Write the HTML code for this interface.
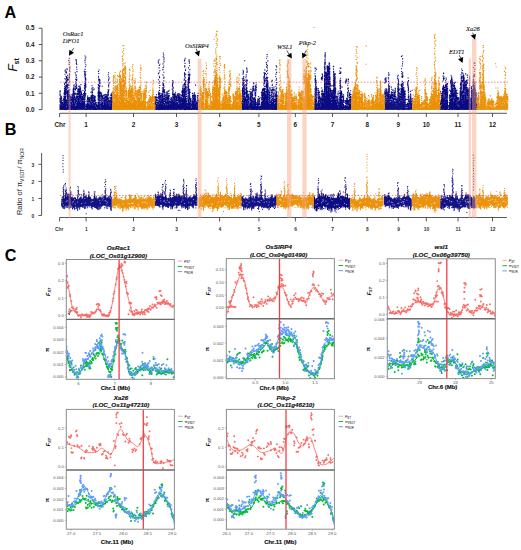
<!DOCTYPE html><html><head><meta charset="utf-8"><style>html,body{margin:0;padding:0;background:#fff;overflow:hidden}svg{display:block}text{font-family:"Liberation Sans",sans-serif}.sf text{font-family:"Liberation Serif",serif;font-style:italic}</style></head><body>
<svg width="521" height="550" viewBox="0 0 521 550">
<rect width="521" height="550" fill="#fff"/>
<text x="4.6" y="17.6" font-size="16.2" font-weight="bold">A</text>
<path stroke="#444" stroke-width="0.9" fill="none" d="M42 28.2V109.6M38.7 28.2H42M38.7 44.5H42M38.7 60.8H42M38.7 77.1H42M38.7 93.3H42M38.7 109.6H42"/>
<text x="34.6" y="30.4" font-size="6.3" font-weight="bold" text-anchor="end" fill="#222">0.5</text>
<text x="34.6" y="46.7" font-size="6.3" font-weight="bold" text-anchor="end" fill="#222">0.4</text>
<text x="34.6" y="63" font-size="6.3" font-weight="bold" text-anchor="end" fill="#222">0.3</text>
<text x="34.6" y="79.3" font-size="6.3" font-weight="bold" text-anchor="end" fill="#222">0.2</text>
<text x="34.6" y="95.5" font-size="6.3" font-weight="bold" text-anchor="end" fill="#222">0.1</text>
<text x="34.6" y="111.8" font-size="6.3" font-weight="bold" text-anchor="end" fill="#222">0.0</text>
<text transform="translate(16.8 71.6) rotate(-90)" font-size="12" font-style="italic" fill="#111">F</text>
<text transform="translate(18.9 64.4) rotate(-90)" font-size="7" font-weight="bold" fill="#111">st</text>
<path stroke="#0a0a82" stroke-width="1.0" d="M60 103.8V110M60.5 104.5V109.8M61 105.1V109.5M61.5 104.2V109.9M62 106.2V109.7M62.5 105.4V109.8M63 107.5V109.6M63.5 103.6V109.8M64 101.2V109.6M64.5 95.9V110M65 102V109.7M65.5 95.9V110.1M66 106.8V109.8M66.5 107.3V110.1M67 98.8V109.8M67.5 103.7V109.6M68 97.7V110M68.5 104.6V109.6M69 103.1V109.7M69.5 103.5V109.7M70 103.2V109.5M70.5 104.9V109.8M71 102.3V109.7M71.5 101.7V110M72 103.5V109.5M72.5 105.3V109.7M73 99V109.9M73.5 97.3V110M74 101.8V109.9M74.5 103.4V109.9M75 104.6V109.5M75.5 106.2V110M76 105.6V110M76.5 104.9V109.9M77 102V109.7M77.5 101.3V109.7M78 101V109.8M78.5 98.2V109.8M79 99.5V109.5M79.5 101.1V109.5M80 101.9V110.1M80.5 102.9V109.5M81 102.2V109.7M81.5 102V109.7M82 103.8V109.9M82.5 101.3V109.9M83 104.6V109.6M83.5 101.4V109.5M84 101V109.5M84.5 101.2V109.8M85 103.9V109.8M85.5 108.2V110M86 108.5V110.1M86.5 108.4V109.9M87 106.3V109.9M87.5 103V109.8M88 105.9V109.9M88.5 103.4V109.7M89 104.1V109.7M89.5 104.3V109.7M90 104.7V109.7M90.5 104.4V109.9M91 101.3V109.8M91.5 102V109.5M92 103.4V109.9M92.5 104.5V109.6M93 103.4V109.9M93.5 105.5V110M94 103.1V109.8M94.5 103V109.9M95 105.8V109.6M95.5 107V110M96 107.3V109.7M96.5 107.8V110M97 108.3V109.6M97.5 108V109.7M98 101.6V109.6M98.5 102V109.6M99 100.3V109.6M99.5 104.3V109.8M100 102.1V109.9M100.5 107.9V109.7M101 101.8V109.9M101.5 102.8V109.5M102 104.9V110M102.5 102V109.8M103 107.4V109.6M103.5 104.9V109.6M104 104.3V109.8M104.5 102.7V109.8M105 104V109.6M105.5 102.7V110M106 101.3V109.9M106.5 104.9V109.7M107 103.9V110M107.5 101.2V109.6M108 105.8V109.8M108.5 104.3V109.8M109 105.8V110M109.5 106V109.9M110 103.2V110M110.5 105.4V110M111 105.2V109.8M111.5 103.7V109.8M112 103.1V109.7M155 105.9V109.9M155.5 105.9V109.7M156 102V109.8M156.5 104V110M157 104.3V109.6M157.5 107.2V109.7M158 106.4V110.1M158.5 105.1V109.9M159 99.7V109.9M159.5 103.9V110.1M160 104.7V110.1M160.5 101.8V109.8M161 103.8V109.6M161.5 103.5V110M162 103.2V109.6M162.5 98.6V109.9M163 102.9V109.8M163.5 105.2V109.8M164 103V109.8M164.5 103V110.1M165 104.7V109.6M165.5 105.9V109.9M166 105.1V109.8M166.5 104.1V109.6M167 101.7V109.8M167.5 105.2V110M168 99.8V110.1M168.5 101.1V109.8M169 101V109.9M169.5 104.5V109.7M170 105.4V109.8M170.5 104.9V109.8M171 105.8V110M171.5 104.7V109.7M172 106.2V109.8M172.5 105.1V109.7M173 101.8V109.5M173.5 101.4V110M174 100.7V109.7M174.5 100.3V109.8M175 105V109.6M175.5 102.6V109.8M176 103.3V109.7M176.5 102.2V110.1M177 103.3V109.7M177.5 102.1V109.7M178 102.6V109.5M178.5 104.3V109.6M179 103.4V109.6M179.5 103.3V109.9M180 104.6V109.8M180.5 103.7V109.9M181 106.1V109.7M181.5 103V109.6M182 97.5V110.1M182.5 98.3V109.5M183 98.9V109.6M183.5 96.6V109.6M184 102.9V109.6M184.5 98.3V110.1M185 97.3V109.9M185.5 96.2V110.1M186 101.2V109.5M186.5 102.5V109.9M187 107.4V109.6M187.5 106.1V109.9M188 95.1V109.8M188.5 98.5V109.9M189 101.1V109.9M189.5 102V110M190 102.5V110M190.5 105.5V109.5M191 106.8V109.9M191.5 107.8V109.9M192 108.1V109.7M192.5 100.2V109.7M193 105.4V109.7M193.5 101.3V109.9M194 102.2V109.8M194.5 104V109.7M195 105.8V110M195.5 102.5V109.7M196 104.8V109.9M196.5 106.6V110M197 106.9V109.6M197.5 101.6V110.1M198 105.6V109.5M242 104.8V109.6M242.5 103.3V109.7M243 98V109.9M243.5 103.3V110M244 102.2V109.8M244.5 98.2V109.7M245 103.8V109.8M245.5 105.5V109.5M246 102.6V109.8M246.5 98.9V109.6M247 100V109.9M247.5 103.5V110M248 102.6V110.1M248.5 105.7V109.6M249 102.8V109.9M249.5 108.5V109.5M250 101.8V109.5M250.5 102.3V109.7M251 103.3V109.6M251.5 100.1V109.9M252 100.5V109.6M252.5 103.4V110M253 105.7V110M253.5 105.5V109.8M254 103.8V110M254.5 102.5V109.8M255 97.4V109.9M255.5 98.8V109.8M256 105.7V110.1M256.5 106V109.9M257 107.9V109.8M257.5 104.2V110M258 106.7V109.8M258.5 106.7V109.5M259 105.6V110.1M259.5 105.9V110M260 108.2V109.7M260.5 108.4V109.9M261 108.2V109.9M261.5 101.7V109.9M262 101.4V109.8M262.5 100.8V109.6M263 96V109.6M263.5 97V109.7M264 101.6V109.6M264.5 97V109.7M265 100.1V110M265.5 101.4V109.7M266 100V109.8M266.5 97.7V109.6M267 99.3V109.8M267.5 96.8V109.7M268 99V109.9M268.5 102.5V109.6M269 102V109.9M269.5 104V109.6M270 97.3V109.8M270.5 107.2V109.6M271 104.8V109.6M271.5 102.2V109.7M272 103.3V109.9M272.5 101.7V110M273 102.2V109.9M273.5 99.3V109.7M274 97.6V109.7M274.5 104.1V109.8M275 103.6V109.9M275.5 102.8V110M276 103.2V110M276.5 99.8V109.9M277 102.8V109.7M314.5 104.3V110M315 102.8V109.6M315.5 97.8V110.1M316 91V109.8M316.5 103.5V109.7M317 107.6V109.7M317.5 107.3V109.9M318 101.3V110M318.5 100.1V109.6M319 105.2V110M319.5 102.9V109.6M320 104.6V109.8M320.5 106.2V109.8M321 103.7V110M321.5 102.1V110M322 102.4V110M322.5 98.9V109.6M323 102V109.9M323.5 103.4V109.8M324 100.9V109.6M324.5 77.9V109.7M325 80.6V109.7M325.5 95.7V109.9M326 92.6V109.8M326.5 85.9V109.9M327 93.5V109.8M327.5 94V109.7M328 92V110.1M328.5 87.3V110M329 87V109.8M329.5 93.1V109.8M330 97.2V109.7M330.5 98.1V109.7M331 103.6V109.7M331.5 102.7V109.9M332 102.8V109.5M332.5 100V110M333 103.5V109.9M333.5 95.7V110M334 99.9V110M334.5 87.4V110.1M335 87.7V109.8M335.5 99.6V109.6M336 102.5V109.8M336.5 101.4V109.9M337 104.4V109.6M337.5 105.2V109.9M338 97.9V109.8M338.5 107.6V109.9M339 106.9V109.6M339.5 104.7V109.9M340 94.8V110.1M340.5 91.6V109.7M341 101.1V109.6M341.5 98.8V109.8M342 99.6V110.1M342.5 106V109.9M343 103.6V110M343.5 104V109.5M344 108.7V109.7M344.5 108.8V109.9M345 107.9V110M345.5 105.1V109.9M346 105.4V109.8M346.5 106.4V109.6M347 105.8V109.6M347.5 105.5V109.6M348 105V109.8M348.5 106.6V110.1M349 105.9V110.1M349.5 103.4V109.6M350 102.9V109.6M350.5 104V109.5M351 102.2V109.7M384.7 100.8V109.5M385.2 102.5V109.7M385.7 103.4V109.9M386.2 100.2V109.6M386.7 101.4V109.7M387.2 103.4V109.9M387.7 100.4V109.9M388.2 99.5V109.7M388.7 94.8V109.8M389.2 102.9V109.6M389.7 100.4V110M390.2 101.9V109.6M390.7 102.2V109.7M391.2 100V109.8M391.7 99.6V109.7M392.2 100.4V109.8M392.7 103.6V109.8M393.2 101.1V109.7M393.7 102.8V110M394.2 101.1V109.6M394.7 101.8V109.6M395.2 101.6V109.7M395.7 103.7V109.8M396.2 103.4V109.8M396.7 106V109.6M397.2 105.9V110M397.7 99.2V109.7M398.2 100.9V110.1M398.7 99.1V109.9M399.2 102.8V109.5M399.7 102.5V110.1M400.2 100.6V109.5M400.7 100.7V109.8M401.2 99.1V109.7M401.7 101.5V109.6M402.2 95.9V109.6M402.7 101.5V110.1M403.2 99.7V110M403.7 95.2V110M404.2 103.9V110M404.7 98.9V109.8M405.2 102.2V109.8M405.7 108V109.5M406.2 107.5V109.8M406.7 108.1V109.7M407.2 107.5V109.7M407.7 107.9V109.7M408.2 102.8V110.1M408.7 103.1V109.9M409.2 104.9V109.6M409.7 106.4V109.7M410.2 99.6V109.8M410.7 102.7V109.5M411.2 106.9V109.6M411.7 104.5V109.6M412.2 105.7V109.8M440.5 106.4V109.8M441 104.4V110M441.5 105.4V109.7M442 105.1V109.7M442.5 96.5V109.8M443 95.3V109.5M443.5 98.2V109.6M444 99.3V109.6M444.5 102.7V109.9M445 99.7V110M445.5 99.7V110M446 98.6V109.6M446.5 98.9V109.9M447 95.8V109.6M447.5 99.7V109.7M448 108.7V109.6M448.5 108.7V109.9M449 108.6V109.8M449.5 102.4V109.9M450 103.6V109.7M450.5 98.9V109.6M451 100.8V110.1M451.5 98.5V109.7M452 101.5V109.9M452.5 97.7V109.9M453 98.8V109.6M453.5 101.8V109.7M454 100.8V109.7M454.5 99V109.7M455 98V110.1M455.5 97.1V109.7M456 103.5V109.8M456.5 102.7V109.9M457 102.9V110M457.5 105.8V109.9M458 104.1V109.7M458.5 106.2V110M459 107.6V110M459.5 106.3V109.7M460 103V110.1M460.5 93.9V109.6M461 99.2V110M461.5 98.6V109.7M462 102V110M462.5 103.8V109.7M463 94.3V110M463.5 94.7V109.5M464 93.5V110.1M464.5 100.4V109.7M465 94V110M465.5 92.1V109.8M466 93.2V109.7M466.5 99.2V109.8M467 98.2V110M467.5 98.9V109.9M468 103.8V109.9M468.5 99.2V109.7M469 96.5V110M469.5 94V109.8M470 104.2V110M470.5 103.2V109.5M471 106.3V109.7M471.5 100.9V109.6M472 99.6V110M472.5 100.8V109.9M473 92.3V110M473.5 90.8V109.5M474 99V110M474.5 96.8V109.7M475 94V109.6M475.5 97.6V110M476 100.1V109.7M476.5 108.4V110"/>
<path stroke="#ea8f06" stroke-width="1.0" d="M112.5 103.2V109.7M113 100.5V110M113.5 101.4V109.7M114 100.5V110.1M114.5 102.5V109.5M115 102.2V109.8M115.5 104.2V109.8M116 104.1V109.9M116.5 102V110.1M117 103V109.9M117.5 98.9V109.8M118 100.1V109.8M118.5 105.2V109.9M119 104.1V109.8M119.5 99.8V109.9M120 92.9V109.8M120.5 101.5V109.9M121 101.2V109.8M121.5 92.4V109.9M122 97.4V109.8M122.5 97.7V110.1M123 95.7V109.6M123.5 98.1V109.7M124 96.8V109.5M124.5 102V109.9M125 107.5V109.5M125.5 102.2V109.7M126 98V109.9M126.5 101.3V109.6M127 106.6V109.5M127.5 104.6V110.1M128 102.6V109.7M128.5 101V109.6M129 100.9V109.8M129.5 98.8V110M130 99.7V110M130.5 101.3V109.8M131 98.5V109.6M131.5 102.8V109.8M132 102.8V109.7M132.5 103V109.7M133 105.4V109.5M133.5 101.7V109.5M134 99.4V109.6M134.5 99.4V110M135 107.1V109.7M135.5 104.1V110.1M136 102.3V109.6M136.5 105.4V109.9M137 100.1V109.5M137.5 103.5V109.8M138 100.1V109.8M138.5 96.8V109.5M139 97.6V110.1M139.5 97.8V110M140 97.3V109.6M140.5 100.8V110M141 101.4V109.7M141.5 101.9V109.7M142 105V110M142.5 105.5V109.8M143 99.5V109.8M143.5 100V110M144 103.3V110.1M144.5 103.6V109.9M145 100.8V110.1M145.5 100.7V109.5M146 108.4V110.1M146.5 108.7V110M147 105.7V109.9M147.5 106.9V109.8M148 105.6V109.8M148.5 104.6V109.9M149 104.3V109.5M149.5 103.7V109.6M150 104.7V109.7M150.5 105.9V110.1M151 103.6V109.6M151.5 105.7V109.5M152 105.7V109.6M152.5 105.4V109.6M153 103.1V109.6M153.5 107.7V109.6M154 103.3V109.6M154.5 105.4V110.1M155 102.6V109.7M198.5 106.5V109.9M199 105.2V109.7M199.5 103.9V109.6M200 97.1V110M200.5 96.7V109.8M201 103.2V109.6M201.5 97.7V109.6M202 101.6V109.6M202.5 101.2V109.9M203 100.9V109.7M203.5 101V109.8M204 102.9V109.7M204.5 108.1V109.6M205 108.5V109.9M205.5 98.6V110.1M206 96.8V109.8M206.5 99.5V109.7M207 98.8V109.5M207.5 104.6V109.6M208 102.3V109.6M208.5 107.9V109.7M209 108.1V109.5M209.5 108V109.9M210 103.2V109.6M210.5 104.8V109.6M211 105.4V110M211.5 106.2V109.6M212 106V109.6M212.5 102V109.8M213 100.5V110.1M213.5 101.5V109.7M214 100.7V110M214.5 98.9V109.6M215 90.2V109.7M215.5 93.2V110M216 92.1V110M216.5 87.8V110M217 99.9V110.1M217.5 98.2V109.6M218 98.5V109.7M218.5 102.4V110.1M219 101.4V109.9M219.5 91.3V109.6M220 100.1V109.9M220.5 107.8V109.7M221 107V109.6M221.5 107.6V109.6M222 105.8V109.8M222.5 102.5V109.6M223 102.9V109.9M223.5 102.7V109.8M224 104V110M224.5 101.9V109.6M225 99V109.7M225.5 101V109.6M226 102.7V109.5M226.5 103.8V110M227 99.4V110M227.5 104V109.5M228 105.7V109.7M228.5 103V109.6M229 98.9V110M229.5 103.6V109.8M230 104.8V109.7M230.5 103.9V109.6M231 107.9V109.8M231.5 106.9V109.8M232 107V109.8M232.5 107.4V110M233 101.7V109.8M233.5 100.5V109.6M234 104.8V109.6M234.5 106V109.6M235 105.7V109.6M235.5 104.1V109.5M236 104.2V109.5M236.5 101.7V110M237 104.7V109.9M237.5 102.2V109.7M238 107.3V109.9M238.5 104.8V109.7M239 101.3V110M239.5 103.6V109.8M240 100.4V109.8M240.5 102.7V109.9M241 103V109.7M241.5 101.6V110.1M277.5 105.4V110M278 104V109.6M278.5 103.3V109.7M279 106.7V109.7M279.5 107.1V109.8M280 105.5V109.9M280.5 103.5V109.8M281 103.3V109.8M281.5 104.5V109.6M282 103.7V110M282.5 99.9V109.8M283 105.4V110.1M283.5 104.8V109.8M284 104.7V109.9M284.5 107.2V109.7M285 108.4V109.7M285.5 100.4V110M286 103.7V110M286.5 100.3V109.9M287 99.6V109.6M287.5 101.5V109.7M288 104.2V109.5M288.5 93V110M289 100.1V109.9M289.5 99.8V110.1M290 99.4V109.6M290.5 104.9V109.7M291 101.5V109.6M291.5 99.8V109.8M292 102.4V109.8M292.5 102.6V109.9M293 105.3V109.8M293.5 102.6V110M294 101V109.9M294.5 102.2V109.7M295 108.8V109.9M295.5 102.2V109.7M296 102.2V109.9M296.5 104.3V109.6M297 109V109.7M297.5 108.7V109.8M298 105.2V109.6M298.5 104.2V109.6M299 105.1V109.8M299.5 104.6V109.5M300 101.4V109.8M300.5 101.3V110.1M301 102.4V109.7M301.5 101.3V110M302 102.5V110M302.5 104.3V110M303 103.1V109.6M303.5 106.8V110M304 104.2V110M304.5 102.3V109.8M305 95.8V110.1M305.5 98.9V109.8M306 90.6V110M306.5 86.7V109.9M307 99.5V109.8M307.5 96.3V110M308 94.7V109.8M308.5 84.8V109.6M309 86.4V109.7M309.5 96.3V109.8M310 94.6V110M310.5 96.7V109.9M311 99.2V110.1M311.5 102.9V109.8M312 105.8V109.6M312.5 105.6V109.7M313 106.1V110M313.5 107.1V109.8M314 104.6V110M351.5 104V109.8M352 101.9V109.8M352.5 104.7V109.9M353 103.6V109.9M353.5 103.2V109.8M354 103.7V109.8M354.5 100.3V109.9M355 93.1V109.6M355.5 92.3V110.1M356 102V109.7M356.5 96.2V109.9M357 101.9V109.8M357.5 102.3V110.1M358 100.2V109.9M358.5 103.8V109.6M359 102.5V109.6M359.5 98V109.9M360 102.5V109.6M360.5 106.1V109.6M361 103.9V109.7M361.5 100.1V109.8M362 102.1V109.6M362.5 100.3V109.7M363 107.2V109.5M363.5 106.7V109.6M364 106.8V109.9M364.5 102.7V109.8M365 102.9V109.9M365.5 106.4V109.5M366 106.1V109.7M366.5 107V109.7M367 107V109.7M367.5 108.3V110.1M368 106.9V110.1M368.5 106.2V109.6M369 106.3V109.6M369.5 107.3V109.5M370 108.5V109.8M370.5 107.8V109.7M371 105.2V110M371.5 105.6V109.8M372 105.6V109.8M372.5 103.8V109.5M373 100.5V109.9M373.5 104.2V109.7M374 106.3V109.7M374.5 107.2V109.6M375 107.6V109.9M375.5 103.8V109.6M376 105.2V109.5M376.5 102.8V109.8M377 101.7V110.1M377.5 101.7V110M378 96.3V109.5M378.5 103.2V109.6M379 104.3V110M379.5 100.8V109.8M380 101V110M380.5 93.3V110M381 99.5V109.8M381.5 102.4V109.9M382 102.8V109.6M382.5 103.6V110M383 103.3V109.9M383.5 104.6V109.9M384 101.3V109.9M384.5 103.7V109.5M412.5 105.3V109.8M413 105V109.8M413.5 106.8V109.9M414 108.2V109.7M414.5 103.6V110M415 105.3V110.1M415.5 101V109.6M416 99.8V109.8M416.5 104.1V109.5M417 103.5V110M417.5 100.7V109.9M418 105.1V109.8M418.5 102V109.8M419 103.1V109.5M419.5 101.3V110M420 107.4V109.7M420.5 108.1V109.8M421 108.3V109.8M421.5 102.3V109.7M422 107.5V110.1M422.5 106.8V109.7M423 107.2V109.6M423.5 106.3V109.7M424 106.1V110.1M424.5 106.3V109.8M425 100.9V110.1M425.5 99.4V110M426 101.7V110M426.5 101.5V109.8M427 102.2V109.8M427.5 102.9V109.7M428 107.2V109.9M428.5 107.1V109.8M429 108.1V109.8M429.5 104.4V109.7M430 105.4V109.9M430.5 105.1V109.9M431 103.9V109.5M431.5 98.6V109.8M432 104.2V110M432.5 100.8V109.8M433 99.9V109.9M433.5 97.5V109.9M434 98.9V109.9M434.5 91.4V109.9M435 93.1V109.8M435.5 100.9V109.8M436 94.7V109.9M436.5 101.8V109.5M437 106.3V109.5M437.5 105.3V109.6M438 101V109.5M438.5 95.9V109.6M439 98.8V109.6M439.5 104.2V109.9M440 103.9V109.6M476.7 104.4V109.7M477.2 104.6V110M477.7 106.7V109.8M478.2 102.5V109.9M478.7 101.7V109.7M479.2 108.9V109.8M479.7 108.2V109.7M480.2 95.2V109.6M480.7 100.5V110.1M481.2 103.6V109.8M481.7 94.9V109.8M482.2 102V109.7M482.7 103.3V110M483.2 95.7V109.7M483.7 95.3V109.9M484.2 99.7V109.9M484.7 99.3V109.8M485.2 103.9V109.6M485.7 105.8V109.6M486.2 108.3V110.1M486.7 108.7V110M487.2 105.7V110M487.7 107.6V109.8M488.2 107.4V109.6M488.7 104.1V109.9M489.2 106.7V110M489.7 105.6V109.5M490.2 105.7V110.1M490.7 106.9V109.9M491.2 106.4V109.7M491.7 107.3V109.8M492.2 106.9V109.8M492.7 107.3V109.8M493.2 106.2V109.8M493.7 107.7V109.7M494.2 109V109.9M494.7 109.2V109.6M495.2 108.9V110M495.7 107V110M496.2 105.8V109.9M496.7 104.9V109.7M497.2 105.5V109.8M497.7 105.7V110M498.2 104.5V109.5M498.7 101.3V109.6M499.2 102.2V109.9M499.7 103.6V109.6M500.2 102.7V110M500.7 104.9V109.5M501.2 105.9V110M501.7 105.9V109.8M502.2 104.1V109.7M502.7 104.5V109.6M503.2 105.6V109.8M503.7 102.4V109.7M504.2 103.5V109.5M504.7 104.4V110M505.2 99.4V110.1M505.7 103V109.9M506.2 101V109.9M506.7 101.6V109.5M507.2 102.9V109.7M507.7 103.2V109.9"/>
<path stroke="#0a0a82" stroke-width="1.1" d="M59.7 102.3h1.1M59.4 101.2h1.1M59.5 99.9h1.1M59.4 98.5h1.1M59.7 97h1.1M59.6 95.4h1.1M59.6 94.6h1.1M59.5 93.7h1.1M59.4 92.2h1.1M59.6 90.9h1.1M59.7 91h1.1M59.6 91.4h1.1M60.1 103.1h1.1M60 101.4h1.1M60 99.5h1.1M60.5 103.7h1.1M60.6 102.4h1.1M60.6 101.5h1.1M60.5 100.5h1.1M60.5 98.6h1.1M60.4 96.6h1.1M60.7 96.4h1.1M60.6 97.6h1.1M61.2 102.8h1.1M61 100.9h1.1M60.9 99.3h1.1M61.1 97.7h1.1M61 98.2h1.1M61.5 104.8h1.1M61.6 103.7h1.1M61.7 102.4h1.1M61.5 102.8h1.1M62.2 103.6h1.1M62 102.5h1.1M62 100.2h1.1M62.6 106.5h1.1M62.6 105.7h1.1M62.5 104.7h1.1M62.6 103.7h1.1M62.5 102.2h1.1M63.1 101.7h1.1M63 100.2h1.1M63 98.9h1.1M62.9 99.8h1.1M63.6 100.2h1.1M63.7 98.8h1.1M63.4 97.2h1.1M63.5 96.2h1.1M63.7 94.6h1.1M63.5 93.1h1.1M64 94.5h1.1M63.9 93.6h1.1M64 92.4h1.1M63.9 90.6h1.1M64.2 89.8h1.1M63.9 88.4h1.1M64.2 83.4h1.1M64.1 88.4h1.1M64.6 100.5h1.1M64.6 99h1.1M64.6 97.2h1.1M64.5 96.2h1.1M64.6 94.9h1.1M64.5 93.9h1.1M64.7 92.2h1.1M64.5 90.5h1.1M64.6 89.4h1.1M64.7 88.1h1.1M65 94.7h1.1M65 93.6h1.1M65.1 92.6h1.1M65.2 90.7h1.1M65.1 89.3h1.1M64.9 87.5h1.1M65.5 105h1.1M65.7 103.3h1.1M65.5 102h1.1M65.6 100h1.1M66 105.8h1.1M66.1 104.2h1.1M66 102.7h1.1M65.9 100.8h1.1M65.9 101.4h1.1M66.1 93.3h1.1M66.5 97h1.1M66.5 95.9h1.1M66.6 94.8h1.1M66.5 93.7h1.1M66.7 92.7h1.1M66.5 91.5h1.1M66.6 88.3h1.1M66.7 88.1h1.1M67.2 102.3h1.1M67.1 100.6h1.1M66.9 98.8h1.1M67.1 97.9h1.1M66.9 96.9h1.1M67.1 95.3h1.1M67.1 93.9h1.1M66.9 92.1h1.1M67.6 96.4h1.1M67.6 95h1.1M67.5 93.3h1.1M67.5 91.9h1.1M67.6 90h1.1M67.7 84.9h1.1M67.9 103.2h1.1M67.9 102.2h1.1M68.1 100.6h1.1M67.9 98.7h1.1M68.1 97h1.1M68.2 96h1.1M68 94.1h1.1M68.6 101.1h1.1M68.5 100.1h1.1M68.5 98.7h1.1M68.5 97.6h1.1M68.4 96h1.1M68.5 94.5h1.1M69.2 102.4h1.1M69.2 101.4h1.1M69.2 100.4h1.1M69 99.5h1.1M69 97.6h1.1M69.1 95.9h1.1M69.1 95.9h1.1M69.4 101.9h1.1M69.6 100h1.1M69.4 98.2h1.1M69.4 96.4h1.1M70.2 103.4h1.1M69.9 102.3h1.1M70 100.8h1.1M69.9 99.9h1.1M70 99.1h1.1M70 97.9h1.1M70.4 100.3h1.1M70.6 99.5h1.1M70.6 97.5h1.1M70.5 96.4h1.1M70.6 94.8h1.1M71 100.5h1.1M71 99.4h1.1M71.1 97.6h1.1M71.5 101.7h1.1M71.6 100.8h1.1M71.6 99.5h1.1M71.6 97.6h1.1M71.4 98h1.1M72 104.1h1.1M72 102.1h1.1M72.2 101.3h1.1M72 100.2h1.1M71.9 99h1.1M72.1 97.9h1.1M72.1 96.8h1.1M72.1 95.9h1.1M72.1 94.9h1.1M72 94.9h1.1M72.5 97.1h1.1M72.7 95.9h1.1M72.6 95h1.1M72.4 93.4h1.1M72.7 91.6h1.1M72.6 90h1.1M72.6 90.5h1.1M72.7 89.2h1.1M73.2 95.8h1.1M73.1 94.2h1.1M72.9 93.1h1.1M73 92.2h1.1M73.2 91.2h1.1M73.1 89.8h1.1M73.1 88.2h1.1M73 88.7h1.1M73.5 100.1h1.1M73.5 99.2h1.1M73.5 97.5h1.1M73.7 95.9h1.1M73.5 94.5h1.1M73.6 93.1h1.1M73.6 91.4h1.1M73.4 89.8h1.1M73.5 88.8h1.1M73.5 87.1h1.1M73.4 85.6h1.1M73.5 84.8h1.1M74.1 102h1.1M74.1 100.1h1.1M73.9 98.9h1.1M74 97.5h1.1M74.1 96.6h1.1M74.2 94.6h1.1M74.2 93.4h1.1M74.5 102.9h1.1M74.6 101.6h1.1M74.5 100.1h1.1M74.5 99.1h1.1M74.7 97.7h1.1M74.4 96.5h1.1M74.6 94.5h1.1M74.6 93.2h1.1M74.5 93.1h1.1M75.1 104.3h1.1M75 102.5h1.1M75 101.2h1.1M75.1 99.2h1.1M75.2 93.3h1.1M75.6 104.8h1.1M75.4 103.2h1.1M75.5 101.2h1.1M75.6 100.1h1.1M75.5 98.3h1.1M76 103.2h1.1M76.1 101.5h1.1M75.9 100.4h1.1M75.9 98.5h1.1M76 97.1h1.1M76.1 96h1.1M76 94h1.1M76.5 100.7h1.1M76.5 99.7h1.1M76.5 97.8h1.1M76.7 96.8h1.1M76.5 94.8h1.1M76.5 93.8h1.1M77 99.6h1.1M77.2 98.7h1.1M77.1 97.5h1.1M77 96.4h1.1M77 94.7h1.1M77 93.2h1.1M77.1 91.6h1.1M77.2 89.9h1.1M77.7 99.3h1.1M77.5 98.3h1.1M77.6 96.6h1.1M77.5 94.6h1.1M77.7 93.8h1.1M77.6 91.8h1.1M77.5 90.5h1.1M77.5 88.7h1.1M78.1 96.3h1.1M78.1 94.7h1.1M78.1 93.3h1.1M78.1 92.5h1.1M78.2 91.4h1.1M78 89.8h1.1M78 88.9h1.1M77.9 86.2h1.1M78.5 98h1.1M78.6 96.9h1.1M78.5 96.1h1.1M78.7 94.8h1.1M78.7 93.2h1.1M78.5 91.8h1.1M78.7 90.7h1.1M78.5 89.1h1.1M79 99.8h1.1M79.1 98.4h1.1M79 96.8h1.1M78.9 95.5h1.1M79.2 94.3h1.1M79 93.5h1.1M79.1 92.4h1.1M79 91.4h1.1M79.2 90.3h1.1M79.1 89.3h1.1M79.2 87.8h1.1M79.2 86.4h1.1M79.5 100.6h1.1M79.4 98.6h1.1M79.4 97.8h1.1M79.7 96.5h1.1M79.6 94.6h1.1M79.7 92.7h1.1M79.5 91.5h1.1M79.6 89.5h1.1M79.6 88.7h1.1M79.5 87.4h1.1M79.4 86.1h1.1M80.2 101.6h1.1M80.1 100.1h1.1M80.1 98.8h1.1M80.1 97.7h1.1M80.1 96.8h1.1M80.1 95.7h1.1M80 94.4h1.1M80 92.7h1.1M80 91.1h1.1M80 89.6h1.1M80 88.3h1.1M80.4 100.2h1.1M80.6 98.5h1.1M80.5 96.6h1.1M80.6 94.9h1.1M80.7 93.2h1.1M80.6 92.3h1.1M80.6 91.4h1.1M80.5 84.5h1.1M81.2 100.7h1.1M81.1 99.6h1.1M81.1 98h1.1M81.1 96.2h1.1M81 95h1.1M81.1 93.8h1.1M81 92.9h1.1M81.4 102.4h1.1M81.4 101h1.1M81.6 100.2h1.1M81.5 99.1h1.1M81.7 97.1h1.1M81.9 99.7h1.1M82 97.9h1.1M82 96.5h1.1M82 94.8h1.1M82.7 103.4h1.1M82.4 102.4h1.1M82.5 101.3h1.1M82.6 99.9h1.1M82.5 99h1.1M82.4 98.1h1.1M82.5 96.3h1.1M82.4 90.5h1.1M83 99.6h1.1M83.1 98.7h1.1M83.1 97.7h1.1M83.1 96h1.1M83.1 95.2h1.1M83 93.5h1.1M83.6 99.1h1.1M83.5 97.3h1.1M83.6 96h1.1M83.4 95.1h1.1M83.5 93.7h1.1M83.5 94.2h1.1M83.9 100.3h1.1M84 98.7h1.1M84 97.5h1.1M84 95.6h1.1M84 94.1h1.1M84.2 92.8h1.1M84 91.5h1.1M84.4 103h1.1M84.5 101.5h1.1M84.4 99.7h1.1M84.4 98.9h1.1M84.5 97.1h1.1M84.7 95.6h1.1M84.5 93.9h1.1M84.4 92.7h1.1M85 106.4h1.1M85.7 107.6h1.1M85.7 106.3h1.1M85.7 104.2h1.1M85.7 104.6h1.1M86 107.4h1.1M85.9 105.9h1.1M86 106.8h1.1M86.2 106.8h1.1M86.5 105.1h1.1M86.6 103.3h1.1M86.5 101.7h1.1M86.5 100.6h1.1M86.5 100.2h1.1M87.2 101.3h1.1M87 99.5h1.1M87 98.6h1.1M87.1 97.4h1.1M87.1 96h1.1M87.6 104.2h1.1M87.4 102.8h1.1M87.5 101.4h1.1M87.4 99.5h1.1M87.7 97.6h1.1M88.1 101.6h1.1M88 100h1.1M88.1 98.2h1.1M88.2 98.8h1.1M88.6 103.2h1.1M88.5 101.3h1.1M88.6 100.1h1.1M88.4 99.4h1.1M89 103.2h1.1M89.1 101.9h1.1M89.1 100.8h1.1M89.2 99.9h1.1M89 98h1.1M89.2 97.6h1.1M89.2 99.4h1.1M89.5 103.2h1.1M89.5 101.5h1.1M90.1 103.3h1.1M90.2 102.1h1.1M90.2 100.2h1.1M90.1 98.5h1.1M90.5 100.3h1.1M90.4 98.7h1.1M90.5 97.9h1.1M90.5 97h1.1M90.6 95.9h1.1M90.5 96.2h1.1M90.4 92.3h1.1M91 100.4h1.1M90.9 99.5h1.1M91 97.9h1.1M91.2 96.1h1.1M91.6 102.2h1.1M91.7 100.9h1.1M91.5 99.2h1.1M91.4 97.3h1.1M91.4 97.3h1.1M91.7 97h1.1M92.1 103h1.1M92.1 101.4h1.1M92 100.4h1.1M91.9 99.3h1.1M92.1 97.4h1.1M91.9 95.7h1.1M92 92.5h1.1M92.4 102.4h1.1M92.4 101.3h1.1M92.6 100.1h1.1M92.7 98.5h1.1M92.5 96.8h1.1M92.5 95.3h1.1M92.5 87.8h1.1M92.7 90h1.1M93.2 104.5h1.1M93 103.5h1.1M93 102h1.1M93.2 100.1h1.1M93.2 98.2h1.1M93.2 96.9h1.1M93.2 95.5h1.1M93.5 101.6h1.1M93.6 100.6h1.1M93.7 99.7h1.1M93.4 98.7h1.1M93.7 97.8h1.1M93.6 89.1h1.1M94.1 101.4h1.1M94.1 100.5h1.1M94.1 99.3h1.1M94.2 97.5h1.1M94.2 96.6h1.1M93.9 97h1.1M94.6 104h1.1M94.6 102.4h1.1M94.5 100.9h1.1M94.4 99.9h1.1M94.5 98.2h1.1M94.5 97h1.1M94.5 96.2h1.1M94.7 96.9h1.1M95 106.2h1.1M95.1 104.8h1.1M95.1 103.6h1.1M95.1 102.6h1.1M95.1 100.4h1.1M95.5 105.9h1.1M95.4 104.2h1.1M95.5 102.9h1.1M96 106.4h1.1M96 104.6h1.1M96 102.7h1.1M96.6 107.4h1.1M96.6 105.7h1.1M96.5 105.9h1.1M97.2 107.1h1.1M97 106.2h1.1M97.1 105.6h1.1M97.6 100h1.1M97.6 99.1h1.1M97.7 97.7h1.1M97.6 96.3h1.1M97.5 95.2h1.1M97.5 93.5h1.1M98 100.1h1.1M98 99.1h1.1M98.2 97.5h1.1M97.9 96.5h1.1M98 95.4h1.1M97.9 93.9h1.1M98 92.8h1.1M98.4 99.3h1.1M98.5 98.3h1.1M98.5 97.2h1.1M98.7 96.2h1.1M98.7 95.1h1.1M98.4 93.7h1.1M98.5 91.9h1.1M99 102.7h1.1M99.2 101.1h1.1M99.1 99.7h1.1M99 98h1.1M99.1 97h1.1M99.1 95.1h1.1M99.2 93.5h1.1M99.6 100.9h1.1M99.5 100h1.1M99.6 98.3h1.1M99.5 96.7h1.1M99.5 95.4h1.1M99.5 93.9h1.1M99.7 92.2h1.1M99.9 106h1.1M99.9 104.5h1.1M100.6 100.2h1.1M100.5 98.8h1.1M100.5 96.9h1.1M100.5 95.2h1.1M100.4 93.5h1.1M100.4 92.6h1.1M100.5 92.8h1.1M101.1 101.5h1.1M101 100.3h1.1M101.1 99.2h1.1M101.1 97.3h1.1M101.1 96.3h1.1M101 95h1.1M101.1 94h1.1M101.6 103.3h1.1M101.5 101.5h1.1M101.6 99.5h1.1M101.6 98h1.1M101.6 96.6h1.1M101.6 95.5h1.1M101.6 86.2h1.1M102 100.3h1.1M102 98.7h1.1M102.1 97.3h1.1M102.2 96.4h1.1M102.7 106.2h1.1M102.5 104.7h1.1M102.4 105h1.1M102.6 97.8h1.1M103 103.1h1.1M103.1 101.8h1.1M103.1 100.3h1.1M102.9 98.3h1.1M103.2 95.6h1.1M103.1 98.8h1.1M103.7 102.9h1.1M103.5 101.5h1.1M103.4 100.4h1.1M103.4 99h1.1M103.6 94.6h1.1M104.2 101.9h1.1M104.1 100.5h1.1M104.2 98.9h1.1M104 97.7h1.1M104.4 102.4h1.1M104.6 101.6h1.1M104.6 99.6h1.1M104.5 98.7h1.1M104.4 97h1.1M104.5 95.9h1.1M105 100.8h1.1M105 99.6h1.1M105 98.8h1.1M105 97.5h1.1M105.2 96.3h1.1M105 94.5h1.1M105.5 100.1h1.1M105.6 99h1.1M105.6 97.4h1.1M105.6 96.6h1.1M105.6 94.7h1.1M106.1 104.1h1.1M106.1 102.7h1.1M106.1 101.8h1.1M106 100.4h1.1M106.1 99.4h1.1M106.2 97.8h1.1M105.9 96.9h1.1M106.1 95.3h1.1M106.7 103h1.1M106.7 102.2h1.1M106.5 101.2h1.1M106.7 99.6h1.1M106.4 98.5h1.1M106.6 97.7h1.1M106.7 96.2h1.1M106.4 95h1.1M107.2 99.7h1.1M106.9 98.4h1.1M107.1 97.1h1.1M107.2 95.2h1.1M107.1 92.2h1.1M107.7 104.2h1.1M107.5 102.4h1.1M107.5 101.4h1.1M107.6 100.3h1.1M107.6 98.9h1.1M107.5 97h1.1M107.6 95.3h1.1M108.2 103.2h1.1M107.9 101.5h1.1M108.1 100.7h1.1M108 101.2h1.1M107.9 98.2h1.1M108.5 104.9h1.1M108.5 103.4h1.1M108.4 101.8h1.1M108.5 100h1.1M109.1 104.8h1.1M109.1 102.9h1.1M109 101.4h1.1M109.4 102.4h1.1M109.6 100.6h1.1M109.5 98.7h1.1M109.5 97.4h1.1M110 104.6h1.1M110.1 103.3h1.1M110.2 101.5h1.1M110.1 100.6h1.1M110.2 98.9h1.1M110.2 98.5h1.1M110.1 95.1h1.1M110.6 103.9h1.1M110.7 102.2h1.1M110.4 101.1h1.1M110.6 99.8h1.1M110.4 98.1h1.1M111 102.8h1.1M111 101.4h1.1M111 99.6h1.1M111 98.2h1.1M110.9 97.1h1.1M111 95.4h1.1M111 93.8h1.1M110.9 94h1.1M111.5 102.2h1.1M111.5 101.4h1.1M111.4 99.9h1.1M111.7 98.8h1.1M111.6 97.3h1.1M111.7 96.3h1.1M111.4 95.1h1.1M111.7 92.3h1.1M65.4 92.1h1.1M64.1 91.8h1.1M64.2 91.3h1.1M64.8 91.7h1.1M65.4 90.4h1.1M64.9 89.8h1.1M64.2 90.2h1.1M64.8 89h1.1M65 87.7h1.1M64.7 87.4h1.1M65.4 86.4h1.1M64.1 86.2h1.1M65.3 85.6h1.1M64.1 84.5h1.1M65 82.1h1.1M65.4 79.9h1.1M64.3 78.8h1.1M65.4 76.5h1.1M64.5 74.2h1.1M65.1 72.2h1.1M64.5 71h1.1M64.8 70h1.1M65.9 92h1.1M66 91.7h1.1M66.9 91.3h1.1M66.9 91h1.1M67.3 90.7h1.1M67.3 91h1.1M65.9 89.5h1.1M65.8 89.9h1.1M66.8 88.3h1.1M66.3 88.6h1.1M66.8 87.3h1.1M66 86.9h1.1M66.6 86.2h1.1M67.2 86h1.1M65.9 85.3h1.1M67.2 85.2h1.1M66.5 84.6h1.1M67.3 84.2h1.1M65.8 83.3h1.1M66 82.3h1.1M66.2 82h1.1M66.3 81.5h1.1M67.3 80.2h1.1M66.2 80.6h1.1M67 79.6h1.1M67.4 79.1h1.1M66.3 78.4h1.1M65.7 78.8h1.1M66 77.5h1.1M67.3 77.2h1.1M65.9 76.6h1.1M67 75.3h1.1M66 73h1.1M65.8 71.9h1.1M66.5 69.8h1.1M66.5 68.8h1.1M68.4 96.6h1.1M69 95.6h1.1M68.8 94.4h1.1M68.2 93.7h1.1M68.6 92.5h1.1M68.2 91.4h1.1M68.6 90.3h1.1M69.2 89.7h1.1M68.2 87.8h1.1M68.7 85.2h1.1M68.5 82.6h1.1M69.1 81.3h1.1M68.3 79.6h1.1M68.9 77.9h1.1M68.8 76.9h1.1M68.8 75.1h1.1M69 73.9h1.1M69.2 71.4h1.1M69 69.9h1.1M69.1 68.2h1.1M69.2 67.1h1.1M68.7 64.4h1.1M68.8 62.4h1.1M68.2 60.5h1.1M68.8 58.3h1.1M75.1 90h1.1M74.8 89.8h1.1M74.7 88.8h1.1M75.9 88.5h1.1M75.7 88.2h1.1M75.6 88.4h1.1M76.2 87.5h1.1M74.9 86.9h1.1M75.6 86.7h1.1M75.4 86.2h1.1M75.7 86.6h1.1M75.7 85.5h1.1M76.1 84.8h1.1M75.4 83.9h1.1M75.4 83h1.1M75.3 81.8h1.1M75.3 81.8h1.1M76.1 80.5h1.1M76.2 79.4h1.1M75.6 79.8h1.1M75.1 79.3h1.1M75.8 77.5h1.1M75.6 75.9h1.1M75.4 74.8h1.1M74.7 72.9h1.1M76.4 71.6h1.1M76.3 69.2h1.1M76.1 67.1h1.1M76.2 64.5h1.1M75.8 63.4h1.1M75.9 61.9h1.1M75.6 60.4h1.1M75.5 59.6h1.1M84.7 96h1.1M84.6 95.9h1.1M84.2 94.7h1.1M84.8 94.4h1.1M85.3 93.7h1.1M84.2 93.7h1.1M84 92.7h1.1M84 92.5h1.1M84.2 91.9h1.1M83.9 91.9h1.1M84.7 90.7h1.1M84.8 90.4h1.1M84.5 89.6h1.1M84.7 89.5h1.1M84.1 88.8h1.1M84.6 88.6h1.1M83.8 87.7h1.1M85.1 87.5h1.1M84.5 86.8h1.1M85.3 86.6h1.1M84 85.6h1.1M85.1 85.6h1.1M84.4 85h1.1M84.9 84.6h1.1M85.3 84.2h1.1M84.3 83.5h1.1M84.8 83.6h1.1M85.1 82.3h1.1M84.9 82.6h1.1M84.5 81.2h1.1M85.2 80.1h1.1M85.1 79.6h1.1M84.7 78.9h1.1M85.3 79h1.1M85 78.1h1.1M84.4 77h1.1M84.5 77.3h1.1M84.4 76.2h1.1M84.4 76h1.1M85.1 75.1h1.1M84.5 74.8h1.1M84 74.3h1.1M84.7 73.9h1.1M84.3 73h1.1M85.3 71.8h1.1M84.4 72.2h1.1M83.8 71.4h1.1M84.5 69.4h1.1M85 66.7h1.1M85.3 64.8h1.1M84.6 62.8h1.1M84.4 60.6h1.1M84.7 58.9h1.1M85.3 57.3h1.1M84.5 56h1.1M91.6 99h1.1M91.4 98.3h1.1M91.6 97.5h1.1M91.9 96.4h1.1M91.5 95.2h1.1M91.7 94.3h1.1M91.4 93h1.1M91.9 92h1.1M91.4 91.3h1.1M91.9 90h1.1M91.2 89h1.1M91.7 88h1.1M91.5 85.8h1.1M99.4 96.5h1.1M97.9 95.6h1.1M98.6 95.6h1.1M98 94.9h1.1M98.3 93.9h1.1M97.7 92.8h1.1M99.1 92.6h1.1M97.7 91.7h1.1M99.2 91.8h1.1M98 90.7h1.1M98.6 90.4h1.1M98.6 89.6h1.1M98.4 88.6h1.1M97.9 88.9h1.1M97.8 87.9h1.1M98.6 88.2h1.1M99.1 86.9h1.1M97.7 87.2h1.1M98.9 86.1h1.1M98 85.8h1.1M99.3 85.4h1.1M98.3 85.4h1.1M97.7 84.5h1.1M99.4 83.5h1.1M98.8 83.3h1.1M99.3 82.9h1.1M99.3 82.1h1.1M98.7 81.3h1.1M99.4 80.3h1.1M98.4 80.5h1.1M98.2 79.6h1.1M99.1 79.3h1.1M98 77.9h1.1M98 76.2h1.1M98.2 73.5h1.1M97.9 71.5h1.1M98.5 70h1.1M107.9 95.2h1.1M107.4 94.9h1.1M107.8 94.1h1.1M107.6 93.9h1.1M107.4 93.3h1.1M107.6 92.5h1.1M107.7 91.8h1.1M108 91.1h1.1M107.6 89.9h1.1M108.4 89.8h1.1M107.6 89.7h1.1M108.1 87h1.1M108 85.6h1.1M108.3 84.3h1.1M108.6 82.9h1.1M107.9 80.8h1.1M108.2 79.4h1.1M108.6 78h1.1M108.1 76.8h1.1M107.7 74.8h1.1M108 72.7h1.1M154.6 104.5h1.1M154.4 103.4h1.1M154.7 101.4h1.1M154.5 100.5h1.1M154.5 98.9h1.1M154.6 98h1.1M154.4 96.9h1.1M154.9 103.9h1.1M155.1 102.8h1.1M154.9 101.8h1.1M154.9 100.9h1.1M155.1 99.5h1.1M155 98.5h1.1M155 96.8h1.1M155.2 97h1.1M155.5 100.5h1.1M155.6 99.1h1.1M155.4 97.5h1.1M156.1 102.2h1.1M155.9 100.4h1.1M156.1 99h1.1M156.2 97.4h1.1M155.9 97h1.1M156 94.7h1.1M156.7 102.5h1.1M156.4 101h1.1M156.6 99.3h1.1M156.7 97.4h1.1M156.5 97.2h1.1M156.9 106h1.1M157.2 104.9h1.1M157.1 103.6h1.1M156.9 100.5h1.1M157.2 97.8h1.1M157.6 104.6h1.1M157.6 103.5h1.1M157.5 102.4h1.1M158 103.3h1.1M158.1 102.1h1.1M158.2 100.3h1.1M158.1 98.4h1.1M158.1 96.5h1.1M158.2 94.7h1.1M158 93.8h1.1M158.5 98h1.1M158.4 97.2h1.1M158.7 95.3h1.1M158.5 94.5h1.1M158.5 92.9h1.1M159.2 102.3h1.1M159.2 101h1.1M159 99.3h1.1M159.1 97.4h1.1M159.1 96.5h1.1M159.1 94.7h1.1M158.9 94.2h1.1M159.6 103.6h1.1M159.6 101.7h1.1M159.6 99.9h1.1M159.5 98.4h1.1M159.4 96.9h1.1M159.7 95.9h1.1M160 100h1.1M160.1 99h1.1M160 97.2h1.1M160.2 95.4h1.1M160.1 96.3h1.1M160.6 102.6h1.1M160.6 101.5h1.1M160.6 100.1h1.1M160.7 99.2h1.1M160.6 97.2h1.1M160.5 95.4h1.1M160.6 93.5h1.1M161 101.6h1.1M161.1 100.8h1.1M161.2 98.9h1.1M161.1 97h1.1M161.1 95.1h1.1M161.4 102.4h1.1M161.6 100.8h1.1M161.5 99.7h1.1M161.4 98.1h1.1M161.6 96.4h1.1M161.4 94.5h1.1M162.1 97.6h1.1M162.1 95.9h1.1M162.1 94.3h1.1M162.2 93.1h1.1M161.9 91.2h1.1M162.6 102h1.1M162.4 100.4h1.1M162.6 99.1h1.1M162.5 97.1h1.1M162.5 95.4h1.1M162.4 94.3h1.1M162.6 93h1.1M162.4 91.9h1.1M162.4 90.8h1.1M162.5 89.8h1.1M162.5 88.4h1.1M162.7 84.7h1.1M162.9 103.7h1.1M162.9 102.7h1.1M163.2 101.1h1.1M163 99.8h1.1M163 98.5h1.1M163 96.8h1.1M163.4 101.6h1.1M163.5 99.8h1.1M163.6 98.4h1.1M163.6 91.6h1.1M164.2 101.8h1.1M164.1 100h1.1M164 98.4h1.1M164.1 96.5h1.1M164 95.2h1.1M164.2 94.3h1.1M163.9 92.5h1.1M164 91.3h1.1M164 89.9h1.1M164.6 103.2h1.1M164.4 101.4h1.1M164.4 99.6h1.1M164.6 97.8h1.1M164.7 97h1.1M164.4 92.9h1.1M164.9 104.9h1.1M164.9 103.1h1.1M164.9 102h1.1M165.1 100.9h1.1M165.2 99.2h1.1M165.1 97.3h1.1M164.9 95.4h1.1M165.7 103.4h1.1M165.4 102.1h1.1M165.6 100.3h1.1M165.7 98.8h1.1M165.4 97.9h1.1M165.4 97h1.1M166.2 102.8h1.1M165.9 101.8h1.1M166 100h1.1M166 98.7h1.1M165.9 97.3h1.1M166.2 95.7h1.1M166.2 94.7h1.1M166.1 93h1.1M166.6 99.8h1.1M166.7 98.3h1.1M166.5 97.5h1.1M166.6 96.7h1.1M166.6 95.1h1.1M166.4 94.1h1.1M166.5 92.9h1.1M166.4 91.9h1.1M167 103.5h1.1M167.1 102.3h1.1M167 101.1h1.1M167.2 99.6h1.1M167.2 98.6h1.1M167.6 98.6h1.1M167.6 97.5h1.1M167.7 96.5h1.1M167.5 95.1h1.1M167.4 93.2h1.1M167.6 91.3h1.1M168 99.6h1.1M167.9 97.7h1.1M167.9 96h1.1M168.1 91.3h1.1M168.5 100.1h1.1M168.5 98.4h1.1M168.5 96.8h1.1M168.7 95.6h1.1M168.7 93.7h1.1M168.6 90.2h1.1M168.9 103.2h1.1M168.9 101.5h1.1M169.2 101.7h1.1M169.6 104.5h1.1M169.5 103.2h1.1M169.4 101.4h1.1M169.4 102.2h1.1M170.1 103.2h1.1M170.2 102h1.1M169.9 101h1.1M169.9 99.2h1.1M170.7 104.8h1.1M170.7 103.7h1.1M170.5 102.6h1.1M170.4 101.8h1.1M170.5 99.8h1.1M170.4 97.8h1.1M170.7 97.9h1.1M170.9 103.5h1.1M171.1 102.2h1.1M171.1 100.9h1.1M171 99.8h1.1M170.9 98.4h1.1M170.9 97.9h1.1M171.7 104.8h1.1M171.5 103.6h1.1M171.5 102.7h1.1M171.7 101.8h1.1M171.5 100.4h1.1M171.6 99.2h1.1M171.9 104.1h1.1M172.1 102.9h1.1M172.2 101.4h1.1M172 99.8h1.1M172.1 97.9h1.1M172.2 96.4h1.1M172 94.8h1.1M172 93.3h1.1M172.6 100.8h1.1M172.7 99.9h1.1M172.6 98.3h1.1M172.7 96.3h1.1M172.6 94.7h1.1M172.4 93.9h1.1M172.5 94h1.1M173 100h1.1M173.1 98.3h1.1M173.1 97.3h1.1M173.2 95.3h1.1M173 94.2h1.1M173.5 99.3h1.1M173.5 97.4h1.1M173.4 95.7h1.1M173.7 93.9h1.1M173.9 99.5h1.1M174 98.6h1.1M174 97.1h1.1M174 95.9h1.1M174.2 94.9h1.1M174.1 93.7h1.1M174.6 103.5h1.1M174.6 102.5h1.1M174.6 101h1.1M174.6 99.7h1.1M174.4 98.9h1.1M174.5 97.6h1.1M174.5 95.8h1.1M174.4 95.6h1.1M175.2 101.7h1.1M174.9 99.7h1.1M175 97.8h1.1M175.2 96.9h1.1M175 95.9h1.1M175.1 94.1h1.1M175 92.3h1.1M175.5 101.4h1.1M175.5 100.4h1.1M175.7 99.2h1.1M175.5 97.6h1.1M175.4 96.6h1.1M176.1 100.5h1.1M176 98.8h1.1M175.9 97.9h1.1M176.1 96.5h1.1M176.5 102.2h1.1M176.6 100.6h1.1M176.5 99.7h1.1M176.5 98.2h1.1M176.5 97h1.1M176.5 95.4h1.1M176.9 100.8h1.1M177.1 99.9h1.1M177.2 97.9h1.1M177.1 97h1.1M177 95.6h1.1M177 94.1h1.1M177.4 100.7h1.1M177.5 99.8h1.1M177.4 98.3h1.1M177.7 97.2h1.1M177.6 95.6h1.1M178 102.3h1.1M178.1 101.3h1.1M178.1 100h1.1M178 99h1.1M177.9 98h1.1M178 96.6h1.1M178.2 95.5h1.1M178 93.9h1.1M178.4 101.8h1.1M178.5 100.9h1.1M178.7 99.1h1.1M178.7 97.9h1.1M178.7 96.1h1.1M178.7 94.6h1.1M178.5 93.5h1.1M178.6 94.8h1.1M178.9 102.3h1.1M179.1 101h1.1M179 100.1h1.1M179.1 99.2h1.1M179 97.9h1.1M179.2 97.3h1.1M179.5 103.4h1.1M179.6 101.8h1.1M179.6 100.4h1.1M179.5 99.3h1.1M179.5 98.1h1.1M179.6 96.9h1.1M180.1 102.1h1.1M179.9 101h1.1M179.9 99.8h1.1M180.1 97.8h1.1M179.9 94.9h1.1M180.6 104.3h1.1M180.5 102.9h1.1M180.5 101.8h1.1M180.7 100.1h1.1M180.7 98.3h1.1M180.4 98h1.1M181 101.3h1.1M181.1 100.4h1.1M180.9 99.4h1.1M180.9 98.3h1.1M180.9 97h1.1M180.9 95.5h1.1M181.5 95.5h1.1M181.6 94.5h1.1M181.4 92.8h1.1M181.4 91.6h1.1M181.6 90.8h1.1M182 96.7h1.1M182.2 95.7h1.1M182 93.8h1.1M182.1 92.3h1.1M181.9 91.1h1.1M182.1 89.9h1.1M182.1 88.4h1.1M182.7 96.9h1.1M182.5 96.1h1.1M182.5 94.9h1.1M182.5 93.3h1.1M182.5 92.1h1.1M182.6 90.6h1.1M182.5 89.1h1.1M182.6 87.7h1.1M182.4 86.4h1.1M182.6 85h1.1M183.1 94.6h1.1M183.2 92.9h1.1M183 91h1.1M183.1 89.2h1.1M183.5 101.7h1.1M183.5 100.3h1.1M183.6 98.6h1.1M183.5 96.6h1.1M183.5 95.2h1.1M183.7 94h1.1M183.7 92.9h1.1M183.5 91.7h1.1M183.6 90.2h1.1M183.4 89h1.1M183.5 84.8h1.1M184.1 97.3h1.1M183.9 96.3h1.1M184.2 95.5h1.1M183.9 94.5h1.1M184 92.5h1.1M184 91h1.1M184 89.9h1.1M183.9 88.3h1.1M183.9 84.5h1.1M184.5 95.9h1.1M184.5 94.9h1.1M184.6 93.3h1.1M184.6 92.2h1.1M184.6 91.2h1.1M184.6 90.2h1.1M184.6 89h1.1M184.5 88.1h1.1M184.4 86.5h1.1M184.4 86.5h1.1M185.2 94.3h1.1M185.1 92.7h1.1M184.9 91.5h1.1M185 89.7h1.1M184.9 88.2h1.1M185.2 87.3h1.1M185.1 86.4h1.1M185.2 80.6h1.1M185 84h1.1M185.6 99.9h1.1M185.6 98.3h1.1M185.5 96.4h1.1M185.5 94.5h1.1M186 101.5h1.1M186.2 100.4h1.1M186.2 98.5h1.1M186 96.5h1.1M186 94.8h1.1M186.1 92.9h1.1M186 91.2h1.1M186.2 90.3h1.1M186.1 88.8h1.1M185.9 87h1.1M186.2 87.3h1.1M185.9 87.3h1.1M186.4 106.6h1.1M186.6 105.2h1.1M186.5 103.9h1.1M186.7 104h1.1M187 104.9h1.1M187.1 103.7h1.1M187.2 103.6h1.1M187.5 93.4h1.1M187.5 91.7h1.1M187.4 89.9h1.1M187.6 88.8h1.1M187.5 87.4h1.1M187.5 85.9h1.1M187.4 84.6h1.1M187.5 82.9h1.1M187.6 81.1h1.1M187.6 79.5h1.1M187.9 96.9h1.1M188 95h1.1M188.2 93.6h1.1M188 92h1.1M187.9 90.1h1.1M188.2 89.1h1.1M188.1 88h1.1M188 86.6h1.1M188.1 85.7h1.1M187.9 83.9h1.1M188 82.4h1.1M188 80.8h1.1M188.2 79.9h1.1M188 78.1h1.1M188 78.7h1.1M188.2 74.4h1.1M188.4 99.8h1.1M188.6 98.2h1.1M188.6 97.2h1.1M188.4 95.5h1.1M188.7 93.7h1.1M188.5 92.9h1.1M188.5 92h1.1M188.5 91.1h1.1M188.5 90h1.1M188.4 89.6h1.1M189.2 100.3h1.1M189.1 99.4h1.1M189 98.1h1.1M189 97.2h1.1M189 96h1.1M189.1 94.7h1.1M189 93.3h1.1M189.1 92h1.1M189.1 89.5h1.1M189.1 90.7h1.1M189.4 101.5h1.1M189.7 100.4h1.1M189.7 98.5h1.1M189.4 97.1h1.1M189.5 92.4h1.1M189.9 104.1h1.1M190.1 103.1h1.1M190 101.2h1.1M190.2 99.7h1.1M190 98.7h1.1M190.5 105.5h1.1M190.5 104h1.1M190.6 103h1.1M190.6 101.9h1.1M190.6 100.7h1.1M190.4 98.9h1.1M191.1 106.2h1.1M190.9 104.4h1.1M191.2 105.2h1.1M191.7 107.1h1.1M191.6 105.9h1.1M191.7 105h1.1M192 99.2h1.1M192 97.7h1.1M192 96.1h1.1M192 95.2h1.1M191.9 93.4h1.1M192.7 104.1h1.1M192.6 102.9h1.1M192.4 101.3h1.1M192.4 99.3h1.1M192.6 98.2h1.1M192.5 97.4h1.1M192.5 96.4h1.1M192.4 95.6h1.1M193.1 99.8h1.1M193 98.9h1.1M193 97h1.1M193 95.5h1.1M193.4 101.1h1.1M193.5 100.1h1.1M193.5 98.6h1.1M193.7 96.8h1.1M193.5 95.2h1.1M193.5 94.6h1.1M193.5 93.9h1.1M194.1 102.9h1.1M194 101.7h1.1M194.2 100.6h1.1M194.1 99.2h1.1M194 97.7h1.1M194 96.3h1.1M193.9 92.8h1.1M193.9 94.8h1.1M194.6 104.7h1.1M194.6 103.5h1.1M194.5 101.6h1.1M194.6 100.6h1.1M194.6 99.4h1.1M194.6 98.4h1.1M194.5 96.9h1.1M194.7 95.1h1.1M194.5 95.6h1.1M195.1 100.8h1.1M195.1 99.5h1.1M195 98.1h1.1M195.2 96.2h1.1M195 85.1h1.1M195.7 103h1.1M195.6 101.9h1.1M195.6 101.3h1.1M195.9 105.6h1.1M196 104.1h1.1M195.9 102.9h1.1M196.6 104.9h1.1M196.5 102.9h1.1M197 100.5h1.1M197.1 99.2h1.1M196.9 97.5h1.1M197 95.5h1.1M197.6 104h1.1M197.5 102.5h1.1M197.7 101.4h1.1M197.7 100.2h1.1M197.4 98.3h1.1M197.4 96.5h1.1M197.6 93.4h1.1M197.7 95.5h1.1M158 95h1.1M158.2 94.9h1.1M158.9 94.3h1.1M159 94.4h1.1M159.2 93.2h1.1M158.3 92.2h1.1M157.9 92h1.1M158.9 90.4h1.1M158.8 87.7h1.1M159.2 85.5h1.1M158.5 83.1h1.1M159 81.3h1.1M157.9 79.7h1.1M159 77.6h1.1M158.8 76.2h1.1M158 73.6h1.1M158.5 72.3h1.1M159.3 70.7h1.1M158.5 67.9h1.1M158.8 65.5h1.1M159.3 64.2h1.1M157.9 62.9h1.1M157.8 61.1h1.1M158.6 59.7h1.1M162.6 91.8h1.1M163.3 90.9h1.1M162.3 89.9h1.1M162.7 89.8h1.1M162.8 88.8h1.1M162.9 89.3h1.1M162.5 88.1h1.1M162.1 87.7h1.1M163.3 87.2h1.1M163.3 85.9h1.1M162.9 85.4h1.1M162.4 85.1h1.1M162.8 84.4h1.1M162.7 84.3h1.1M163.1 83.7h1.1M162.1 83h1.1M163.3 80.9h1.1M163.2 78.1h1.1M163.4 77.1h1.1M162.4 74.9h1.1M163.3 72.2h1.1M162.3 69.6h1.1M162.6 67.6h1.1M163.2 66h1.1M162.5 63.9h1.1M163.4 61.9h1.1M163.4 59.9h1.1M163.5 57.9h1.1M162.7 56.8h1.1M163.1 54.9h1.1M162.8 53h1.1M172.4 92.3h1.1M172.4 91.4h1.1M172.5 90.4h1.1M171.7 89.1h1.1M172.7 88.3h1.1M172.6 87.7h1.1M172.4 87h1.1M171.9 85.9h1.1M171.9 85h1.1M172.3 83.9h1.1M172 82.9h1.1M172.8 82h1.1M172.2 80.6h1.1M185.4 87h1.1M184.6 86.9h1.1M185.1 86.2h1.1M184.7 86.4h1.1M183.7 84.9h1.1M184.5 85.3h1.1M185.2 84.2h1.1M184.6 84.6h1.1M184.2 83.5h1.1M183.9 83.3h1.1M184.7 82.5h1.1M185.1 82.5h1.1M185.1 81.8h1.1M185.3 81h1.1M183.7 80.2h1.1M183.8 79.1h1.1M184.8 77.9h1.1M184.2 76.6h1.1M184.2 75.4h1.1M185.2 74.3h1.1M184.1 74.1h1.1M183.9 73.3h1.1M184.1 72.8h1.1M184.9 70.5h1.1M185.1 69.3h1.1M184.2 66.9h1.1M184.2 65.8h1.1M184.5 63.4h1.1M183.9 60.9h1.1M184.3 59.7h1.1M184.6 58.3h1.1M187.9 83h1.1M189 82.6h1.1M187.8 81.9h1.1M188.8 82.3h1.1M188.5 81h1.1M188.3 80.8h1.1M188.9 79.9h1.1M188.9 78.9h1.1M188.3 78.7h1.1M189 78.1h1.1M188.2 77.9h1.1M188.8 76.9h1.1M188.3 77.3h1.1M188.5 75.7h1.1M189.2 75.4h1.1M187.8 74.9h1.1M189 74.5h1.1M189.4 74h1.1M188.3 72.1h1.1M189.3 69.6h1.1M187.9 67.9h1.1M189 65.8h1.1M188.8 63.1h1.1M188.6 61.6h1.1M188.5 60.1h1.1M188.6 59.7h1.1M241.6 103.1h1.1M241.4 101.3h1.1M241.6 101.3h1.1M241.7 101.4h1.1M242.1 101.5h1.1M242 100.2h1.1M242.1 98.3h1.1M241.9 96.9h1.1M242.1 95.8h1.1M242.2 95h1.1M242 93.5h1.1M242 92.4h1.1M242 90.6h1.1M242.6 96.5h1.1M242.6 94.7h1.1M242.4 92.8h1.1M242.7 91.2h1.1M242.6 89.3h1.1M242.7 86.8h1.1M242.5 88.2h1.1M243.2 102.5h1.1M243.2 101.4h1.1M242.9 99.7h1.1M243.1 98.8h1.1M243.1 97.8h1.1M243 96.2h1.1M243 94.8h1.1M243.1 93h1.1M243.1 91.3h1.1M243.2 90.5h1.1M243.1 88.7h1.1M243.1 88h1.1M243 88.3h1.1M243.6 100.7h1.1M243.6 99.7h1.1M243.6 98h1.1M243.7 97.2h1.1M243.5 95.2h1.1M243.4 94.4h1.1M243.5 93.5h1.1M243.5 91.9h1.1M243.5 91.9h1.1M244 96.5h1.1M244.2 94.9h1.1M244.1 93.9h1.1M244 92h1.1M244.5 102.4h1.1M244.5 100.7h1.1M244.6 99.5h1.1M244.7 98.2h1.1M245 104.2h1.1M244.9 102.9h1.1M245 101.3h1.1M245.1 100.2h1.1M244.9 99h1.1M245.1 97.2h1.1M244.9 92.7h1.1M245.5 101.5h1.1M245.4 99.5h1.1M245.4 98h1.1M245.6 96h1.1M245.6 94.3h1.1M245.5 93.2h1.1M245.6 92.4h1.1M245.5 91.5h1.1M245.7 90.5h1.1M245.5 88.7h1.1M245.4 86.8h1.1M246.1 97.5h1.1M245.9 96.3h1.1M246.1 95.3h1.1M246.1 93.9h1.1M246 92.9h1.1M246.2 91.8h1.1M245.9 90.2h1.1M246.6 99.1h1.1M246.4 97.1h1.1M246.5 96h1.1M246.5 94.8h1.1M246.6 93.8h1.1M246.7 92.3h1.1M247.1 102.6h1.1M247 101.3h1.1M247 100.1h1.1M247.1 98.9h1.1M247 97h1.1M246.9 95.2h1.1M246.9 96.2h1.1M247 91.3h1.1M247.4 101.2h1.1M247.4 99.4h1.1M247.7 98.4h1.1M247.4 97.2h1.1M247.6 95.7h1.1M247.7 96.8h1.1M247.6 95h1.1M248.1 104h1.1M248 102.4h1.1M248.1 101h1.1M248.2 99.5h1.1M248.1 98.5h1.1M248.1 97.7h1.1M247.9 96.3h1.1M247.9 94.3h1.1M248.6 101.3h1.1M248.5 99.6h1.1M248.4 97.7h1.1M248.6 91.2h1.1M249.2 107.6h1.1M249.2 106.6h1.1M249 105.1h1.1M249.6 100.2h1.1M249.6 98.4h1.1M249.6 97.5h1.1M249.4 96.1h1.1M249.5 94.8h1.1M249.7 93.4h1.1M249.6 91.6h1.1M250 100.9h1.1M249.9 99.4h1.1M250.2 98.1h1.1M250.1 96.8h1.1M250.1 95.1h1.1M250 93.4h1.1M250.7 101.8h1.1M250.7 100.6h1.1M250.7 99.7h1.1M250.4 97.7h1.1M250.7 96.5h1.1M250.4 94.5h1.1M250.7 93h1.1M250.5 92.2h1.1M250.4 89.4h1.1M251.1 99.1h1.1M251 97.1h1.1M251.2 95.3h1.1M251 93.7h1.1M251 92.4h1.1M251.7 98.7h1.1M251.6 97.3h1.1M251.6 96h1.1M251.7 94.2h1.1M251.5 92.3h1.1M251.7 91.5h1.1M252 101.9h1.1M252.1 100.6h1.1M252.2 98.6h1.1M252.2 97.4h1.1M252.1 95.4h1.1M252 93.9h1.1M252 92.2h1.1M252.2 90.5h1.1M252.1 88.9h1.1M252.1 89.1h1.1M251.9 87h1.1M252.5 103.9h1.1M252.5 102.4h1.1M252.6 101.2h1.1M252.6 99.8h1.1M253 104.7h1.1M253 103.3h1.1M253 101.3h1.1M253.1 99.5h1.1M253 98.9h1.1M253.6 102.9h1.1M253.6 101.4h1.1M253.4 99.9h1.1M253.5 98.3h1.1M253.7 98.7h1.1M253.4 99h1.1M254 101.6h1.1M254 99.8h1.1M253.9 97.9h1.1M254.6 95.4h1.1M254.5 94.5h1.1M254.4 93.5h1.1M254.6 92.4h1.1M254.4 90.9h1.1M254.4 89.8h1.1M254.4 90.2h1.1M255 96.8h1.1M255.2 95.4h1.1M255 93.6h1.1M255.2 92.8h1.1M254.9 90.8h1.1M254.9 89h1.1M255 87h1.1M255.1 85.9h1.1M255.4 104.5h1.1M255.4 102.6h1.1M256.1 104.5h1.1M256 103h1.1M256.4 106.5h1.1M256.5 105.6h1.1M256.5 104.4h1.1M256.5 103.8h1.1M256.5 103.8h1.1M257 103.2h1.1M256.9 102h1.1M256.9 100.7h1.1M257.1 99h1.1M257.6 104.7h1.1M257.4 103.1h1.1M257.4 101.7h1.1M257.6 100h1.1M258.1 105.9h1.1M258 104.5h1.1M257.9 103h1.1M258.2 102.2h1.1M257.9 100.3h1.1M258.1 99.3h1.1M258.1 96.6h1.1M258.4 103.7h1.1M258.5 101.9h1.1M258.7 98.5h1.1M259.1 104.5h1.1M259.1 103.6h1.1M259.1 102.2h1.1M259.1 100.9h1.1M259.1 100h1.1M259.5 106.5h1.1M259.4 104.5h1.1M259.6 97.9h1.1M260 107.6h1.1M259.9 106.1h1.1M260.5 107.4h1.1M260.6 106.2h1.1M261.1 100h1.1M261.1 99.1h1.1M261.1 97.7h1.1M261 95.8h1.1M261 94h1.1M260.9 92.4h1.1M261.5 100h1.1M261.6 98.9h1.1M261.4 97.3h1.1M261.7 96.2h1.1M261.5 95.1h1.1M261.5 93.6h1.1M261.7 91.6h1.1M262.1 99.6h1.1M261.9 97.8h1.1M261.9 96.9h1.1M261.9 95.8h1.1M262 94.5h1.1M262.2 92.8h1.1M262 90.8h1.1M261.9 89.2h1.1M261.9 90.2h1.1M262.2 89.8h1.1M262.7 95.2h1.1M262.5 93.5h1.1M262.5 92.5h1.1M262.5 90.6h1.1M262.4 89.4h1.1M262.6 88.7h1.1M262.7 88.9h1.1M263.1 95.9h1.1M263 94.4h1.1M262.9 92.6h1.1M263 90.8h1.1M263 89.9h1.1M263.2 88.3h1.1M263.1 85h1.1M263.6 100.4h1.1M263.4 99.4h1.1M263.5 98.1h1.1M263.6 96.4h1.1M263.6 95.6h1.1M263.6 94.4h1.1M263.6 93.4h1.1M263.6 91.8h1.1M263.5 90.8h1.1M263.6 89.6h1.1M263.7 89.7h1.1M264.2 95.8h1.1M264.1 93.8h1.1M264 92.6h1.1M264.1 91.3h1.1M264.1 90.4h1.1M263.9 88.5h1.1M264.1 86.6h1.1M264.1 83.7h1.1M264.7 99.2h1.1M264.6 97.3h1.1M264.5 96.3h1.1M264.5 94.8h1.1M264.5 93.4h1.1M264.6 91.5h1.1M264.7 89.5h1.1M264.6 88.5h1.1M264.7 86.4h1.1M265.1 100h1.1M265 98.1h1.1M265.2 97.2h1.1M265.1 95.8h1.1M265.2 94h1.1M265 94.2h1.1M265.6 99h1.1M265.7 97.8h1.1M265.5 96.8h1.1M265.5 95.2h1.1M265.6 94.3h1.1M265.5 92.5h1.1M265.7 91.5h1.1M266.1 96.3h1.1M266.2 94.7h1.1M266.1 93h1.1M265.9 91.9h1.1M266.1 91h1.1M266.2 89.5h1.1M266 87.6h1.1M266 86h1.1M265.9 84.5h1.1M266.2 84.4h1.1M266 83h1.1M266.5 97.8h1.1M266.5 96.7h1.1M266.6 95.7h1.1M266.7 94.7h1.1M266.7 92.9h1.1M266.5 91.6h1.1M266.4 90.5h1.1M266.5 88.8h1.1M266.7 87.6h1.1M266.5 86h1.1M266.9 95.9h1.1M267.1 94.4h1.1M266.9 93.4h1.1M266.9 91.8h1.1M267.1 89.9h1.1M267 88.9h1.1M266.9 88h1.1M267.2 86.8h1.1M267.1 84.9h1.1M267.1 84.3h1.1M267.7 97.7h1.1M267.5 96.5h1.1M267.7 94.9h1.1M267.5 93.7h1.1M267.5 92.4h1.1M267.6 91.2h1.1M267.5 90.2h1.1M267.6 89h1.1M267.4 87.3h1.1M267.4 85.2h1.1M268.2 101.3h1.1M268.1 99.5h1.1M268 98.2h1.1M268 97.2h1.1M267.9 95.2h1.1M268 93.9h1.1M268 92.1h1.1M267.9 90.2h1.1M268.5 100h1.1M268.5 98.1h1.1M268.6 97h1.1M268.7 95h1.1M268.7 93.9h1.1M268.7 92h1.1M269 102.4h1.1M269 100.6h1.1M269.2 98.6h1.1M269.1 97.5h1.1M269 96h1.1M269.1 94.2h1.1M269 92.4h1.1M269.1 92.5h1.1M268.9 88h1.1M269.6 95.6h1.1M269.4 93.7h1.1M269.4 92.5h1.1M269.5 90.9h1.1M269.4 90.1h1.1M269.6 89.1h1.1M269.5 87.7h1.1M270 106.2h1.1M270 105.2h1.1M270.1 104.2h1.1M270 102.3h1.1M270.2 101.4h1.1M270.7 103.2h1.1M270.6 101.2h1.1M270.7 96h1.1M270.5 97.2h1.1M271 101.4h1.1M271.2 100.4h1.1M271 99.3h1.1M271.1 97.3h1.1M270.9 96h1.1M271 94.7h1.1M271 92.8h1.1M271 90.8h1.1M271.2 90h1.1M271.5 102.4h1.1M271.4 100.7h1.1M271.5 99.5h1.1M271.7 98.6h1.1M271.4 97.1h1.1M271.7 95.8h1.1M271.5 94h1.1M271.6 92.9h1.1M271.5 91.7h1.1M271.5 89.9h1.1M271.7 89.9h1.1M272 100.2h1.1M271.9 98.7h1.1M272 96.7h1.1M272.6 100.5h1.1M272.4 98.7h1.1M272.6 96.8h1.1M272.9 98h1.1M273.2 96.2h1.1M273.2 94.9h1.1M273 93.7h1.1M273.2 92.3h1.1M272.9 90.3h1.1M272.9 89h1.1M272.9 89.5h1.1M273.6 96.7h1.1M273.6 95.7h1.1M273.7 93.8h1.1M273.6 92.3h1.1M273.6 90.6h1.1M273.6 89.4h1.1M273.4 87.1h1.1M274.1 102.1h1.1M274 101.2h1.1M274 99.6h1.1M274.6 102.2h1.1M274.4 101h1.1M274.6 99.6h1.1M275.1 101.5h1.1M275 100h1.1M275.1 98.2h1.1M275 96.4h1.1M275.1 94.6h1.1M275 94h1.1M274.9 95.7h1.1M275.5 102h1.1M275.4 101.1h1.1M275.6 99.4h1.1M275.5 98.3h1.1M275.5 97.4h1.1M275.6 96h1.1M275.7 94.6h1.1M275.6 92h1.1M275.5 92.9h1.1M276 98.7h1.1M276 97.3h1.1M275.9 96.5h1.1M276 95.2h1.1M275.9 94h1.1M276.1 92.1h1.1M276 92.4h1.1M276.7 101.8h1.1M276.7 99.9h1.1M276.5 98.5h1.1M276.5 97.1h1.1M276.6 95.2h1.1M276.6 96h1.1M276.6 96.3h1.1M242 94h1.1M243 92.9h1.1M241.9 91.7h1.1M242.8 90.6h1.1M242.3 90.4h1.1M242 89.4h1.1M242.4 89.8h1.1M242 88.1h1.1M243 88.4h1.1M242.8 87.2h1.1M243.1 86.1h1.1M243.3 86.4h1.1M242.3 85.1h1.1M242 84.9h1.1M243.2 84.2h1.1M242.7 83.9h1.1M242.5 83.3h1.1M243 83.8h1.1M242.2 82.3h1.1M242.7 81.9h1.1M242.8 81.7h1.1M242.5 80.5h1.1M243.1 80.5h1.1M242.3 79.2h1.1M242 78.7h1.1M243.1 78.5h1.1M242.1 79h1.1M242.7 78h1.1M243.2 76.6h1.1M242.5 74.2h1.1M242.7 72.9h1.1M242.8 71.6h1.1M242.6 70.3h1.1M244.1 60.7h1.1M244 92.8h1.1M243.7 91.7h1.1M243.6 90.6h1.1M244.2 89.9h1.1M244.1 89.3h1.1M243.5 88.3h1.1M244 88h1.1M243.7 86.7h1.1M244.1 85.3h1.1M243.6 82.6h1.1M243.6 80.1h1.1M243.9 80h1.1M246.5 93.3h1.1M245.4 93.8h1.1M245.8 92.3h1.1M246.2 92.5h1.1M245.7 91.5h1.1M246.3 91.7h1.1M246.1 90.4h1.1M246.6 90.7h1.1M245.4 89.5h1.1M245.9 89.5h1.1M246 88.6h1.1M246.3 88.5h1.1M246.3 87.9h1.1M246 88.3h1.1M245.3 86.7h1.1M245.7 87.2h1.1M246.1 85.4h1.1M245.7 85.5h1.1M245.3 84.5h1.1M245.4 84.9h1.1M246.4 83.6h1.1M246 82.7h1.1M245.3 81.5h1.1M246.8 81h1.1M246.4 80.9h1.1M245.4 80.1h1.1M246.6 80.1h1.1M245.9 80h1.1M245.4 77.7h1.1M245.6 76.2h1.1M245.7 74.8h1.1M246.4 72.4h1.1M246.6 71.3h1.1M246.4 70h1.1M246.3 68.7h1.1M246.1 68h1.1M252.6 91h1.1M253.2 90.2h1.1M252.9 89.3h1.1M253.2 88.5h1.1M253 87.3h1.1M253.1 86.6h1.1M253.3 86h1.1M253.2 83.8h1.1M253.1 82.7h1.1M255.5 91h1.1M255.8 89.7h1.1M255.2 88.7h1.1M255.3 87.9h1.1M255.9 87.2h1.1M255.3 86.5h1.1M255.2 86h1.1M255.7 84.8h1.1M255.6 82.7h1.1M263.2 83h1.1M263.6 83.2h1.1M264.1 82.1h1.1M264.5 81.5h1.1M263.7 81h1.1M264.4 80.6h1.1M263.7 80.4h1.1M263.8 79.8h1.1M263.4 78.9h1.1M264.9 78.9h1.1M263.7 77.9h1.1M263.2 77h1.1M264 77h1.1M263.7 76h1.1M264 74.9h1.1M264.4 73.9h1.1M264.1 74.2h1.1M263.6 73.1h1.1M264.9 73.4h1.1M263.6 72.5h1.1M264.4 70h1.1M264.1 70h1.1M267.4 86.3h1.1M266 86.6h1.1M265.7 85.3h1.1M267.3 85.3h1.1M265.8 84.6h1.1M266.2 84.9h1.1M267.3 83.6h1.1M266.5 83.1h1.1M266.4 82.8h1.1M267.2 82.8h1.1M266.4 81.7h1.1M267.2 81.4h1.1M265.7 80.5h1.1M266.8 80.5h1.1M266.2 79.8h1.1M266.6 78.6h1.1M265.8 78.4h1.1M267.1 77.5h1.1M265.8 77.8h1.1M266.3 77h1.1M266 74.7h1.1M267.1 73.2h1.1M266 71.4h1.1M266.9 70.2h1.1M267 68h1.1M266 66.9h1.1M266.8 65.6h1.1M266.1 64.4h1.1M265.8 62.6h1.1M267.3 60.9h1.1M266.1 58.3h1.1M266.5 56.2h1.1M266.6 54.5h1.1M271.8 92h1.1M271.2 90.9h1.1M272 90.1h1.1M271.8 89.4h1.1M271.8 89h1.1M271.6 87.5h1.1M271.7 85.5h1.1M271.8 84.2h1.1M271.3 81.5h1.1M271.6 80.4h1.1M276 92h1.1M275.5 91.3h1.1M275.3 90.2h1.1M275.6 89h1.1M276.1 88.1h1.1M275.8 88h1.1M275.3 86.3h1.1M275.8 84.5h1.1M276.1 82.6h1.1M275.6 80.1h1.1M276 78.7h1.1M275.2 76.7h1.1M275.4 74.1h1.1M276.1 72.4h1.1M275.5 69.6h1.1M276.1 66.9h1.1M275.6 65.8h1.1M314.1 102.7h1.1M314.1 101.2h1.1M314.1 99.7h1.1M314.1 98.7h1.1M314 97h1.1M314.7 101.5h1.1M314.5 100.4h1.1M314.7 98.5h1.1M314.5 96.8h1.1M314.4 95h1.1M314.4 94.2h1.1M314.5 93h1.1M314.5 91.1h1.1M314.5 89.3h1.1M314.5 88.9h1.1M315 95.8h1.1M315.2 94h1.1M315 92.6h1.1M315.2 91.1h1.1M315.2 90h1.1M315 88.9h1.1M314.9 87.1h1.1M315.1 85.7h1.1M315 84.2h1.1M315.1 82.6h1.1M315 81.3h1.1M315 80.1h1.1M315 78.6h1.1M315 76.7h1.1M315.6 89.2h1.1M315.6 87.7h1.1M315.7 86.5h1.1M315.4 84.8h1.1M315.4 83.2h1.1M315.6 82h1.1M315.4 80.5h1.1M316.1 101.9h1.1M316 100.9h1.1M316.1 99.9h1.1M316 98h1.1M316.2 97h1.1M316.2 95h1.1M316.1 94h1.1M316.1 92.1h1.1M316.1 90.3h1.1M316.1 89.4h1.1M316 88.5h1.1M316.1 87.8h1.1M316.4 106.4h1.1M316.6 105.3h1.1M316.6 103.6h1.1M316.6 104.8h1.1M317.1 105.5h1.1M317 104.2h1.1M317 104.1h1.1M317.7 99.8h1.1M317.6 98.4h1.1M317.6 96.9h1.1M317.5 95.1h1.1M317.6 94.1h1.1M317.4 92.5h1.1M317.4 90.8h1.1M317.4 88.9h1.1M317.9 98.5h1.1M318.1 97.1h1.1M318.1 95.2h1.1M318.1 93.4h1.1M318.1 92.4h1.1M318 90.6h1.1M317.9 88.7h1.1M318.4 103.6h1.1M318.5 102.1h1.1M318.7 100.6h1.1M318.6 98.7h1.1M318.5 97.6h1.1M318.7 96.6h1.1M318.5 95h1.1M318.6 92.6h1.1M318.6 91.9h1.1M319.2 102h1.1M319.1 100.8h1.1M319 99.1h1.1M319.1 97.8h1.1M319.2 96.4h1.1M319 94.7h1.1M318.9 92.5h1.1M319.7 103.5h1.1M319.5 101.8h1.1M319.4 100.6h1.1M319.5 98.8h1.1M320.1 104.3h1.1M320 102.7h1.1M320 101.7h1.1M320 100.9h1.1M320 99.5h1.1M319.9 97.8h1.1M320.5 101.9h1.1M320.5 100.7h1.1M320.5 98.7h1.1M320.5 98.1h1.1M321 100.9h1.1M321.1 99.9h1.1M321.1 98h1.1M321.2 96.8h1.1M321 94.8h1.1M321 93.2h1.1M321.1 91.2h1.1M321.1 88h1.1M321.4 100.5h1.1M321.5 98.6h1.1M321.4 96.7h1.1M321.5 95.3h1.1M321.6 94.2h1.1M321.4 93.2h1.1M321.6 91.6h1.1M321.4 90.7h1.1M322 97.8h1.1M322.2 96.4h1.1M322.1 94.4h1.1M322 93.4h1.1M322.2 91.5h1.1M322.1 90h1.1M322.5 100.9h1.1M322.5 99.3h1.1M322.5 97.9h1.1M322.5 96.3h1.1M322.6 95.5h1.1M322.7 93.7h1.1M322.5 91.7h1.1M322.6 93.9h1.1M323.1 102.4h1.1M323.1 100.8h1.1M323 99.8h1.1M322.9 98.2h1.1M323.2 96.4h1.1M323 94.8h1.1M323.1 93.3h1.1M322.9 93.2h1.1M323.6 99.4h1.1M323.5 97.4h1.1M323.7 95.8h1.1M323.7 94.2h1.1M323.7 94h1.1M323.9 76.4h1.1M323.9 75.2h1.1M324.1 73.8h1.1M324.1 72.6h1.1M324.1 71.3h1.1M324 69.7h1.1M323.9 67.9h1.1M323.9 66.8h1.1M324.1 64.9h1.1M324.2 63.1h1.1M324.2 62.2h1.1M324.7 79.2h1.1M324.5 77.5h1.1M324.5 75.8h1.1M324.5 74.3h1.1M324.5 72.3h1.1M324.4 71h1.1M324.5 69.2h1.1M324.6 68.4h1.1M324.4 67h1.1M324.4 66.2h1.1M324.7 64.2h1.1M324.7 63.1h1.1M324.7 61.9h1.1M324.4 60.3h1.1M324.5 59.5h1.1M324.7 58h1.1M324.5 56.6h1.1M324.4 55.8h1.1M324.6 54.1h1.1M324.7 55.1h1.1M324.7 52.7h1.1M325.1 93.9h1.1M325.1 92.2h1.1M325 90.6h1.1M325.1 89.1h1.1M325.2 88.3h1.1M324.9 87.4h1.1M324.9 86h1.1M325.1 84.3h1.1M325.1 82.9h1.1M325.2 81h1.1M324.9 79.6h1.1M325.2 77.9h1.1M325.1 76.6h1.1M325.1 75.6h1.1M325 73.8h1.1M325.1 72.3h1.1M325.5 91.8h1.1M325.4 90.4h1.1M325.4 89.1h1.1M325.7 88h1.1M325.4 86.1h1.1M325.5 84.6h1.1M325.5 83.7h1.1M325.5 82.3h1.1M325.4 80.8h1.1M325.6 79.2h1.1M325.6 78.2h1.1M325.7 76.3h1.1M325.6 74.7h1.1M325.5 73h1.1M325.7 72.8h1.1M326.2 83.9h1.1M325.9 83h1.1M326.2 81.5h1.1M326.2 80.3h1.1M326.2 79.3h1.1M326 78.3h1.1M326.1 77.1h1.1M326.1 75.7h1.1M326.1 74.1h1.1M326 73.1h1.1M326.5 92.7h1.1M326.6 91.6h1.1M326.6 89.7h1.1M326.5 88.4h1.1M326.7 87.3h1.1M326.4 85.9h1.1M326.7 84.5h1.1M326.6 83.3h1.1M326.5 82h1.1M326.5 80.2h1.1M326.4 78.8h1.1M326.5 77.7h1.1M326.5 76h1.1M326.6 74.9h1.1M326.6 73.6h1.1M326.6 71.9h1.1M326.5 70h1.1M326.4 68.1h1.1M326.7 65.8h1.1M326.5 66.7h1.1M327 93.1h1.1M327.1 91.9h1.1M327.1 91.1h1.1M326.9 89.7h1.1M327 88h1.1M327 86.3h1.1M327 84.5h1.1M326.9 83.6h1.1M326.9 82.5h1.1M327.2 81.3h1.1M327 80.1h1.1M326.9 78.4h1.1M327.2 77.5h1.1M327 76.3h1.1M327.1 75.3h1.1M327 73.3h1.1M327 71.6h1.1M327 70.6h1.1M327 69.4h1.1M326.9 67.6h1.1M326.9 68.4h1.1M327.4 91h1.1M327.4 89.6h1.1M327.4 87.7h1.1M327.5 86.1h1.1M327.6 84.4h1.1M327.5 82.8h1.1M327.7 81.1h1.1M327.5 79.6h1.1M327.4 77.7h1.1M327.5 76.1h1.1M327.4 74.2h1.1M327.7 73h1.1M327.6 71.8h1.1M327.6 69.9h1.1M327.7 69h1.1M327.5 67.1h1.1M327.5 66.3h1.1M328.1 86.4h1.1M328 84.6h1.1M328 83.2h1.1M328.1 82.3h1.1M328.2 81h1.1M328.1 79.5h1.1M328 78h1.1M328.1 76.8h1.1M327.9 74.9h1.1M328.2 74h1.1M328.1 72h1.1M328.1 70.9h1.1M328.1 69.3h1.1M327.9 68.5h1.1M328.1 67.4h1.1M328 66.4h1.1M328.5 86.2h1.1M328.7 84.7h1.1M328.6 83.8h1.1M328.7 82.9h1.1M328.6 81.9h1.1M328.5 80.3h1.1M328.5 79h1.1M328.5 78h1.1M328.6 77.1h1.1M328.6 75.1h1.1M328.6 73.8h1.1M328.6 72.9h1.1M328.4 71.2h1.1M328.4 70h1.1M328.4 68.3h1.1M328.4 66.5h1.1M328.5 64.7h1.1M328.6 63.3h1.1M328.6 62.9h1.1M329.2 91.7h1.1M329.1 90.9h1.1M329.2 89.4h1.1M329 88.1h1.1M328.9 86.2h1.1M329 84.6h1.1M329 83.7h1.1M328.9 81.9h1.1M328.9 80h1.1M328.9 78.1h1.1M329.1 76.5h1.1M329.2 75h1.1M329.2 73.9h1.1M329.1 72.4h1.1M329.2 71.3h1.1M329 69.7h1.1M329.2 68.6h1.1M329.2 67.1h1.1M329.1 65.3h1.1M329 63.6h1.1M329.5 95.5h1.1M329.5 94.3h1.1M329.5 92.4h1.1M329.6 91.4h1.1M329.4 89.8h1.1M329.6 88.4h1.1M329.5 86.7h1.1M329.6 85.5h1.1M329.7 84.4h1.1M329.7 83.3h1.1M329.6 81.4h1.1M329.5 79.6h1.1M329.4 78.7h1.1M329.5 77.4h1.1M329.9 96.6h1.1M330.2 95.2h1.1M330.2 93.6h1.1M330.2 92.1h1.1M330 91.2h1.1M330.1 90.2h1.1M330.1 89h1.1M330.1 89.3h1.1M330.6 102h1.1M330.6 100.9h1.1M330.4 100h1.1M330.7 98.2h1.1M330.7 96.2h1.1M330.6 94.5h1.1M330.6 93.1h1.1M330.5 85.9h1.1M331.2 101.8h1.1M331 100.8h1.1M331 98.8h1.1M331 97.1h1.1M331 96.1h1.1M331.1 94.6h1.1M331 93.5h1.1M330.9 92.1h1.1M331.1 90.6h1.1M331.4 101.7h1.1M331.5 100.2h1.1M331.4 98.2h1.1M331.7 96.6h1.1M331.5 95.3h1.1M331.5 93.9h1.1M331.6 92h1.1M331.7 90.7h1.1M331.7 85.8h1.1M332 98.9h1.1M332 97.1h1.1M332.1 95.7h1.1M331.9 94.9h1.1M332.1 93.9h1.1M331.9 92.1h1.1M332.2 91.1h1.1M332.6 101.8h1.1M332.7 100.9h1.1M332.5 99.8h1.1M332.6 98.4h1.1M332.4 96.9h1.1M332.6 95h1.1M332.6 94.1h1.1M332.5 93.1h1.1M332.6 91.4h1.1M332.5 90.4h1.1M332.9 93.9h1.1M333.1 92.5h1.1M333.1 90.5h1.1M333.1 89.6h1.1M333.1 88h1.1M333.1 86.5h1.1M333 85.7h1.1M333.1 84.8h1.1M333.2 83.9h1.1M333.1 82.9h1.1M333 82.1h1.1M332.9 80.4h1.1M333.1 78.7h1.1M333.2 77.3h1.1M332.9 76.3h1.1M333.1 74.6h1.1M333.1 72.8h1.1M333 71.9h1.1M333.6 98.4h1.1M333.6 96.5h1.1M333.5 95.4h1.1M333.5 93.9h1.1M333.7 93h1.1M333.4 91.7h1.1M333.4 90.7h1.1M333.4 88.8h1.1M333.7 87.3h1.1M333.6 85.6h1.1M333.6 84.5h1.1M333.5 82.7h1.1M333.5 81.6h1.1M333.7 80.1h1.1M333.5 78.6h1.1M333.9 85.6h1.1M334.2 83.9h1.1M334.1 82.4h1.1M334.1 81.2h1.1M334.2 80.1h1.1M334 79.1h1.1M334 77.5h1.1M334 75.6h1.1M333.9 74.8h1.1M334.2 74.6h1.1M334.6 86.1h1.1M334.7 84.8h1.1M334.4 83.5h1.1M334.6 82.4h1.1M334.5 81.6h1.1M334.6 80h1.1M334.6 78.6h1.1M334.6 77.3h1.1M334.5 76.5h1.1M334.6 74.5h1.1M334.7 73.7h1.1M335 97.9h1.1M335.1 96.9h1.1M335.1 95.9h1.1M335.2 94h1.1M335 92.6h1.1M335.1 91.4h1.1M335 90.4h1.1M335.2 89.1h1.1M335 87.7h1.1M334.9 88h1.1M335.6 100.7h1.1M335.6 99.7h1.1M335.5 97.9h1.1M335.6 96.6h1.1M336 100h1.1M336 98.2h1.1M336 96.6h1.1M336.1 96.4h1.1M336.6 102.8h1.1M336.7 100.8h1.1M336.6 99.8h1.1M336.6 98.3h1.1M336.5 96.8h1.1M337 103.3h1.1M337.1 101.8h1.1M336.9 100.2h1.1M337.2 99.8h1.1M336.9 97.8h1.1M337.5 96.2h1.1M337.5 94.7h1.1M337.5 93.8h1.1M337.5 93h1.1M337.7 91.2h1.1M337.9 106.3h1.1M337.9 105.5h1.1M338.2 104.4h1.1M338 103h1.1M338.7 106.1h1.1M338.7 104.9h1.1M338.7 103.1h1.1M338.5 102.1h1.1M339 103.5h1.1M339 101.8h1.1M339.2 100.2h1.1M339.1 99.3h1.1M339.2 97.6h1.1M339 93.4h1.1M339.6 92.8h1.1M339.6 92h1.1M339.6 90.3h1.1M339.5 88.7h1.1M339.7 87.4h1.1M339.4 85.6h1.1M339.4 83.7h1.1M339.5 82.8h1.1M339.5 81.4h1.1M339.6 80.1h1.1M340 90.2h1.1M340 88.4h1.1M340.1 86.5h1.1M339.9 85.5h1.1M340 84.2h1.1M340 82.2h1.1M340.2 80.7h1.1M340 78.3h1.1M340.4 99.7h1.1M340.5 98.7h1.1M340.6 97.8h1.1M340.5 96.5h1.1M340.6 94.8h1.1M340.6 93.9h1.1M340.7 93.6h1.1M340.7 91.4h1.1M340.9 97h1.1M341.1 95.3h1.1M340.9 94.2h1.1M340.9 92.4h1.1M341 91.3h1.1M341.7 97.8h1.1M341.4 96.4h1.1M341.4 95.3h1.1M341.4 94.4h1.1M341.4 93.2h1.1M341.5 87.1h1.1M342 104.7h1.1M341.9 103.7h1.1M342.1 102.7h1.1M341.9 100.6h1.1M342.4 101.9h1.1M342.5 100.8h1.1M342.6 99.2h1.1M342.6 97.4h1.1M342.4 96.5h1.1M343 102.8h1.1M342.9 101.4h1.1M342.9 99.8h1.1M343.1 98.7h1.1M343 97.8h1.1M343.1 96.1h1.1M343 94.8h1.1M343.4 107.6h1.1M343.6 106.7h1.1M343.6 100.5h1.1M344 107.6h1.1M344.1 105.9h1.1M344.2 102.1h1.1M344.6 106.3h1.1M345.1 103.5h1.1M345.1 102.1h1.1M345.1 100.5h1.1M344.9 101.4h1.1M345.5 104h1.1M345.4 102.3h1.1M345.7 100.5h1.1M345.7 100.9h1.1M346.1 104.9h1.1M346 103.4h1.1M345.9 102.2h1.1M346 100.4h1.1M346.1 98.9h1.1M346.5 104.3h1.1M346.7 103.4h1.1M346.5 102.5h1.1M346.4 101.4h1.1M346.5 100.2h1.1M346.5 98.6h1.1M346.4 98h1.1M347.2 104.2h1.1M347 102.7h1.1M347.1 101.3h1.1M346.9 99.7h1.1M347.1 98.2h1.1M347 92.3h1.1M347 95.6h1.1M347.6 103.2h1.1M347.6 101.8h1.1M347.6 100.5h1.1M347.4 96.7h1.1M348.1 105h1.1M348.1 104.1h1.1M348 102.7h1.1M348.1 101.4h1.1M348.2 100.3h1.1M348.6 104.4h1.1M348.6 102.6h1.1M348.5 100.8h1.1M348.7 95.2h1.1M348.6 97.3h1.1M348.9 101.8h1.1M348.9 100.2h1.1M349 99.2h1.1M349.1 97.7h1.1M349 95.8h1.1M349.2 94.9h1.1M349.2 93.4h1.1M349 94.2h1.1M349.7 101.8h1.1M349.5 99.9h1.1M349.7 97.9h1.1M349.7 96.7h1.1M349.6 94.7h1.1M349.4 92.8h1.1M349.9 102.2h1.1M349.9 100.8h1.1M350.1 99.3h1.1M350 97.7h1.1M350.2 96.6h1.1M350.2 94.8h1.1M350 94.5h1.1M350.1 90.7h1.1M350.5 100.3h1.1M350.5 99.4h1.1M350.4 97.9h1.1M350.4 94.5h1.1M350.4 97.2h1.1M315.4 83h1.1M315.5 83.2h1.1M315.1 81.9h1.1M314.4 82h1.1M315.1 81.2h1.1M315 80.5h1.1M314.6 80.3h1.1M314.6 79.5h1.1M314.7 80h1.1M314.5 79h1.1M314.9 77h1.1M314.7 75.9h1.1M314.4 73.7h1.1M314.7 71h1.1M315.7 69.4h1.1M314.5 68.1h1.1M315.1 68h1.1M321.3 79.5h1.1M321.7 80h1.1M320.8 78.6h1.1M322.1 78.5h1.1M321.1 78h1.1M321.3 77.8h1.1M321.9 76.9h1.1M321 77.2h1.1M322 76h1.1M321.9 74.7h1.1M321.6 74h1.1M333.2 80h1.1M333.4 78.6h1.1M333 76.1h1.1M333.5 73.8h1.1M333.2 71.2h1.1M332.9 69.1h1.1M332.7 66.8h1.1M333.1 66.2h1.1M338.9 73.5h1.1M339.8 73.4h1.1M340.3 72.8h1.1M339.6 72.7h1.1M340.3 72h1.1M339.2 71h1.1M340.2 68.4h1.1M339.6 68h1.1M345 83h1.1M344.9 82.6h1.1M344.8 81.9h1.1M345.3 82.1h1.1M345.9 81.3h1.1M345.4 80.5h1.1M346.1 80h1.1M345.6 79h1.1M347.3 95h1.1M347.2 94.1h1.1M347.4 93.1h1.1M347.8 91.8h1.1M347.9 90.5h1.1M347.4 89.3h1.1M347.2 88.3h1.1M348 88h1.1M347.2 85.2h1.1M347.5 83.3h1.1M347.6 81.2h1.1M347.9 79.8h1.1M347.6 79h1.1M384.2 99.5h1.1M384.2 97.7h1.1M384.3 96.3h1.1M384.3 94.4h1.1M384.1 93h1.1M384.2 91.7h1.1M384.3 90h1.1M384.7 101h1.1M384.9 99h1.1M384.9 97.2h1.1M384.9 96.2h1.1M384.7 95h1.1M384.7 93.5h1.1M384.9 92.4h1.1M385.4 102.4h1.1M385.2 100.5h1.1M385.2 98.5h1.1M385.1 96.6h1.1M385.1 95h1.1M385.1 93.8h1.1M385.4 92h1.1M385.2 90.7h1.1M385.3 88.9h1.1M385.9 99.2h1.1M385.9 97.2h1.1M385.8 95.5h1.1M385.6 94.7h1.1M385.7 92.8h1.1M385.9 90.9h1.1M385.9 90.8h1.1M385.6 88.7h1.1M386.4 100.3h1.1M386.3 98.7h1.1M386.3 96.9h1.1M386.4 95.2h1.1M386.3 93.5h1.1M386.3 92.3h1.1M386.3 90.5h1.1M386.3 89.4h1.1M386.8 101.9h1.1M386.8 100.5h1.1M386.7 98.6h1.1M386.9 97h1.1M386.9 95.9h1.1M386.7 94.8h1.1M386.7 93.6h1.1M386.8 92h1.1M386.9 92.1h1.1M387.2 99.1h1.1M387.4 97.7h1.1M387.3 96.7h1.1M387.4 95.3h1.1M387.4 93.7h1.1M387.3 92.4h1.1M387.8 98.1h1.1M387.9 97h1.1M387.7 96.1h1.1M387.9 94.4h1.1M387.8 92.8h1.1M387.7 92.7h1.1M387.8 92.8h1.1M388.4 94h1.1M388.3 92.2h1.1M388.4 90.8h1.1M388.2 88.9h1.1M388.1 87.7h1.1M388.2 86.2h1.1M388.3 86.2h1.1M388.3 85.5h1.1M388.6 101.3h1.1M388.7 99.9h1.1M388.7 98.2h1.1M388.6 97.3h1.1M388.8 96.1h1.1M388.8 94.5h1.1M388.8 92.5h1.1M388.8 91.7h1.1M388.8 90.5h1.1M388.7 89.4h1.1M388.8 88.4h1.1M388.7 86.4h1.1M388.8 86.6h1.1M388.7 86.6h1.1M389.2 98.9h1.1M389.3 97.2h1.1M389.4 96h1.1M389.4 94.4h1.1M389.6 100.3h1.1M389.9 98.6h1.1M389.7 96.8h1.1M389.7 95h1.1M389.7 96.3h1.1M390.3 100.4h1.1M390.2 99h1.1M390.1 97.5h1.1M390.4 95.8h1.1M390.3 95.7h1.1M390.7 98.3h1.1M390.8 97.3h1.1M390.8 96.4h1.1M390.9 95.5h1.1M390.8 93.8h1.1M390.8 91.9h1.1M390.7 87.1h1.1M391.3 98.3h1.1M391.2 96.4h1.1M391.3 95.2h1.1M391.2 94.3h1.1M391.2 92.8h1.1M391.1 89.2h1.1M391.8 98.8h1.1M391.9 97.9h1.1M391.8 97h1.1M391.8 95.5h1.1M391.8 94.4h1.1M391.7 92.7h1.1M391.9 92.5h1.1M392.3 102.4h1.1M392.2 100.7h1.1M392.2 99h1.1M392.4 97h1.1M392.4 95.1h1.1M392.2 90.1h1.1M392.4 94.3h1.1M392.8 100.2h1.1M392.7 99.3h1.1M392.9 98.4h1.1M392.8 96.5h1.1M392.6 95.1h1.1M392.6 90.1h1.1M392.6 92h1.1M393.3 101.4h1.1M393.2 99.4h1.1M393.3 98.2h1.1M393.1 96.3h1.1M393.4 93.8h1.1M393.6 99.7h1.1M393.7 98.5h1.1M393.7 96.7h1.1M393.8 95.1h1.1M393.6 93.8h1.1M393.6 92.4h1.1M394.1 99.8h1.1M394.2 98.4h1.1M394.2 96.5h1.1M394.2 95.4h1.1M394.3 93.7h1.1M394.3 92.7h1.1M394.3 90.8h1.1M394.7 99.7h1.1M394.8 98.8h1.1M394.7 97.3h1.1M394.7 96.1h1.1M394.7 94.2h1.1M394.8 92.3h1.1M394.8 91.3h1.1M394.7 88.4h1.1M394.8 89.7h1.1M395.3 102.8h1.1M395.3 101.9h1.1M395.2 100.1h1.1M395.3 98.8h1.1M395.4 97.3h1.1M395.1 97h1.1M395.7 102.2h1.1M395.8 101.2h1.1M395.9 100h1.1M395.7 99h1.1M395.6 97.1h1.1M396.3 104.8h1.1M396.4 103.9h1.1M396.4 102.7h1.1M396.3 101.8h1.1M396.2 100h1.1M396.2 99.4h1.1M396.8 104.9h1.1M396.7 103.3h1.1M396.6 101.9h1.1M396.9 100.2h1.1M396.6 99.4h1.1M397.2 98.2h1.1M397.4 97.1h1.1M397.3 95.7h1.1M397.4 94.6h1.1M397.2 93h1.1M397.1 91.4h1.1M397.3 89.4h1.1M397.2 88.4h1.1M397.3 86.5h1.1M397.3 84.7h1.1M397.6 98.9h1.1M397.6 97.2h1.1M397.9 95.8h1.1M397.8 94.1h1.1M397.7 93.1h1.1M397.8 91.6h1.1M397.6 90.5h1.1M397.9 89.3h1.1M397.7 87.9h1.1M397.7 87h1.1M397.7 85.1h1.1M397.7 83.7h1.1M397.8 83.7h1.1M398.1 97.7h1.1M398.2 96.2h1.1M398.3 94.2h1.1M398.1 93.4h1.1M398.1 92.1h1.1M398.4 90.4h1.1M398.2 88.8h1.1M398.1 87.1h1.1M398.3 84.9h1.1M398.6 101.5h1.1M398.8 100.6h1.1M398.8 99.7h1.1M398.8 98.6h1.1M398.7 97.3h1.1M398.7 96h1.1M398.7 94h1.1M398.8 93.1h1.1M399.3 100.8h1.1M399.3 99h1.1M399.3 97.1h1.1M399.2 95.9h1.1M399.4 94.1h1.1M399.1 89.3h1.1M399.7 99.6h1.1M399.7 97.7h1.1M399.7 96.6h1.1M399.7 94.9h1.1M399.8 94h1.1M400.1 99.4h1.1M400.4 97.6h1.1M400.3 96.8h1.1M400.4 95h1.1M400.4 93.1h1.1M400.1 91.2h1.1M400.4 88.7h1.1M400.7 98.1h1.1M400.8 96.2h1.1M400.7 94.8h1.1M400.7 93.7h1.1M400.7 92.6h1.1M400.7 91.1h1.1M400.7 89.6h1.1M400.7 88.2h1.1M400.9 86.4h1.1M400.6 85.4h1.1M400.6 84.2h1.1M401.3 99.8h1.1M401.4 98.8h1.1M401.4 97.1h1.1M401.3 95.2h1.1M401.4 93.2h1.1M401.2 92.2h1.1M401.3 90.8h1.1M401.2 89.8h1.1M401.4 88.1h1.1M401.4 86.7h1.1M401.4 84.9h1.1M401.7 94.2h1.1M401.8 92.5h1.1M401.7 91.4h1.1M401.9 90.3h1.1M401.6 89h1.1M401.9 88.1h1.1M401.9 86.2h1.1M401.6 84.3h1.1M401.8 83.4h1.1M401.7 81.4h1.1M402.3 99.7h1.1M402.4 98.8h1.1M402.2 97.1h1.1M402.3 95.6h1.1M402.3 94.4h1.1M402.1 92.7h1.1M402.3 91.3h1.1M402.3 90h1.1M402.4 88.6h1.1M402.3 87.5h1.1M402.3 85.7h1.1M402.7 98h1.1M402.9 96.1h1.1M402.8 95.1h1.1M402.7 93.5h1.1M402.9 92.1h1.1M402.8 90.7h1.1M402.6 89.3h1.1M402.6 87.6h1.1M402.6 85.8h1.1M402.7 84.3h1.1M402.8 82.7h1.1M403.2 94.3h1.1M403.4 92.9h1.1M403.2 91.6h1.1M403.2 90.2h1.1M403.3 89.3h1.1M403.4 87.9h1.1M403.7 102.5h1.1M403.6 101.2h1.1M403.8 100.3h1.1M403.9 98.3h1.1M403.7 97.2h1.1M403.8 96.3h1.1M403.8 94.9h1.1M403.8 94h1.1M403.7 93h1.1M403.7 92.6h1.1M403.9 92.7h1.1M404.1 97.8h1.1M404.3 96.1h1.1M404.2 94.3h1.1M404.1 92.5h1.1M404.3 91h1.1M404.2 91.5h1.1M404.9 100.7h1.1M404.8 99.5h1.1M404.7 98.2h1.1M404.6 96.6h1.1M404.6 94.7h1.1M404.8 93.7h1.1M404.8 91.3h1.1M405.3 106.3h1.1M405.4 104.5h1.1M405.1 102.3h1.1M405.7 106.7h1.1M405.6 105.3h1.1M405.7 104.5h1.1M405.8 99.3h1.1M406.4 106.4h1.1M406.3 104.5h1.1M406.7 106h1.1M406.7 104.3h1.1M406.9 103.3h1.1M406.7 99.5h1.1M407.4 106.8h1.1M407.3 105.1h1.1M407.2 104.1h1.1M407.8 101.7h1.1M407.6 99.8h1.1M407.8 97.9h1.1M407.8 97h1.1M407.8 95.9h1.1M407.9 94.3h1.1M407.9 92.4h1.1M407.8 90.8h1.1M407.9 89h1.1M407.7 90h1.1M408.2 101.8h1.1M408.2 100.7h1.1M408.3 99.2h1.1M408.1 97.6h1.1M408.2 96.5h1.1M408.3 96.5h1.1M408.6 103.4h1.1M408.8 102h1.1M408.7 101.1h1.1M408.6 99.6h1.1M409.2 104.6h1.1M409.4 103.1h1.1M409.3 101.5h1.1M409.3 101.9h1.1M409.7 98.7h1.1M409.7 97.7h1.1M409.7 95.7h1.1M409.9 94.4h1.1M409.8 91.4h1.1M410.3 101.6h1.1M410.3 100h1.1M410.2 99.2h1.1M410.2 98h1.1M410.2 96.9h1.1M410.2 95.8h1.1M410.2 94h1.1M410.7 105.7h1.1M410.8 104.6h1.1M410.6 103.6h1.1M411.3 103.2h1.1M411.3 101.7h1.1M411.4 100.7h1.1M411.1 99h1.1M411.7 103.9h1.1M411.6 102.9h1.1M411.7 101h1.1M411.8 99.9h1.1M411.9 98.7h1.1M411.6 90.3h1.1M384.3 83h1.1M385.5 81.9h1.1M384.6 82.3h1.1M384.7 80.8h1.1M385.7 80.7h1.1M385.3 79.5h1.1M384.3 79h1.1M384.7 79.3h1.1M385.5 78.1h1.1M385.1 78h1.1M387.8 91.7h1.1M388.2 90.7h1.1M388.1 89.7h1.1M388.4 88.5h1.1M388.4 88h1.1M388.3 86.4h1.1M388 84.9h1.1M388.4 83.2h1.1M388.1 81.4h1.1M388.1 79h1.1M387.8 77.6h1.1M388.3 75.4h1.1M388.4 74.2h1.1M388.1 72.7h1.1M398.2 84h1.1M397.9 82.7h1.1M397.7 83.1h1.1M398 81.4h1.1M397.7 80.3h1.1M397.7 79.3h1.1M396.9 78.3h1.1M397.2 78h1.1M397.1 76.2h1.1M397.6 75.3h1.1M402.1 77h1.1M401.7 77.4h1.1M402.2 76.4h1.1M401.3 76.4h1.1M402.3 75.3h1.1M401.7 74.3h1.1M401.3 73.6h1.1M401.9 72.8h1.1M402.2 72.7h1.1M401.1 71.5h1.1M401.1 68.8h1.1M401.7 66h1.1M402 63.9h1.1M402.2 61.7h1.1M402.1 58.9h1.1M400.9 56.5h1.1M401.6 55.7h1.1M407.9 88h1.1M407.6 87.4h1.1M407.6 86.2h1.1M407.2 85.1h1.1M407.5 85h1.1M407.2 83.9h1.1M407.2 82.6h1.1M407.5 81.5h1.1M408 80.5h1.1M407.6 78h1.1M440 104.5h1.1M440 103.6h1.1M440 102.3h1.1M440 100.9h1.1M440.2 93.7h1.1M440 91.9h1.1M440.5 103.3h1.1M440.6 101.4h1.1M440.6 100.2h1.1M441.1 103.9h1.1M440.9 102.3h1.1M440.9 101.5h1.1M440.9 100h1.1M441 99h1.1M441.1 97.7h1.1M441.1 96.8h1.1M441 95.4h1.1M441.2 93.6h1.1M441.7 103.5h1.1M441.5 102.2h1.1M441.6 100.5h1.1M441.6 99h1.1M441.6 97.5h1.1M441.6 96.1h1.1M441.5 95.3h1.1M441.5 93.4h1.1M442 95.6h1.1M442.2 94.6h1.1M442 92.6h1.1M442 91.5h1.1M442.1 89.9h1.1M442.1 88.8h1.1M442 88.2h1.1M442.5 94.1h1.1M442.5 92.2h1.1M442.7 91.2h1.1M442.6 90h1.1M442.4 88.8h1.1M442.6 87.7h1.1M442.5 86.7h1.1M442.6 86.9h1.1M443 96.7h1.1M443.1 95.3h1.1M443.1 93.7h1.1M443.2 92.2h1.1M443.1 91.2h1.1M443.1 89.6h1.1M443 88.8h1.1M443.1 87.9h1.1M443 87h1.1M443.1 85.4h1.1M443.1 86.3h1.1M443.6 98.1h1.1M443.6 97.2h1.1M443.6 95.3h1.1M443.5 93.4h1.1M443.4 91.5h1.1M443.5 90.4h1.1M443.6 89.5h1.1M443.4 88.1h1.1M443.5 87h1.1M443.5 87.2h1.1M444.1 100.9h1.1M444 99.7h1.1M444 98.7h1.1M444.2 96.8h1.1M444.2 94.9h1.1M443.9 93.2h1.1M444 91.4h1.1M443.9 90.2h1.1M444 89.2h1.1M444 87.5h1.1M444.6 98.2h1.1M444.6 96.2h1.1M444.7 94.4h1.1M444.5 92.6h1.1M444.7 91.6h1.1M444.5 90.6h1.1M445.2 98.5h1.1M445.1 97.4h1.1M445 95.5h1.1M445 93.8h1.1M444.9 91.8h1.1M445.1 90.8h1.1M445 89.6h1.1M444.9 87.7h1.1M445.1 86.7h1.1M445 85.6h1.1M445.7 97h1.1M445.6 95.8h1.1M445.7 94.4h1.1M445.7 93.2h1.1M445.5 92.1h1.1M445.4 90.8h1.1M445.6 89.7h1.1M445.5 88.5h1.1M445.6 87.5h1.1M445.5 86.2h1.1M445.4 84.6h1.1M446 97.5h1.1M446.2 96.2h1.1M446.1 94.3h1.1M446 92.6h1.1M446.2 91.1h1.1M446.2 90.2h1.1M445.9 89.2h1.1M446 88.3h1.1M446 86.7h1.1M446.1 84.7h1.1M446.6 95h1.1M446.6 93.7h1.1M446.5 92.9h1.1M446.4 91.6h1.1M446.7 90.3h1.1M446.7 89.4h1.1M446.6 88.2h1.1M446.6 86.5h1.1M446.7 84.9h1.1M446.6 84.3h1.1M447.1 98.3h1.1M447.2 97h1.1M447.1 95.7h1.1M447 94.6h1.1M447 93.1h1.1M447.2 91.9h1.1M447.1 90.3h1.1M447.1 88.4h1.1M446.9 88h1.1M447 83.5h1.1M447.6 107.2h1.1M447.7 105.6h1.1M447.4 105.9h1.1M447.4 105.7h1.1M448 107.3h1.1M448 105.5h1.1M447.9 105.7h1.1M448.5 107h1.1M448.6 105.7h1.1M448.6 102.4h1.1M449 100.5h1.1M449.1 99.1h1.1M449.1 97.9h1.1M449.2 96.4h1.1M449 95.1h1.1M449.1 90.1h1.1M449.1 95.6h1.1M449.7 102.8h1.1M449.7 100.8h1.1M449.5 99.2h1.1M449.6 97.3h1.1M449.7 96h1.1M450.1 97.3h1.1M450.1 96.3h1.1M450.1 95.4h1.1M450.1 93.5h1.1M449.9 91.8h1.1M449.9 91.3h1.1M450.6 98.9h1.1M450.4 97.6h1.1M450.6 96h1.1M450.6 94.9h1.1M450.7 94h1.1M450.6 92.2h1.1M450.5 90.2h1.1M450.7 88.8h1.1M450.6 87h1.1M450.5 86h1.1M450.6 84.6h1.1M450.5 83.4h1.1M450.5 82.2h1.1M450.5 80.3h1.1M451.2 96.7h1.1M451 95.3h1.1M451 94.3h1.1M451 93h1.1M451 91.3h1.1M451.2 89.9h1.1M450.9 89h1.1M450.9 87.4h1.1M450.9 85.6h1.1M451 84.2h1.1M451 82.8h1.1M451.2 81.7h1.1M451.2 80.1h1.1M451.2 78.4h1.1M451.5 99.6h1.1M451.7 98h1.1M451.5 96.2h1.1M451.6 95.1h1.1M451.4 93.7h1.1M451.7 92.2h1.1M451.6 91.1h1.1M451.5 89.7h1.1M451.4 87.9h1.1M451.4 86.1h1.1M451.5 84.3h1.1M451.6 82.6h1.1M451.5 79.5h1.1M451.6 81.6h1.1M452.1 96.5h1.1M452.1 95.6h1.1M452.1 94.3h1.1M451.9 93.1h1.1M452 91.5h1.1M451.9 90.6h1.1M452.1 88.7h1.1M451.9 87.7h1.1M452 86.2h1.1M452.1 85.4h1.1M452.1 84h1.1M451.9 83h1.1M452.2 81h1.1M452.2 83h1.1M452.6 97.8h1.1M452.5 96.5h1.1M452.6 95.3h1.1M452.5 94.1h1.1M452.7 92.8h1.1M452.6 90.9h1.1M452.6 89.9h1.1M453.1 100h1.1M453.1 98.5h1.1M453.1 97.3h1.1M453.1 95.7h1.1M453.1 94.6h1.1M453 93.2h1.1M453.2 91.3h1.1M453.1 88.5h1.1M453.5 99.9h1.1M453.6 98.9h1.1M453.5 98h1.1M453.5 96.7h1.1M453.7 95.7h1.1M453.5 94h1.1M453.7 92.6h1.1M453.5 90.7h1.1M453.6 88.7h1.1M453.5 86.9h1.1M453.7 85.3h1.1M453.4 84.9h1.1M454.2 98h1.1M454.1 96.3h1.1M454.1 94.6h1.1M454.1 93.6h1.1M454 91.7h1.1M454.2 89.8h1.1M454.1 88.9h1.1M454.1 87.5h1.1M454.1 85.7h1.1M454.6 96.4h1.1M454.6 95.5h1.1M454.5 94.4h1.1M454.5 93.5h1.1M454.6 92.1h1.1M454.7 90.1h1.1M454.6 88.5h1.1M454.4 87.3h1.1M455.2 95.5h1.1M455.1 94.5h1.1M455 92.9h1.1M455.1 91.4h1.1M455.1 90.4h1.1M455 88.6h1.1M455 82.2h1.1M455.6 102.5h1.1M455.6 100.8h1.1M455.5 99.4h1.1M455.7 97.6h1.1M455.5 96.7h1.1M455.6 95h1.1M455.4 93.3h1.1M455.5 92h1.1M455.6 91.2h1.1M455.5 90.2h1.1M456.1 101.8h1.1M456.2 100.5h1.1M456.1 99.1h1.1M455.9 97.9h1.1M456 96.6h1.1M456 95.2h1.1M456.2 93.6h1.1M455.9 92.9h1.1M456.4 101h1.1M456.7 99.4h1.1M456.5 98.3h1.1M456.4 97.1h1.1M456.5 95.2h1.1M456.4 93.4h1.1M456.4 90.3h1.1M457.2 103.9h1.1M457 102.9h1.1M456.9 101h1.1M457.1 99.3h1.1M457.1 98.4h1.1M457.2 93.3h1.1M457.1 97.6h1.1M457.6 102.7h1.1M457.5 101.8h1.1M457.6 100.7h1.1M457.5 99.5h1.1M457.6 98.1h1.1M457.5 99.1h1.1M458.1 104.9h1.1M457.9 104h1.1M458.1 102.9h1.1M458.2 101h1.1M458.2 99.1h1.1M458.2 97.8h1.1M457.9 97.7h1.1M458.6 105.6h1.1M458.7 104.4h1.1M458.7 103.6h1.1M458.5 102h1.1M458.5 101.3h1.1M458.9 104.5h1.1M459.1 103.4h1.1M459.1 102.4h1.1M459.2 101.2h1.1M459.6 101.7h1.1M459.4 100.1h1.1M459.7 98.6h1.1M459.5 97.2h1.1M459.7 96h1.1M459.4 94.7h1.1M459.6 93.6h1.1M459.5 92.6h1.1M459.6 91.2h1.1M459.5 88.7h1.1M460.1 92.6h1.1M460.1 91.5h1.1M459.9 90.2h1.1M460.1 88.3h1.1M460.1 87.3h1.1M460.1 85.4h1.1M460.1 83.8h1.1M459.9 84.1h1.1M460.5 97.6h1.1M460.4 95.6h1.1M460.4 94.2h1.1M460.6 93.3h1.1M460.4 91.5h1.1M460.4 89.5h1.1M460.5 88.4h1.1M460.6 87.3h1.1M460.6 86.5h1.1M460.7 84.7h1.1M460.4 83.1h1.1M460.4 82h1.1M460.6 80.1h1.1M460.6 78.4h1.1M460.7 76.7h1.1M460.9 97h1.1M460.9 95.2h1.1M461.2 93.9h1.1M461.1 92.9h1.1M460.9 91.8h1.1M461.2 90.3h1.1M461.2 89h1.1M461.1 87.8h1.1M461 86h1.1M461 84.3h1.1M460.9 83h1.1M461.1 77.6h1.1M461.5 100.2h1.1M461.4 98.2h1.1M461.6 96.4h1.1M461.4 94.5h1.1M461.6 93.6h1.1M461.5 92.3h1.1M461.5 92.2h1.1M461.5 93.1h1.1M462.2 102.7h1.1M462.2 101.4h1.1M462 99.6h1.1M462 98.4h1.1M461.9 97.4h1.1M462 96.2h1.1M462.1 95.2h1.1M462.2 93.2h1.1M462 91.2h1.1M462.4 92.4h1.1M462.7 90.6h1.1M462.6 88.8h1.1M462.5 86.9h1.1M462.7 86h1.1M462.5 85.1h1.1M462.5 84h1.1M462.6 82.1h1.1M462.5 80.9h1.1M462.6 80h1.1M462.4 78.8h1.1M462.7 77.6h1.1M462.7 76.3h1.1M462.7 74.7h1.1M462.5 73.2h1.1M463.1 92.9h1.1M463 91.2h1.1M463.1 90.2h1.1M463 89.3h1.1M463 88.1h1.1M463 87.2h1.1M463.1 85.7h1.1M463.1 84h1.1M463 82h1.1M463 80.8h1.1M463 79.9h1.1M463 78.5h1.1M463.1 77.3h1.1M463.2 75.6h1.1M463.2 76.1h1.1M463.2 76.2h1.1M463.4 91.9h1.1M463.6 90h1.1M463.4 88h1.1M463.6 86.5h1.1M463.4 84.7h1.1M463.6 83h1.1M463.5 82.1h1.1M463.6 80.4h1.1M463.5 79.1h1.1M463.7 77.9h1.1M463.4 77.8h1.1M464.1 99.3h1.1M464.2 97.6h1.1M464 96h1.1M463.9 95.2h1.1M464.2 93.2h1.1M464 91.8h1.1M463.9 90h1.1M464 89h1.1M464 88.2h1.1M463.9 87.2h1.1M464 85.6h1.1M464.2 83.8h1.1M464.4 92.1h1.1M464.6 90.4h1.1M464.4 89h1.1M464.7 87.6h1.1M464.7 85.9h1.1M464.4 84.2h1.1M464.7 82.9h1.1M464.5 81.2h1.1M464.5 81.7h1.1M465.1 90.8h1.1M464.9 88.9h1.1M465.1 87.3h1.1M465 85.8h1.1M465 84.7h1.1M465 82.9h1.1M465.1 73.9h1.1M465.6 92h1.1M465.4 90.8h1.1M465.7 89.1h1.1M465.7 87.4h1.1M465.4 86.1h1.1M465.6 84.5h1.1M465.5 81.5h1.1M466 97.8h1.1M466.1 96h1.1M466 94.3h1.1M466.1 92.8h1.1M466 91.7h1.1M465.9 90.8h1.1M466.1 89.7h1.1M466.1 88.2h1.1M466 87.2h1.1M465.9 85.3h1.1M466.1 84.3h1.1M466.2 83h1.1M466.1 81.1h1.1M466.2 81.6h1.1M466.6 97.3h1.1M466.6 95.4h1.1M466.7 94.4h1.1M466.4 93.4h1.1M466.6 91.8h1.1M466.6 90h1.1M466.4 89.1h1.1M466.6 87.6h1.1M466.4 88.9h1.1M467.1 97h1.1M467.1 95.3h1.1M467.2 94.4h1.1M467.2 92.6h1.1M467 90.9h1.1M467.1 89.3h1.1M467.7 101.9h1.1M467.6 100.3h1.1M467.6 98.8h1.1M467.4 98h1.1M467.6 97.2h1.1M467.6 96.2h1.1M467.5 94.2h1.1M467.5 93.4h1.1M467.4 91.5h1.1M467.4 89.8h1.1M468 97.3h1.1M468.2 95.5h1.1M468.1 93.6h1.1M467.9 91.8h1.1M468.2 90.1h1.1M468 90.6h1.1M468.7 95h1.1M468.6 93.4h1.1M468.5 91.9h1.1M468.6 90h1.1M468.5 88.4h1.1M468.4 89.7h1.1M469 92.3h1.1M469 91h1.1M469 89.1h1.1M469.2 87.2h1.1M469 85.4h1.1M468.9 83.7h1.1M469.1 82h1.1M469.1 80h1.1M468.9 78.2h1.1M469.1 76.7h1.1M469.4 102.2h1.1M469.6 100.7h1.1M469.6 99.8h1.1M469.6 98h1.1M469.6 99.6h1.1M469.9 101.5h1.1M470 100.7h1.1M470.2 99h1.1M470.5 105.5h1.1M470.4 104.1h1.1M470.7 103.1h1.1M470.5 101.4h1.1M470.7 100.4h1.1M470.6 98.6h1.1M470.9 99.3h1.1M471.1 97.7h1.1M471.1 96.3h1.1M471.1 95.4h1.1M471.1 93.7h1.1M471.2 92.7h1.1M471.1 91.7h1.1M471 90.1h1.1M470.9 88.4h1.1M471 86.9h1.1M471.5 98.3h1.1M471.6 96.9h1.1M471.6 95.1h1.1M471.5 94.3h1.1M471.5 92.9h1.1M471.5 90.9h1.1M471.6 90.9h1.1M472.2 98.9h1.1M472 98h1.1M472.1 96.2h1.1M472.2 95.1h1.1M472.1 93.8h1.1M472 92.8h1.1M472 92h1.1M472 90h1.1M472.1 91.1h1.1M472.6 91.1h1.1M472.4 89.6h1.1M472.6 88.7h1.1M472.4 86.7h1.1M472.5 85.6h1.1M472.6 84.3h1.1M472.4 82.8h1.1M472.7 81.8h1.1M472.7 80h1.1M473 89.5h1.1M473.2 87.9h1.1M473.1 86.2h1.1M473.1 85.3h1.1M472.9 84.5h1.1M472.9 82.7h1.1M473.2 81.1h1.1M473 79.2h1.1M473.6 97.4h1.1M473.6 95.8h1.1M473.6 93.9h1.1M473.5 92.5h1.1M473.6 91.3h1.1M473.5 89.9h1.1M473.5 88.7h1.1M473.5 86.9h1.1M474.2 95.6h1.1M474.2 94.7h1.1M473.9 93.8h1.1M474 92.2h1.1M474.2 90.4h1.1M474.1 89.2h1.1M474.1 88.2h1.1M474 86.7h1.1M474.2 85.3h1.1M474.2 83.6h1.1M474.5 92.6h1.1M474.5 90.8h1.1M474.6 90h1.1M474.7 89h1.1M474.5 87.2h1.1M474.6 85.3h1.1M474.4 82.4h1.1M474.4 85.3h1.1M475 96.5h1.1M475.2 94.6h1.1M475.1 93.4h1.1M475 92.2h1.1M475 90.9h1.1M475.4 98.1h1.1M475.5 97h1.1M475.6 95.8h1.1M475.5 94.6h1.1M475.6 93.3h1.1M475.4 92.6h1.1M475.4 92.8h1.1M476.1 107.2h1.1M476.1 105.5h1.1M476.2 103.9h1.1M476.2 104.9h1.1M476.2 99.4h1.1M442.4 81h1.1M443 79.8h1.1M443.7 78.8h1.1M443.1 78h1.1M442.8 78.5h1.1M443.4 76.9h1.1M442.5 76h1.1M443 73.8h1.1M443.1 73h1.1M451.1 83h1.1M450.2 83.1h1.1M450 81.9h1.1M450.1 81.1h1.1M450.6 81.2h1.1M450.7 80h1.1M451 78.9h1.1M451.2 77.1h1.1M450.6 75.8h1.1M453.9 89h1.1M453.9 88.1h1.1M453.1 86.9h1.1M454 86h1.1M453.1 86h1.1M453.1 84.8h1.1M453.9 83.5h1.1M453.6 82.5h1.1M460.7 82h1.1M461.5 81.9h1.1M461.6 80.9h1.1M461.7 80.6h1.1M460.6 80h1.1M461 78.8h1.1M461 78.5h1.1M461 78h1.1M461.5 77h1.1M460.9 77.2h1.1M461.5 76h1.1M460.5 74.7h1.1M461.3 73.3h1.1M461.3 72.3h1.1M461.8 70.5h1.1M461.1 69h1.1M466.8 83h1.1M466.8 83.2h1.1M466.3 82.3h1.1M466.7 82.2h1.1M466 81.6h1.1M465.9 80.4h1.1M466.1 80.4h1.1M467.2 80h1.1M466.9 77.3h1.1M467.1 75.3h1.1M466.6 75h1.1M472.9 77h1.1M472.8 77h1.1M474.1 76.1h1.1M473.3 75.7h1.1M473.6 75h1.1M473.6 74h1.1M473.9 71.3h1.1M474.3 69.2h1.1M472.9 67.7h1.1M474.3 65.5h1.1M474.3 63.1h1.1M473.6 63h1.1M445.2 87h1.1M445.5 86.3h1.1M445.6 85.1h1.1M445.3 84.5h1.1M445.6 84h1.1M445.5 82.2h1.1M445.1 80.7h1.1M445.7 79.3h1.1M445.6 78h1.1"/>
<path stroke="#ea8f06" stroke-width="1.1" d="M112 102.3h1.1M112 100.5h1.1M111.9 98.9h1.1M112 97.4h1.1M112 96h1.1M112 95.2h1.1M111.9 94.1h1.1M112 94.3h1.1M112.7 98.7h1.1M112.5 97.7h1.1M112.6 96.9h1.1M112.5 95.3h1.1M112.6 94h1.1M112.7 93.5h1.1M113.1 100.3h1.1M113.1 99h1.1M113.1 97.7h1.1M113.1 96.7h1.1M113.1 95.3h1.1M113.1 93.3h1.1M113.7 99h1.1M113.6 98.1h1.1M113.7 96.5h1.1M113.6 94.7h1.1M113.7 93h1.1M114 100.8h1.1M114 98.9h1.1M114.2 97.2h1.1M114 95.6h1.1M114 94.2h1.1M114 92.3h1.1M114.1 89.6h1.1M114.6 101.2h1.1M114.6 99.4h1.1M114.5 98h1.1M114.6 96h1.1M114.6 95.5h1.1M114.6 87.8h1.1M115 103.4h1.1M115 102.1h1.1M114.9 100.9h1.1M115.1 99.2h1.1M115 98.2h1.1M115 96.7h1.1M115 94.8h1.1M115.1 95.4h1.1M115.4 102.5h1.1M115.7 101.2h1.1M115.4 99.6h1.1M115.7 97.6h1.1M115.5 96.3h1.1M115.4 94.7h1.1M115.4 94.6h1.1M116.1 100.7h1.1M116.1 99.5h1.1M116 98.7h1.1M116 96.7h1.1M116 95h1.1M116 93.3h1.1M116.2 91.7h1.1M116.1 90.3h1.1M116 89.2h1.1M116 88.2h1.1M116.1 86.7h1.1M115.9 85.7h1.1M116.4 101.7h1.1M116.7 100.5h1.1M116.7 99.1h1.1M116.4 97.4h1.1M116.5 95.8h1.1M116.5 94.2h1.1M116.5 92.7h1.1M116.4 91.6h1.1M116.7 89.7h1.1M116.4 88.6h1.1M116.6 87.7h1.1M116.7 82.2h1.1M117 97.9h1.1M116.9 96.4h1.1M116.9 94.8h1.1M117.2 93.5h1.1M116.9 92.6h1.1M117 91.2h1.1M116.9 89.6h1.1M117.2 87.7h1.1M117 86h1.1M116.9 87.4h1.1M117.7 98.3h1.1M117.5 97.3h1.1M117.6 95.9h1.1M117.5 94.7h1.1M117.5 93.8h1.1M117.7 92.5h1.1M117.7 90.6h1.1M117.6 84.3h1.1M118.2 103.8h1.1M118.1 102.4h1.1M118 101.2h1.1M117.9 99.4h1.1M118.1 98.3h1.1M117.9 95.9h1.1M118.5 102.1h1.1M118.5 101.1h1.1M118.5 99.9h1.1M118.5 98h1.1M119.1 98.2h1.1M119 97.1h1.1M119.1 95.7h1.1M119.2 94h1.1M119.2 92.5h1.1M119.1 90.9h1.1M119.1 90h1.1M119.2 88.5h1.1M119.1 86.6h1.1M119.1 84.7h1.1M119.1 83.3h1.1M119.2 81.9h1.1M119.6 91.9h1.1M119.5 91h1.1M119.4 89.8h1.1M119.5 88.3h1.1M119.6 87.1h1.1M119.7 85.8h1.1M119.7 84.3h1.1M119.7 82.8h1.1M119.5 80.9h1.1M119.6 77.4h1.1M119.9 100h1.1M120.1 98.5h1.1M120.2 97.6h1.1M120 96h1.1M120 94.9h1.1M120.1 93.1h1.1M119.9 92.2h1.1M120.1 91.3h1.1M120.1 90.2h1.1M120.1 89.1h1.1M119.9 87.8h1.1M120.1 86h1.1M120.1 84.3h1.1M119.9 82.4h1.1M120 71.1h1.1M120.4 99.4h1.1M120.6 97.8h1.1M120.7 96.3h1.1M120.6 94.3h1.1M120.5 93h1.1M120.6 91.1h1.1M120.6 89.8h1.1M120.4 88.6h1.1M120.5 87.1h1.1M120.6 85.3h1.1M120.5 84.1h1.1M120.5 82.2h1.1M120.5 81h1.1M121 91.4h1.1M121.2 90.6h1.1M121.1 89.3h1.1M120.9 87.8h1.1M121.2 86.2h1.1M120.9 84.3h1.1M121 83.3h1.1M120.9 81.8h1.1M121.1 80h1.1M121.1 78.9h1.1M121.6 96.2h1.1M121.4 94.9h1.1M121.5 93.7h1.1M121.5 91.7h1.1M121.5 90.5h1.1M121.5 89.4h1.1M121.4 88.5h1.1M121.5 86.6h1.1M121.7 85.8h1.1M122.1 96.7h1.1M122.1 95.6h1.1M122.2 94h1.1M122 93.1h1.1M122.1 91.2h1.1M122 90h1.1M122.2 88.7h1.1M122.1 87.1h1.1M122.2 85.1h1.1M122 81.1h1.1M122.6 94.6h1.1M122.6 92.8h1.1M122.6 91.8h1.1M122.6 89.8h1.1M122.6 88.9h1.1M122.5 87.1h1.1M122.5 86.1h1.1M122.7 84.6h1.1M122.7 83.1h1.1M122.5 82h1.1M122.6 80.3h1.1M122.6 79h1.1M122.4 77.8h1.1M122.4 74.7h1.1M123.2 97.3h1.1M123.2 95.8h1.1M123.1 95h1.1M123 93.3h1.1M122.9 92.4h1.1M123.1 91.4h1.1M123.1 90.5h1.1M123.1 89.2h1.1M123.1 87.7h1.1M123.1 86.1h1.1M123.1 84.9h1.1M123 81.2h1.1M123.6 95.3h1.1M123.6 93.6h1.1M123.6 92.4h1.1M123.5 91.2h1.1M123.4 89.8h1.1M123.7 88h1.1M123.6 87h1.1M123.7 85.7h1.1M124 100.5h1.1M124 98.8h1.1M124.1 97.3h1.1M124.2 95.4h1.1M124.1 93.6h1.1M124 92.1h1.1M124 90.5h1.1M124 88.6h1.1M124.2 86.8h1.1M124 85.8h1.1M124.7 106.2h1.1M124.6 105.4h1.1M124.5 99.9h1.1M125 100.9h1.1M125.1 99.8h1.1M125 98.3h1.1M125 96.3h1.1M124.9 94.8h1.1M125.2 93h1.1M125.1 91.8h1.1M125 90h1.1M125.2 90.8h1.1M125.6 96.7h1.1M125.5 94.8h1.1M125.5 93h1.1M125.7 91.2h1.1M125.7 90.2h1.1M125.5 88.2h1.1M125.4 87.4h1.1M126 99.9h1.1M126 98.2h1.1M126 96.9h1.1M126.1 95.4h1.1M126 94.1h1.1M126.1 92.2h1.1M126.1 91.2h1.1M125.9 90.4h1.1M126.1 88.8h1.1M126.7 104.7h1.1M126.4 103.3h1.1M126.6 102.2h1.1M126.6 100.6h1.1M126.6 98.6h1.1M126.4 93h1.1M127 102.6h1.1M127.1 101.8h1.1M127 100.9h1.1M127.5 101.7h1.1M127.5 100.6h1.1M127.7 99.3h1.1M127.5 97.6h1.1M127.6 96.3h1.1M127.4 95h1.1M127.7 93.3h1.1M127.7 91.6h1.1M128.1 99h1.1M128.2 97.4h1.1M128.1 95.6h1.1M128.1 94.7h1.1M128.1 93.8h1.1M128.1 92.6h1.1M128 90.9h1.1M128.1 90.5h1.1M128.5 98.9h1.1M128.6 97.4h1.1M128.6 96.1h1.1M128.6 94.8h1.1M128.6 93.3h1.1M128.6 92.1h1.1M128.7 90.3h1.1M128.5 89.4h1.1M129.1 97.5h1.1M129.2 96.1h1.1M129.1 95.2h1.1M129 93.9h1.1M129 92.9h1.1M128.9 91.3h1.1M129.2 91.7h1.1M129.5 97.8h1.1M129.7 96.6h1.1M129.5 95.3h1.1M129.5 93.7h1.1M129.6 92.4h1.1M129.5 91h1.1M130.1 99.5h1.1M130.1 98.5h1.1M130.1 97.3h1.1M130 96.2h1.1M130 95h1.1M130 94.2h1.1M129.9 92.7h1.1M130.1 91.7h1.1M130 86.1h1.1M130.5 96.7h1.1M130.6 95.4h1.1M130.5 93.9h1.1M130.5 93h1.1M130.6 91.8h1.1M130.5 90.6h1.1M130.6 89h1.1M130.5 87.8h1.1M130.6 88.7h1.1M130.7 79.9h1.1M131.2 101.8h1.1M131 100.9h1.1M131 99.6h1.1M131.1 97.7h1.1M130.9 95.9h1.1M131.2 94.4h1.1M131 92.8h1.1M131 90.8h1.1M131 89.9h1.1M131.1 89h1.1M131 88.2h1.1M131.6 101.1h1.1M131.6 99.4h1.1M131.5 98.5h1.1M131.6 97.6h1.1M131.4 96.7h1.1M131.6 95h1.1M131.6 94.1h1.1M131.5 92.4h1.1M131.6 91.6h1.1M131.6 90.3h1.1M131.6 88.3h1.1M131.4 86.4h1.1M131.7 87h1.1M132.1 101.2h1.1M132 99.8h1.1M132 98.9h1.1M132.1 97.1h1.1M132 95.2h1.1M131.9 94.2h1.1M132 92.7h1.1M132 91.4h1.1M132.2 92.3h1.1M132 91.7h1.1M132.6 103.5h1.1M132.5 102.6h1.1M132.5 101.3h1.1M132.7 100.2h1.1M132.5 98.7h1.1M132.5 97h1.1M132.5 96h1.1M133.1 100.9h1.1M133.2 99.8h1.1M133.1 98.4h1.1M133.1 97h1.1M133 95.4h1.1M133.4 98.3h1.1M133.6 97.4h1.1M133.5 95.5h1.1M133.5 93.9h1.1M133.6 92h1.1M133.9 98.5h1.1M134.1 97.1h1.1M134.1 95.3h1.1M134.1 93.6h1.1M134 88h1.1M134.6 105.8h1.1M134.6 104.7h1.1M134.5 103.8h1.1M134.5 102.1h1.1M134.4 100.5h1.1M134.7 100.7h1.1M135 102.6h1.1M135.1 101.4h1.1M135.2 100h1.1M135.6 100.6h1.1M135.6 98.7h1.1M135.6 97.5h1.1M135.4 96.6h1.1M135.4 95.6h1.1M135.5 94.4h1.1M135.5 93.2h1.1M135.4 90.9h1.1M135.9 103.7h1.1M136 102.7h1.1M135.9 101.8h1.1M136 100.3h1.1M136.5 98.4h1.1M136.4 96.8h1.1M136.6 96h1.1M136.5 94.2h1.1M136.4 93.1h1.1M136.4 92h1.1M136.4 91.1h1.1M137.1 102.1h1.1M137 100.8h1.1M137 99.5h1.1M137 98.6h1.1M137.1 96.7h1.1M136.9 94.9h1.1M137 92.9h1.1M137.1 91.2h1.1M137.6 99.2h1.1M137.6 98.2h1.1M137.5 97.2h1.1M137.6 95.5h1.1M137.6 93.7h1.1M137.5 92.8h1.1M137.5 91.9h1.1M137.5 90.1h1.1M137.7 90.8h1.1M138 95.5h1.1M138 94.6h1.1M138.1 92.9h1.1M138 91.9h1.1M138 91h1.1M138 89.9h1.1M138.5 96.2h1.1M138.7 94.5h1.1M138.6 92.8h1.1M138.6 91.7h1.1M138.6 89.9h1.1M138.6 89h1.1M138.7 87.4h1.1M139.1 96h1.1M139.1 94.2h1.1M139 92.6h1.1M139.1 90.9h1.1M139.2 90.7h1.1M139.2 89.7h1.1M139.5 95.6h1.1M139.5 93.8h1.1M139.5 92.7h1.1M139.5 91.6h1.1M139.6 89.7h1.1M140.1 98.8h1.1M139.9 97.6h1.1M140.2 96h1.1M140.1 94.8h1.1M140.1 93h1.1M140.7 99.4h1.1M140.5 98.1h1.1M140.4 96.9h1.1M140.4 95.4h1.1M140.5 94.2h1.1M140.5 93.3h1.1M140.7 93.4h1.1M141 100.8h1.1M141 99.2h1.1M141 97.3h1.1M140.9 96.1h1.1M141 95.1h1.1M141.2 93.4h1.1M141 93.2h1.1M141.4 103.7h1.1M141.4 101.9h1.1M142 104.4h1.1M142.1 103.5h1.1M142.1 101.6h1.1M142.2 102.4h1.1M142.6 98.3h1.1M142.5 96.8h1.1M142.6 95.3h1.1M142.5 93.4h1.1M142.4 91.5h1.1M143 99.1h1.1M143.1 97.9h1.1M143.1 96.9h1.1M143.2 95.6h1.1M142.9 94.2h1.1M143.1 94.1h1.1M143.7 101.8h1.1M143.5 100.2h1.1M143.4 98.5h1.1M143.5 97h1.1M143.7 96.1h1.1M143.5 94.6h1.1M143.5 92.6h1.1M143.5 90.7h1.1M143.4 90.3h1.1M143.7 90.1h1.1M143.9 102.5h1.1M144 101.3h1.1M144.2 99.3h1.1M144 98.3h1.1M144 96.4h1.1M144 95.2h1.1M144 94.3h1.1M144 93h1.1M144 91h1.1M144.5 99.4h1.1M144.7 98.4h1.1M144.5 97.6h1.1M144.6 96.1h1.1M144.5 94.3h1.1M144.5 93.4h1.1M144.5 91.7h1.1M144.4 88.5h1.1M145 99.2h1.1M145 97.2h1.1M144.9 96.2h1.1M145.1 94.7h1.1M145.1 90.6h1.1M145.6 106.7h1.1M145.7 102.7h1.1M146 107.3h1.1M146.5 104.7h1.1M146.5 103.8h1.1M146.7 102.4h1.1M147 105.4h1.1M147.1 103.6h1.1M146.9 101.8h1.1M147.6 103.7h1.1M147.6 101.9h1.1M147.6 102.9h1.1M148.1 103h1.1M148.2 101.5h1.1M148 100.3h1.1M148.2 92.1h1.1M148.1 99.9h1.1M148.4 103.1h1.1M148.4 101.5h1.1M148.4 100.4h1.1M148.6 98.7h1.1M149 102.5h1.1M149 101h1.1M149 99.2h1.1M149.1 97.4h1.1M148.9 95.5h1.1M149.2 98h1.1M149.5 102.8h1.1M149.4 101.9h1.1M149.7 100.6h1.1M149.6 99.3h1.1M149.4 97.5h1.1M149.5 90.5h1.1M149.9 104.5h1.1M150.1 103.2h1.1M150 101.5h1.1M150 100.3h1.1M150 99h1.1M150.1 98h1.1M150 96.6h1.1M150.5 101.8h1.1M150.4 100.1h1.1M150.6 98.4h1.1M151.2 104.9h1.1M151.1 103.2h1.1M151 102.1h1.1M151.1 101.1h1.1M151 99.1h1.1M151 98.3h1.1M150.9 97.6h1.1M151.5 104h1.1M151.7 102h1.1M151.5 100.2h1.1M151.4 98.5h1.1M151.6 97.5h1.1M151.5 97.2h1.1M151.7 95.9h1.1M152.1 103.6h1.1M152.1 101.9h1.1M152.2 100.9h1.1M151.9 99.6h1.1M152.1 98.6h1.1M151.9 97.8h1.1M152.2 94.7h1.1M152.7 101.2h1.1M152.6 100h1.1M152.6 98.6h1.1M152.4 96.7h1.1M153 105.8h1.1M153.1 104.3h1.1M153 103.5h1.1M153.7 101.5h1.1M153.5 99.8h1.1M153.6 98h1.1M153.5 97h1.1M153.4 97.8h1.1M154.1 104.1h1.1M154.1 102.3h1.1M153.9 100.6h1.1M154.2 99.7h1.1M153.9 98h1.1M154.6 100.7h1.1M154.6 99.8h1.1M154.5 98.3h1.1M112.7 95h1.1M113.3 94.4h1.1M113.5 93.7h1.1M112.7 92.6h1.1M112.7 91.5h1.1M112.7 90.5h1.1M113.4 89.3h1.1M112.6 88.1h1.1M113.1 88h1.1M113.1 85.5h1.1M113.1 83.4h1.1M112.6 81h1.1M113.1 79.9h1.1M112.9 78.3h1.1M113.3 77.3h1.1M113.4 76.3h1.1M113 75.6h1.1M114.5 92.5h1.1M114.7 91.8h1.1M114.5 91.1h1.1M115 90.4h1.1M114.4 89.4h1.1M114.8 88.7h1.1M114.9 87.5h1.1M114.4 86.9h1.1M114.8 86.1h1.1M114.7 86h1.1M114.8 83.2h1.1M114.1 82.2h1.1M114.7 81h1.1M114.6 78.9h1.1M114.5 77.1h1.1M114.7 75h1.1M114.5 72.5h1.1M117.4 90h1.1M117.6 88.8h1.1M117.3 88.1h1.1M117.6 87.2h1.1M117.7 87.2h1.1M116.7 86.1h1.1M116.8 86h1.1M117 85.5h1.1M117.7 84.4h1.1M117.8 84h1.1M116.7 81.6h1.1M116.9 80.2h1.1M116.6 79.2h1.1M117.7 76.6h1.1M117 75.6h1.1M120 86h1.1M120 84.8h1.1M118.9 85.1h1.1M119.8 84h1.1M119.6 84.4h1.1M119.6 83.2h1.1M120.3 82.3h1.1M120.2 82.5h1.1M118.9 81h1.1M119.2 81.4h1.1M119.2 80.4h1.1M119 79.1h1.1M119.8 79.3h1.1M120 78h1.1M119.2 77.5h1.1M119.1 76.9h1.1M120.3 77h1.1M119.8 75.9h1.1M119.9 75.7h1.1M118.9 75.6h1.1M119.3 74.6h1.1M118.9 73.3h1.1M119.5 72h1.1M123.4 81h1.1M123 80.2h1.1M121.8 80h1.1M122.9 79.3h1.1M123 78.9h1.1M122.3 78.1h1.1M123.1 77.4h1.1M123.2 77.8h1.1M122.1 76.4h1.1M122 76.8h1.1M122.8 75.7h1.1M122.8 75.3h1.1M121.8 75h1.1M122.8 74.1h1.1M122.1 73.7h1.1M123.2 73.5h1.1M123.4 73.4h1.1M121.9 72.4h1.1M122.3 71.6h1.1M121.9 71.4h1.1M122.2 70.4h1.1M123 70.2h1.1M122 69.7h1.1M122.3 69.9h1.1M123.2 69.3h1.1M122.8 68.2h1.1M122.1 65.7h1.1M122.4 64.7h1.1M122.5 63.4h1.1M121.8 61.2h1.1M122.5 59.9h1.1M122.1 58.6h1.1M121.9 56.8h1.1M122.3 55.7h1.1M123.3 53.9h1.1M121.8 51.9h1.1M123 50.5h1.1M123.2 48.5h1.1M123.2 45.7h1.1M122.5 45.6h1.1M125.2 86h1.1M124.2 85.7h1.1M124.1 84.8h1.1M124.2 85.2h1.1M124.9 83.9h1.1M124.5 83.7h1.1M124.8 83.1h1.1M124 83.6h1.1M124.1 82.2h1.1M124.8 82.2h1.1M124.5 81.6h1.1M124.2 80.6h1.1M124.7 80.7h1.1M125 79.9h1.1M125.1 78.8h1.1M125.1 78.5h1.1M124.7 78h1.1M124.2 77.4h1.1M124.5 77h1.1M124.9 76.6h1.1M125.2 76.5h1.1M123.9 75.6h1.1M124.5 74.8h1.1M125.2 74.8h1.1M124.7 73.5h1.1M125 73.2h1.1M124.5 72.2h1.1M125.2 72h1.1M124.3 71.3h1.1M124.4 70.7h1.1M125 70.2h1.1M124.2 69.7h1.1M124.6 69.9h1.1M124.2 69h1.1M125.2 68.6h1.1M124.6 68.3h1.1M125.1 67.8h1.1M124.1 67.5h1.1M124.5 67.4h1.1M124.8 66.3h1.1M124.2 66h1.1M124.4 63.3h1.1M124.5 63h1.1M129.5 94.8h1.1M128.6 94.1h1.1M128.8 93.3h1.1M129.4 92h1.1M129.1 91.1h1.1M129.4 89.9h1.1M129.1 88.9h1.1M128.8 88.2h1.1M129.1 87.1h1.1M129.4 85.9h1.1M128.7 85h1.1M129.4 83.9h1.1M128.7 81.8h1.1M128.8 79.6h1.1M128.9 78.2h1.1M129.2 76.2h1.1M129.3 75.1h1.1M129 73h1.1M129.3 70.8h1.1M129 69.7h1.1M129.1 69.3h1.1M132.6 92.6h1.1M132 91.5h1.1M132.6 90.3h1.1M132.3 89.5h1.1M132.1 88.2h1.1M132.8 88h1.1M132.1 85.4h1.1M132.2 83.1h1.1M132.6 80.9h1.1M132.1 79.6h1.1M132.1 78.2h1.1M132 77.2h1.1M132.3 75.5h1.1M132.4 74.3h1.1M132.4 71.6h1.1M132.6 70h1.1M132 68.2h1.1M131.9 66.3h1.1M132.4 64.6h1.1M134.2 95.3h1.1M135 94.5h1.1M134.9 93.3h1.1M134.7 92.3h1.1M135 91.2h1.1M134.8 90.5h1.1M134.3 89.6h1.1M134.7 88.5h1.1M134.9 87.3h1.1M134.2 86.3h1.1M134.6 86h1.1M134.3 83.7h1.1M134.1 82.6h1.1M134.7 81.3h1.1M134.3 80.2h1.1M134.6 78.8h1.1M140.3 93.2h1.1M139.5 92h1.1M140.6 91.3h1.1M139.6 90h1.1M140.1 89.2h1.1M140 88.3h1.1M139.8 87.4h1.1M139.6 86.8h1.1M139.6 86.1h1.1M140.3 85h1.1M140.4 85h1.1M139.9 82.7h1.1M139.7 80.8h1.1M140.1 78.1h1.1M139.6 77h1.1M139.9 74.8h1.1M139.7 72.5h1.1M140.4 70.1h1.1M140.2 68.9h1.1M140.3 67.6h1.1M140.1 65.3h1.1M145.8 97.5h1.1M145.1 96.7h1.1M145.6 95.7h1.1M145.2 95h1.1M145.2 94h1.1M145.3 92.9h1.1M145.5 92.1h1.1M145.8 91.2h1.1M145.8 90.5h1.1M145.3 89.8h1.1M145.7 88.7h1.1M146 87.7h1.1M145.4 87h1.1M145.3 85.9h1.1M145.3 85.2h1.1M145.9 85h1.1M146 82.7h1.1M145.6 82h1.1M152.4 98.5h1.1M152.8 97.7h1.1M152.7 97h1.1M152.1 96.4h1.1M152.2 95.4h1.1M152.9 94.2h1.1M152.2 93.2h1.1M152.6 92.6h1.1M152.4 91.6h1.1M152.6 90.5h1.1M152.2 90h1.1M152.4 88.9h1.1M152.3 87h1.1M152.3 84.8h1.1M152.5 83.2h1.1M152.8 80.9h1.1M152.6 80.4h1.1M198 105.5h1.1M197.9 104.1h1.1M198.1 102.4h1.1M198.2 99.1h1.1M198.6 104.2h1.1M198.5 102.8h1.1M198.6 101.8h1.1M199 102.9h1.1M199.1 101.6h1.1M199.2 99.7h1.1M198.9 100h1.1M199.6 95.5h1.1M199.5 94h1.1M199.6 92.4h1.1M199.5 90.4h1.1M199.5 89.6h1.1M200 95.2h1.1M199.9 94.3h1.1M200.1 93.1h1.1M200 91.3h1.1M200 89.5h1.1M199.9 89h1.1M199.9 87.1h1.1M200.6 102.2h1.1M200.5 100.5h1.1M200.5 99.5h1.1M200.4 98.2h1.1M200.5 97.3h1.1M200.5 95.5h1.1M200.5 93.8h1.1M200.5 91.8h1.1M200.4 90.5h1.1M200.7 88.8h1.1M200.4 86.7h1.1M201.1 96.1h1.1M200.9 94.6h1.1M201 93.3h1.1M200.9 91.5h1.1M201 89h1.1M201.6 100.5h1.1M201.6 99.3h1.1M201.6 97.8h1.1M201.5 95.8h1.1M201.4 93.8h1.1M202.1 99.7h1.1M202 98.3h1.1M202.1 96.7h1.1M202.2 95.6h1.1M202.2 94.3h1.1M201.9 93h1.1M202.6 99.2h1.1M202.6 97.8h1.1M202.5 96.2h1.1M202.6 94.8h1.1M202.5 93.1h1.1M202.4 92.5h1.1M202.9 99.3h1.1M202.9 97.6h1.1M203 96.7h1.1M203 95.3h1.1M203.2 93.4h1.1M203.1 92.3h1.1M203.1 90.6h1.1M203.2 89.5h1.1M202.9 87.6h1.1M203 86.4h1.1M203 85.4h1.1M203.2 85.7h1.1M203.5 101h1.1M203.4 99.9h1.1M203.4 98.7h1.1M203.5 97.7h1.1M203.5 96.2h1.1M203.6 95h1.1M203.6 93.3h1.1M203.7 92.1h1.1M203.6 90.3h1.1M203.5 89h1.1M203.7 88h1.1M203.4 86.5h1.1M204.2 106.7h1.1M203.9 104.1h1.1M204.5 106.5h1.1M204.5 106.8h1.1M204.9 97.2h1.1M205 95.9h1.1M205 94.5h1.1M205 93.6h1.1M205 91.8h1.1M204.9 90.1h1.1M205 88.7h1.1M205.7 95.9h1.1M205.6 94.2h1.1M205.4 92.6h1.1M205.4 90.7h1.1M205.6 89h1.1M205.4 89h1.1M206 97.7h1.1M206 96.6h1.1M206.1 94.8h1.1M206 93.8h1.1M206 92.8h1.1M206 91.3h1.1M205.9 89.6h1.1M206.6 97.5h1.1M206.5 95.7h1.1M206.7 94.9h1.1M206.4 93.8h1.1M206.7 92.8h1.1M207.1 103.1h1.1M207 101.9h1.1M207.2 100.7h1.1M207.1 99.4h1.1M207.2 98h1.1M207.1 96.6h1.1M207.2 94.8h1.1M206.9 93.5h1.1M207 91.7h1.1M207.2 91.9h1.1M207.2 91.5h1.1M207.6 100.7h1.1M207.6 98.8h1.1M207.7 97.4h1.1M207.4 96.4h1.1M207.5 95.2h1.1M207.5 94.2h1.1M207.7 93.4h1.1M207.6 89.1h1.1M208.1 106.9h1.1M208.1 105.3h1.1M208.5 107.1h1.1M208.6 105.2h1.1M208.6 106.3h1.1M209.1 106.3h1.1M209.1 106.2h1.1M209 106.5h1.1M209.5 101.9h1.1M209.5 100.5h1.1M209.5 99.2h1.1M209.7 97.9h1.1M209.4 97h1.1M209.5 95.4h1.1M209.4 95.1h1.1M210.2 103.2h1.1M210.2 101.6h1.1M210 99.7h1.1M210 98.1h1.1M210.2 96.3h1.1M210 94.4h1.1M210 93.5h1.1M210.1 94h1.1M210.5 104.1h1.1M210.5 102.5h1.1M210.7 101.7h1.1M210.6 96.8h1.1M211 104.9h1.1M211.1 103h1.1M211 102.1h1.1M211.2 102.4h1.1M211.6 104.2h1.1M211.7 102.8h1.1M211.4 101.1h1.1M211.5 102.7h1.1M211.4 96.1h1.1M212.1 100.8h1.1M212.1 98.9h1.1M212.1 97.8h1.1M212.1 96.7h1.1M212 95.7h1.1M212.2 94.4h1.1M212 93.4h1.1M212 92.4h1.1M212 91.2h1.1M212 89.5h1.1M212 88.1h1.1M212 82.7h1.1M212.6 98.6h1.1M212.5 97h1.1M212.4 95.8h1.1M212.5 94h1.1M212.5 92.3h1.1M212.5 90.9h1.1M212.5 89.9h1.1M212.6 88.3h1.1M212.6 87.5h1.1M212.4 86.1h1.1M212.4 86.1h1.1M213 100.4h1.1M213.1 99.1h1.1M213.1 97.4h1.1M213.1 95.5h1.1M212.9 94.6h1.1M213 93.6h1.1M213.1 92.2h1.1M213 90.7h1.1M213.2 89.6h1.1M213 87.9h1.1M213.6 98.7h1.1M213.6 97.4h1.1M213.6 95.7h1.1M213.6 94h1.1M213.7 92.1h1.1M213.6 90.6h1.1M213.5 89.4h1.1M213.5 87.9h1.1M214.1 97.4h1.1M214 96.2h1.1M214.2 94.7h1.1M214.1 92.7h1.1M214.1 91.6h1.1M214.1 89.7h1.1M214 88.9h1.1M213.9 87.4h1.1M214 85.5h1.1M213.9 84h1.1M213.9 81.1h1.1M214.7 88.4h1.1M214.4 87h1.1M214.6 85.1h1.1M214.5 83.7h1.1M214.5 82.7h1.1M214.5 81.3h1.1M214.4 80.2h1.1M214.5 79h1.1M214.6 77.7h1.1M214.7 76.8h1.1M214.7 73h1.1M215.1 91.4h1.1M215 90.5h1.1M215.2 89.6h1.1M215 88.4h1.1M214.9 86.9h1.1M215.1 85.3h1.1M215.2 83.5h1.1M214.9 82.4h1.1M215.1 80.7h1.1M215 79.4h1.1M215.1 78.4h1.1M215.1 77.1h1.1M215 75.9h1.1M215 76.5h1.1M215.1 76.7h1.1M215.5 90.8h1.1M215.6 89h1.1M215.4 87.8h1.1M215.7 86.8h1.1M215.6 85.9h1.1M215.6 84.5h1.1M215.5 83.1h1.1M215.4 81.6h1.1M215.4 79.7h1.1M215.6 78.7h1.1M215.6 77.2h1.1M215.7 75.5h1.1M215.4 74.7h1.1M216.2 86.6h1.1M216.2 85.6h1.1M216.1 83.8h1.1M216.2 82.3h1.1M215.9 80.5h1.1M216 78.7h1.1M216.1 77.5h1.1M216.2 75.8h1.1M216.6 98h1.1M216.7 96.6h1.1M216.5 95.6h1.1M216.6 94h1.1M216.7 92.7h1.1M216.4 91.2h1.1M216.4 90.2h1.1M216.5 88.7h1.1M216.5 87.6h1.1M216.7 86.7h1.1M216.6 84.9h1.1M216.5 83.6h1.1M216.5 82.1h1.1M216.7 80.1h1.1M216.6 78.4h1.1M216.4 77.5h1.1M216.4 76.3h1.1M216.6 71h1.1M217 97.1h1.1M217 95.8h1.1M217 95h1.1M217.1 93.1h1.1M217.1 91.8h1.1M217.1 90.1h1.1M217 88.6h1.1M217.2 87.2h1.1M216.9 85.9h1.1M217 84h1.1M217.1 82.4h1.1M217.1 81.6h1.1M217.2 79.7h1.1M217.5 96.6h1.1M217.7 94.9h1.1M217.5 93.1h1.1M217.6 91.4h1.1M217.6 90.4h1.1M217.7 89.6h1.1M217.5 87.8h1.1M217.7 78.3h1.1M218.2 101.5h1.1M218.1 100.4h1.1M218.1 99.2h1.1M218.2 97.3h1.1M218 95.4h1.1M217.9 93.6h1.1M218.2 92.3h1.1M218 91.2h1.1M218 89.7h1.1M217.9 88.5h1.1M217.9 85h1.1M218.4 100.4h1.1M218.6 98.4h1.1M218.6 97.1h1.1M218.7 95.1h1.1M218.5 93.7h1.1M218.7 92.2h1.1M218.6 90.6h1.1M218.5 88.8h1.1M218.7 88.3h1.1M218.7 90.1h1.1M219 90h1.1M219.1 88.7h1.1M218.9 87.4h1.1M219.1 86.5h1.1M219 85.5h1.1M219.2 83.8h1.1M219 81.9h1.1M219.1 81.1h1.1M219 76.9h1.1M219 81.2h1.1M219.4 99h1.1M219.4 97.5h1.1M219.7 96.2h1.1M219.6 94.3h1.1M219.4 92.9h1.1M219.5 91.7h1.1M219.6 90.2h1.1M219.6 89.3h1.1M219.4 87.9h1.1M219.6 86.8h1.1M219.4 85h1.1M219.5 83.4h1.1M219.4 83.7h1.1M220.2 106.2h1.1M220 105.3h1.1M220.1 103.7h1.1M220.5 105h1.1M220.5 103h1.1M220.9 105.6h1.1M221 104.5h1.1M221.2 102.4h1.1M221.7 104.8h1.1M221.4 102.9h1.1M221.5 101.1h1.1M221.5 94.1h1.1M222.2 100.5h1.1M222.2 98.9h1.1M222.1 98h1.1M222.6 102h1.1M222.6 100.7h1.1M222.5 99.4h1.1M222.7 97.4h1.1M222.4 95.5h1.1M222.7 98.3h1.1M223 100.9h1.1M223.2 99.8h1.1M223.1 98.9h1.1M223 98.1h1.1M223.1 96.3h1.1M223.4 102.2h1.1M223.5 100.4h1.1M223.7 99.1h1.1M223.6 97.7h1.1M224.2 101.1h1.1M224.1 99.8h1.1M224.1 98h1.1M224.1 96.1h1.1M224.2 94.2h1.1M224.1 93.3h1.1M224 92.2h1.1M224.2 91h1.1M224.6 97.6h1.1M224.5 96.5h1.1M224.5 95.7h1.1M224.5 93.7h1.1M224.7 92.4h1.1M224.4 91.3h1.1M224.5 90.1h1.1M225.2 99.7h1.1M225.1 98.8h1.1M224.9 97.9h1.1M225.2 97h1.1M225.1 95.5h1.1M225 94.2h1.1M225.1 93h1.1M225 91.8h1.1M225.5 101.2h1.1M225.6 99.3h1.1M225.6 97.8h1.1M225.5 96h1.1M225.7 95.2h1.1M225.4 93.5h1.1M225.5 92.5h1.1M226.1 102.8h1.1M226.1 101.5h1.1M226.1 100.1h1.1M226.2 98.5h1.1M226 97.6h1.1M225.9 96.4h1.1M226 95h1.1M226.1 93.4h1.1M225.9 91.9h1.1M225.9 91.6h1.1M226.6 98.4h1.1M226.4 97h1.1M226.6 95.8h1.1M226.6 94.2h1.1M226.5 92.6h1.1M227 103h1.1M227.2 102h1.1M227.1 100.2h1.1M227.2 98.9h1.1M226.9 98.8h1.1M227.5 104.4h1.1M227.4 103h1.1M227.4 101.2h1.1M227.4 99.6h1.1M227.6 97.8h1.1M228.2 101.8h1.1M227.9 100.2h1.1M228.1 99.2h1.1M227.9 97.7h1.1M228.1 96.8h1.1M227.9 95.3h1.1M228 93.6h1.1M228.1 92.1h1.1M228.2 90.8h1.1M228 89.6h1.1M228.2 88.1h1.1M228.6 97.3h1.1M228.7 95.3h1.1M228.5 93.6h1.1M228.5 92.1h1.1M228.6 91h1.1M228.6 90h1.1M228.5 88.6h1.1M228.6 86.9h1.1M228.5 84.4h1.1M229 102.8h1.1M229 101.3h1.1M229 100.4h1.1M229 99.5h1.1M229 98.2h1.1M229.1 96.8h1.1M228.9 95.5h1.1M229.6 103.7h1.1M229.6 102.3h1.1M229.4 101.5h1.1M229.5 100.4h1.1M229.5 99.1h1.1M229.5 97.2h1.1M229.4 96.6h1.1M229.7 96.2h1.1M229.9 102.3h1.1M230.1 100.3h1.1M230 98.4h1.1M230 96.9h1.1M230.5 106.6h1.1M230.6 104.9h1.1M231.1 104.9h1.1M230.9 101.4h1.1M231.5 105.6h1.1M231.5 104.7h1.1M232 106.4h1.1M232 104.9h1.1M231.9 104.1h1.1M232.7 99.8h1.1M232.4 98.3h1.1M232.4 96.5h1.1M232.4 95.4h1.1M232.6 94h1.1M232.4 94.1h1.1M233 99.3h1.1M232.9 97.4h1.1M233 96.2h1.1M233 95.1h1.1M233.1 94.2h1.1M233.5 103.6h1.1M233.4 102.6h1.1M233.5 100.7h1.1M233.5 98.9h1.1M233.4 98.1h1.1M233.4 96.1h1.1M233.9 105.1h1.1M234.2 103.8h1.1M234.1 102.6h1.1M234.1 101.7h1.1M233.9 100.3h1.1M234 98.8h1.1M234.1 97.6h1.1M234.5 104.8h1.1M234.7 103.2h1.1M234.7 101.3h1.1M234.6 100.3h1.1M234.5 98.6h1.1M234.6 96.6h1.1M235.1 102.4h1.1M234.9 100.4h1.1M235.1 99.4h1.1M235.2 98.4h1.1M235 97.5h1.1M235.2 96.4h1.1M235 94.6h1.1M235 93.5h1.1M234.9 91.8h1.1M235.1 93h1.1M235.6 103.1h1.1M235.5 101.7h1.1M235.6 99.7h1.1M235.6 98.6h1.1M235.5 96.8h1.1M235.6 95.5h1.1M235.6 93.5h1.1M235.6 92.5h1.1M235.4 91.3h1.1M236 100.2h1.1M236.1 99.1h1.1M236 97.6h1.1M236 95.9h1.1M236 94.7h1.1M236.2 92.9h1.1M235.9 92.2h1.1M236.6 102.9h1.1M236.5 101.7h1.1M236.4 100.1h1.1M236.6 98.8h1.1M236.6 97.2h1.1M236.5 96.3h1.1M236.4 95.2h1.1M236.6 93.6h1.1M236.6 91.7h1.1M236.6 91.9h1.1M237 100.3h1.1M237 99.5h1.1M237.1 98.4h1.1M237 97h1.1M237.1 95.1h1.1M236.9 94.2h1.1M237.1 92.6h1.1M236.9 92.2h1.1M237.2 92.4h1.1M237.5 105.6h1.1M237.7 103.8h1.1M237.7 101.9h1.1M238.1 103h1.1M237.9 102.2h1.1M238.2 100.7h1.1M238.2 99.1h1.1M238.1 98.2h1.1M238 97.2h1.1M238 96.2h1.1M238.1 95.4h1.1M238.7 100.4h1.1M238.7 99h1.1M238.4 97.6h1.1M238.5 95.9h1.1M238.6 94h1.1M239.1 102h1.1M239 100.7h1.1M239.1 99.4h1.1M238.9 98.3h1.1M239.1 96.9h1.1M239 96h1.1M239 94.1h1.1M238.9 95h1.1M239.5 99h1.1M239.4 97.4h1.1M239.7 96.2h1.1M239.6 94.7h1.1M239.5 93.1h1.1M239.6 91.8h1.1M240.1 101.6h1.1M240 100.7h1.1M240 99.3h1.1M239.9 98h1.1M240.2 97h1.1M240 95.4h1.1M240.2 93.6h1.1M240.4 101.8h1.1M240.6 99.9h1.1M240.6 98.5h1.1M240.4 96.7h1.1M240.6 95.4h1.1M240.5 94h1.1M240.7 90.5h1.1M241 99.6h1.1M240.9 98.2h1.1M240.9 96.9h1.1M241 96.7h1.1M241.2 96.3h1.1M203.6 86.5h1.1M203.2 85.4h1.1M203.3 85.6h1.1M203.8 84.6h1.1M202.8 84.9h1.1M203.1 83.8h1.1M203.5 83.8h1.1M203.2 82.7h1.1M202.6 82.9h1.1M203.8 81.7h1.1M203.2 81.4h1.1M203.1 80.9h1.1M202.5 81.3h1.1M203.7 80h1.1M202.8 79.7h1.1M203.6 79.1h1.1M203.1 78h1.1M203 77.3h1.1M203 77.2h1.1M202.3 75.2h1.1M203.4 73.4h1.1M202.5 71.4h1.1M203.1 70.9h1.1M205.4 93h1.1M205.2 92.4h1.1M205.6 91.1h1.1M205.6 90h1.1M205.8 88.9h1.1M205.2 88h1.1M205.1 86h1.1M205 84.3h1.1M206 82.6h1.1M205.8 80h1.1M205.6 77.3h1.1M205.6 74.7h1.1M205.5 73.5h1.1M205.3 71.3h1.1M206 68.8h1.1M205.6 67.7h1.1M205.9 65.4h1.1M205.6 63h1.1M208.2 95.7h1.1M208.4 94.8h1.1M208.2 93.6h1.1M209 92.4h1.1M208.6 91.6h1.1M208.9 91h1.1M208.7 90h1.1M208.3 89.2h1.1M208.4 88.2h1.1M209 88h1.1M208.3 86.2h1.1M208.4 84.4h1.1M208.9 82.3h1.1M208.6 82h1.1M213.6 39.2h1.1M213.5 85.8h1.1M214 84.6h1.1M213.7 83.4h1.1M214 82.3h1.1M213.3 81.2h1.1M213.7 80.6h1.1M214 80h1.1M214 78h1.1M213.7 75.5h1.1M213.4 72.8h1.1M213.6 71.7h1.1M214.2 70.6h1.1M214.2 69h1.1M213.3 66.2h1.1M213.3 63.7h1.1M213.5 61.1h1.1M213.8 60h1.1M217 80h1.1M215.4 79.9h1.1M215.4 78.8h1.1M215.6 78.6h1.1M215.3 78h1.1M216.4 78h1.1M215.6 77.2h1.1M216.2 77.5h1.1M216.4 76.1h1.1M215.2 76.4h1.1M216.6 75.4h1.1M215.4 75.8h1.1M216.4 74.2h1.1M216.1 73.9h1.1M215.5 73.6h1.1M216.1 74.1h1.1M215.8 72.6h1.1M215.7 73.1h1.1M215.1 71.5h1.1M215.8 70.5h1.1M215.1 69.3h1.1M216.4 68.2h1.1M215.2 66.9h1.1M215.3 65.9h1.1M216.1 64.7h1.1M216.7 64.4h1.1M215.3 63.4h1.1M215.9 63.1h1.1M216.6 62.5h1.1M215.5 61.2h1.1M215.3 60.5h1.1M216 59.5h1.1M216 59.4h1.1M215.2 58.6h1.1M216.2 58.6h1.1M215.8 58h1.1M216.2 56.1h1.1M215.5 54.1h1.1M215.2 52.2h1.1M215.3 51h1.1M215.1 49h1.1M216.3 47.2h1.1M216.9 45.1h1.1M215.9 43.6h1.1M216.3 41.1h1.1M217 39.7h1.1M216.3 38.3h1.1M215.3 36.3h1.1M216.2 35.2h1.1M215.8 34.1h1.1M216.9 31.7h1.1M216.1 31.3h1.1M218.8 88h1.1M219.9 87.6h1.1M219 87.1h1.1M219.9 87.4h1.1M219.8 86.2h1.1M219.5 86.1h1.1M219.6 85.2h1.1M219.7 84.1h1.1M219.5 83.8h1.1M219.5 83.4h1.1M219.7 83.9h1.1M219.4 82.6h1.1M218.8 81.7h1.1M220.2 81.6h1.1M220.1 80.7h1.1M219.1 79.6h1.1M220 79.4h1.1M220.2 78.9h1.1M219.3 79.3h1.1M219 78.2h1.1M219.3 77.2h1.1M219.1 75h1.1M219.6 72.2h1.1M218.9 69.7h1.1M218.8 67.5h1.1M220 65.4h1.1M219.6 63.6h1.1M219 61h1.1M219.6 58.6h1.1M218.9 56.9h1.1M219.6 56.6h1.1M223.6 94h1.1M223.5 93h1.1M224.4 91.7h1.1M224.5 90.8h1.1M224.1 90.2h1.1M224.4 89.5h1.1M223.5 88.7h1.1M223.6 87.6h1.1M224.4 86.7h1.1M224.3 86.7h1.1M224.2 84.4h1.1M224.1 81.8h1.1M223.6 79.3h1.1M224.3 78.2h1.1M223.7 77.1h1.1M224.3 75.6h1.1M223.8 74.2h1.1M223.6 72.3h1.1M223.6 70.5h1.1M224.1 68.1h1.1M224 67h1.1M223.7 65.9h1.1M224.1 64.6h1.1M229 89h1.1M228.9 89.2h1.1M228.8 88.2h1.1M229.3 88.6h1.1M229.3 87.3h1.1M229.3 87.8h1.1M230.3 86.1h1.1M230.3 85.8h1.1M230.1 85.3h1.1M230.1 84.6h1.1M228.9 84.1h1.1M229.6 83.6h1.1M229 82.3h1.1M229.5 81.3h1.1M229.5 81.4h1.1M228.8 80.1h1.1M230 79.3h1.1M230.1 78.2h1.1M229.5 77h1.1M229.6 76h1.1M229 76h1.1M229.2 75.6h1.1M229.4 74.4h1.1M230 73.4h1.1M228.8 71.9h1.1M229.6 70.9h1.1M236.2 96h1.1M237 95.1h1.1M237 93.9h1.1M236.2 93.1h1.1M237 92.1h1.1M236.6 91.1h1.1M237 90.1h1.1M236.2 89.1h1.1M236.3 88.3h1.1M236.7 88h1.1M236.6 86.7h1.1M236.3 84h1.1M236.4 82.2h1.1M236.3 81.1h1.1M236.2 79.3h1.1M236.6 77.8h1.1M236.6 77.2h1.1M238 96.5h1.1M238.5 96.5h1.1M239.2 95.4h1.1M237.9 95h1.1M238.4 94.3h1.1M239 94.4h1.1M239 93.3h1.1M239 92.2h1.1M237.9 91.1h1.1M238.2 91.4h1.1M239.1 90.3h1.1M238.1 89.4h1.1M239.1 89h1.1M238 88.4h1.1M238.9 88.3h1.1M238.9 86.7h1.1M238.9 84.1h1.1M237.9 82.1h1.1M238.6 80.1h1.1M238.3 78.1h1.1M238.8 75.3h1.1M238.6 74h1.1M277.2 103.4h1.1M277.1 102.5h1.1M277.1 101.6h1.1M277 100.7h1.1M277.1 99.5h1.1M277.1 98.2h1.1M277.2 96.7h1.1M277.4 102.8h1.1M277.6 101h1.1M277.6 99.7h1.1M277.4 98.8h1.1M277.4 97.1h1.1M277.6 95.3h1.1M277.5 91.8h1.1M278 101.6h1.1M278.2 99.9h1.1M278.1 98.2h1.1M278 96.5h1.1M278 95h1.1M278.1 93.2h1.1M278.1 92.7h1.1M278.6 105.5h1.1M278.4 103.8h1.1M279.1 106h1.1M279 104.3h1.1M279 103.4h1.1M279 101.8h1.1M279 99.9h1.1M279.4 103.9h1.1M279.6 102h1.1M279.6 100.1h1.1M279.6 99h1.1M279.5 97.5h1.1M279.4 96.1h1.1M279.7 90.8h1.1M280 101.5h1.1M280 100.5h1.1M279.9 99.1h1.1M280.5 101.3h1.1M280.5 100h1.1M280.4 99h1.1M280.6 97.9h1.1M280.5 95.9h1.1M280.5 94.6h1.1M280.6 93.7h1.1M280.5 92.1h1.1M280.4 86.8h1.1M281 103h1.1M281.1 102.2h1.1M281.1 101.2h1.1M281.1 100.2h1.1M280.9 98.3h1.1M281 96.7h1.1M280.9 95.4h1.1M281.2 94.5h1.1M280.9 93.3h1.1M281.1 92h1.1M281.4 102.6h1.1M281.6 101.1h1.1M281.7 100.3h1.1M281.6 98.6h1.1M281.5 97.3h1.1M281.5 96.4h1.1M281.5 94.6h1.1M281.7 92.7h1.1M281.4 90.8h1.1M281.7 92.2h1.1M282 98.9h1.1M282 97.2h1.1M282 96.3h1.1M282.1 95.1h1.1M282.1 93.7h1.1M281.9 92.1h1.1M282 91.4h1.1M282 90.1h1.1M282.4 103.8h1.1M282.7 102.1h1.1M282.7 100.9h1.1M282.5 99.2h1.1M282.5 97.3h1.1M282.6 96.1h1.1M282.4 94.8h1.1M282.6 89.5h1.1M282.6 91.7h1.1M283.1 103.4h1.1M283.2 101.6h1.1M283.2 100.2h1.1M282.9 99h1.1M283.1 97.7h1.1M283 95.9h1.1M283.1 95.1h1.1M283.5 103.5h1.1M283.7 102h1.1M283.5 100.2h1.1M283.5 98.9h1.1M283.5 97.1h1.1M283.6 96.1h1.1M283.5 94.5h1.1M283.6 93.4h1.1M284 106.1h1.1M284.1 105h1.1M284.5 106.9h1.1M284.6 105.4h1.1M285 99.5h1.1M285.1 98.2h1.1M285.2 97.1h1.1M285.2 96.1h1.1M285.1 95.3h1.1M285.1 93.3h1.1M285.2 93.9h1.1M285.7 102h1.1M285.5 100.9h1.1M285.6 99.2h1.1M285.5 97.3h1.1M285.5 96h1.1M285.7 94.8h1.1M285.7 93.7h1.1M285.9 99.1h1.1M286.2 97.6h1.1M286.1 96.2h1.1M286.1 95h1.1M286.1 93.9h1.1M285.9 92.7h1.1M286.2 91h1.1M286.2 89.8h1.1M286.2 87.9h1.1M285.9 89.6h1.1M285.9 87.6h1.1M286.5 98.8h1.1M286.5 97.4h1.1M286.4 96.4h1.1M286.5 94.4h1.1M286.5 93.5h1.1M286.4 91.8h1.1M286.5 90.2h1.1M286.5 88.3h1.1M286.5 86.4h1.1M286.6 84.4h1.1M287.2 99.6h1.1M287 98.1h1.1M287.1 96.5h1.1M287.1 94.9h1.1M287.1 93.6h1.1M287.1 93.1h1.1M287.5 103h1.1M287.6 102.1h1.1M287.5 100.4h1.1M287.6 98.4h1.1M287.5 97.6h1.1M287.6 96h1.1M287.4 94.5h1.1M287.4 92.9h1.1M287.4 92h1.1M287.6 90.8h1.1M287.7 91.8h1.1M288 92h1.1M288 90.1h1.1M288 88.5h1.1M288.1 86.8h1.1M288.2 85.6h1.1M288 84.4h1.1M288 82.8h1.1M288.1 81.4h1.1M288.5 99.1h1.1M288.6 97.8h1.1M288.6 96.5h1.1M288.6 95.6h1.1M288.6 93.8h1.1M288.6 92h1.1M288.5 90.5h1.1M288.6 89.6h1.1M288.6 88.4h1.1M288.5 87.1h1.1M288.5 86.1h1.1M288.6 84.6h1.1M288.5 83.7h1.1M288.7 82.5h1.1M288.6 80.6h1.1M289.2 98.4h1.1M289.1 96.6h1.1M289 95.5h1.1M289 94.2h1.1M289 92.9h1.1M289.1 91.5h1.1M289.1 90.6h1.1M289 88.9h1.1M288.9 87.8h1.1M289.1 86.4h1.1M289.1 85.2h1.1M288.9 78.9h1.1M289.1 81.9h1.1M289.5 97.6h1.1M289.5 96.7h1.1M289.6 95.1h1.1M289.7 93.8h1.1M289.4 92.5h1.1M289.7 91.5h1.1M289.4 89.8h1.1M289.7 86.6h1.1M290 103.9h1.1M290 102.9h1.1M290.2 101.3h1.1M290.1 99.6h1.1M290.1 98.2h1.1M290 97.1h1.1M290.1 95.5h1.1M289.9 94.3h1.1M290.1 93.1h1.1M290.2 92.8h1.1M290.7 99.7h1.1M290.6 98.5h1.1M290.5 97.3h1.1M290.7 95.4h1.1M290.5 91.2h1.1M290.7 94.3h1.1M291 97.8h1.1M290.9 96.1h1.1M291 94.5h1.1M291.1 90.4h1.1M291.1 91.2h1.1M291.5 101.5h1.1M291.5 100.3h1.1M291.5 98.7h1.1M291.7 97.6h1.1M291.7 95.9h1.1M291.5 94.1h1.1M291.4 90.3h1.1M292 101.1h1.1M292.1 99.6h1.1M292 98.5h1.1M291.9 97.9h1.1M292.4 103.9h1.1M292.5 102.5h1.1M292.7 101.4h1.1M292.6 100.4h1.1M292.6 98.5h1.1M293 100.9h1.1M293 99.8h1.1M293.1 98.1h1.1M293.1 97.8h1.1M293.5 99.4h1.1M293.6 97.9h1.1M293.5 96.7h1.1M293.7 92.7h1.1M293.6 94h1.1M294.2 100.6h1.1M294 98.9h1.1M293.9 97.8h1.1M294 96.1h1.1M294.1 96h1.1M294.6 107.2h1.1M295 100.7h1.1M294.9 99.1h1.1M295.2 98.1h1.1M295.1 96.7h1.1M295.5 100.5h1.1M295.6 98.6h1.1M295.5 97.1h1.1M295.5 94.9h1.1M296.2 103h1.1M296 101.7h1.1M296.1 99.7h1.1M296 98.4h1.1M295.9 97.3h1.1M296.1 96.9h1.1M296.5 107.5h1.1M296.5 105.9h1.1M296.6 106.4h1.1M296.5 105.2h1.1M297.1 107.1h1.1M297 99.8h1.1M297.5 104.1h1.1M297.6 102.6h1.1M297.5 101.2h1.1M297.5 99.6h1.1M298.1 102.3h1.1M298 101h1.1M297.9 99.9h1.1M298 95.3h1.1M298.6 104.1h1.1M298.7 102.7h1.1M298.7 100.8h1.1M298.4 99.7h1.1M299.1 102.8h1.1M299.2 101.5h1.1M299 99.7h1.1M299 98.1h1.1M299 96.7h1.1M299 95.6h1.1M299 94.5h1.1M299 92.7h1.1M299.2 94.2h1.1M299.2 92h1.1M299.6 100h1.1M299.6 99.1h1.1M299.6 98.3h1.1M299.6 97.3h1.1M299.4 95.5h1.1M299.5 94.6h1.1M299.6 93.4h1.1M300 99.3h1.1M299.9 98h1.1M300.2 96.5h1.1M300.1 95.2h1.1M300.2 94.1h1.1M300.6 100.6h1.1M300.6 99.3h1.1M300.4 98.5h1.1M300.6 97.2h1.1M300.4 96.3h1.1M300.5 94.4h1.1M300.4 93.6h1.1M301 100.1h1.1M301 98.4h1.1M301 97.3h1.1M301.2 95.4h1.1M301.2 93.7h1.1M301 92.4h1.1M301 91.9h1.1M301.2 90.8h1.1M301.7 101.1h1.1M301.7 99.8h1.1M301.5 98.4h1.1M301.5 97.4h1.1M301.4 95.8h1.1M301.5 93.8h1.1M302.2 103.2h1.1M301.9 101.3h1.1M302.1 99.8h1.1M302.1 98.6h1.1M302 97.1h1.1M302.2 96.1h1.1M302 94.1h1.1M302.1 92.4h1.1M302.4 101.4h1.1M302.7 100.5h1.1M302.5 99.5h1.1M302.4 97.9h1.1M302.6 96.1h1.1M302.5 94.4h1.1M302.7 93h1.1M302.5 92.1h1.1M302.7 91.4h1.1M302.5 91.9h1.1M303 105.2h1.1M303 104.1h1.1M302.9 102.9h1.1M303 101.9h1.1M303 101h1.1M303 99.4h1.1M303.6 103.2h1.1M303.4 101.9h1.1M303.6 100h1.1M303.5 98.9h1.1M303.5 98h1.1M304 101.4h1.1M304.2 100h1.1M303.9 98h1.1M304.6 93.9h1.1M304.7 93h1.1M304.7 91.9h1.1M304.7 90.9h1.1M304.6 89.5h1.1M304.5 88.5h1.1M304.6 86.8h1.1M304.6 84.8h1.1M304.4 82.9h1.1M304.6 81.2h1.1M304.5 79.4h1.1M304.6 78h1.1M304.5 76.9h1.1M305 97.2h1.1M305 96.1h1.1M305.2 95.1h1.1M305.2 93.4h1.1M304.9 91.8h1.1M305.2 90.5h1.1M305 89.7h1.1M305 88.7h1.1M305.1 87.5h1.1M305.2 86.7h1.1M305 85.3h1.1M305.1 84.4h1.1M305.1 83.2h1.1M305 82.3h1.1M304.9 80.9h1.1M305.2 79.5h1.1M304.9 78h1.1M304.9 76.4h1.1M304.9 75.4h1.1M305 74h1.1M305.2 71.7h1.1M305.5 89.1h1.1M305.6 87.3h1.1M305.6 86.4h1.1M305.5 85.4h1.1M305.5 84.4h1.1M305.6 82.8h1.1M305.4 81.6h1.1M305.7 80.3h1.1M305.6 78.8h1.1M305.6 77.1h1.1M305.7 75.2h1.1M305.6 73.5h1.1M305.5 72.5h1.1M305.6 70.9h1.1M305.6 69h1.1M305.5 67.8h1.1M305.5 68.7h1.1M305.5 68.2h1.1M305.9 85.1h1.1M306.1 83.2h1.1M306.1 81.4h1.1M306.2 79.8h1.1M306.1 78.1h1.1M305.9 77.2h1.1M306.2 75.6h1.1M306 74.3h1.1M306.2 73h1.1M305.9 71.3h1.1M306 70.2h1.1M306 68.5h1.1M306 66.7h1.1M306.7 98.2h1.1M306.6 96.7h1.1M306.4 95.5h1.1M306.5 93.8h1.1M306.4 92.4h1.1M306.7 90.7h1.1M306.7 89.8h1.1M306.6 88.3h1.1M306.7 87.3h1.1M306.6 86.2h1.1M306.6 84.9h1.1M306.7 83.7h1.1M306.5 82.7h1.1M306.4 81.2h1.1M306.6 80.2h1.1M306.4 79h1.1M307 95.1h1.1M306.9 93.9h1.1M307.2 92.3h1.1M307 90.9h1.1M307.1 89.2h1.1M307.1 88h1.1M307 86.2h1.1M307 84.9h1.1M307.2 83h1.1M307.1 81.1h1.1M307 79.3h1.1M307 77.8h1.1M307.4 93.1h1.1M307.4 91.2h1.1M307.7 90.2h1.1M307.7 88.9h1.1M307.7 87.7h1.1M307.6 86.8h1.1M307.5 85.8h1.1M307.6 84.5h1.1M307.5 83.5h1.1M307.7 82.3h1.1M307.6 80.9h1.1M307.5 79.3h1.1M307.6 78.3h1.1M307.6 77.4h1.1M307.6 67.3h1.1M307.5 74.6h1.1M307.9 83.2h1.1M308.1 81.2h1.1M308.2 80.2h1.1M308.1 78.7h1.1M308 77.8h1.1M307.9 76.1h1.1M307.9 75.1h1.1M307.9 73.6h1.1M308 71.8h1.1M307.9 63.4h1.1M308.2 70.9h1.1M308.6 85.2h1.1M308.6 84.1h1.1M308.5 82.9h1.1M308.6 81.3h1.1M308.5 80.3h1.1M308.6 79.2h1.1M308.6 77.6h1.1M308.5 75.9h1.1M308.4 74.5h1.1M308.6 73.3h1.1M308.5 71.4h1.1M309.1 95.4h1.1M309.1 94h1.1M308.9 92.2h1.1M308.9 91.3h1.1M308.9 89.6h1.1M309 87.6h1.1M309.2 86.1h1.1M309 84.1h1.1M309.1 82.6h1.1M309.1 81.1h1.1M309 79.2h1.1M309.1 78h1.1M309 76.4h1.1M309 77.1h1.1M309.2 76.4h1.1M309.4 93.7h1.1M309.5 91.9h1.1M309.6 90.7h1.1M309.5 89.2h1.1M309.4 88.3h1.1M309.7 86.6h1.1M309.5 85.8h1.1M309.5 84.3h1.1M309.5 84.7h1.1M310.2 95.7h1.1M310.1 94.3h1.1M310.1 92.4h1.1M310 91.5h1.1M310 90.1h1.1M310.1 88.2h1.1M310 86.8h1.1M310.2 85.3h1.1M310.5 97.5h1.1M310.5 96.4h1.1M310.5 94.4h1.1M310.4 92.8h1.1M310.4 91.4h1.1M310.6 89.4h1.1M311 101.1h1.1M311 100h1.1M311 98.9h1.1M311 97.1h1.1M311 95.6h1.1M311.1 94.7h1.1M311.7 104.6h1.1M311.7 102.9h1.1M311.4 101.6h1.1M311.5 99.7h1.1M311.7 98.8h1.1M311.5 97.1h1.1M311.4 96h1.1M311.4 96h1.1M312.1 103.7h1.1M311.9 102.3h1.1M312 100.4h1.1M312 98.7h1.1M311.9 97.5h1.1M312 96.1h1.1M312.2 96.8h1.1M311.9 96h1.1M312.4 104.1h1.1M312.6 102.3h1.1M312.4 100.7h1.1M312.6 96.6h1.1M313.2 105.8h1.1M313.1 104.5h1.1M313.1 103.6h1.1M313 102.5h1.1M313.2 102.9h1.1M313.5 102.8h1.1M313.5 101h1.1M313.7 99.9h1.1M313.6 98.4h1.1M313.6 96.9h1.1M313.6 95h1.1M279.3 91h1.1M280.1 91.3h1.1M279.5 89.8h1.1M280.2 89.5h1.1M279.1 89.1h1.1M279.4 88.9h1.1M278.9 88.1h1.1M279.6 87.7h1.1M280.1 87.2h1.1M280.1 87h1.1M278.9 85.1h1.1M279.7 84h1.1M279.3 81.5h1.1M279.9 80.3h1.1M279.5 78.3h1.1M279.6 77h1.1M279.8 75h1.1M279 72.4h1.1M279.3 69.9h1.1M279.3 68.1h1.1M279.5 65.7h1.1M279.5 64.6h1.1M278.9 63.3h1.1M279.4 62.2h1.1M278.9 60.4h1.1M279.6 60h1.1M288.4 79h1.1M288.5 79h1.1M287.9 77.7h1.1M286.7 77.4h1.1M287.9 76.6h1.1M286.9 76.7h1.1M287 75.3h1.1M287 74.4h1.1M288 74.8h1.1M287 73.6h1.1M287 73.3h1.1M287 72.7h1.1M287.1 72h1.1M286.9 71.5h1.1M286.6 71.3h1.1M287.5 70.7h1.1M287.2 70h1.1M287.4 68.3h1.1M286.7 66.7h1.1M286.8 65.4h1.1M287.2 64h1.1M287.8 62.9h1.1M287.6 61.5h1.1M287.6 60h1.1M298.5 96h1.1M298.8 94.9h1.1M298.3 94h1.1M298.7 93.3h1.1M298.3 93h1.1M298.2 91.8h1.1M298.5 89.2h1.1M298.6 87h1.1M304.1 83h1.1M303.1 83.4h1.1M303.7 82.2h1.1M303.4 81.3h1.1M304.2 80.1h1.1M302.8 79.3h1.1M304.2 79.4h1.1M304.3 78.1h1.1M304.3 77.9h1.1M303.2 77.4h1.1M303.3 76.1h1.1M304.1 76.4h1.1M303.3 75h1.1M303.6 73.6h1.1M303.7 70.9h1.1M303.6 70h1.1M306.4 66.5h1.1M307.9 66.6h1.1M307.7 65.3h1.1M307.4 65.5h1.1M307.1 64.4h1.1M308 63.2h1.1M307.4 63.3h1.1M306.5 62h1.1M306.6 62.3h1.1M306.1 62h1.1M306.3 60.8h1.1M307.6 58.7h1.1M306.2 57.1h1.1M307.3 55.1h1.1M306.6 53.3h1.1M306.5 51.7h1.1M306.8 49.2h1.1M307.1 46.9h1.1M307.1 46.8h1.1M309.7 79.5h1.1M310.7 78.3h1.1M309.7 77.9h1.1M309.9 77.6h1.1M310.2 76.3h1.1M309.9 76h1.1M310.2 75.5h1.1M309.5 75.3h1.1M310.3 75h1.1M309.8 72.9h1.1M310.5 71.4h1.1M310.3 70.4h1.1M310.3 67.6h1.1M309.3 66.5h1.1M309.5 64.1h1.1M310.1 63h1.1M313.4 27.5h1.1M351 102.3h1.1M351.1 101.4h1.1M351.1 99.8h1.1M351 98h1.1M351.2 96.2h1.1M351.4 101.1h1.1M351.6 99.6h1.1M351.4 98.3h1.1M351.4 96.5h1.1M351.6 96.7h1.1M352 103.5h1.1M352 102h1.1M352 100.6h1.1M352.1 99.6h1.1M352.2 98.5h1.1M352 97.2h1.1M352.2 95.6h1.1M352 94.7h1.1M352.7 102.5h1.1M352.7 101.6h1.1M352.6 100.8h1.1M352.5 99.2h1.1M352.6 97.7h1.1M352.5 96.2h1.1M352.5 94.9h1.1M352.6 93.6h1.1M352.5 92.5h1.1M352.5 91.5h1.1M352.5 89.8h1.1M353 101.7h1.1M353.2 100.7h1.1M353 98.8h1.1M353.1 97h1.1M352.9 95.8h1.1M353 94.3h1.1M353.1 92.6h1.1M353.1 91.6h1.1M353 89.6h1.1M353.5 102.3h1.1M353.6 100.4h1.1M353.4 98.4h1.1M353.4 97.2h1.1M353.6 96.3h1.1M353.5 95.5h1.1M353.7 94.2h1.1M353.4 93.1h1.1M353.6 91.4h1.1M353.7 90.5h1.1M353.7 88.6h1.1M353.6 87.9h1.1M354.1 98.9h1.1M354.1 97.9h1.1M353.9 96.9h1.1M353.9 95.8h1.1M354 94.7h1.1M354.2 93.3h1.1M354.2 91.4h1.1M354.2 89.8h1.1M354.2 88.7h1.1M354.1 87.9h1.1M354.1 86.9h1.1M354.4 92.1h1.1M354.7 91h1.1M354.5 89.2h1.1M354.5 87.6h1.1M354.7 86.1h1.1M354.5 84.2h1.1M354.5 82.5h1.1M355.1 90.8h1.1M355.1 89.2h1.1M355.2 88.2h1.1M355.1 87.3h1.1M354.9 86.2h1.1M355.2 84.9h1.1M355 83.1h1.1M355 83h1.1M355.4 100.2h1.1M355.5 99.2h1.1M355.6 97.6h1.1M355.6 96.7h1.1M355.6 95.2h1.1M355.6 94.3h1.1M355.5 93.2h1.1M355.7 92.3h1.1M355.6 90.7h1.1M355.4 89.3h1.1M355.4 88h1.1M356 95.4h1.1M356.2 93.4h1.1M356 92.1h1.1M356 90.8h1.1M356.1 89.1h1.1M356.2 88.2h1.1M356 84.8h1.1M356 88.6h1.1M356.4 100.2h1.1M356.5 98.5h1.1M356.5 96.6h1.1M356.4 94.6h1.1M356.6 93.7h1.1M356.6 92.5h1.1M356.6 90.8h1.1M356.6 89.4h1.1M356.4 88.1h1.1M356.6 86.8h1.1M356.5 85.6h1.1M356.4 84.6h1.1M357 101.3h1.1M357 99.3h1.1M357.1 97.7h1.1M357 96.3h1.1M357.1 94.6h1.1M357 92.6h1.1M357 90.6h1.1M357.1 88.8h1.1M357.2 87.3h1.1M357 86.4h1.1M357.2 87.1h1.1M357.5 98.4h1.1M357.6 96.9h1.1M357.5 95h1.1M357.6 93.9h1.1M357.4 92.3h1.1M357.7 90.4h1.1M357.5 89h1.1M357.6 85.5h1.1M358 102.9h1.1M358 101.7h1.1M358.1 99.8h1.1M358.1 98.2h1.1M358.1 96.9h1.1M358.1 95.3h1.1M358 93.7h1.1M358.1 91.7h1.1M358.2 92.6h1.1M358.5 101.2h1.1M358.6 99.3h1.1M358.4 97.6h1.1M358.6 95.8h1.1M359.2 96.6h1.1M359 95.7h1.1M359.1 93.9h1.1M359.1 92.8h1.1M359.1 91.5h1.1M359 90.2h1.1M359.5 101.6h1.1M359.7 100.5h1.1M359.5 99.2h1.1M359.5 97.4h1.1M359.5 94.4h1.1M360.1 104.2h1.1M360.2 102.5h1.1M360 101.3h1.1M360 100.4h1.1M359.9 98.6h1.1M359.9 97.6h1.1M360.5 103.1h1.1M360.4 102.2h1.1M360.6 101.3h1.1M360.7 99.9h1.1M360.4 98.6h1.1M360.6 97.6h1.1M360.6 95.6h1.1M360.5 94.5h1.1M360.5 91.7h1.1M361.1 98.8h1.1M361 97.2h1.1M361.1 96.3h1.1M361.1 94.9h1.1M361.5 100.7h1.1M361.7 99.4h1.1M361.7 98h1.1M361.4 96.4h1.1M361.6 94.5h1.1M361.5 93.1h1.1M362 99h1.1M362 97.4h1.1M362.2 96.5h1.1M361.9 95.3h1.1M362.2 94h1.1M362.5 106.1h1.1M362.6 104.9h1.1M362.6 103.8h1.1M362.5 102.5h1.1M362.4 95.4h1.1M362.9 105h1.1M363.1 103.7h1.1M363 102.4h1.1M363.5 104.8h1.1M363.5 103.1h1.1M364.2 101.6h1.1M364 100.4h1.1M364.2 99.5h1.1M363.9 97.7h1.1M364 96.7h1.1M364 95.9h1.1M364.1 94.1h1.1M364.2 93.4h1.1M364.2 94.5h1.1M364.5 101.4h1.1M364.6 99.7h1.1M364.6 98.1h1.1M364.5 96.5h1.1M364.4 94.7h1.1M365 104.4h1.1M365.1 102.4h1.1M365 101.2h1.1M365 99.9h1.1M364.9 97.6h1.1M365.6 104.9h1.1M365.4 103.7h1.1M365.6 102.8h1.1M365.7 100.9h1.1M366 106.1h1.1M366.1 105.2h1.1M366 103.2h1.1M365.9 103.6h1.1M366.2 98.6h1.1M366.7 105.5h1.1M366.5 103.6h1.1M366.7 101.7h1.1M367 106.8h1.1M367 105.5h1.1M367 103.9h1.1M367.1 101.6h1.1M367.6 105.8h1.1M367.6 104.6h1.1M367.5 103.4h1.1M367.4 102.2h1.1M367.5 100.4h1.1M367.5 100.1h1.1M368.2 104.9h1.1M368 103.7h1.1M368.2 102.4h1.1M367.9 101h1.1M368 95.6h1.1M368.1 101.4h1.1M368.6 105h1.1M368.6 103.6h1.1M368.7 101.8h1.1M368.4 100.4h1.1M368.7 99.9h1.1M369.1 106.3h1.1M369 104.8h1.1M369 103.1h1.1M369 101.7h1.1M368.9 101h1.1M369.1 97.2h1.1M369.6 107.1h1.1M369.4 105.4h1.1M369.4 104.6h1.1M369.6 103h1.1M370.1 106.4h1.1M370.6 103.5h1.1M370.7 102.7h1.1M370.5 101.8h1.1M370.5 100.7h1.1M371.1 103.9h1.1M370.9 102h1.1M371.2 100.2h1.1M371 96.1h1.1M371 94.5h1.1M371.7 104.4h1.1M371.6 103.1h1.1M371.5 101.7h1.1M371.7 99.9h1.1M372.1 102.6h1.1M372 101.7h1.1M372 100.6h1.1M372 99h1.1M371.9 97.9h1.1M372.5 99.4h1.1M372.5 97.6h1.1M372.7 95.9h1.1M373 103.3h1.1M373 102.4h1.1M373 101.2h1.1M373 99.7h1.1M372.9 98.5h1.1M373 97.3h1.1M373.1 95.5h1.1M373.5 105.5h1.1M373.7 103.9h1.1M373.6 102h1.1M373.5 102.9h1.1M374 106.1h1.1M374.1 105.2h1.1M374.1 104.3h1.1M374 102.5h1.1M374.1 102.2h1.1M374.6 106h1.1M374.7 104.7h1.1M374.7 102.8h1.1M374.5 100.9h1.1M374.4 93h1.1M375 101.8h1.1M375.1 99.8h1.1M375.2 98.2h1.1M375.1 96.7h1.1M375.1 95.4h1.1M375.5 104.1h1.1M375.5 102.9h1.1M375.6 101.7h1.1M375.5 100.4h1.1M375.6 98.6h1.1M375.6 97.2h1.1M375.6 96.4h1.1M375.9 101.3h1.1M376 100.2h1.1M376.1 98.6h1.1M376 97.7h1.1M376 96.5h1.1M376.5 100.6h1.1M376.5 99.6h1.1M376.4 98.1h1.1M376.6 96.4h1.1M376.7 95h1.1M376.4 95.3h1.1M377 99.9h1.1M377.1 97.9h1.1M377 96.7h1.1M377.1 94.8h1.1M377 93.4h1.1M377.1 91.4h1.1M377.1 89.9h1.1M377.1 88.3h1.1M377.2 85.4h1.1M377.6 95.5h1.1M377.7 94.1h1.1M377.6 92.2h1.1M377.6 91.3h1.1M377.5 90.4h1.1M377.5 89.4h1.1M378.1 102h1.1M378.1 100.2h1.1M378.2 98.4h1.1M378.5 102.4h1.1M378.5 101.4h1.1M378.6 99.5h1.1M378.4 98.2h1.1M378.9 99h1.1M379.2 97.3h1.1M379 95.9h1.1M379 94.1h1.1M379.1 93h1.1M379.1 91.3h1.1M379 89.1h1.1M379.7 99.3h1.1M379.5 97.3h1.1M379.5 96.2h1.1M379.4 95.2h1.1M379.5 93.7h1.1M379.7 92.8h1.1M379.6 91.6h1.1M379.6 90.6h1.1M380.2 91.6h1.1M380.1 90.7h1.1M380 88.9h1.1M380 87.6h1.1M380 85.7h1.1M380 83.9h1.1M380.1 82.4h1.1M380 81.2h1.1M380.6 98.3h1.1M380.6 96.9h1.1M380.6 95.9h1.1M380.6 94.5h1.1M380.6 93.4h1.1M380.5 91.9h1.1M380.5 90.1h1.1M380.9 101.1h1.1M381.1 100.3h1.1M381.2 98.9h1.1M381 96.9h1.1M381.5 101h1.1M381.6 99.4h1.1M381.5 97.6h1.1M381.7 95.4h1.1M381.7 96.9h1.1M382.1 102.4h1.1M382 100.6h1.1M381.9 99.4h1.1M381.9 97.8h1.1M381.9 95.1h1.1M382.6 101.7h1.1M382.6 100.7h1.1M382.5 99.6h1.1M382.6 98.5h1.1M382.5 96.6h1.1M382.5 95.6h1.1M382.6 94.1h1.1M383.1 103.3h1.1M383 101.7h1.1M382.9 100.1h1.1M383.1 98.5h1.1M383.1 97.1h1.1M382.9 95.9h1.1M383.2 96.6h1.1M383.6 100.2h1.1M383.6 98.3h1.1M383.5 97.5h1.1M383.5 96.2h1.1M383.7 95h1.1M383.6 95.2h1.1M384.1 102.7h1.1M383.9 101.2h1.1M384.1 99.7h1.1M355.6 81h1.1M356.1 80.9h1.1M355.4 80.1h1.1M356 79.2h1.1M356.7 79h1.1M356.4 78.3h1.1M356.6 78.5h1.1M356.7 77.5h1.1M355.9 76.3h1.1M356.1 76h1.1M356 75.6h1.1M356.2 74.6h1.1M355.4 74.9h1.1M355.4 73.4h1.1M355.4 73.1h1.1M355.8 72.3h1.1M356.6 71.6h1.1M355.7 70.6h1.1M356.3 70.8h1.1M356.1 69.4h1.1M355.5 69.2h1.1M355.8 68.6h1.1M356.2 67.3h1.1M356.1 67.2h1.1M355.7 66.4h1.1M355.4 66h1.1M356.7 63.4h1.1M356.6 62.2h1.1M355.6 59.5h1.1M356.6 57.6h1.1M355.4 55.9h1.1M356.3 53.4h1.1M355.9 51.1h1.1M355.8 49.3h1.1M356.7 47.1h1.1M356.1 46.5h1.1M376.7 95h1.1M376.4 94.3h1.1M376.9 93.6h1.1M376.2 92.8h1.1M376.8 92h1.1M376.3 90.3h1.1M376.3 87.6h1.1M376.6 85.3h1.1M376.5 83.4h1.1M376.5 81.8h1.1M376.2 80.6h1.1M376.3 78.1h1.1M376.6 77h1.1M380.4 87h1.1M379.9 86h1.1M379.8 85.2h1.1M380.3 84.2h1.1M379.8 84h1.1M379.9 82.4h1.1M380.1 82h1.1M365.6 64.2h1.1M365.6 45.9h1.1M411.9 103.8h1.1M411.9 102.4h1.1M412.1 100.5h1.1M412 99.5h1.1M412.5 103.7h1.1M412.4 102.4h1.1M412.5 101.5h1.1M412.5 100.7h1.1M412.5 99.7h1.1M412.7 98.1h1.1M412.6 95.1h1.1M413 105.8h1.1M413.1 104.6h1.1M413 102.6h1.1M413 101.4h1.1M413.2 101.4h1.1M413.5 107h1.1M413.5 105.9h1.1M413.6 102.8h1.1M414.2 102h1.1M414.2 101.1h1.1M414.1 99.6h1.1M414.1 98.6h1.1M414 96.7h1.1M414.1 89.7h1.1M414.4 103.7h1.1M414.4 102.3h1.1M414.7 100.9h1.1M414.7 99.5h1.1M414.5 98.5h1.1M414.5 96.6h1.1M414.7 95.4h1.1M415.2 99.5h1.1M415.1 98h1.1M414.9 96.3h1.1M415 95.3h1.1M415 94.1h1.1M415 92.2h1.1M415 90.5h1.1M415.5 97.8h1.1M415.6 96.7h1.1M415.6 94.8h1.1M415.5 93.5h1.1M415.4 91.8h1.1M415.5 90.6h1.1M415.6 89.5h1.1M415.4 87.8h1.1M416.2 103h1.1M416 101.5h1.1M416 100h1.1M416.2 98.1h1.1M416.1 96.3h1.1M416.1 94.5h1.1M416 93h1.1M416.1 91.1h1.1M416.5 102.4h1.1M416.5 100.5h1.1M416.7 99.6h1.1M416.6 98.8h1.1M416.6 96.8h1.1M416.5 96h1.1M416.6 94.3h1.1M417.1 99h1.1M417 97.2h1.1M416.9 96.1h1.1M417.2 94.9h1.1M417.5 104.2h1.1M417.6 102.6h1.1M417.6 101.4h1.1M417.7 99.8h1.1M417.4 98.1h1.1M417.7 96.4h1.1M417.9 100.3h1.1M418.2 98.4h1.1M418.1 97.4h1.1M418.1 95.6h1.1M418.1 93.2h1.1M418 91.2h1.1M418.5 101.3h1.1M418.7 99.4h1.1M418.6 97.7h1.1M418.6 95.7h1.1M418.6 95.4h1.1M419 100.2h1.1M419.1 99.3h1.1M419 97.4h1.1M419 95.6h1.1M419.2 90.1h1.1M419.6 105.6h1.1M419.7 105.4h1.1M420.2 106.8h1.1M419.9 105.9h1.1M420.2 105h1.1M420 104.6h1.1M420.6 107.2h1.1M420.7 106.2h1.1M420.5 104.8h1.1M421.2 100.4h1.1M421.1 98.5h1.1M421 96.6h1.1M421.7 105.9h1.1M421.7 104.2h1.1M421.7 103h1.1M422 105.5h1.1M422.1 103.7h1.1M421.9 102.2h1.1M422.6 105.2h1.1M422.4 104.1h1.1M423 104.4h1.1M422.9 103h1.1M423.2 101.1h1.1M423.1 101.7h1.1M423.4 104.3h1.1M423.5 103.2h1.1M423.4 101.9h1.1M423.4 102.1h1.1M423.9 104.8h1.1M424.2 103.4h1.1M424.1 101.5h1.1M424.1 100.4h1.1M424 99.7h1.1M424.2 100.8h1.1M424.6 99.7h1.1M424.6 97.8h1.1M424.4 96.2h1.1M424.5 95h1.1M424.5 93.5h1.1M424.7 91.8h1.1M424.6 90.7h1.1M424.5 89.8h1.1M424.7 89.5h1.1M424.7 80.3h1.1M425 97.6h1.1M425 96.2h1.1M425 94.4h1.1M424.9 93.3h1.1M425.5 100.5h1.1M425.4 98.6h1.1M425.6 97.1h1.1M425.7 95.1h1.1M426.1 100.5h1.1M426 99.2h1.1M426 98h1.1M426 96.6h1.1M426 93.5h1.1M426.1 93.7h1.1M426.6 100.2h1.1M426.6 99.3h1.1M426.5 98.3h1.1M426.5 96.8h1.1M427 102h1.1M427.1 100.4h1.1M427 99.3h1.1M427 97.8h1.1M427.7 105.6h1.1M427.5 104.6h1.1M428.1 105.7h1.1M428 104.2h1.1M428.5 107.1h1.1M428.6 105.3h1.1M428.7 103.6h1.1M429 102.9h1.1M429.1 102h1.1M429.1 100.3h1.1M429 99.5h1.1M429.6 103.9h1.1M429.7 102.2h1.1M429.6 100.6h1.1M429.5 99.6h1.1M429.5 100.1h1.1M430 103.2h1.1M430 101.2h1.1M430 99.3h1.1M430.1 97.4h1.1M430.2 98.4h1.1M430.2 97.1h1.1M430.4 102.6h1.1M430.6 100.7h1.1M430.4 98.7h1.1M430.7 96.9h1.1M430.5 93.7h1.1M430.5 96.9h1.1M431.1 97.6h1.1M431.2 95.6h1.1M431 94.6h1.1M431 93.2h1.1M431.1 91.8h1.1M431.5 102.9h1.1M431.4 100.9h1.1M431.5 99.2h1.1M431.5 97.8h1.1M431.5 96.6h1.1M431.6 94.6h1.1M432 99.5h1.1M432 98.7h1.1M432.1 97h1.1M432 95.7h1.1M431.9 90.9h1.1M432 94.7h1.1M432.4 97.9h1.1M432.6 96.3h1.1M432.7 94.4h1.1M432.6 92.7h1.1M433 96.3h1.1M433 94.8h1.1M432.9 92.9h1.1M433 92.1h1.1M432.9 90.6h1.1M432.9 88.7h1.1M433.5 96.9h1.1M433.5 95.8h1.1M433.5 94.9h1.1M433.6 93h1.1M433.5 91.8h1.1M433.6 90h1.1M433.5 88.9h1.1M433.6 87.7h1.1M433.6 86.4h1.1M433.6 84.8h1.1M433.7 84.4h1.1M433.4 83.8h1.1M434.2 89.7h1.1M434 87.9h1.1M434 86.2h1.1M434.1 84.5h1.1M433.9 83h1.1M433.9 82h1.1M434.2 81h1.1M434 79.1h1.1M434.1 80.2h1.1M434.4 91.9h1.1M434.5 91h1.1M434.6 89.3h1.1M434.7 87.7h1.1M434.5 86.1h1.1M434.5 84.2h1.1M434.6 83.4h1.1M434.5 81.5h1.1M434.4 80h1.1M434.5 78.5h1.1M434.7 77.6h1.1M434.5 75.7h1.1M434.5 75.6h1.1M435.1 98.9h1.1M435.2 97.2h1.1M434.9 96.3h1.1M435 95.2h1.1M435 94.2h1.1M435.1 92.4h1.1M435 90.7h1.1M435.2 88.8h1.1M435.1 87.9h1.1M435.1 85.9h1.1M435 84.5h1.1M435 83.6h1.1M434.9 82.7h1.1M435.1 80.9h1.1M434.9 80.3h1.1M435.6 93.6h1.1M435.5 91.9h1.1M435.6 90.3h1.1M435.6 88.6h1.1M435.6 87.5h1.1M435.5 86.1h1.1M435.4 86.7h1.1M435.5 87.2h1.1M436 100.8h1.1M436.2 99.7h1.1M436 97.9h1.1M435.9 96.5h1.1M436.1 95.6h1.1M436 94.7h1.1M436 93.6h1.1M436 92.6h1.1M436 90.7h1.1M436 89.1h1.1M436.1 85h1.1M436.1 83.4h1.1M436.6 105.3h1.1M436.6 103.8h1.1M436.7 97.4h1.1M437 104.1h1.1M437 102.7h1.1M437 101.4h1.1M437 100.5h1.1M437 98.9h1.1M437.2 97h1.1M437 95.6h1.1M437.2 90.6h1.1M437.4 100h1.1M437.7 98.7h1.1M437.5 97.4h1.1M437.5 95.7h1.1M437.7 93.9h1.1M437.6 92.3h1.1M437.5 90.8h1.1M438 94.9h1.1M438.2 93h1.1M438.2 92.2h1.1M438 90.4h1.1M438 89.3h1.1M438.1 88h1.1M438 87.8h1.1M438.6 97.2h1.1M438.4 95.4h1.1M438.5 93.8h1.1M438.5 91.9h1.1M438.7 90.1h1.1M438.5 88.6h1.1M438.5 87.3h1.1M438.5 85.5h1.1M438.5 84.2h1.1M438.6 83.3h1.1M438.5 85h1.1M438.9 102.3h1.1M439.1 101.2h1.1M439 99.6h1.1M439 98h1.1M439 96.9h1.1M438.9 95.5h1.1M439 93.9h1.1M439.1 93.2h1.1M438.9 93.7h1.1M439.5 101.9h1.1M439.7 100.5h1.1M439.6 99h1.1M439.6 97.5h1.1M439.4 96.2h1.1M439.6 95.1h1.1M439.6 93.5h1.1M439.5 90.2h1.1M415.6 94h1.1M416.5 93.1h1.1M415.4 91.9h1.1M416 91.5h1.1M415.3 91.1h1.1M415.5 90.4h1.1M416.3 89.6h1.1M415.4 88.6h1.1M416.6 88.4h1.1M416 88h1.1M416.4 86.9h1.1M416.8 84.5h1.1M416.4 83h1.1M416.6 80.3h1.1M416.8 78.5h1.1M416.2 76.5h1.1M415.5 74.4h1.1M416.1 72.7h1.1M416.1 70.3h1.1M416.8 68.7h1.1M416.1 67.7h1.1M424.2 93h1.1M425 92.2h1.1M424.5 91.2h1.1M424.3 90.1h1.1M424.1 90h1.1M425 87.9h1.1M424.3 85.8h1.1M424.9 84.5h1.1M425 83h1.1M424.2 81.2h1.1M424.8 78.9h1.1M424.6 78.8h1.1M431 89h1.1M431.5 88.1h1.1M431.1 86.9h1.1M431.4 86h1.1M431.5 83.9h1.1M431.5 82.3h1.1M431 80.3h1.1M431.3 78.7h1.1M431.4 77.2h1.1M431.6 77.2h1.1M434.3 77h1.1M435.3 76.2h1.1M434.2 76.5h1.1M434.2 75.2h1.1M434.9 75.1h1.1M435.2 74h1.1M434.8 73.7h1.1M435.2 73h1.1M434.3 72.5h1.1M434.6 71h1.1M434.6 69.3h1.1M434.1 67.9h1.1M433.9 65.8h1.1M433.9 64.4h1.1M434 62.1h1.1M435.1 60.6h1.1M434.5 58.7h1.1M434.6 57.1h1.1M434.3 54.7h1.1M434 53.5h1.1M434.5 51.2h1.1M434.1 48.5h1.1M434.4 46.2h1.1M434.9 44.7h1.1M434.1 43.2h1.1M434.4 41.4h1.1M435.3 40.2h1.1M434.3 38.5h1.1M434 37.3h1.1M433.9 35.9h1.1M434.6 34.5h1.1M438.7 87h1.1M438.3 85.8h1.1M438.8 84.6h1.1M438.2 84h1.1M439 84h1.1M438 81.7h1.1M438.1 80.2h1.1M438.5 78.1h1.1M438.6 77.2h1.1M476.2 102.8h1.1M476.4 101h1.1M476.3 100.1h1.1M476.6 103.1h1.1M476.7 101.6h1.1M476.9 100.5h1.1M476.7 99.4h1.1M476.7 94.2h1.1M476.8 97.6h1.1M477.3 105.7h1.1M477.2 104.7h1.1M477.1 103.1h1.1M477.1 101.6h1.1M477.3 100.2h1.1M477.2 98.8h1.1M477.4 99.5h1.1M477.8 101.2h1.1M477.7 99.8h1.1M477.9 98.6h1.1M477.8 96.9h1.1M477.7 95.7h1.1M477.8 93.7h1.1M478.3 100h1.1M478.3 98.9h1.1M478.4 98.1h1.1M478.2 96.4h1.1M478.1 95.3h1.1M478.1 93.4h1.1M478.4 93h1.1M478.2 92.6h1.1M478.9 107.4h1.1M478.6 105.5h1.1M478.9 107.2h1.1M479.2 106.3h1.1M479.2 104.1h1.1M479.8 93.6h1.1M479.8 91.6h1.1M479.7 90.8h1.1M479.8 89.3h1.1M479.7 87.4h1.1M479.7 81.1h1.1M480.2 99.6h1.1M480.4 97.7h1.1M480.3 96.2h1.1M480.2 94.9h1.1M480.2 93h1.1M480.3 92h1.1M480.2 90.8h1.1M480.3 88.8h1.1M480.4 87.5h1.1M480.2 86.5h1.1M480.7 102.2h1.1M480.8 101.2h1.1M480.7 100.1h1.1M480.8 99.2h1.1M480.6 98h1.1M480.8 96.3h1.1M480.7 94.4h1.1M480.6 85.6h1.1M480.8 94h1.1M481.3 93.5h1.1M481.4 92.7h1.1M481.2 91.6h1.1M481.4 89.8h1.1M481.3 88.2h1.1M481.4 86.9h1.1M481.4 85.8h1.1M481.3 84.8h1.1M481.4 82.9h1.1M481.6 100.7h1.1M481.9 99.5h1.1M481.7 98.1h1.1M481.6 97h1.1M481.6 95.9h1.1M481.8 94h1.1M481.7 92.3h1.1M481.8 83.8h1.1M482.2 101.6h1.1M482.3 99.7h1.1M482.3 98.1h1.1M482.3 96.9h1.1M482.3 95h1.1M482.2 93.4h1.1M482.3 92.1h1.1M482.3 87.8h1.1M482.2 92h1.1M482.6 94.4h1.1M482.7 92.8h1.1M482.6 92h1.1M482.9 91h1.1M482.7 89h1.1M482.9 88h1.1M482.8 86.7h1.1M482.8 85.4h1.1M482.7 84.3h1.1M482.8 82.5h1.1M482.7 81.8h1.1M483.3 94.5h1.1M483.2 92.5h1.1M483.1 91.2h1.1M483.2 89.8h1.1M483.2 88.5h1.1M483.2 87.6h1.1M483.4 85.6h1.1M483.2 84.4h1.1M483.9 98.7h1.1M483.7 97.9h1.1M483.8 96.7h1.1M483.6 95.4h1.1M483.6 94.2h1.1M483.9 92.6h1.1M483.9 91h1.1M483.8 89.6h1.1M483.6 88.1h1.1M483.7 86.9h1.1M483.7 87h1.1M483.6 86.3h1.1M484.3 98.2h1.1M484.4 96.7h1.1M484.3 94.9h1.1M484.4 93.9h1.1M484.3 92.7h1.1M484.8 102.8h1.1M484.9 101.8h1.1M484.8 99.9h1.1M484.8 98.9h1.1M484.9 97.8h1.1M484.6 98.2h1.1M484.7 96.1h1.1M485.4 104.9h1.1M485.1 104h1.1M485.1 102.8h1.1M485.3 101.1h1.1M485.4 99.6h1.1M485.3 97.7h1.1M485.6 106.7h1.1M485.7 106h1.1M486.3 107.1h1.1M486.8 103.9h1.1M486.8 102.7h1.1M487.1 106.3h1.1M487.1 104.7h1.1M487.1 103.6h1.1M487.4 102.2h1.1M487.1 103.2h1.1M487.1 100.8h1.1M487.7 106.5h1.1M487.7 104.9h1.1M487.6 102.1h1.1M487.7 103.9h1.1M488.3 103.3h1.1M488.1 102.2h1.1M488.2 100.8h1.1M488.3 99.6h1.1M488.1 99h1.1M488.9 104.9h1.1M488.7 103.8h1.1M488.6 102.4h1.1M488.7 101h1.1M488.7 99.2h1.1M489.2 104.3h1.1M489.2 102.9h1.1M489.3 101.3h1.1M489.8 104.9h1.1M489.9 103h1.1M489.6 101.7h1.1M489.7 95.9h1.1M490.3 104.9h1.1M490.2 103.9h1.1M490.3 102.4h1.1M490.2 100.7h1.1M490.8 104.6h1.1M490.8 103.7h1.1M490.7 102.8h1.1M490.8 101.7h1.1M490.8 99.3h1.1M490.8 100.8h1.1M491.2 105.4h1.1M491.2 103.9h1.1M491.3 103h1.1M491.1 101.7h1.1M491.4 100.4h1.1M491.4 98.7h1.1M491.8 106.1h1.1M491.8 104.8h1.1M491.7 103.6h1.1M491.9 102h1.1M491.8 100.7h1.1M492.4 105.7h1.1M492.1 104.5h1.1M492.1 103.1h1.1M492.3 101.1h1.1M492.4 100.6h1.1M492.7 104.9h1.1M492.7 103h1.1M492.8 102h1.1M493.2 106.4h1.1M493.3 104.7h1.1M493.2 103.1h1.1M493.2 101.5h1.1M493.8 107.2h1.1M493.8 108.1h1.1M494.4 108.2h1.1M494.6 108h1.1M494.6 104.8h1.1M495.4 106.1h1.1M495.2 104.1h1.1M495.8 103.9h1.1M495.8 102.8h1.1M495.6 102.6h1.1M496.2 103.5h1.1M496.3 102.4h1.1M496.4 100.5h1.1M496.3 97.5h1.1M496.8 103.8h1.1M496.7 101.9h1.1M496.7 100.4h1.1M496.9 98.8h1.1M496.8 97.3h1.1M496.7 97.1h1.1M496.7 96.5h1.1M497.3 104.5h1.1M497.2 103.6h1.1M497.4 101.7h1.1M497.3 100h1.1M497.2 98.5h1.1M497.2 97.6h1.1M497.1 96.8h1.1M497.4 95.4h1.1M497.1 93.7h1.1M497.7 103.1h1.1M497.8 101.2h1.1M497.7 99.7h1.1M497.7 98.1h1.1M497.6 96.5h1.1M497.7 95.2h1.1M497.6 93.6h1.1M498.3 99.4h1.1M498.2 97.9h1.1M498.2 97h1.1M498.1 93.8h1.1M498.2 96.3h1.1M498.8 100.9h1.1M498.7 100.1h1.1M498.9 98.7h1.1M498.9 97h1.1M499.1 102.6h1.1M499.3 101.4h1.1M499.1 99.7h1.1M499.4 98.5h1.1M499.3 97h1.1M499.1 97.6h1.1M499.8 101.5h1.1M499.7 99.9h1.1M499.8 98.2h1.1M499.8 96.8h1.1M500.4 103.5h1.1M500.3 102.1h1.1M500.3 100.1h1.1M500.3 98.9h1.1M500.4 97.4h1.1M500.6 104.6h1.1M500.7 102.9h1.1M500.8 102h1.1M500.9 101h1.1M500.7 99.6h1.1M500.9 97.9h1.1M500.7 96.4h1.1M501.1 104.8h1.1M501.3 103.4h1.1M501.2 102.2h1.1M501.4 100.6h1.1M501.3 99h1.1M501.3 98h1.1M501.2 97.2h1.1M501.9 103h1.1M501.6 101.2h1.1M501.6 99.5h1.1M501.6 98.6h1.1M502.3 103.5h1.1M502.1 101.5h1.1M502.1 100.4h1.1M502.3 99h1.1M502.7 104h1.1M502.9 102.9h1.1M502.8 101.2h1.1M502.8 99.8h1.1M502.7 98.5h1.1M502.8 96.5h1.1M502.6 97.6h1.1M503.4 100.4h1.1M503.1 98.4h1.1M503.3 96.7h1.1M503.1 94.8h1.1M503.7 101.7h1.1M503.7 99.9h1.1M503.8 98.1h1.1M503.9 96.9h1.1M503.8 95.1h1.1M504.4 102.4h1.1M504.2 101.6h1.1M504.2 99.9h1.1M504.1 98.9h1.1M504.4 97.1h1.1M504.3 95.7h1.1M504.4 94.1h1.1M504.3 94h1.1M504.7 98h1.1M504.8 96h1.1M504.7 94h1.1M504.7 92.7h1.1M504.9 91.4h1.1M504.8 90.9h1.1M505.2 101.3h1.1M505.1 99.6h1.1M505.1 97.8h1.1M505.3 96.4h1.1M505.3 94.8h1.1M505.4 93.7h1.1M505.6 99.1h1.1M505.7 97.5h1.1M505.6 95.5h1.1M505.6 93.8h1.1M506.3 100.3h1.1M506.1 99.2h1.1M506.3 98.1h1.1M506.3 96.7h1.1M506.2 95.8h1.1M506.2 94.1h1.1M506.4 94h1.1M506.6 101.5h1.1M506.8 100h1.1M506.8 99h1.1M506.9 97.7h1.1M506.6 96.4h1.1M506.7 94.5h1.1M507.3 101.8h1.1M507.4 100.1h1.1M507.2 98.7h1.1M507.1 97.8h1.1M507.2 96.6h1.1M479.5 89h1.1M479.1 88.5h1.1M479.3 87.7h1.1M479.4 86.5h1.1M479.1 86h1.1M479.3 85.4h1.1M479.9 84.2h1.1M479.3 83.1h1.1M479.5 83.2h1.1M480.2 82.1h1.1M479 80.9h1.1M479.4 80h1.1M479.2 79.3h1.1M479.6 78.1h1.1M479 77.7h1.1M480.2 77.3h1.1M480 77.6h1.1M480.1 76.5h1.1M479.4 75.4h1.1M479.5 74.7h1.1M480.1 74.3h1.1M479.4 73.5h1.1M479.2 73h1.1M479.3 72.6h1.1M478.9 72.8h1.1M480.1 72.5h1.1M479.3 70h1.1M480.1 68.1h1.1M480 66.3h1.1M480 64.1h1.1M479.5 63h1.1M479.2 61.8h1.1M479.9 59.9h1.1M479.1 58.6h1.1M479.6 56.6h1.1M482.2 83h1.1M483.1 83h1.1M482.3 81.8h1.1M482.9 80.7h1.1M483.2 80h1.1M482.7 80.2h1.1M482.5 79h1.1M481.9 79.4h1.1M483 77.9h1.1M482.5 77.8h1.1M482.4 76.7h1.1M483 76.8h1.1M482.5 75.6h1.1M482.4 75.4h1.1M481.8 74.7h1.1M483.1 74.8h1.1M482.4 74h1.1M482.1 74h1.1M482.7 72.9h1.1M482.8 72.1h1.1M482.5 72.3h1.1M482.8 71.1h1.1M483.3 70.7h1.1M482.4 70.4h1.1M482.3 69.8h1.1M482.1 69.3h1.1M482.2 68.6h1.1M482.5 67.6h1.1M483.2 68h1.1M482.9 66.8h1.1M482.4 66.1h1.1M481.8 65.7h1.1M482.7 65.3h1.1M482.9 65.4h1.1M483.2 64.6h1.1M482.6 63.3h1.1M481.9 61.4h1.1M482.2 60.1h1.1M482.8 58.1h1.1M481.8 56.6h1.1M482.3 55.4h1.1M482.5 53.1h1.1M482.9 51.5h1.1M483.2 50.2h1.1M482.8 47.5h1.1M482.7 45.6h1.1M482.6 45.6h1.1M495.1 63.8h1.1M495.6 67h1.1M495.4 88h1.1M497.7 98h1.1M498 97.3h1.1M497.7 96.6h1.1M498 95.9h1.1M497.7 94.8h1.1M497.6 93.6h1.1M497.3 93h1.1M497.7 92.2h1.1M498 92h1.1M497.1 90.5h1.1M497.6 88h1.1M503.9 93h1.1M504.3 92.4h1.1M504.7 91.7h1.1M504.2 92h1.1M504.2 90.7h1.1M504.9 89.5h1.1M505.2 89.5h1.1M504.1 88.4h1.1M505 88.7h1.1M504.4 88.3h1.1M504.6 86.2h1.1M504.6 84.5h1.1M504.1 82.7h1.1M504.7 81h1.1M504.6 78.4h1.1M504.7 75.6h1.1M504.7 74.1h1.1M505.2 72.5h1.1M503.9 71.4h1.1M505 68.6h1.1M504.6 67h1.1"/>
<path stroke="#444" stroke-width="0.9" fill="none" d="M59.6 113.3H507M59.6 113.3V117M86.1 113.3V117M133.5 113.3V117M176.5 113.3V117M219.6 113.3V117M258.9 113.3V117M295.4 113.3V117M332.5 113.3V117M367.2 113.3V117M398.3 113.3V117M426.3 113.3V117M458 113.3V117M492.5 113.3V117"/>
<text x="54.5" y="126.9" font-size="6.4" font-weight="bold" fill="#222">Chr</text>
<text x="86.1" y="126.9" font-size="6.4" font-weight="bold" text-anchor="middle" fill="#222">1</text>
<text x="133.5" y="126.9" font-size="6.4" font-weight="bold" text-anchor="middle" fill="#222">2</text>
<text x="176.5" y="126.9" font-size="6.4" font-weight="bold" text-anchor="middle" fill="#222">3</text>
<text x="219.6" y="126.9" font-size="6.4" font-weight="bold" text-anchor="middle" fill="#222">4</text>
<text x="258.9" y="126.9" font-size="6.4" font-weight="bold" text-anchor="middle" fill="#222">5</text>
<text x="295.4" y="126.9" font-size="6.4" font-weight="bold" text-anchor="middle" fill="#222">6</text>
<text x="332.5" y="126.9" font-size="6.4" font-weight="bold" text-anchor="middle" fill="#222">7</text>
<text x="367.2" y="126.9" font-size="6.4" font-weight="bold" text-anchor="middle" fill="#222">8</text>
<text x="398.3" y="126.9" font-size="6.4" font-weight="bold" text-anchor="middle" fill="#222">9</text>
<text x="426.3" y="126.9" font-size="6.4" font-weight="bold" text-anchor="middle" fill="#222">10</text>
<text x="458" y="126.9" font-size="6.4" font-weight="bold" text-anchor="middle" fill="#222">11</text>
<text x="492.5" y="126.9" font-size="6.4" font-weight="bold" text-anchor="middle" fill="#222">12</text>
<path stroke="#e83040" stroke-width="0.55" stroke-dasharray="1.6 1.5" d="M60 82.2H508"/>
<text x="4.8" y="134.5" font-size="16.2" font-weight="bold">B</text>
<path stroke="#444" stroke-width="0.9" fill="none" d="M41.6 153V215.5M38.4 164.3H41.6M38.4 181.4H41.6M38.4 198.5H41.6M38.4 215.5H41.6"/>
<text x="33" y="166.5" font-size="5" font-weight="bold" text-anchor="middle" fill="#333">3</text>
<text x="33" y="183.6" font-size="5" font-weight="bold" text-anchor="middle" fill="#333">2</text>
<text x="33" y="200.7" font-size="5" font-weight="bold" text-anchor="middle" fill="#333">1</text>
<text x="33" y="217.7" font-size="5" font-weight="bold" text-anchor="middle" fill="#333">0</text>
<text transform="translate(22.0 181.6) rotate(-90)" font-size="7.5" text-anchor="middle" fill="#222">Ratio of π<tspan font-size="5" dy="1.5">VSDT</tspan><tspan dy="-1.5">/ π</tspan><tspan font-size="5" dy="1.5">NOR</tspan></text>
<path stroke="#0a0a82" stroke-width="0.95" d="M61.7 199.2V206.3M62.2 198.5V207.5M62.7 198.9V207.5M63.2 196.1V209M63.7 198.5V207.4M64.2 198.7V206.3M64.7 198.2V209.1M65.2 197.1V205.9M65.7 196.3V206.2M66.2 197.1V207.2M66.7 197.6V205.4M67.2 196.3V205.6M67.7 194.4V206.8M68.2 195.6V205.5M68.7 197.1V206.5M69.2 196.6V209.3M69.7 193.6V205.3M70.2 194.5V208M70.7 197.5V204.4M71.2 197.6V204.9M71.7 196.7V206.8M72.2 198.8V205.7M72.7 196.7V209.3M73.2 198.2V207.3M73.7 198.1V207.2M74.2 197.3V207.6M74.7 197.8V209.9M75.2 197.2V207.2M75.7 198.1V206.6M76.2 199.3V206.2M76.7 199V209.1M77.2 199.4V207.8M77.7 198.9V211M78.2 199.9V207.4M78.7 199V207.7M79.2 198.6V207.1M79.7 197.6V209.7M80.2 197.7V206.9M80.7 197.4V207.2M81.2 196.4V207.1M81.7 198.7V206.7M82.2 199.2V206.5M82.7 198.3V207.2M83.2 197.4V207.4M83.7 198.1V205.7M84.2 196.4V206.4M84.7 196V209.1M85.2 196.5V208.7M85.7 196.2V205.9M86.2 194.6V206.4M86.7 197.6V205.9M87.2 198.2V208.4M87.7 197.1V205.8M88.2 197.4V206.1M88.7 195.7V205.9M89.2 197.3V207.4M89.7 196.8V205.6M90.2 197.1V205.7M90.7 197.6V206M91.2 198.9V208M91.7 199.1V208.7M92.2 198.8V207.4M92.7 199.7V206.6M93.2 199.3V206.7M93.7 198.5V206.9M94.2 196.2V207.6M94.7 197.6V207.4M95.2 197.6V208.1M95.7 198.2V207.8M96.2 195.8V208.3M96.7 198.5V208.8M97.2 198.6V208.7M97.7 199.4V209.9M98.2 197.9V210.1M98.7 198.5V206.4M99.2 197V207M99.7 197V209.6M100.2 198.1V205.8M100.7 197.7V208.8M101.2 198.9V205.8M101.7 197.7V207.1M102.2 196.3V206M102.7 197.9V205.9M103.2 197.7V205.2M103.7 196.4V205.6M104.2 195.2V204.9M104.7 195.7V205.9M105.2 196.5V205.7M105.7 197.5V205.6M106.2 197.6V207.8M106.7 198.5V205.8M107.2 197.4V206.9M107.7 197.6V206.3M108.2 196.4V205.4M108.7 197.7V206.8M109.2 195.4V205.2M109.7 198.1V207.2M110.2 198.8V206M110.7 199V209.7M111.2 198.7V211.1M155.4 193.8V205.9M155.9 195.6V206M156.4 197.2V204.6M156.9 196.4V205.9M157.4 196.7V206M157.9 196.9V206M158.4 196.4V206.3M158.9 196.1V205.9M159.4 196V207.5M159.9 195V205.4M160.4 195V205.1M160.9 192.9V204.9M161.4 196.5V204.5M161.9 194.2V205.1M162.4 194.1V206.8M162.9 196.3V209.8M163.4 196.7V206.8M163.9 196.7V206.5M164.4 197.1V205.6M164.9 196.9V205.5M165.4 196V206.5M165.9 196.2V206.9M166.4 197.2V206.8M166.9 198.9V206.2M167.4 198.1V207.6M167.9 198.8V207.1M168.4 197.7V208M168.9 197.9V207.1M169.4 198.5V205.8M169.9 197.5V206.1M170.4 197.4V206.1M170.9 197.8V209.4M171.4 198.1V206.2M171.9 197.7V207.1M172.4 197.1V209.2M172.9 197.2V207.3M173.4 197.3V206.4M173.9 196.8V205.8M174.4 197.1V204.5M174.9 196.2V206.2M175.4 196.4V204.5M175.9 196.2V205M176.4 193.7V208.5M176.9 196.5V205.8M177.4 197V205.5M177.9 194V205.9M178.4 195.6V206.1M178.9 193.7V205.2M179.4 195V205.6M179.9 194.8V204.4M180.4 196.6V204.5M180.9 196.4V205.7M181.4 196.5V206.6M181.9 195.8V208.4M182.4 198.3V206M182.9 195.3V206.9M183.4 198V205.8M183.9 197V206.4M184.4 193.7V206.1M184.9 196.4V207M185.4 197.4V209.2M185.9 197.2V207.7M186.4 197.9V207.7M186.9 198.3V207.7M187.4 198.9V210M187.9 197.8V209.9M188.4 198.1V206.3M188.9 196.9V206.7M189.4 196.7V206.3M189.9 196.7V206.2M190.4 197.3V205.9M190.9 198V205.7M191.4 198.3V205.7M191.9 197V206.9M192.4 197.4V206M192.9 196.8V207M193.4 196V208.4M193.9 194V204M194.4 194.9V205.4M194.9 196.3V204.2M195.4 195.5V205.6M195.9 195.6V206.2M196.4 193.3V205.9M196.9 197V205.6M241.2 197.2V205.3M241.7 196.6V205.8M242.2 196.1V206.8M242.7 197V205.5M243.2 197.8V207M243.7 198.7V210.3M244.2 198.9V207.3M244.7 198.6V207.7M245.2 198.8V207.1M245.7 197.4V208M246.2 198.4V206.7M246.7 198.5V206.7M247.2 199.3V209.4M247.7 198.6V208M248.2 200V207.4M248.7 197.4V208.2M249.2 200V207.8M249.7 196.9V207.5M250.2 197.4V207.4M250.7 194.8V207.3M251.2 198.4V206.3M251.7 197.1V210.6M252.2 197.6V208.9M252.7 198.6V208.2M253.2 196.6V207.9M253.7 196.2V209M254.2 199V207.2M254.7 198.6V205.8M255.2 196.8V206.5M255.7 196.1V206.4M256.2 196.7V205.4M256.7 194V206.3M257.2 197.4V205.4M257.7 197.5V206M258.2 198.4V205.8M258.7 197.7V209.9M259.2 194.5V206.8M259.7 197.8V206.1M260.2 197.7V205.7M260.7 196.6V206.4M261.2 194.6V206.4M261.7 196.9V207.1M262.2 198.1V206.9M262.7 199.2V206.8M263.2 198.6V208.2M263.7 199.7V207.4M264.2 199.9V208.1M264.7 199.2V207.1M265.2 198.6V207.2M265.7 197.6V207.9M266.2 198.5V207.1M266.7 198.3V207.8M267.2 198.2V208.6M267.7 199.1V208.3M268.2 197.3V207.6M268.7 198.9V208.3M269.2 198.6V209.6M269.7 198.3V207M270.2 197V207.4M270.7 197.2V206.6M271.2 194.6V206.7M271.7 197.2V206.8M272.2 194.4V207.3M272.7 198.1V206.8M273.2 198.5V206.3M273.7 197.7V206.6M274.2 197V206.4M274.7 197.3V205.3M275.2 195.9V208.2M275.7 196.9V205.1M276.2 194.8V205.2M314 195.6V208.2M314.5 196.8V209.3M315 199V207.9M315.5 199.4V208.2M316 198.1V209.8M316.5 198.2V211.4M317 198.9V211.2M317.5 197.7V208.2M318 195.8V207.4M318.5 197.2V207.3M319 196.9V207.5M319.5 194.5V206.9M320 196.3V208.9M320.5 197.1V207.1M321 196.2V210.2M321.5 196.7V208.1M322 194.5V208.1M322.5 196.7V208.1M323 196.4V205.9M323.5 193.6V205.9M324 195.8V206.5M324.5 196.4V206.7M325 195.4V207.4M325.5 194.6V206.9M326 194V208.3M326.5 197.8V206.7M327 197.4V206.7M327.5 196V210M328 196.9V206.6M328.5 196.7V208.4M329 196.6V211M329.5 196.8V208.9M330 198.2V208.5M330.5 199.2V208.1M331 194V212.6M331.5 197.3V209.7M332 198V211.6M332.5 198V207.8M333 194.6V207.6M333.5 197.6V208.2M334 198V208.3M334.5 198.3V208.7M335 197.7V211.7M335.5 198.3V209.1M336 197.7V209.2M336.5 198.1V207.8M337 197.7V207.1M337.5 195.8V208.2M338 193.3V208.2M338.5 192.5V207.7M339 197.2V206.8M339.5 197.5V207M340 197.9V206.9M340.5 196.2V208.4M341 196.8V207.3M341.5 195.6V207.6M342 196.7V205.8M342.5 195.9V206.2M343 196.7V207.8M343.5 196.2V206.6M344 197V206.7M344.5 197.4V207.3M345 198.3V207M345.5 197.1V208.3M346 198V207.1M346.5 197.3V207.3M347 197.2V207.1M347.5 193.7V207.8M348 197.7V207.1M348.5 198.4V207.4M349 198.8V207.9M349.5 197.8V209.7M384.3 196.9V205.2M384.8 194.1V204.4M385.3 196.5V207.2M385.8 196.2V205.6M386.3 196.6V205.9M386.8 196.8V206.4M387.3 197.7V205.8M387.8 194.9V206.1M388.3 196V205.6M388.8 196.8V205.6M389.3 197.1V208.3M389.8 197.4V204.6M390.3 197.6V205M390.8 197.4V206.1M391.3 197.7V206.9M391.8 198.1V207.4M392.3 199.4V206.5M392.8 198.9V207M393.3 198.6V209M393.8 198.8V206.2M394.3 197.7V206.9M394.8 197.6V208.1M395.3 197.7V206.2M395.8 199.6V206.2M396.3 199.5V207.1M396.8 197.1V207.3M397.3 199.1V207.7M397.8 198.5V207.6M398.3 199.2V208.9M398.8 196.6V206.1M399.3 197.3V206.2M399.8 195V206.5M400.3 198.1V205.4M400.8 198.4V205.5M401.3 198.8V207.1M401.8 198V206.3M402.3 197.5V206.4M402.8 196.9V205.1M403.3 196.9V205.3M403.8 196.2V205.2M404.3 193.9V203.9M404.8 196.7V204.7M405.3 197.1V207.4M405.8 197.4V205.5M406.3 197.6V206M406.8 195.9V207.3M407.3 197.7V206.2M407.8 198.4V205.1M408.3 196.7V209.4M408.8 195V206.1M409.3 197.2V205.8M409.8 197.7V206M410.3 198V210.1M410.8 198.2V210.7M411.3 199.2V207.3M440.7 199V208.1M441.2 196V209.5M441.7 199.1V209M442.2 198.6V206.7M442.7 197.9V207.5M443.2 199V209.8M443.7 198.4V208.1M444.2 199.1V207.7M444.7 198.7V207.8M445.2 196.1V206.9M445.7 197.6V207.2M446.2 198.1V205.7M446.7 197.5V205.5M447.2 195V206.5M447.7 197V205.9M448.2 198.1V205.4M448.7 197V207.1M449.2 198.2V209M449.7 194.9V206.2M450.2 195.1V206.1M450.7 197.3V205.7M451.2 196.2V206.2M451.7 196.7V205.6M452.2 196.1V205M452.7 194.9V206.9M453.2 197V207.5M453.7 197.6V207.8M454.2 198.8V210.4M454.7 198.1V207.9M455.2 198.2V207.5M455.7 196.2V207.7M456.2 198.8V208.5M456.7 198.8V207.5M457.2 195.9V207.8M457.7 197.7V208.7M458.2 199.6V207.6M458.7 199.2V208.6M459.2 198.7V212M459.7 199.9V207.5M460.2 198.3V208.3M460.7 197.8V207.9M461.2 197.3V207.7M461.7 197.6V207.1M462.2 194.8V207.8M462.7 198.4V207M463.2 199.2V206.6M463.7 198.5V207.4M464.2 198.4V207.1M464.7 197.2V207.4M465.2 196.5V207.2M465.7 194.6V207.3M466.2 195.3V205.3M466.7 197.2V205M467.2 196.2V207.8M467.7 194.4V206.5M468.2 197.3V208.6M468.7 194.5V208.8M469.2 194.9V207.2M469.7 197.2V209.1M470.2 196.7V206.5M470.7 196.3V206.6M471.2 197.6V205.4M471.7 196.9V206.7M472.2 197.7V207.9M472.7 198.9V206.8M473.2 198.3V208.2M473.7 196.5V208.6M474.2 196.5V208.5M474.7 199.5V206.8M475.2 198.1V207.7"/>
<path stroke="#ea8f06" stroke-width="0.95" d="M112.6 199.1V206.7M113.1 198V207.7M113.6 199.1V206.1M114.1 198.7V205.8M114.6 197.8V205.9M115.1 197.6V208.8M115.6 197.7V205.4M116.1 198.1V205.5M116.6 196V205.7M117.1 197.5V206.1M117.6 199.4V206.7M118.1 198.5V207.9M118.6 199.2V207M119.1 198.3V207.4M119.6 199.3V206M120.1 198.7V209.4M120.6 199V206.7M121.1 198.9V207.6M121.6 199.5V208M122.1 200.6V207.7M122.6 200.1V211.7M123.1 200.7V211M123.6 200.4V207.8M124.1 200V207.4M124.6 199.8V207M125.1 199.4V207M125.6 196.3V208.1M126.1 198.8V210.8M126.6 200.5V207M127.1 198.7V209M127.6 200.1V207.6M128.1 199.1V207.9M128.6 198.9V210.3M129.1 199.2V205.8M129.6 194.2V206.9M130.1 197.5V206.2M130.6 194.9V208.4M131.1 195.3V205.8M131.6 199.1V205.9M132.1 199.2V207.9M132.6 199V206.3M133.1 198.3V206.5M133.6 198.8V205.4M134.1 197.2V208.6M134.6 198V205.4M135.1 194.8V209.7M135.6 195.4V206.6M136.1 197.2V207.1M136.6 199.4V207.1M137.1 199.2V207.8M137.6 199.9V207.3M138.1 198.7V210.3M138.6 199.2V207.2M139.1 196.2V206.9M139.6 199.2V206.9M140.1 199.2V207.4M140.6 196.9V207.3M141.1 200.7V207.4M141.6 196.6V209.1M142.1 199.9V209.1M142.6 199.1V207.6M143.1 196.9V208.2M143.6 198.6V208.3M144.1 198.6V209.6M144.6 199.3V207.9M145.1 198.7V207.3M145.6 198.9V207.4M146.1 197.4V208.2M146.6 200V206.9M147.1 197.3V210.2M147.6 198.6V207.3M148.1 195.1V208.6M148.6 197.6V206.4M149.1 196.1V205.6M149.6 197.1V207.9M150.1 198.2V205.5M150.6 197.1V205.9M151.1 198.8V206.3M151.6 198.2V207.3M152.1 199.1V206.3M152.6 199.3V207.5M153.1 197.8V209.7M153.6 196.3V205.8M154.1 197.7V208M154.6 198.4V206.3M199 197.4V208.5M199.5 197.5V207.7M200 196.6V207.6M200.5 197.2V206.1M201 195.6V207M201.5 196.5V206.1M202 195.8V207.2M202.5 196.8V206.5M203 197.5V207.4M203.5 195.9V210.9M204 195.8V207.3M204.5 196.3V205.9M205 195.8V208.1M205.5 196V204.6M206 194.7V205.8M206.5 195.8V205M207 192.5V206.4M207.5 196V206.4M208 196V207.1M208.5 192.7V207.7M209 195.4V207.6M209.5 195.8V206.8M210 196.6V205.5M210.5 195.1V207M211 196.5V205.9M211.5 197.1V206.2M212 196.9V207.4M212.5 196.5V208.8M213 197.1V211.4M213.5 197V208.9M214 197V208.5M214.5 197.3V207.6M215 196.4V207.9M215.5 196.4V207.6M216 196.1V208.1M216.5 193.5V208.4M217 197.1V208.2M217.5 196.8V210.9M218 197.4V209.3M218.5 197.1V208M219 196.9V207.2M219.5 197.4V205.7M220 194.2V207.2M220.5 191.8V206.5M221 195.6V206.3M221.5 196.9V207.7M222 196.1V206.7M222.5 196.2V206.8M223 195.7V207.3M223.5 195.9V206.5M224 196.6V204.9M224.5 195.7V205.2M225 196.1V204.4M225.5 193.6V205.6M226 196.3V206.1M226.5 196.6V205.7M227 195.7V207.5M227.5 196.6V207.2M228 196.3V209.8M228.5 196.6V207.2M229 195.7V207.6M229.5 196.1V210M230 197.4V205.6M230.5 197.2V206.3M231 197.1V208.5M231.5 196.5V208.8M232 198.8V207.2M232.5 198.8V208.7M233 197.6V208.5M233.5 197V208.4M234 194V207.5M234.5 195.7V206.5M235 195.4V209.1M235.5 196.8V207M236 197.3V207M236.5 197.3V207.5M237 196.8V208.2M237.5 197.2V207.5M238 195.8V209.7M238.5 195.9V207M239 196.6V205.3M239.5 195.8V205.4M240 195.1V205.9M240.5 195.7V205.6M241 193.2V208.4M276.8 193.7V204.2M277.3 195.8V207.7M277.8 197.3V205.7M278.3 197.2V206.6M278.8 196.9V205.6M279.3 194.2V205.1M279.8 195.8V205.9M280.3 197V204.4M280.8 196.9V204.4M281.3 197.3V204.6M281.8 197.3V207.4M282.3 197.4V206.4M282.8 197.8V206.9M283.3 195.2V206.7M283.8 195.7V208.6M284.3 197.8V206.9M284.8 198.1V208M285.3 197.5V209.5M285.8 197V206.5M286.3 195.3V207.2M286.8 198.2V208.3M287.3 198V207M287.8 199V206.5M288.3 198.7V208M288.8 197.2V207.4M289.3 194.3V206.6M289.8 197.7V204.9M290.3 196.8V205M290.8 196.5V206.3M291.3 194.1V204.8M291.8 196.4V206.9M292.3 193.7V206.5M292.8 195.2V205.8M293.3 195V205.4M293.8 196.3V205.5M294.3 196.5V204.4M294.8 195V205.2M295.3 195.5V204.4M295.8 196.5V203.7M296.3 196.4V204.5M296.8 196.5V205.3M297.3 197.6V205.1M297.8 195.3V206.1M298.3 196.4V206.8M298.8 196.9V205.9M299.3 196.8V205.6M299.8 196.3V205.8M300.3 197.1V205.2M300.8 197.2V207.5M301.3 197.3V206.5M301.8 197.3V207.6M302.3 198.3V207.2M302.8 198.4V209.2M303.3 197.7V207.8M303.8 197.7V208M304.3 197.5V209.6M304.8 196.8V206.7M305.3 197.7V205.7M305.8 197.8V205.8M306.3 197V207.1M306.8 198.1V209.1M307.3 197.5V207.3M307.8 195V207.4M308.3 197.5V209.4M308.8 194.6V205.5M309.3 197.1V204.3M309.8 192.3V205.3M310.3 195.7V205M310.8 195.6V205.5M311.3 197.2V204.5M311.8 197V205.1M312.3 193.3V206.1M312.8 196.9V208.5M313.3 193.1V204.9M350.4 198.8V208.3M350.9 198V207.2M351.4 197.9V206.5M351.9 199.7V207.1M352.4 198.9V208.1M352.9 198.8V211.1M353.4 198.9V207.4M353.9 198.8V207.2M354.4 196.6V206.3M354.9 198.9V210M355.4 200.3V206.8M355.9 199.2V208.7M356.4 201V207.7M356.9 200.6V211.5M357.4 200.5V208.1M357.9 200V207.8M358.4 200.1V206.9M358.9 198.8V207.4M359.4 198.3V206.4M359.9 197.6V206.3M360.4 198.4V210.3M360.9 199.2V209.2M361.4 199.1V207.9M361.9 198.9V207.8M362.4 198.4V207.6M362.9 198.8V209.2M363.4 198.4V205.5M363.9 197V206.3M364.4 195.7V206.1M364.9 197.3V206.2M365.4 198V206.2M365.9 199V205.9M366.4 198.1V207.2M366.9 198.4V206.9M367.4 198.5V206.4M367.9 197.7V206.6M368.4 197.8V208.2M368.9 195.6V205.5M369.4 197.4V207M369.9 197.9V207.4M370.4 198.7V208.9M370.9 199.9V207.4M371.4 198.7V208M371.9 199.8V209.7M372.4 199.4V208M372.9 199V207.9M373.4 198.2V206.6M373.9 198.5V207.9M374.4 198.9V208M374.9 196.3V208.3M375.4 199.8V210.2M375.9 200.7V208M376.4 200.7V207.9M376.9 200.5V207.4M377.4 199V208M377.9 198.4V207.6M378.4 198.3V207M378.9 198V210.4M379.4 199.1V206.1M379.9 199V206.6M380.4 198.3V207.7M380.9 198.5V207.6M381.4 196.3V206.2M381.9 198.9V206M382.4 194.8V206.3M382.9 197.6V205.7M412.3 194.7V206.2M412.8 196.1V205.8M413.3 193.3V206.2M413.8 193.6V207.8M414.3 197.2V210.2M414.8 197.2V210.3M415.3 195.5V206.8M415.8 194.1V206.2M416.3 194.9V206.8M416.8 195.7V207.6M417.3 197V206.8M417.8 197.1V209.7M418.3 197V208.8M418.8 197.4V208.3M419.3 198.3V207.5M419.8 197.2V208M420.3 197.1V207.2M420.8 193.6V208.1M421.3 195.8V206.9M421.8 195.8V206.6M422.3 196.6V207.4M422.8 196.2V206.8M423.3 196.6V206.8M423.8 195.3V208.1M424.3 197.1V206M424.8 194.3V205.8M425.3 194.7V208.7M425.8 194.8V205.6M426.3 195.7V204.3M426.8 193.2V204.6M427.3 195V205.7M427.8 194.7V208.9M428.3 195.3V206.9M428.8 195.9V206.6M429.3 192.8V207.6M429.8 194.6V207.4M430.3 195.8V209.2M430.8 195.4V205.8M431.3 195.3V206.2M431.8 195.1V207M432.3 197.1V206M432.8 197.1V209.2M433.3 196.5V208.5M433.8 196.6V208.7M434.3 196.2V211.4M434.8 197.2V207.3M435.3 195.6V211.3M435.8 196.1V208.8M436.3 196.2V207.4M436.8 197.5V206.5M437.3 196.6V208.1M437.8 196.9V208.3M438.3 194.4V207.8M438.8 197.1V208M439.3 196.5V207.8M439.8 196.4V206.8M475.8 196.5V205.4M476.3 196.4V205M476.8 195.1V208.4M477.3 196.3V204.4M477.8 196.3V204.8M478.3 194.7V207.6M478.8 197.6V205.4M479.3 198.2V208.3M479.8 197.1V207.5M480.3 196.7V209.1M480.8 195.6V209.5M481.3 197.4V206.3M481.8 197.2V206.2M482.3 198.1V205.3M482.8 197.1V206.7M483.3 198.3V206.3M483.8 197.4V208M484.3 199.2V206.8M484.8 199.3V208.4M485.3 198.3V207.2M485.8 197.1V206.4M486.3 196.7V206.9M486.8 196.2V209.4M487.3 195.9V206.8M487.8 197V205.8M488.3 196.2V207M488.8 197.3V206.3M489.3 197.4V206.3M489.8 198V205.4M490.3 197.2V205.4M490.8 193.3V204.9M491.3 196.3V204.4M491.8 194.7V205.6M492.3 195V205.3M492.8 195V205.9M493.3 195.8V205.9M493.8 197.2V208M494.3 196.1V206.6M494.8 196.8V207.5M495.3 195.2V208.2M495.8 196.8V204.9M496.3 195.3V207.6M496.8 196.9V204.6M497.3 197.2V205M497.8 196.3V206.8M498.3 197V210.5M498.8 197.2V207.9M499.3 197.5V207.9M499.8 198.3V206.9M500.3 197.7V208.1M500.8 198.4V205.7M501.3 197.9V205.8M501.8 197.4V206.3M502.3 197.3V206.9M502.8 197.4V206.3M503.3 197.5V208M503.8 198.3V207.4M504.3 198.2V208.6M504.8 197.6V207M505.3 194.3V207.4M505.8 193.8V207.1M506.3 196.8V205.2M506.8 195.5V206.3M507.3 196.8V205.2"/>
<path stroke="#0a0a82" stroke-width="1" d="M61.7 197.4h1M62.5 196.6h1M63.3 195.8h1M65.7 207.3h1M66.5 197.3h1M67.3 207.5h1M68.1 194.8h1M69.7 196.1h1M70.5 207.4h1M71.3 194.8h1M72.1 208.7h1M72.9 207h1M73.7 207.4h1M74.5 208.6h1M76.9 197h1M79.3 194.5h1M80.1 197.3h1M80.9 194.8h1M82.5 207.5h1M83.3 194.3h1M85.7 213.7h1M88.9 197.3h1M89.7 197.3h1M92.1 208.9h1M94.5 191.9h1M96.9 207.5h1M99.3 196.9h1M100.1 197.3h1M101.7 194.8h1M104.1 207.8h1M106.5 208.5h1M107.3 207.9h1M109.7 196.8h1M111.3 197.2h1M62.8 172h1M62.8 169.7h1M62.4 166.7h1M62.4 163.9h1M62.5 160.5h1M62.6 158.1h1M62.5 155.7h1M63.2 198.5h1M63.4 198h1M62.6 197.2h1M63.5 196.2h1M63.3 195.6h1M63 194.7h1M63 194.1h1M62.9 193.2h1M63.1 192.7h1M63.1 191.9h1M62.6 191.3h1M63.3 190.3h1M63 189.7h1M63.3 189.1h1M62.6 189h1M62.8 187.5h1M63 186h1M65.2 198.5h1M65 197.7h1M65.5 197.2h1M65.3 196.2h1M64.6 195.5h1M65.6 194.6h1M64.6 193.7h1M65.4 193.2h1M65.6 192.4h1M64.9 191.5h1M65.5 190.7h1M65.7 190h1M65.7 188h1M64.5 186h1M64.4 184.4h1M65 183.6h1M70.2 198.5h1M69.4 197.8h1M69.9 196.8h1M69.6 196.3h1M69.4 195.7h1M69.6 195.1h1M69.9 194.5h1M70.3 193.7h1M70.2 192.9h1M69.9 192.2h1M70.5 192h1M69.7 190.7h1M69.5 188.8h1M70 187.4h1M77.3 198.5h1M77 197.7h1M77.9 196.7h1M77.4 195.8h1M77.2 194.9h1M78 194.1h1M78 193.4h1M77.7 192.8h1M77.5 192h1M78 191.4h1M77.4 190.6h1M78.1 190h1M77.8 187.9h1M77.5 186.5h1M83.6 198.5h1M83 197.7h1M83.7 197.1h1M82.9 196.1h1M83.2 195.5h1M83.5 194.9h1M83.4 193.9h1M83.7 193.4h1M83.5 193h1M83.4 191.5h1M83.3 190.3h1M87.9 198.5h1M88.4 198h1M88.4 197.4h1M88.6 196.8h1M88 196.2h1M88.4 195.7h1M88.2 194.9h1M88.6 194h1M88.5 192.3h1M88.1 192h1M93.9 198.5h1M94.1 198h1M94.3 197.2h1M93.7 196.5h1M94.1 195.7h1M94 194.9h1M93.7 194h1M94.2 194h1M93.8 192h1M104.5 198.5h1M105 197.7h1M104.5 197h1M105.3 196.4h1M105.2 195.5h1M105.4 194.7h1M104.9 193.7h1M104.6 192.9h1M104.8 192.4h1M104.8 191.6h1M104.4 190.9h1M104.9 190h1M105.3 190h1M105.1 188.4h1M104.3 186.6h1M105 184.6h1M104.4 182.7h1M105.4 181.5h1M104.8 179.8h1M110.7 198.5h1M110.7 197.7h1M110.2 197.1h1M110 196.3h1M110.1 195.4h1M110 194.5h1M110.3 193.6h1M110.1 192.9h1M110.7 192.2h1M110.6 192h1M110.3 190.3h1M110.2 189.3h1M65 198.5h1M65.6 197.8h1M65.7 197.2h1M64.9 196.7h1M64.9 196h1M65.7 195.3h1M65 194.7h1M66.2 193.9h1M65.8 193.1h1M66.1 193h1M65.4 191.2h1M65.5 190h1M67.9 198.5h1M68 197.7h1M67.6 197.2h1M68.3 196.2h1M67.5 196h1M67.5 194.4h1M67.5 194h1M155.4 195.1h1M157.8 196h1M159.4 195.2h1M160.2 206.8h1M161.8 207.1h1M169.8 195.4h1M171.4 207h1M173 195.8h1M174.6 207.8h1M177 207h1M177.8 210.3h1M179.4 210.4h1M182.6 206.9h1M183.4 207.4h1M185 194.9h1M186.6 207.1h1M188.2 208h1M189 207.9h1M189.8 196.1h1M192.2 207.2h1M195.4 207.9h1M162.6 197.5h1M161.8 196.8h1M161.8 196.1h1M161.9 195.4h1M162.1 194.7h1M162 194.2h1M162.4 193.2h1M162.2 192.6h1M162.6 191.8h1M162.4 190.9h1M161.7 190h1M161.7 187.8h1M162.5 186.4h1M162.6 184.7h1M162.1 184.5h1M164.7 197.5h1M164.7 197h1M165.2 196.2h1M165.4 195.6h1M165.2 195h1M164.4 194.3h1M164.4 193.7h1M164.4 193.1h1M164.4 192.4h1M164.5 191.6h1M165.1 190.7h1M165 190h1M164.8 189.1h1M165.3 188.4h1M165.4 187.8h1M165 186.8h1M165.3 186h1M165.5 184.5h1M164.4 183h1M165 180.7h1M170 197.5h1M169.3 196.7h1M169.2 196h1M170 195.3h1M169.2 194.8h1M170 193.8h1M169.5 193h1M169.8 193h1M170 190.9h1M169.6 190h1M173.4 197.5h1M173.8 197h1M174 196.4h1M173.6 195.9h1M173.2 195.2h1M173.6 194.4h1M173.1 193.5h1M173.5 192.6h1M173.4 192h1M173.2 189.5h1M173.6 189.3h1M183.4 197.5h1M183.5 196.5h1M182.7 196h1M183.4 195h1M183.1 194.1h1M183 193.6h1M182.7 192.9h1M182.7 192.4h1M182.8 191.6h1M183.6 190.8h1M182.6 190.1h1M182.8 189.4h1M183 188.5h1M183.7 187.7h1M182.6 187h1M182.7 186.2h1M183.2 186h1M183.1 184.7h1M183.5 183h1M183.4 181.3h1M183 180.1h1M183.2 179.8h1M186.5 197.5h1M185.8 197h1M186.3 196.4h1M186.2 195.8h1M186.1 194.9h1M186.4 194.3h1M185.7 193.6h1M185.9 192.9h1M185.6 192.3h1M185.8 191.4h1M186.1 190.4h1M185.8 190h1M185.8 188.4h1M186 185.9h1M186.1 185.5h1M195.2 197.5h1M195 196.6h1M195.9 195.7h1M196.1 195h1M195.6 194.2h1M195.8 193.2h1M195.2 192.4h1M195.5 191.8h1M195.5 191h1M195.9 190.4h1M195.7 189.5h1M195.7 188.6h1M195.3 188.1h1M195.8 187.6h1M195 186.8h1M195 186.2h1M195.8 185.4h1M195.1 184.7h1M195.9 184h1M195.8 182.6h1M195.4 180.4h1M195.6 178.8h1M157.5 197.5h1M157.1 196.6h1M157.7 195.6h1M157.5 194.6h1M158 194h1M157.7 192.7h1M157.6 192h1M242.8 196.3h1M244.4 209.1h1M245.2 207.9h1M248.4 195.9h1M249.2 208.2h1M251.6 191.3h1M252.4 196.3h1M253.2 207.6h1M254.8 194.1h1M255.6 196h1M257.2 208.4h1M258.8 211.7h1M261.2 207.7h1M262 209.4h1M263.6 195.6h1M266.8 196.3h1M268.4 209.7h1M270 207.5h1M271.6 196.6h1M273.2 207.4h1M274 208.5h1M274.8 196.7h1M250.3 198.5h1M249.6 198h1M250.5 197h1M250.3 196.1h1M249.6 195.2h1M250.6 194.4h1M250.4 193.8h1M250.6 193h1M250.6 192.2h1M250.1 191.5h1M250.6 190.5h1M249.7 189.9h1M250.7 189.3h1M250.4 189h1M250.4 186.5h1M249.9 184.5h1M250.2 183.6h1M256.4 198.5h1M256.9 197.6h1M256.6 196.7h1M256.5 196h1M257.1 195.1h1M256.6 195h1M256.4 193.7h1M256.6 193h1M260 198.5h1M260.2 197.7h1M260.8 196.8h1M260.9 195.9h1M260 195.3h1M260.6 194.3h1M260.5 193.5h1M261.1 192.6h1M260.1 192.1h1M260.5 191.4h1M260.2 190.8h1M260 190.2h1M260.8 189.5h1M261.1 188.8h1M260.2 188h1M261 187.2h1M260.9 186.7h1M260.1 186h1M260.5 185.2h1M260 184.4h1M261 184h1M260.5 182h1M260.3 179.6h1M260.7 178.3h1M261.1 176.6h1M260.6 176h1M264.5 198.5h1M264.2 197.8h1M264.7 197.1h1M264.9 196.5h1M264.3 195.9h1M264.2 195.3h1M264.5 194.6h1M264.6 193.8h1M265.1 193h1M264.8 191.2h1M264.6 190h1M262.1 198.5h1M261.6 197.9h1M261.4 197h1M260.9 196.4h1M262.2 195.5h1M260.6 195h1M260.8 192.8h1M261.6 192h1M314.8 210.1h1M317.2 208.9h1M318 208.6h1M318.8 194.3h1M319.6 209.1h1M320.4 196h1M321.2 208.8h1M322 209.1h1M322.8 208.5h1M324.4 208.7h1M326.8 196h1M327.6 209h1M328.4 195.2h1M330.8 208.6h1M331.6 195.1h1M333.2 194.2h1M334 195.2h1M335.6 212.1h1M336.4 209.3h1M338 209.1h1M338.8 208.5h1M342.8 192h1M345.2 209.2h1M346.8 195.2h1M348.4 208.5h1M318 197.5h1M318.2 196.6h1M317.9 195.9h1M317.3 195.2h1M317.7 194.7h1M318.2 194h1M317.8 193.3h1M317.5 192.5h1M317.9 191.7h1M317.6 190.9h1M317.7 190h1M317.5 189.5h1M317.5 188.7h1M317.5 188h1M317.5 186.3h1M317.8 183.8h1M318.3 182.6h1M317.9 180.6h1M317.9 178.8h1M345.1 197.5h1M344.4 196.7h1M344.9 196h1M344.9 195.2h1M345.6 194.5h1M345.7 193.8h1M344.7 192.9h1M345 192.3h1M345.1 191.3h1M345.2 190.4h1M345.4 189.5h1M345.5 188.9h1M345.7 188.4h1M344.6 187.4h1M345.5 186.8h1M345.4 186.1h1M344.4 186h1M345.3 184.6h1M345.2 182.2h1M344.2 180.4h1M344.6 178.2h1M344.9 177.8h1M321.6 197.5h1M320.6 196.5h1M320.6 195.9h1M321.6 194.9h1M320.8 194.2h1M321.5 193.6h1M320.8 193.1h1M321.2 193h1M320.6 191.3h1M321.6 190h1M339.4 197.5h1M339.7 196.5h1M339.2 195.7h1M339 195.1h1M339.6 194.4h1M339.7 193.7h1M340.1 193h1M339 191.2h1M339.6 191h1M385.1 196.8h1M389.1 196.7h1M390.7 206.8h1M391.5 208.1h1M392.3 206.7h1M393.9 206.7h1M394.7 206.8h1M395.5 207.1h1M396.3 206.9h1M397.1 206.8h1M402.7 206.6h1M403.5 206.8h1M405.1 197.4h1M406.7 197.4h1M407.5 206.8h1M408.3 196.8h1M409.9 208.1h1M397.1 198.5h1M397.6 197.6h1M397.3 196.7h1M397.6 195.9h1M397.5 195.2h1M397.5 194.4h1M397.7 193.6h1M397.4 192.9h1M398.1 191.9h1M397.1 191.1h1M397.3 190.5h1M397.7 189.7h1M398 189.2h1M397.7 188.4h1M398 188h1M397 185.8h1M397 183.2h1M397.6 182.6h1M406.8 198.5h1M406.9 198h1M407.2 197.1h1M407.2 196.3h1M406.8 195.8h1M407.3 194.8h1M407.4 193.9h1M406.7 193.1h1M406.8 192.5h1M407.8 191.7h1M407 190.8h1M407.4 190h1M407 188h1M407.2 186.5h1M389 198.5h1M388.9 197.7h1M388 197h1M388.4 196.1h1M388.2 195.5h1M388.1 195h1M387.9 193.5h1M388.6 193h1M440.7 195.4h1M441.5 208.2h1M442.3 196.7h1M443.9 209.9h1M446.3 197.4h1M447.1 207.6h1M448.7 207.8h1M451.1 207.6h1M451.9 207.7h1M452.7 207.7h1M453.5 210.3h1M457.5 209.2h1M459.1 208.8h1M459.9 208.4h1M460.7 207.6h1M461.5 195.5h1M462.3 195.4h1M465.5 196.1h1M466.3 212.4h1M467.1 197.1h1M468.7 207.7h1M469.5 195.4h1M471.1 207.7h1M471.9 207.5h1M473.5 197.1h1M474.3 207.4h1M443.6 198.5h1M443.3 197.6h1M443.4 196.9h1M443.7 196.1h1M443.9 195.2h1M443.8 194.5h1M443.9 193.8h1M444.1 192.9h1M443.4 192.3h1M443.5 191.3h1M443.3 190.3h1M443.4 189.4h1M443.3 189h1M444.1 186.9h1M443.7 185.4h1M443.6 184.5h1M452.5 198.5h1M452 198h1M452 197.3h1M451.9 196.4h1M452 195.6h1M451.6 194.9h1M451.8 193.9h1M452.5 193h1M452.5 192.4h1M452.6 191.8h1M452.3 191.1h1M451.9 190.5h1M452.2 189.9h1M452.2 189.2h1M452.6 188.4h1M452.4 187.6h1M451.8 186.6h1M451.7 186h1M452.1 185.4h1M452.6 184.6h1M452.3 183.9h1M452.5 183h1M451.8 182.4h1M451.7 181.7h1M452.5 181h1M451.7 180.5h1M452.3 179.6h1M452 178.9h1M451.7 178.1h1M451.6 178h1M452 176h1M452.5 173.7h1M452.2 171.8h1M452.5 170.1h1M452.2 169.2h1M461.9 198.5h1M461 197.5h1M460.8 196.9h1M460.9 196.2h1M461.6 195.3h1M460.9 194.4h1M461.4 193.5h1M461.6 192.6h1M460.8 191.9h1M461.3 191h1M461.9 190.4h1M461.1 190h1M461.4 188.7h1M461.4 186.1h1M461.4 185.5h1M473 190h1M472.9 187.2h1M473.2 184.2h1M473.1 181.4h1M473.2 179.1h1M472.8 176.3h1M473.2 173.7h1M473 170.7h1M473 168.4h1M472.9 165.8h1M472.8 163.1h1M473.2 160.7h1M473.2 158.2h1M472.7 155.1h1M456.2 198.5h1M456.5 197.9h1M455.5 197.2h1M455.9 196.5h1M455.6 195.7h1M455 194.9h1M455.5 194.1h1M456 194h1M455.6 192h1M465 198.5h1M466.2 197.6h1M465 197.1h1M465.3 196.1h1M465.5 195.2h1M466.2 195h1M465.6 193h1"/>
<path stroke="#ea8f06" stroke-width="1" d="M112.6 207.6h1M114.2 207.6h1M115 197.7h1M118.2 207.9h1M119.8 207.9h1M120.6 197.5h1M121.4 197.2h1M122.2 207.7h1M123.8 208h1M124.6 197.7h1M125.4 196.6h1M126.2 207.8h1M127 207.8h1M134.2 207.8h1M135.8 197.5h1M136.6 193.8h1M138.2 196.4h1M139.8 198.1h1M141.4 207.9h1M142.2 207.7h1M143.8 196.4h1M144.6 207.8h1M145.4 207.5h1M146.2 208h1M149.4 196.8h1M150.2 195.5h1M151 197.9h1M151.8 207.5h1M153.4 198.3h1M114.3 199.5h1M114.1 198.9h1M113.9 198.2h1M114.3 197.6h1M113.6 197h1M113.9 196.3h1M113.8 195.4h1M114.5 194.8h1M113.8 194.1h1M114 193.2h1M114 192.5h1M113.6 192h1M114 189.4h1M114.4 187.4h1M114 186.5h1M115.1 199.5h1M115.4 198.7h1M115.8 197.9h1M115.2 197.3h1M116 196.7h1M115.6 196h1M116 195.1h1M115.3 194.1h1M116 193.1h1M115.1 192.4h1M115.3 192h1M115.6 190.7h1M115.1 188.3h1M115.5 186.5h1M199.8 194.5h1M200.6 208.8h1M201.4 209.1h1M202.2 195.1h1M203.8 194h1M208.6 208.2h1M210.2 208.2h1M211.8 211.5h1M212.6 194.2h1M213.4 208.8h1M214.2 195.1h1M215.8 195.6h1M218.2 208.4h1M220.6 207.4h1M221.4 195.5h1M223 211.4h1M224.6 207.7h1M228.6 207.7h1M230.2 193.4h1M231 195.3h1M234.2 195.8h1M236.6 208.4h1M238.2 194.7h1M239 207.7h1M240.6 194.2h1M217 197h1M217.3 196.1h1M217.1 195.4h1M218 194.4h1M217.7 193.9h1M217.5 193.3h1M218.1 192.5h1M217.1 191.8h1M217.6 191h1M218.1 190.5h1M217.7 189.7h1M217.4 189h1M218.1 188.3h1M217.9 187.7h1M217.2 186.8h1M218 186h1M218 183.9h1M217.1 182h1M217.4 180.3h1M217.6 177.8h1M226.4 197h1M225.9 196.2h1M226.8 195.5h1M225.8 194.9h1M226.1 194.3h1M226.9 193.5h1M226.6 192.6h1M226.3 191.9h1M226.8 191.1h1M226.2 190.2h1M226.2 189.7h1M226.9 189h1M225.8 188.4h1M225.8 187.6h1M226.1 186.8h1M226.2 186h1M226.6 184.4h1M226.2 182.8h1M225.9 180.5h1M226.4 178.8h1M234 197h1M233.8 196.1h1M233.7 195.5h1M233.7 194.8h1M234.4 194.1h1M234 193.5h1M234.1 192.5h1M234.3 191.6h1M233.9 191.1h1M233.9 190.1h1M234.1 189.2h1M233.8 188.7h1M234 188.1h1M234.1 188h1M234.4 186.8h1M234.4 185.6h1M234.1 183.6h1M204.3 197h1M204.1 196.3h1M204.6 195.6h1M204 194.6h1M205.3 193.7h1M205.3 193h1M205.3 190.9h1M204.6 190h1M277.6 207.5h1M278.4 194.7h1M280 206.5h1M280.8 206.6h1M284 194.8h1M286.4 194.8h1M287.2 194.8h1M288 208.9h1M288.8 196.5h1M289.6 196.2h1M294.4 207.6h1M295.2 196.2h1M296 196.3h1M296.8 207.1h1M298.4 207.1h1M299.2 196.5h1M300 207.5h1M300.8 195.2h1M302.4 196.4h1M303.2 192.4h1M304 196.1h1M305.6 207.3h1M306.4 207.7h1M307.2 208h1M308 207.1h1M308.8 206.9h1M311.2 207.4h1M284.3 197.5h1M284.3 196.6h1M284.3 196h1M284 195.1h1M284.4 194.4h1M284 193.8h1M284.3 192.8h1M284.2 191.9h1M284.4 191.4h1M283.9 190.5h1M284.6 189.7h1M283.5 188.9h1M284 188.2h1M283.8 188h1M283.8 186.6h1M284.5 185h1M283.6 182.8h1M284.1 181.7h1M287.1 197.5h1M287.3 196.7h1M287.5 195.8h1M287.4 195.2h1M287.7 194.2h1M288 193.6h1M287 192.7h1M287.9 192h1M287 191.1h1M288 190.5h1M288 190h1M287.5 188.2h1M287.1 186.3h1M287.3 184.8h1M287.6 184.5h1M281.3 197.5h1M280.2 196.8h1M280 196.2h1M279.8 195.5h1M280 194.6h1M280.9 194h1M280.9 192.7h1M281.2 191.4h1M280.6 191h1M352 197.4h1M353.6 194.2h1M356.8 209.2h1M357.6 195.4h1M358.4 208.4h1M359.2 197.2h1M364 198h1M364.8 207.7h1M365.6 209.4h1M366.4 198.4h1M367.2 195.9h1M368.8 197.8h1M369.6 197.9h1M370.4 207.5h1M372 208.7h1M374.4 210.2h1M375.2 193.9h1M376 207.9h1M377.6 207.9h1M379.2 208.6h1M380 208.8h1M380.8 208.4h1M381.6 197.4h1M354.2 199.5h1M354 198.6h1M353.9 197.9h1M353.6 197.1h1M354.5 196.2h1M354.4 195.4h1M353.9 194.4h1M353.8 193.4h1M354.3 192.6h1M354.5 192.1h1M353.7 191.5h1M354.3 190.9h1M354.3 190h1M354.1 188.7h1M353.6 186.5h1M354.1 184.4h1M354.2 183.6h1M366.4 199.5h1M366.2 198.7h1M366.1 198.2h1M367 197.5h1M366.3 196.5h1M366.8 195.8h1M367 194.8h1M366.4 194.1h1M366.3 193.2h1M366.2 192.5h1M366.1 191.9h1M367 191.2h1M366.4 190.4h1M366.3 189.5h1M366.7 188.9h1M366.2 187.9h1M366.9 187.4h1M366.5 186.5h1M366.1 185.8h1M366.2 185.1h1M366.1 184.4h1M366.8 183.4h1M366.6 182.5h1M366.5 182h1M366.8 180.3h1M366.1 177.8h1M366.6 177h1M366.6 171h1M366.3 167.9h1M366.7 165h1M366.4 162.3h1M366.6 159.2h1M366.6 156.7h1M366.5 154.4h1M378.2 199.5h1M378.6 198.9h1M379.1 198.2h1M378.8 197.2h1M378.4 196.4h1M378.7 195.8h1M378.1 195.1h1M378.3 194.2h1M378.7 193.2h1M378.7 192.6h1M378.3 192h1M378.6 189.5h1M378.6 188.4h1M412.3 208.3h1M413.1 209.3h1M414.7 207.7h1M416.3 207.5h1M418.7 209.4h1M421.9 194.2h1M422.7 207.7h1M423.5 194.9h1M426.7 194.2h1M429.1 193.7h1M432.3 208.2h1M433.1 208.4h1M433.9 207.5h1M434.7 212.2h1M436.3 210.2h1M437.9 207.7h1M439.5 208.3h1M416 196.5h1M415.7 195.8h1M415.7 195.2h1M416.1 194.6h1M415.4 193.9h1M416.1 193.4h1M415.2 193h1M415.2 191.4h1M415.6 190h1M429.9 196.5h1M429.1 195.7h1M429.8 195.1h1M429.6 194.1h1M429.1 194h1M429.1 192.4h1M429.6 192h1M475.8 195.8h1M476.6 196.2h1M477.4 206.9h1M478.2 195.4h1M479 194.2h1M479.8 195.7h1M481.4 195.6h1M482.2 207.4h1M483 195.8h1M483.8 208.6h1M486.2 207.4h1M487.8 207.2h1M489.4 207.6h1M490.2 192.1h1M491 206.6h1M493.4 196.1h1M494.2 207.6h1M495.8 191.6h1M499 207.7h1M503 196.3h1M503.8 195.4h1M504.6 194.6h1M507 207.3h1M479.3 197.5h1M478.8 196.9h1M479.4 196.3h1M478.8 195.4h1M478.9 194.6h1M479.5 193.8h1M479.5 193h1M479.4 191h1M479.4 189.7h1M479.1 189.3h1M482.5 197.5h1M482.4 196.8h1M482.6 196.1h1M482.9 195.5h1M482.6 194.6h1M482.8 193.9h1M482.8 193h1M483.1 192.4h1M482 191.8h1M482.7 191.1h1M482.4 190.5h1M482 190h1M482.6 187.8h1M482.6 185.5h1M504 197.5h1M503.7 196.6h1M503.5 195.9h1M504 194.9h1M503.8 193.9h1M503.5 193.3h1M504.3 192.5h1M503.8 192h1M503.9 190.5h1M504.1 188.4h1M498.9 197.5h1M498.8 196.5h1M500.4 195.9h1M500.3 195h1M499.4 194.2h1M500.3 194h1M499.4 192.8h1M499.6 192h1"/>
<path stroke="#fff" stroke-width="1" stroke-opacity="0.6" d="M61.2 200.8h1M61.7 202.5h1M62.7 205h1M65.7 201.6h1M66.7 200.8h1M71.7 202.8h1M72.7 201.5h1M74.2 199.7h1M74.7 204.1h1M77.2 202.1h1M81.2 203.5h1M84.2 198.4h1M84.7 203h1M90.7 202.1h1M92.2 201.4h1M99.2 200.7h1M99.7 203.2h1M102.2 199.9h1M103.2 198.3h1M104.7 200.7h1M105.7 201.3h1M106.2 203.8h1M107.2 202.3h1M154.9 200.2h1M155.4 198.6h1M159.9 198.3h1M160.4 201h1M163.4 201.1h1M163.9 200.9h1M165.4 202.4h1M166.9 200.2h1M168.4 202.1h1M168.9 202.4h1M175.4 202.5h1M180.9 201.8h1M182.4 200h1M183.9 203.5h1M188.4 202.3h1M190.9 203h1M192.9 199.6h1M195.9 201.2h1M196.4 203.9h1M240.7 202.2h1M241.2 201.4h1M242.7 203.2h1M245.7 201.3h1M246.7 204.8h1M248.7 202.6h1M252.2 201h1M254.2 201.9h1M257.2 201.7h1M258.2 201.4h1M259.2 202.6h1M260.7 200.5h1M263.7 202.3h1M266.2 201.8h1M268.2 205.1h1M268.7 202.1h1M273.2 202.3h1M315.5 204.7h1M317 203.5h1M317.5 199.9h1M321 202.7h1M322 201.3h1M322.5 199.4h1M323 200.9h1M325.5 201h1M326.5 204.5h1M327.5 203.6h1M331.5 200.6h1M334 205.1h1M336 204.7h1M337.5 204.6h1M340.5 199.1h1M344 203.4h1M346 204.5h1M387.3 202.2h1M388.8 201h1M390.8 202.2h1M391.8 202.5h1M392.3 204.8h1M393.8 204.9h1M397.3 203.5h1M398.3 203.1h1M399.8 199.7h1M400.8 202.4h1M402.3 201.5h1M402.8 203.1h1M403.3 201.8h1M403.8 199.6h1M406.3 200.2h1M440.7 200.7h1M444.2 203.1h1M446.2 199.2h1M446.7 199.5h1M449.2 200.9h1M450.7 201.8h1M451.2 201.8h1M456.7 200.7h1M457.2 201.9h1M458.7 203.7h1M459.7 201.8h1M460.2 205.7h1M460.7 205.6h1M461.7 199.6h1M464.7 200.2h1M465.2 201.5h1M465.7 203h1M466.7 199.3h1M467.2 201.8h1M467.7 201.7h1M468.2 202.5h1M469.7 201.7h1M117.1 205.2h1M118.6 204.8h1M122.6 204h1M127.6 203.3h1M129.1 204.1h1M131.1 203.5h1M132.1 203.3h1M132.6 203.2h1M137.6 205.3h1M138.1 204.8h1M141.6 202.5h1M143.6 202.3h1M145.1 202.2h1M146.6 203.5h1M153.6 200.9h1M202 201.6h1M202.5 204.2h1M205.5 197.3h1M207.5 204.7h1M209 198.1h1M211 203.9h1M212 204.4h1M216.5 205.8h1M217.5 203.1h1M218.5 201.6h1M221 201.6h1M224 201.4h1M225 197.8h1M226.5 204.9h1M228.5 201.1h1M231.5 205.5h1M234 204.5h1M238.5 201.3h1M278.8 199.6h1M279.8 199.7h1M280.3 200.2h1M283.3 201.5h1M288.8 203.6h1M289.8 200.1h1M291.8 199.9h1M294.3 199.7h1M296.8 199.3h1M298.3 204.1h1M301.3 199.6h1M305.3 203.1h1M307.3 201.6h1M350.9 204.4h1M351.9 206.2h1M352.9 204.7h1M359.4 203h1M360.4 202.3h1M364.9 201.7h1M369.9 203.2h1M375.4 204h1M375.9 205.2h1M376.9 204.3h1M378.9 200.5h1M379.9 200.2h1M381.4 200.4h1M414.8 203.5h1M416.8 202.9h1M417.3 199.8h1M418.8 204.9h1M420.3 204.9h1M425.8 199.8h1M426.8 197.5h1M431.3 204.2h1M433.8 202.6h1M434.3 203.4h1M475.3 202.9h1M476.3 201.4h1M476.8 199.2h1M479.3 201.6h1M487.8 200.6h1M489.3 203.8h1M489.8 200.2h1M491.8 199.6h1M494.3 201.5h1M495.3 199.8h1M496.8 201.8h1M497.8 204.7h1M498.3 204.4h1M500.3 203.9h1M502.3 201.6h1M503.3 201.1h1M505.3 202h1"/>
<path stroke="#444" stroke-width="0.9" fill="none" d="M59.6 217.5H507M59.6 217.5V221.4M86.1 217.5V221.4M133.5 217.5V221.4M176.5 217.5V221.4M219.6 217.5V221.4M258.9 217.5V221.4M295.4 217.5V221.4M332.5 217.5V221.4M367.2 217.5V221.4M398.3 217.5V221.4M426.3 217.5V221.4M458 217.5V221.4M492.5 217.5V221.4"/>
<text x="55" y="231.1" font-size="4.9" font-weight="bold" fill="#333">Chr</text>
<text x="86.3" y="231.1" font-size="4.9" font-weight="bold" text-anchor="middle" fill="#333">1</text>
<text x="133.7" y="231.1" font-size="4.9" font-weight="bold" text-anchor="middle" fill="#333">2</text>
<text x="176.7" y="231.1" font-size="4.9" font-weight="bold" text-anchor="middle" fill="#333">3</text>
<text x="219.8" y="231.1" font-size="4.9" font-weight="bold" text-anchor="middle" fill="#333">4</text>
<text x="259.1" y="231.1" font-size="4.9" font-weight="bold" text-anchor="middle" fill="#333">5</text>
<text x="295.6" y="231.1" font-size="4.9" font-weight="bold" text-anchor="middle" fill="#333">6</text>
<text x="332.7" y="231.1" font-size="4.9" font-weight="bold" text-anchor="middle" fill="#333">7</text>
<text x="367.4" y="231.1" font-size="4.9" font-weight="bold" text-anchor="middle" fill="#333">8</text>
<text x="398.5" y="231.1" font-size="4.9" font-weight="bold" text-anchor="middle" fill="#333">9</text>
<text x="426.5" y="231.1" font-size="4.9" font-weight="bold" text-anchor="middle" fill="#333">10</text>
<text x="458.2" y="231.1" font-size="4.9" font-weight="bold" text-anchor="middle" fill="#333">11</text>
<text x="492.7" y="231.1" font-size="4.9" font-weight="bold" text-anchor="middle" fill="#333">12</text>
<path stroke="#e83040" stroke-width="0.55" stroke-dasharray="1.6 1.5" d="M60 195.5H508"/>
<g fill="#f7a27a" fill-opacity="0.45"><rect x="68.6" y="58" width="2" height="160"/><rect x="197.7" y="58.8" width="3.8" height="159.2"/><rect x="287" y="59.2" width="4.4" height="158.8"/><rect x="302.3" y="58.6" width="4.3" height="159.4"/><rect x="468.7" y="58.3" width="2.2" height="159.7"/><rect x="472" y="38.9" width="4.4" height="179.1"/></g>
<g class="sf" font-size="6.5" fill="#111" stroke="#111" stroke-width="0.1">
<text x="62.8" y="35.9">OsRac1</text><text x="62.8" y="43.3">DFO1</text>
<text x="185" y="48">OsSIRP4</text>
<text x="277" y="49.2">WSL1</text>
<text x="298.8" y="45">Pikp-2</text>
<text x="449" y="53.5">EDT1</text>
<text x="466" y="31.3">Xa26</text>
</g>
<path stroke="#000" stroke-width="0.7" d="M73.6 48.2L71.7 51.3"/><path fill="#000" d="M69 55.7L69.3 49.8L74.1 52.7Z"/>
<path stroke="#000" stroke-width="0.7" d="M196.3 48.7L197.3 51.5"/><path fill="#000" d="M199 56.4L194.6 52.4L199.9 50.6Z"/>
<path stroke="#000" stroke-width="0.7" d="M286.7 50.5L289.1 54.2"/><path fill="#000" d="M291.9 58.6L286.7 55.7L291.4 52.7Z"/>
<path stroke="#000" stroke-width="0.7" d="M306.3 50.2L304.5 53.9"/><path fill="#000" d="M302.3 58.6L302 52.7L307.1 55.1Z"/>
<path stroke="#000" stroke-width="0.7" d="M459.4 55.2L460.6 58.2"/><path fill="#000" d="M462.5 63L458 59.2L463.2 57.1Z"/>
<path stroke="#000" stroke-width="0.7" d="M472.7 32.7L473.4 34.8"/><path fill="#000" d="M475 39.7L470.7 35.6L476 33.9Z"/>
<text x="4.8" y="260.7" font-size="16.2" font-weight="bold">C</text>
<text x="118.4" y="250.1" font-size="6.25" font-weight="bold" font-style="italic" text-anchor="middle" fill="#111" stroke="#111" stroke-width="0.15">OsRac1</text>
<text x="118.4" y="257.5" font-size="6.25" font-weight="bold" font-style="italic" text-anchor="middle" fill="#111" stroke="#111" stroke-width="0.15">(LOC_Os01g12900)</text>
<clipPath id="c1a"><rect x="66.3" y="259.5" width="108" height="59.7"/></clipPath>
<clipPath id="c1b"><rect x="66.3" y="319.2" width="108" height="60.1"/></clipPath>
<g clip-path="url(#c1a)">
<path stroke="#f86c66" stroke-width="1.9" stroke-linecap="round"  d="M67.6 282.6h0M68.2 287h0M68.9 285.8h0M70 294.6h0M70.1 296.3h0M71.4 301.3h0M71.8 307.4h0M72.9 307.1h0M73.6 308.7h0M74.3 310.6h0M75.3 311.8h0M76.2 311.8h0M76.7 313.1h0M77.4 312.3h0M78.7 315.8h0M79 315.5h0M79.8 315.3h0M80.9 317.4h0M81.8 315.1h0M82.2 314.3h0M83 315.3h0M84.2 315.1h0M84.8 315h0M86 314.4h0M86.7 314.2h0M87 317.1h0M88.2 315.3h0M88.6 316.2h0M89.5 317.4h0M90.2 315.9h0M91.2 311.9h0M91.9 313.7h0M92.8 312.9h0M94.1 313.1h0M94.7 312.5h0M95.6 311.5h0M96 311.1h0M96.6 309.5h0M97.5 304.2h0M98.4 309.2h0M99.7 310.3h0M100.3 310.2h0M100.8 311.6h0M102.1 314.3h0M102.7 314.5h0M103.7 314.7h0M104 314.3h0M104.9 315.8h0M106.1 315.6h0M106.4 316h0M107.6 315.2h0M108 316.4h0M109.2 313h0M110.2 312.2h0M110.5 310.8h0M111.3 307.7h0M112.6 301.1h0M113.3 298.5h0M113.7 293.7h0M114.5 291.4h0M115.7 284.4h0M116.6 279.3h0M116.8 277.4h0M118 268.7h0M118.8 268.6h0M119.7 265.4h0M119.9 266.3h0M121 267.3h0M121.9 270.5h0M122.6 272.9h0M123.4 276.6h0M124.5 280h0M124.8 282.2h0M125.8 286.4h0M126.8 292.8h0M127.2 293.4h0M128.1 293.7h0M129.2 302.7h0M129.6 303.2h0M130.7 307.6h0M132 311.5h0M132.5 313.1h0M133.2 314h0M134.3 315.2h0M134.8 314.4h0M135.2 313.1h0M136.6 313h0M137 314h0M138.2 313.4h0M138.9 312.5h0M139.6 312.4h0M140.1 312.7h0M141.3 311.4h0M141.9 313h0M142.4 312.6h0M143.3 312.2h0M144.6 312.5h0M144.9 310.3h0M145.9 309.9h0M146.7 310.5h0M147.9 308.6h0M148.3 309h0M149.2 308.1h0M150 305.9h0M150.8 309.7h0M151.8 307.3h0M152.5 304.4h0M152.9 307.7h0M154.2 306.2h0M154.8 304.4h0M155.3 306.1h0M156.6 307.8h0M157.4 302.7h0M158.1 303.2h0M158.8 302.4h0M159.8 303.7h0M160.9 304.4h0M161 302.7h0M162.2 301.4h0M162.8 303h0M163.9 301.7h0M164.7 304.1h0M165.7 303.9h0M166.2 302.5h0M166.8 303.4h0M167.8 303.3h0M168.2 303h0M169.5 304.3h0M170.4 305.5h0M170.6 303.9h0M172 306.9h0M172.7 306.5h0M173.1 305.5h0M66.7 275.7h0M67 276.8h0M66.7 275.8h0M67 275.8h0M66.4 286.4h0M67.1 282.6h0M67.2 288.1h0M66.9 281.9h0M66.9 281.6h0M119.7 267.2h0M121.8 265.9h0M119.9 265.3h0M122.6 265.2h0M119.7 266.7h0M121.5 263.7h0M125 261.9h0M124.4 262.6h0M125.2 262.6h0M124.6 261.5h0M126.5 283.3h0M126.5 281.6h0M130.7 302.7h0M131.1 303.4h0M98.2 306.9h0M96.7 304.4h0M98.9 304.8h0M98.6 303.7h0M99.4 305.3h0M161.7 296h0M160.7 295.1h0M159.4 291.3h0M160.5 290.7h0M156.3 297h0M156.5 299.3h0M156.5 297.7h0M155 297.4h0M166.9 301h0M164.8 301.8h0M164.2 299.5h0M163.2 300.4h0M76.4 309.3h0M75.6 309.2h0M76.8 307.7h0M71.8 310.8h0M69 311.4h0M69.5 309.2h0M77.9 315.5h0M79.2 315.4h0M79.8 315.4h0M80.9 315.5h0M82 315.4h0M83.1 315.5h0M83.8 315.4h0M85.1 315.3h0M85.8 315.4h0M87 315.6h0M87.9 315.5h0M89.2 315.5h0M89.9 315.5h0M90.7 315.6h0M102.2 315.6h0M102.9 315.4h0M103.8 315.6h0M105 315.6h0M105.8 315.4h0M107.2 315.4h0M108.1 315.6h0M109.2 315.3h0M128.5 314.3h0M129.8 310.3h0M131.2 311.8h0M132.5 314.8h0M134.4 311h0M136 309.6h0M136.9 310.5h0M138.1 312.3h0M140.1 314.5h0M141.9 309.4h0M142.8 314.2h0M144.9 314.4h0M146.3 309.8h0M147.6 311.2h0M148.6 312h0"/>
<path fill="none" stroke="#f86c66" stroke-width="0.85" d="M66.3 279C66.5 279.7 67 281.2 67.5 283C68 284.8 68.5 287.5 69 290C69.5 292.5 70 295.3 70.5 298C71 300.7 71.4 303.8 72 306C72.6 308.2 73.3 310 74 311C74.7 312 75.5 311.6 76 312C76.5 312.4 76.7 313 77 313.5C77.3 314 76.7 314.7 78 315C79.3 315.3 83 315.3 85 315.3C87 315.3 88.8 315.6 90 315C91.2 314.4 91.8 312.1 92.5 312C93.2 311.9 93.4 314.7 94 314.5C94.6 314.3 95.3 311.9 96 311C96.7 310.1 97.3 309.2 98 309C98.7 308.8 99.4 309.2 100 310C100.6 310.8 101 313.1 101.5 314C102 314.9 101.9 315.1 103 315.3C104.1 315.5 106.8 315.9 108 315.3C109.2 314.8 109.3 313.7 110 312C110.7 310.3 111.3 308 112 305C112.7 302 113.3 297.8 114 294C114.7 290.2 115.3 286 116 282C116.7 278 117.4 272.7 118 270C118.6 267.3 119 266.3 119.5 266C120 265.7 120.4 266.7 121 268C121.6 269.3 122.3 271.5 123 274C123.7 276.5 124.2 279.2 125 283C125.8 286.8 127.1 293.2 128 297C128.9 300.8 129.8 303.5 130.5 306C131.2 308.5 131.4 310.7 132 312C132.6 313.3 133 313.8 134 314C135 314.2 136.7 313.3 138 313C139.3 312.7 140.7 312.4 142 312C143.3 311.6 144.7 311 146 310.5C147.3 310 148.7 309.7 150 309C151.3 308.3 152.7 307.3 154 306.5C155.3 305.7 156.7 304.7 158 304C159.3 303.3 160.7 302.6 162 302.5C163.3 302.4 164.7 303 166 303.5C167.3 304 168.6 304.8 170 305.5C171.4 306.2 173.6 307.2 174.3 307.5"/>
</g>
<g clip-path="url(#c1b)">
<path stroke="#00ba38" stroke-width="2.0" stroke-linecap="round"  d="M67.1 356.4h0M67.5 358.5h0M68.2 362.9h0M68.5 361.2h0M69.4 365.6h0M69.7 363h0M70.2 367.1h0M70.8 370.2h0M71.5 362.9h0M71.9 368.8h0M72.8 372.1h0M73.5 367.4h0M74 369.9h0M74.6 374.8h0M74.9 373.3h0M75.6 373.7h0M76 373.1h0M76.8 377.6h0M77.3 372.3h0M77.8 376.5h0M78.6 372.7h0M79.1 369.9h0M79.5 373.9h0M80.1 371.8h0M80.9 365.4h0M81.3 367.7h0M82 369.2h0M82.3 368.9h0M83.2 366.1h0M83.5 367.2h0M84.3 361.8h0M84.4 361.7h0M84.9 369.7h0M85.8 366.1h0M86.4 361.3h0M87 365h0M87.6 365.9h0M87.9 362.7h0M88.8 364h0M89.4 354.4h0M89.7 363.8h0M90.1 361h0M90.9 363.5h0M91.7 362.9h0M92.1 359.2h0M92.7 358.1h0M93.1 360.1h0M93.6 354.2h0M94.5 355.2h0M94.7 355.7h0M95.5 349.7h0M95.7 358.5h0M96.3 353.8h0M97.3 352.9h0M97.7 347h0M98 356.1h0M98.9 353.8h0M99.2 342.4h0M100 350h0M100.2 349.5h0M101.1 351h0M101.8 349.6h0M102.3 353.8h0M103 354.7h0M103.3 353.7h0M104 359.1h0M104.4 359.1h0M105.1 360.6h0M105.8 359.8h0M106 363.9h0M106.8 366.8h0M107.6 368h0M108.1 369h0M108.6 366.7h0M109.2 371.8h0M109.3 365.7h0M110.2 372.1h0M110.9 368.7h0M111.4 369.2h0M111.8 366.7h0M112.2 369.9h0M112.9 361.4h0M113.5 359.6h0M114.2 360.9h0M114.9 349.5h0M115.4 354.2h0M116 341.8h0M116.6 345.8h0M117.1 342.9h0M117.6 343h0M118 340.1h0M118.9 338.5h0M119.1 341.4h0M120 344.2h0M120.5 347.2h0M121.1 344.1h0M121.6 348.7h0M122.3 340.6h0M122.5 350.6h0M123.3 342.8h0M123.6 350.6h0M124 352.5h0M125 353.2h0M125.3 349.7h0M125.7 351.4h0M126.5 358.8h0M127 358.5h0M127.6 361.9h0M128.3 364.3h0M128.8 371.5h0M129.5 365.6h0M130.2 369h0M130.5 368.6h0M131 374.5h0M131.5 372.6h0M132.2 377.7h0M132.8 374.1h0M133.4 370.7h0M134 374.6h0M134.5 374.4h0M135.1 369h0M135.9 368h0M136 372.1h0M136.8 369.9h0M137.3 373h0M137.9 369.7h0M138.3 371.4h0M138.8 370.6h0M139.3 369.4h0M140 367.4h0M140.5 367.1h0M141 368.6h0M142.1 369.2h0M142.3 375.3h0M142.8 363.9h0M143.7 370.2h0M144.1 368.4h0M144.4 368.6h0M144.9 363.3h0M145.7 369.8h0M146.3 367.1h0M146.7 367.2h0M147.5 367h0M148.1 369.7h0M148.6 369.2h0M149.2 369.4h0M149.9 372.3h0M150.5 370.7h0M150.7 373.6h0M151.7 373.9h0M151.8 367.4h0M152.8 369.8h0M152.9 369.9h0M153.5 359.1h0M154 365.8h0M154.8 367.8h0M155.2 368.2h0M156.1 370.9h0M156.7 374.5h0M157.3 365.2h0M157.7 372.9h0M158.2 373.2h0M158.8 371.4h0M159.2 370.8h0M160 372.8h0M160.4 369.2h0M161.2 368.4h0M161.4 374.1h0M162.3 373.3h0M162.7 371.4h0M163.5 371.2h0M163.7 373.3h0M164.5 370.6h0M165.2 370.2h0M165.7 371.8h0M165.9 374.6h0M166.8 372.1h0M167.4 359.3h0M167.6 372.6h0M168.6 370.1h0M168.8 372.3h0M169.7 370.1h0M170.1 370.1h0M170.9 370.4h0M171.4 373.2h0M172 373.7h0M172.5 372.8h0M172.7 371.5h0M173.7 377.2h0M116.9 323.4h0M115.9 328h0M116.2 323.7h0M117.4 327.7h0M116.2 329.2h0M115.6 323h0M117 330.7h0M116.7 329.3h0M116.5 323h0M118.2 335.4h0M117.5 337h0M117.9 337.3h0M99.7 343.5h0M100.5 340.7h0M101.7 342.7h0M101.6 342.3h0M100.3 343.7h0M68.7 356.1h0M67.3 359h0M68.5 356.4h0M84.8 363.3h0M85.9 363.4h0M86.3 365.7h0M86.6 362.6h0M86 362.6h0M90.4 368.2h0M90.1 368.3h0M89.4 367.4h0M89.4 368.6h0M110.4 374.6h0M110.4 374.9h0M108.6 376.8h0M111.3 376.9h0M109.8 376.2h0M100.1 347.5h0M101.2 346.9h0M101.9 347.1h0M100.4 346.1h0M100.9 348.1h0"/>
<path stroke="#619cff" stroke-width="2.0" stroke-linecap="round"  d="M67.3 351.3h0M67.5 352.7h0M68.4 355.5h0M69 353.8h0M69.1 362.8h0M69.9 362.3h0M70.3 358h0M70.9 361.3h0M71.8 364.8h0M72.3 360.5h0M72.9 372.1h0M73.2 372.4h0M73.9 370.4h0M74.4 372.2h0M75.2 373.1h0M75.5 366.1h0M76.2 369.3h0M76.7 372.1h0M77 377.7h0M77.7 372.7h0M78.3 377.5h0M78.8 368.8h0M79.3 374.2h0M80.3 373.3h0M80.7 367.4h0M81.1 367.9h0M81.9 368.4h0M82.2 369.3h0M82.9 358.9h0M83.7 364.3h0M83.8 367.3h0M84.7 359.7h0M85.4 352.7h0M85.6 359.2h0M86.1 353.1h0M86.7 359.3h0M87.3 355.9h0M88.1 359.1h0M88.9 353.3h0M89.2 355.2h0M89.9 356.8h0M90.2 351h0M90.6 356.7h0M91.6 353.8h0M92.1 353.1h0M92.7 352.4h0M93.1 348.4h0M93.5 350.9h0M94.2 350.5h0M95 347.4h0M95.7 347.5h0M95.8 347.6h0M96.5 346.7h0M97 345h0M97.5 348h0M98 343.6h0M99 348.7h0M99.2 347.3h0M99.7 344.6h0M100.2 343.8h0M100.8 347.4h0M101.6 345.1h0M102.4 349h0M102.8 346.9h0M103.5 348.7h0M103.6 353h0M104.2 350.9h0M104.9 354.8h0M105.5 360h0M106.1 363.4h0M106.8 363.6h0M107.4 364.1h0M107.6 357.2h0M108.4 361.3h0M108.7 364.6h0M109.6 367.2h0M109.9 363.8h0M110.8 364.2h0M111.4 361.2h0M111.8 359.9h0M112.2 361.3h0M113.2 355.9h0M113.8 352.1h0M114.2 351.8h0M114.8 347.2h0M115 350.3h0M115.8 339.9h0M116.3 348.2h0M117.1 343h0M117.7 342.3h0M117.9 340.2h0M118.8 341.2h0M119.1 342h0M119.8 340.4h0M120.5 348.5h0M120.6 345.2h0M121.6 350.2h0M122 353.4h0M122.7 349.8h0M123.1 353.6h0M123.5 350h0M124.1 353.2h0M124.7 351.2h0M125.4 359.2h0M126.2 361.9h0M126.7 362.1h0M127.1 357.7h0M127.7 367.7h0M128.2 369.3h0M129 365.7h0M129.2 372.9h0M130 374.7h0M130.6 371.9h0M131.2 374.2h0M131.8 368.5h0M132.2 375.6h0M133 374h0M133.2 373.4h0M134.1 378.5h0M134.6 373h0M135 375.2h0M135.7 373.7h0M136.2 374.2h0M136.5 370.2h0M137.4 370.8h0M137.8 371.4h0M138.2 366.5h0M139.2 369.6h0M139.5 366.9h0M140.4 370.5h0M140.9 370.1h0M141.2 365.4h0M142.1 361.8h0M142.5 352.8h0M143.1 365.5h0M143.7 367.5h0M144.1 364.1h0M144.5 369.5h0M145 363.9h0M145.8 365.5h0M146.3 366.8h0M146.9 368.4h0M147.6 365.1h0M148.3 366.6h0M148.5 370h0M149.3 373.9h0M149.7 361h0M150 368.3h0M151.1 368h0M151.6 369.1h0M151.8 372.2h0M152.6 368.4h0M153.4 370h0M153.5 357.1h0M154.1 365.7h0M154.8 358.7h0M155.5 370.7h0M156 368.2h0M156.6 368.3h0M157.3 372h0M157.7 370.1h0M158.1 369.6h0M158.8 363.9h0M159.5 367.4h0M160.2 373.8h0M160.6 373.8h0M161.2 370.1h0M161.8 364.9h0M162 371h0M162.9 371.4h0M163.3 364h0M163.8 373h0M164.7 374.1h0M164.9 368.3h0M165.7 369h0M166.3 370h0M166.5 365.2h0M167.4 370.6h0M167.6 370.4h0M168.5 368.2h0M168.9 373h0M169.5 372.9h0M169.9 372.5h0M170.7 370.4h0M171.4 368.7h0M171.7 371.8h0M172.2 372.1h0M172.8 371.6h0M173.7 373.1h0M101.7 334.5h0M101.7 340.2h0M100.9 335.8h0M100.9 340.2h0M100.6 340.4h0M102.4 336.4h0M99.8 338.3h0M102 339.9h0M124.4 344.7h0M123.4 334.3h0M125.3 334.7h0M124.8 341.8h0M124.7 343h0M124.6 334.2h0M66.4 348.9h0M66.3 349.1h0M66.3 347.1h0M66.5 346.6h0M83.7 363.1h0M84.8 361.5h0M83.1 360.7h0M83.8 363.6h0M85 361.3h0M85.4 360h0M89.5 364.1h0M88.5 366.2h0M89 366.2h0M89.2 364.7h0M89.9 366.5h0M108.3 375.4h0M109.7 376.6h0M109.4 375.1h0M109.4 375h0M110.5 375.3h0M108.2 376.9h0M96.8 344.9h0M96.8 340.1h0M96.9 341.2h0M95.1 344.1h0M144.5 365.8h0M148.6 363.1h0M147.4 365.2h0M147.6 363.7h0M146.8 365.1h0M153.9 365.3h0M155.7 363h0M154.6 365.5h0M156.3 365h0"/>
<path fill="none" stroke="#00ba38" stroke-width="1" d="M66.3 357.7C66.8 358.6 68 360.9 69 363C70 365.1 70.7 368 72 370C73.3 372 75.5 374.7 76.8 375.1C78.1 375.5 78.6 374.1 80 372.5C81.4 370.9 83.7 367.3 85 365.8C86.3 364.3 86.8 364.3 88 363.5C89.2 362.7 90.8 362.3 92 361.2C93.2 360.1 94 358.4 95 357C96 355.6 97.2 353.8 98 353C98.8 352.2 99.3 351.9 100 352C100.7 352.1 101.3 352.5 102 353.5C102.7 354.5 103.2 355.9 104 358C104.8 360.1 106 363.5 107 366C108 368.5 109.2 372.3 110 372.8C110.8 373.3 111.3 371.5 112 369C112.7 366.5 113.3 361.7 114 358C114.7 354.3 115.2 350.1 116 347C116.8 343.9 118 340 118.7 339.7C119.5 339.4 119.9 343.4 120.5 345C121.1 346.6 121.7 347.4 122.5 349C123.3 350.6 124.7 352.3 125.5 354.5C126.3 356.7 126.9 359.3 127.5 362C128.1 364.7 128.3 368.6 129 370.9C129.7 373.1 130.6 375 131.4 375.5C132.2 376 132.8 374.8 134 374C135.2 373.2 137.1 371.8 138.4 370.9C139.7 370 140.8 369.1 142 368.5C143.2 367.9 144.1 366.7 145.4 367.3C146.8 367.9 148.5 371.8 150.1 372C151.7 372.2 153.2 368.3 154.8 368.5C156.4 368.7 157.6 372.6 159.5 373.2C161.4 373.8 164 372 166.5 372C169 372 173 373 174.3 373.2"/>
<path fill="none" stroke="#619cff" stroke-width="1" d="M66.3 349.6C66.6 350.7 67.4 353.6 68 356C68.6 358.4 69.2 361.5 70 364C70.8 366.5 71.9 369.2 73 371C74.1 372.8 75.6 374.8 76.8 375C78 375.2 78.8 373.9 80 372C81.2 370.1 83.1 365.7 84.3 363.5C85.5 361.3 85.9 360.4 87 359C88.1 357.6 89.5 356.9 90.7 355.4C91.9 353.9 93 351.5 94 350C95 348.5 96.1 347.2 97 346.5C97.9 345.8 98.7 345.3 99.5 345.5C100.3 345.7 101.1 345.9 102 347.5C102.9 349.1 104.2 352.6 105 355C105.8 357.4 106.3 360 107 362C107.7 364 108.6 366.5 109.3 367C110 367.5 110.4 366.5 111 365C111.6 363.5 112.3 360.7 113 358C113.7 355.3 114.3 351.3 115 349C115.7 346.7 116.4 345.2 117 344C117.6 342.8 118.1 341.7 118.7 342C119.3 342.3 120 344.5 120.5 346C121 347.5 121.4 350 122 351C122.6 352 123.3 350.8 124 352C124.7 353.2 125.3 355.7 126 358C126.7 360.3 127.3 363.7 128 366C128.7 368.3 129.4 370.6 130 372C130.6 373.4 130.8 374.1 131.5 374.5C132.2 374.9 133.1 375.1 134 374.5C134.9 373.9 136 371.9 137 371C138 370.1 139 369.7 140 369C141 368.3 142 367.5 143 367C144 366.5 145 365.7 146 366C147 366.3 148 368.5 149 369C150 369.5 151 369.2 152 369C153 368.8 154 367.8 155 368C156 368.2 156.8 369.9 158 370.5C159.2 371.1 160.7 371.6 162 371.5C163.3 371.4 164.7 370 166 370C167.3 370 168.6 371.2 170 371.5C171.4 371.8 173.6 371.9 174.3 372"/>
</g>
<path stroke="#f53c46" stroke-width="1.3" d="M119.1 259.5V379.3"/>
<rect x="66.3" y="259.5" width="108" height="119.8" fill="none" stroke="#8c8c8c" stroke-width="1"/>
<path stroke="#6a6a6a" stroke-width="1.4" d="M66.3 319.4H174.3"/>
<text x="63.7" y="264.7" font-size="4.15" text-anchor="end" fill="#555">0.3</text>
<text x="63.7" y="282.2" font-size="4.15" text-anchor="end" fill="#555">0.2</text>
<text x="63.7" y="299.7" font-size="4.15" text-anchor="end" fill="#555">0.1</text>
<text x="63.7" y="317.2" font-size="4.15" text-anchor="end" fill="#555">0.0</text>
<text x="63.7" y="328.8" font-size="4.15" text-anchor="end" fill="#555">0.004</text>
<text x="63.7" y="341.2" font-size="4.15" text-anchor="end" fill="#555">0.003</text>
<text x="63.7" y="353.6" font-size="4.15" text-anchor="end" fill="#555">0.002</text>
<text x="63.7" y="366" font-size="4.15" text-anchor="end" fill="#555">0.001</text>
<text x="63.7" y="378.4" font-size="4.15" text-anchor="end" fill="#555">0.000</text>
<text x="78.5" y="384.6" font-size="4.3" text-anchor="middle" fill="#555">6</text>
<text x="114.6" y="384.6" font-size="4.3" text-anchor="middle" fill="#555">7</text>
<text x="151" y="384.6" font-size="4.3" text-anchor="middle" fill="#555">8</text>
<path stroke="#888" stroke-width="0.6" d="M64.8 263.2H66.3M64.8 280.7H66.3M64.8 298.2H66.3M64.8 315.7H66.3M64.8 327.3H66.3M64.8 339.7H66.3M64.8 352.1H66.3M64.8 364.5H66.3M64.8 376.9H66.3M78.5 379.3V380.8M114.6 379.3V380.8M151 379.3V380.8"/>
<text transform="translate(49.5 296) rotate(-90)" font-size="5.6" font-weight="bold" font-style="italic" fill="#111">F<tspan font-size="3.8" dy="1.2">ST</tspan></text>
<text transform="translate(49.2 349.8) rotate(-90)" font-size="5.6" font-weight="bold" text-anchor="middle" fill="#111">π</text>
<text x="115.4" y="389.7" font-size="6" font-weight="bold" text-anchor="middle" fill="#111" stroke="#111" stroke-width="0.15">Chr.1 (Mb)</text>
<path stroke="#f86c66" stroke-width="1" stroke-opacity="0.6" d="M177.7 261.1h4.4"/>
<path stroke="#00ba38" stroke-width="1" d="M177.7 266.4h4.4"/>
<path stroke="#619cff" stroke-width="1" d="M177.7 271.6h4.4"/>
<text x="184" y="262.5" font-size="4" font-style="italic" fill="#000">F<tspan font-size="2.8" dy="0.9">ST</tspan></text>
<text x="184" y="267.8" font-size="4" fill="#000">π<tspan font-size="2.8" dy="0.9">VSDT</tspan></text>
<text x="184" y="273" font-size="4" fill="#000">π<tspan font-size="2.8" dy="0.9">NOR</tspan></text>
<text x="278.7" y="249.2" font-size="6.25" font-weight="bold" font-style="italic" text-anchor="middle" fill="#111" stroke="#111" stroke-width="0.15">OsSIRP4</text>
<text x="278.7" y="256.6" font-size="6.25" font-weight="bold" font-style="italic" text-anchor="middle" fill="#111" stroke="#111" stroke-width="0.15">(LOC_Os04g01490)</text>
<clipPath id="c2a"><rect x="226.3" y="258.6" width="108.1" height="59.9"/></clipPath>
<clipPath id="c2b"><rect x="226.3" y="318.5" width="108.1" height="60.2"/></clipPath>
<g clip-path="url(#c2a)">
<path stroke="#f86c66" stroke-width="1.9" stroke-linecap="round"  d="M227.3 307.4h0M228.1 311.6h0M228.7 307.5h0M229.2 301.8h0M230 303.3h0M230.9 305.3h0M231.8 297.2h0M232.8 295.1h0M233.3 295h0M234.2 290h0M234.6 292h0M235.3 282.1h0M236.4 283.8h0M237.4 281.5h0M237.6 281.1h0M238.7 272.6h0M239.2 274.9h0M240.2 269.5h0M240.5 274.1h0M241.4 278.2h0M241.9 277.1h0M243.4 278.4h0M243.8 280.8h0M244.4 281.4h0M245.2 285.5h0M245.9 288.2h0M246.9 293.4h0M247.7 299.1h0M248 297.2h0M249 301.2h0M249.7 306.4h0M250.6 304.8h0M251.1 304.9h0M252 305.8h0M252.5 307.6h0M253.5 297.2h0M254.5 306.6h0M255 304.9h0M256.2 305.2h0M256.7 307.1h0M257.4 305.8h0M258.4 302.5h0M258.6 306.4h0M259.9 303.4h0M260.2 301.5h0M261.4 304.1h0M261.6 299.3h0M262.3 301.4h0M263.3 306h0M264.4 302.8h0M265.1 301.6h0M265.5 300h0M266.7 303.9h0M267.5 300.3h0M268.2 296.4h0M268.3 299.8h0M269.4 300.8h0M270 298.3h0M271 300.3h0M271.6 300h0M272.6 300.9h0M273.4 298.8h0M273.7 298.5h0M274.9 297.9h0M275.1 297.2h0M276.5 292.7h0M277.2 294.2h0M278.1 287.3h0M278.7 288.4h0M278.9 286.1h0M280 286.4h0M281.1 286.7h0M281.7 283.9h0M282.5 285.6h0M283.2 284.9h0M283.6 286h0M284.8 292.8h0M285.5 285.6h0M285.8 295.3h0M286.6 295h0M287.3 299.4h0M288.6 303.8h0M288.8 301.7h0M289.9 305.3h0M290.7 299.4h0M291 307h0M292.3 301.2h0M292.6 303.6h0M293.5 299.2h0M294.2 295.2h0M295.2 297.5h0M295.6 293.4h0M296.7 299h0M296.9 299.1h0M298.3 298.9h0M298.7 301.2h0M299.5 299.8h0M300.6 298.5h0M301.4 300.5h0M301.8 297.5h0M302.5 301.1h0M303.7 298.3h0M303.9 300.5h0M305.2 302.6h0M305.4 301.1h0M306.2 305.2h0M307 299.2h0M308.1 292.9h0M308.8 298.5h0M309.8 294.9h0M309.8 292.6h0M310.8 291.1h0M311.4 291.3h0M312.5 284.8h0M313.4 284.3h0M314.3 285.3h0M314.5 288.8h0M315.1 288h0M316.1 290.8h0M316.7 289.9h0M317.8 291.7h0M318.5 285.5h0M319.1 294.2h0M320.2 294.5h0M320.4 296.6h0M321.6 295.6h0M322 293.4h0M323.2 293.8h0M323.6 300.1h0M324.2 301.3h0M325.3 304h0M326 302.2h0M326.4 301h0M327.3 298.1h0M328.1 298.2h0M328.8 299h0M329.8 299.3h0M330.8 289.6h0M331.5 293.2h0M332.3 295.1h0M332.7 299.3h0M333.9 294h0M240.4 268.5h0M240.9 268h0M239.5 268.3h0M241.1 265.5h0M239.5 267.2h0M240.5 266.4h0M239.8 267.7h0M241.5 268.5h0M241.2 264h0M241.5 274.9h0M242.9 274.6h0M241.8 271.4h0M241.6 270.8h0M281.8 278.7h0M280.7 274.7h0M281.4 280.5h0M282.6 280.1h0M282 279.2h0M280.2 277.7h0M281.8 275.4h0M312.8 274.5h0M313.7 272.5h0M313.1 276.5h0M313 273.8h0M313.5 271.4h0M312.7 274.9h0M230.7 300.9h0M231 301.4h0M227 306.8h0M227.7 306.9h0M228.8 307.1h0M230.3 306.7h0M231.4 306.6h0M232.4 306.8h0M233.3 306.9h0M234.6 307.2h0M235.5 306.9h0"/>
<path fill="none" stroke="#f86c66" stroke-width="0.85" d="M226.3 315.4C226.6 314.5 227.2 312.3 228 310C228.8 307.7 230 304.6 231 301.6C232 298.6 233.1 294.7 234 292C234.9 289.3 235.6 287.4 236.3 285.2C237.1 283 237.8 280.6 238.5 279C239.2 277.4 239.9 276 240.6 275.7C241.3 275.4 241.8 275.9 242.5 277C243.2 278.1 244.2 280.4 244.9 282.6C245.6 284.8 245.9 287.1 246.5 290C247.1 292.9 247.8 297.5 248.4 299.9C249 302.3 249.4 303.4 250 304.5C250.6 305.6 251.2 306.4 251.8 306.8C252.4 307.2 252.9 306.9 253.5 306.8C254.1 306.7 254.6 306.4 255.3 306C256.1 305.6 257.1 304.9 258 304.5C258.9 304.1 259.6 303.6 260.4 303.4C261.2 303.1 262.1 303.1 263 303C263.9 302.9 264.8 302.8 265.6 302.5C266.4 302.2 267.1 301.6 268 301C268.9 300.4 270.1 299.2 270.8 299C271.6 298.8 271.9 299.6 272.5 300C273.1 300.4 273.6 302.8 274.3 301.6C275.1 300.4 276.1 295.7 277 293C277.9 290.3 278.8 286.4 279.5 285.2C280.2 284 280.8 285.3 281.5 286C282.2 286.7 283.1 288.2 283.8 289.5C284.5 290.8 284.9 292.3 285.5 294C286.1 295.7 286.7 298.2 287.3 299.9C287.9 301.6 288.4 303 289 304C289.6 305 290 306.3 290.7 306C291.4 305.7 292.3 303.2 293 302C293.7 300.8 294.2 299.4 295 299C295.8 298.6 296.6 299.4 297.5 299.5C298.4 299.6 299.3 299.6 300.2 299.9C301.1 300.1 302 300.6 303 301C304 301.4 305.4 303.2 306.3 302.5C307.2 301.8 307.8 298.9 308.5 297C309.2 295.1 309.7 293 310.6 291.3C311.5 289.6 312.9 287.2 314 287C315.1 286.8 316 288.7 317 290C318 291.3 319.2 293.2 320.1 294.7C321 296.2 321.6 297.7 322.3 299C323 300.3 323.7 302.3 324.4 302.5C325.1 302.7 325.8 300.7 326.5 300C327.2 299.3 327.9 298.8 328.7 298.2C329.4 297.6 330.1 296.9 331 296.5C331.9 296.1 333.8 295.8 334.4 295.6"/>
</g>
<g clip-path="url(#c2b)">
<path stroke="#00ba38" stroke-width="2.0" stroke-linecap="round"  d="M227.3 362.6h0M227.8 359.3h0M228.2 361.1h0M228.8 359.1h0M229.4 351.8h0M229.7 357.1h0M230.3 358.4h0M230.8 365.6h0M231.8 359.9h0M232.1 360.1h0M232.6 358.2h0M233.4 361.8h0M234 361.5h0M234.7 360.7h0M235.3 361.4h0M235.5 361.6h0M236.2 362.5h0M236.6 357.5h0M237.3 354.6h0M237.6 360.7h0M238.3 353.6h0M239.2 359.4h0M239.6 362.8h0M239.9 352.7h0M240.8 361.9h0M241.4 363.4h0M241.6 361.9h0M242.7 362.5h0M243.1 361.8h0M243.3 358.2h0M244.3 358.5h0M244.4 359.7h0M245 359.4h0M245.6 360.2h0M246.5 362.3h0M247.1 358.7h0M247.7 357.4h0M247.9 353.5h0M248.5 358.4h0M249.2 353.4h0M249.7 356.1h0M250.4 360.3h0M250.7 352.5h0M251.4 354.9h0M251.9 354.5h0M252.3 358.3h0M253.3 354.7h0M253.7 356.4h0M254.1 354.1h0M254.8 357.7h0M255.1 356.5h0M255.8 357.9h0M256.7 354h0M256.8 352.9h0M257.9 351h0M258.4 354.7h0M259 352.6h0M259.6 357.4h0M259.9 346.2h0M260.6 348.9h0M261 346.1h0M261.9 352.5h0M262.3 351.8h0M263 345.7h0M263.5 351.3h0M263.7 350.5h0M264.6 342.7h0M265 343.1h0M265.7 343.3h0M266.3 342.8h0M267 343.1h0M267.2 341.2h0M267.6 350.7h0M268.2 340.7h0M269 346h0M269.4 347.2h0M270.4 348.9h0M270.6 346.5h0M271.6 348.6h0M272 344h0M272.5 356.7h0M272.7 351.5h0M273.6 349.5h0M274.3 351h0M274.8 350.3h0M275.5 347.8h0M275.6 348.4h0M276.3 344h0M277.1 348.9h0M277.3 348.4h0M278.4 351.1h0M278.6 347.9h0M279.2 342.4h0M279.9 340.7h0M280.3 346h0M280.9 338.4h0M281.7 334.2h0M281.9 342.8h0M282.8 339.3h0M283.1 343.6h0M283.9 336.8h0M284.3 342.9h0M285 338h0M285.6 332.9h0M285.9 339.8h0M286.8 339.6h0M286.9 335.2h0M287.5 339.7h0M288.3 341.6h0M288.7 338.5h0M289.4 336.4h0M290 339.4h0M290.4 338.9h0M290.9 341.3h0M291.4 340.2h0M292.4 335.2h0M292.6 342.1h0M293.2 339.2h0M293.9 346.1h0M294.4 335.4h0M294.9 337.8h0M295.6 342.7h0M296.4 344.2h0M297 340.1h0M297.2 348.1h0M298 351.7h0M298.5 350.4h0M299.1 357.6h0M299.6 360.1h0M299.9 350.3h0M300.7 354.4h0M301.5 359.6h0M301.9 361h0M302.7 362.2h0M303.3 369.9h0M303.5 361.4h0M304.3 365.5h0M304.5 368.5h0M305.5 370h0M306 364.6h0M306.3 368.3h0M307.1 370.2h0M307.6 366.8h0M308.3 365.8h0M308.9 375.5h0M309.3 371.9h0M309.7 372h0M310.3 377.9h0M311 374.4h0M311.8 372.9h0M312.4 373.3h0M312.7 374.3h0M312.9 373h0M313.6 375.2h0M314.4 375.7h0M315.1 377.5h0M315.7 374.3h0M315.9 373.5h0M316.4 371.5h0M317.5 375.7h0M317.8 372.6h0M318.5 368.1h0M318.9 369.3h0M319.2 367.6h0M319.8 368.1h0M320.8 362.4h0M320.9 364.2h0M322 360.1h0M322.1 358.6h0M322.6 356.6h0M323.6 347.5h0M324 346.3h0M324.8 349.4h0M324.9 347.7h0M326 345.6h0M326.4 346.6h0M326.5 346h0M327.6 339.9h0M328.2 344.2h0M328.4 343.5h0M328.9 342.7h0M329.5 342.2h0M330.2 335.1h0M330.5 338.4h0M331.5 345.2h0M332 345.4h0M332.3 342.7h0M332.8 344.2h0M333.8 342.8h0M327.4 335.1h0M328.1 333.4h0M328.7 330.8h0M328.8 330.7h0M327.3 332h0M278.7 339.1h0M278.8 336.5h0M279.3 335.1h0"/>
<path stroke="#619cff" stroke-width="2.0" stroke-linecap="round"  d="M227 355.6h0M227.8 358.8h0M228.4 359.6h0M228.6 358.6h0M229.1 360.5h0M229.9 356.4h0M230.4 359h0M231.1 357.4h0M231.9 367.5h0M232.2 360.1h0M232.9 357.7h0M233.3 360.8h0M234 363.4h0M234.4 358.9h0M235 349.1h0M235.8 357.7h0M236 360.3h0M236.9 355.2h0M237.1 367.2h0M237.8 361.1h0M238.2 364h0M239.1 364.8h0M239.3 368.3h0M239.9 368.1h0M240.8 361.5h0M241.2 364.5h0M242 370.9h0M242.2 368.3h0M243.1 366.1h0M243.2 368.5h0M244.2 360.3h0M244.8 363.2h0M245.5 348.6h0M245.9 361.9h0M246.6 361.7h0M247.1 354.2h0M247.5 362.2h0M247.8 355.9h0M248.6 355.5h0M249.4 360.7h0M249.5 355.5h0M250.1 354.6h0M250.9 352h0M251.6 351.9h0M252 350.4h0M252.4 346.6h0M253.4 349.8h0M253.8 348.5h0M254.1 351.2h0M255.1 345.9h0M255.2 355.7h0M256 345.4h0M256.3 351.5h0M256.9 349.9h0M257.9 345.1h0M258.3 349.6h0M258.7 343.7h0M259.1 346.4h0M260 349.3h0M260.5 348.1h0M261.3 339.9h0M261.5 345h0M262.4 347.9h0M262.8 340.2h0M263.1 341.1h0M263.7 345.5h0M264.5 339.5h0M265.1 339.7h0M265.8 334.5h0M266.4 335.8h0M266.9 337.9h0M267.6 341.8h0M268 345.5h0M268.2 340.9h0M269 345.8h0M269.7 349.5h0M270.1 340.1h0M270.8 344.7h0M271.5 346h0M271.7 347.6h0M272.4 350.7h0M272.8 347.4h0M273.8 352.6h0M273.9 348.1h0M274.6 346.6h0M275.5 347.9h0M275.9 346.7h0M276.2 346.8h0M277 343.2h0M277.8 336.7h0M278.3 335.5h0M278.9 336.4h0M279.3 336.9h0M279.9 337.4h0M280.4 332.7h0M280.8 333.9h0M281.5 331.1h0M282 334h0M282.9 331.5h0M283.2 332.7h0M283.7 324.7h0M284 329.5h0M284.8 330.1h0M285.6 334.4h0M286.3 330.7h0M286.5 333.7h0M287.3 329.7h0M287.6 335.3h0M288.2 327.2h0M289.1 335.2h0M289.4 331.5h0M289.9 335.1h0M290.6 334.6h0M291.3 332.4h0M291.6 333.9h0M292.5 340.9h0M292.6 336.1h0M293.6 337.9h0M293.8 333.3h0M294.5 344.3h0M295.3 331.5h0M295.7 342.5h0M296.3 336.3h0M297 346.4h0M297.3 342.3h0M298.2 351.1h0M298.7 349.9h0M299.1 347.6h0M299.7 353.4h0M300.4 352.8h0M300.8 355.9h0M301.1 356.8h0M301.8 361.2h0M302.4 362.6h0M303.1 360.7h0M303.5 361h0M304.3 366.8h0M304.5 370.7h0M305.1 364.9h0M305.8 370.9h0M306.3 367.1h0M306.8 365.6h0M307.3 371.2h0M308.3 363h0M308.9 371.5h0M309.2 372.8h0M310.1 372.6h0M310.6 372.3h0M311.2 370.8h0M311.5 373.9h0M312.2 365.9h0M312.8 373.1h0M313 373.8h0M313.7 360.9h0M314.2 374.5h0M315 369.7h0M315.7 371.6h0M316.2 372.1h0M316.5 374.2h0M317.2 371.6h0M317.5 373.6h0M318.5 365.1h0M319.1 357.4h0M319.7 363.7h0M320.1 358.3h0M320.6 357.7h0M321.2 354.6h0M321.8 356.5h0M322.3 352.5h0M322.6 347.2h0M323.4 330.9h0M324.2 351.1h0M324.5 344.3h0M325.1 339.7h0M325.6 339.7h0M326.4 338.1h0M327 341.6h0M327.4 339.2h0M328.2 341.9h0M328.5 339.7h0M328.9 340.7h0M329.8 339.7h0M329.9 337.8h0M330.7 337.9h0M331.1 340h0M332 339h0M332.4 336.3h0M333.1 340.4h0M333.7 338.8h0M279.3 325.1h0M280.7 322.3h0M279 328.3h0M279.8 329.8h0M280.8 327.7h0M325.9 322.8h0M326.9 326.2h0M326.3 322h0M327.7 328.5h0M327 322.5h0M328.2 323.3h0M284.7 330.6h0M285.7 332.1h0M284.5 327.4h0M282.7 328.9h0M286.3 328.1h0M265.8 337.9h0M267.3 336.5h0M266.1 336.6h0M288.3 329.9h0M288.6 331.6h0M291.5 329.1h0M289.6 333.3h0"/>
<path fill="none" stroke="#00ba38" stroke-width="1" d="M226.3 362.5C226.9 362.3 228.6 361.8 230 361.5C231.4 361.2 233 360.7 234.5 360.8C236 360.9 237.6 361.6 239 362C240.4 362.4 241.9 363.6 243.2 363.4C244.4 363.2 245.3 361.9 246.5 361C247.7 360.1 248.9 359 250.1 358.2C251.3 357.4 252.3 356.7 253.5 356C254.7 355.3 255.9 354.7 257 353.9C258.1 353.1 259.1 351.9 260 351C260.9 350.1 261.4 349.5 262.2 348.7C262.9 347.9 263.8 346.9 264.5 346C265.2 345.1 265.8 343.4 266.5 343.5C267.2 343.6 268 345.1 269 346.5C270 347.9 271.5 351.5 272.5 352.1C273.5 352.7 274.1 350.6 275 350C275.9 349.4 276.9 349.7 277.7 348.7C278.5 347.7 279.1 345.3 280 344C280.9 342.7 282 341.4 282.9 340.9C283.8 340.4 284.2 341 285.5 340.9C286.8 340.8 289.4 339.9 290.7 340C292 340.1 292.6 340.8 293.5 341.5C294.4 342.2 295.2 343.1 295.9 344.4C296.6 345.6 296.9 347 297.5 349C298.1 351 298.6 354.3 299.4 356.5C300.1 358.7 301.1 360.3 302 362C302.9 363.7 303.5 365.3 304.5 366.8C305.5 368.3 306.8 369.9 308 371C309.2 372.1 310.4 373.3 311.5 373.7C312.6 374.1 313.5 373.8 314.5 373.5C315.5 373.2 316.7 372.9 317.5 372C318.3 371.1 318.9 369.4 319.5 368C320.1 366.6 320.5 365.2 321 363.4C321.5 361.6 321.9 359 322.3 357C322.7 355 323.1 352.8 323.5 351.3C323.9 349.8 324.4 348.9 325 348C325.6 347.1 326.3 346.7 327 346.1C327.7 345.5 328.4 344.9 329 344.5C329.6 344.1 329.9 343.5 330.4 343.5C330.9 343.5 331.3 343.9 332 344.5C332.7 345.1 334 346.6 334.4 347"/>
<path fill="none" stroke="#619cff" stroke-width="1" d="M226.3 359C226.9 359.2 228.6 359.7 230 360C231.4 360.3 233.2 360.4 234.5 360.8C235.8 361.2 236.8 361.8 238 362.5C239.2 363.2 240.5 364.7 241.5 365C242.5 365.3 243.2 364.9 244 364.5C244.8 364.1 245.8 363.8 246.6 362.5C247.4 361.2 248.1 358.6 249 357C249.9 355.4 250.9 354 251.8 353C252.7 352 253.6 351.6 254.5 351C255.4 350.4 256.1 350.1 257 349.5C257.9 348.9 259.1 348.2 260 347.5C260.9 346.8 261.5 346 262.2 345.2C262.9 344.4 263.4 343.2 264 342.5C264.6 341.8 264.9 340.8 265.6 340.9C266.3 341 267.1 342 268 343C268.9 344 269.9 345.3 270.8 347C271.7 348.7 272.5 353.1 273.4 353C274.3 352.9 275.1 348.4 276 346.1C276.9 343.8 277.6 341 278.5 339C279.4 337 280.2 335.1 281.2 334C282.2 332.9 283.3 332.3 284.6 332.3C285.9 332.3 287.4 333.3 289 334C290.6 334.7 293 335.6 294.2 336.6C295.4 337.6 295.4 338.4 296 340C296.6 341.6 297 344.1 297.6 346.1C298.2 348.1 298.9 350 299.5 352C300.1 354 300.4 356.2 301.1 358.2C301.8 360.2 302.6 362.3 303.5 364C304.4 365.7 305.4 367.3 306.3 368.5C307.2 369.7 308.1 370.3 309 371C309.9 371.7 310.7 372.6 311.5 372.9C312.3 373.2 313.1 373.1 314 373C314.9 372.9 315.9 372.7 316.6 372C317.4 371.3 317.9 370.1 318.5 369C319.1 367.9 319.6 367.1 320.1 365.1C320.6 363.1 321.1 359.6 321.5 357C321.9 354.4 322.3 351.5 322.7 349.5C323.1 347.5 323.6 346.1 324 345C324.4 343.9 324.7 343.4 325.3 342.6C325.9 341.9 326.8 341.1 327.5 340.5C328.2 339.9 328.9 339.4 329.6 339.2C330.4 339 331.2 339.2 332 339.5C332.8 339.8 334 340.7 334.4 340.9"/>
</g>
<path stroke="#f53c46" stroke-width="1.3" d="M279.5 258.6V378.7"/>
<rect x="226.3" y="258.6" width="108.1" height="120.1" fill="none" stroke="#8c8c8c" stroke-width="1"/>
<path stroke="#6a6a6a" stroke-width="1.4" d="M226.3 318.7H334.4"/>
<text x="223.7" y="271.2" font-size="4.15" text-anchor="end" fill="#555">0.15</text>
<text x="223.7" y="283.9" font-size="4.15" text-anchor="end" fill="#555">0.10</text>
<text x="223.7" y="296.5" font-size="4.15" text-anchor="end" fill="#555">0.05</text>
<text x="223.7" y="309.2" font-size="4.15" text-anchor="end" fill="#555">0.00</text>
<text x="223.7" y="327.7" font-size="4.15" text-anchor="end" fill="#555">0.003</text>
<text x="223.7" y="344.7" font-size="4.15" text-anchor="end" fill="#555">0.002</text>
<text x="223.7" y="361.7" font-size="4.15" text-anchor="end" fill="#555">0.001</text>
<text x="223.7" y="378.7" font-size="4.15" text-anchor="end" fill="#555">0.000</text>
<text x="255.3" y="384" font-size="4.3" text-anchor="middle" fill="#555">0.5</text>
<text x="285.5" y="384" font-size="4.3" text-anchor="middle" fill="#555">1.0</text>
<text x="314.9" y="384" font-size="4.3" text-anchor="middle" fill="#555">1.5</text>
<path stroke="#888" stroke-width="0.6" d="M224.8 269.7H226.3M224.8 282.4H226.3M224.8 295H226.3M224.8 307.7H226.3M224.8 326.2H226.3M224.8 343.2H226.3M224.8 360.2H226.3M224.8 377.2H226.3M255.3 378.7V380.2M285.5 378.7V380.2M314.9 378.7V380.2"/>
<text transform="translate(209.5 295.2) rotate(-90)" font-size="5.6" font-weight="bold" font-style="italic" fill="#111">F<tspan font-size="3.8" dy="1.2">ST</tspan></text>
<text transform="translate(209.2 349.1) rotate(-90)" font-size="5.6" font-weight="bold" text-anchor="middle" fill="#111">π</text>
<text x="274.2" y="389.6" font-size="6" font-weight="bold" text-anchor="middle" fill="#111" stroke="#111" stroke-width="0.15">Chr.4 (Mb)</text>
<path stroke="#f86c66" stroke-width="1" stroke-opacity="0.6" d="M338.7 260.2h4.4"/>
<path stroke="#00ba38" stroke-width="1" d="M338.7 265.5h4.4"/>
<path stroke="#619cff" stroke-width="1" d="M338.7 270.7h4.4"/>
<text x="345" y="261.6" font-size="4" font-style="italic" fill="#000">F<tspan font-size="2.8" dy="0.9">ST</tspan></text>
<text x="345" y="266.9" font-size="4" fill="#000">π<tspan font-size="2.8" dy="0.9">VSDT</tspan></text>
<text x="345" y="272.1" font-size="4" fill="#000">π<tspan font-size="2.8" dy="0.9">NOR</tspan></text>
<text x="441.3" y="249.4" font-size="6.25" font-weight="bold" font-style="italic" text-anchor="middle" fill="#111" stroke="#111" stroke-width="0.15">wsl1</text>
<text x="441.3" y="256.8" font-size="6.25" font-weight="bold" font-style="italic" text-anchor="middle" fill="#111" stroke="#111" stroke-width="0.15">(LOC_Os06g39750)</text>
<clipPath id="c3a"><rect x="387.3" y="258.8" width="108" height="59.8"/></clipPath>
<clipPath id="c3b"><rect x="387.3" y="318.6" width="108" height="60"/></clipPath>
<g clip-path="url(#c3a)">
<path stroke="#f86c66" stroke-width="1.9" stroke-linecap="round"  d="M388.4 307.5h0M389.2 309.5h0M389.7 313.3h0M389.9 312.6h0M390.9 312.5h0M391.8 313.3h0M392 312.4h0M392.8 312h0M393.5 311.5h0M394.2 313.8h0M395.1 313.4h0M395.9 312.1h0M396.6 313.1h0M397.3 307.1h0M397.9 311.2h0M398.7 310.8h0M399.2 311.7h0M400.3 314.2h0M401.2 312.7h0M401.4 308h0M401.9 311.3h0M403.2 310.9h0M403.5 309.4h0M404.4 311.4h0M405.3 307.4h0M406.1 312.4h0M406.4 311.3h0M406.9 310.8h0M407.7 309.3h0M408.8 306.4h0M409 309.9h0M410 309.7h0M410.7 306.1h0M411.6 306.6h0M412.3 304.5h0M412.8 303.6h0M413.3 299.2h0M414.1 293.3h0M414.6 300.1h0M415.6 300.5h0M416 302.5h0M417.3 297.6h0M417.7 301.7h0M418.2 300.3h0M419.3 301.9h0M419.8 301.9h0M420.5 301.7h0M421.2 299.4h0M421.8 303.5h0M422.4 304.9h0M423.1 301.7h0M423.9 303.5h0M424.9 305.4h0M425.3 303h0M426.4 304.4h0M426.7 303.3h0M427.6 303.8h0M428.1 306.3h0M428.9 304.3h0M429.8 305.7h0M430.6 305.4h0M430.9 304.1h0M431.5 306.9h0M432.3 304.5h0M433.2 303.5h0M433.9 298.3h0M434.5 301.6h0M435.5 295.4h0M436 296.7h0M436.4 292.5h0M437.2 281.1h0M437.9 286.5h0M438.8 286h0M439.5 289.2h0M440.2 287.7h0M440.7 288.1h0M441.5 292.7h0M442.7 294.3h0M442.9 292.2h0M443.4 295.9h0M444.4 303.9h0M445.1 307.5h0M445.5 303.7h0M446.6 309.3h0M447.1 307.9h0M448.3 308h0M448.4 312.4h0M449.6 309h0M450 314.3h0M450.8 312.6h0M451.8 317.6h0M452.2 313.7h0M453.1 311.6h0M453.8 316.2h0M454.4 311.6h0M455.3 314.8h0M456.1 315.5h0M456.2 310.4h0M457 314.4h0M457.8 316.4h0M458.7 312.3h0M459.2 312.9h0M460.2 312.3h0M460.6 314.2h0M461.5 312.4h0M462 310.4h0M462.7 307h0M463.6 304.9h0M464.5 305.6h0M464.8 307.7h0M465.6 305.6h0M466.6 310.5h0M466.8 305.1h0M467.7 309.5h0M468.1 304.5h0M469.4 311.5h0M470 312.2h0M470.8 311.8h0M471.1 311h0M472 313.1h0M472.5 310.9h0M473.4 315.2h0M473.8 312.8h0M475 310.6h0M475.2 299.8h0M476.2 310.8h0M476.6 307.7h0M477.4 310.4h0M478.5 308.4h0M478.9 305.7h0M479.8 306.7h0M480.2 309h0M480.9 301.5h0M481.6 307.4h0M482.4 306.8h0M483.1 304.7h0M483.5 303.9h0M484.5 309.4h0M485.2 309.8h0M486.3 307.8h0M486.8 305h0M487.7 312.2h0M488.1 309.2h0M489 311.1h0M489.9 304.2h0M490.2 310.8h0M490.7 313.5h0M492 313.9h0M492.5 311.7h0M493.3 312.8h0M493.8 312.8h0M494.6 315.2h0M438.8 263.3h0M440.9 262.5h0M438.6 263.2h0M440.6 263.2h0M438.9 263.2h0M440.5 262.9h0M438.5 271.6h0M438.8 270.8h0M438.6 268.9h0M417.9 298h0M415.6 291.5h0M415.5 290.5h0M418.4 288.5h0M417 293.8h0M417.8 294.3h0M418 290.4h0M417.2 298.4h0M420.5 297.3h0M420.4 302.4h0M420.7 300.4h0M420.9 301.5h0M418.5 294.6h0M465.5 284.9h0M464.3 298.7h0M464.5 287.8h0M464.6 292h0M464.2 283.3h0M465.8 284.6h0M464 291.9h0M465.6 283.2h0M481.8 296.4h0M480 295h0M480.9 295.3h0M480.2 289.6h0M481.7 289.1h0M480.3 296.4h0M437.2 295.5h0M436.4 301.5h0M438 301.6h0M449.6 314.8h0M450.6 314.5h0M451.8 314.6h0M453.3 314.4h0M454.5 314.3h0M455.6 314.4h0M456.9 314.2h0M458.1 314.4h0M459 314.7h0"/>
<path fill="none" stroke="#f86c66" stroke-width="0.85" d="M387.6 305C387.8 305.6 388.6 307.5 389 308.5C389.4 309.5 389.7 310.2 390.2 311C390.7 311.8 391.3 312.6 392 313C392.7 313.4 393.5 313.7 394.5 313.7C395.5 313.7 396.8 313.3 398 313C399.2 312.7 400.3 312.3 401.5 312C402.7 311.7 403.9 311.3 405 311C406.1 310.7 407.6 310.7 408.4 310.3C409.2 309.9 409.4 309.1 410 308.5C410.6 307.9 411.1 307.6 411.8 306.8C412.5 306 413.1 304.5 414 303.5C414.9 302.5 416.1 301.1 417 300.8C417.9 300.5 418.6 301.2 419.5 301.5C420.4 301.8 421.3 302.2 422.2 302.5C423.1 302.8 424 303.2 425 303.5C426 303.8 427.3 303.9 428.2 304.2C429.1 304.5 429.8 305.1 430.5 305.5C431.2 305.9 431.8 307.6 432.5 306.8C433.2 306.1 433.9 303 434.5 301C435.1 299 435.5 296.5 436 294.7C436.5 292.9 437 291.2 437.5 290C438 288.8 438.5 287.8 439.1 287.5C439.7 287.2 440.4 287.3 441 288.5C441.6 289.7 442.4 292.4 443 294.7C443.6 296.9 444.2 300 444.6 302C445 304 445.1 305.3 445.5 306.8C445.9 308.3 446.8 310 447.2 311C447.6 312 447.6 312.3 448.1 312.9C448.6 313.5 448.1 314.3 450 314.6C451.9 314.9 457.6 315 459.4 314.6C461.2 314.2 460.6 313.2 461 312.5C461.4 311.8 461.5 311.2 462 310.3C462.5 309.4 463.4 307.7 464 307C464.6 306.3 464.8 305.8 465.4 306C466 306.2 466.8 307.6 467.5 308.5C468.2 309.4 469 310.4 469.7 311.1C470.4 311.9 470.9 312.6 471.5 313C472.1 313.4 472.6 314 473.2 313.7C473.8 313.4 474.4 311.9 475 311C475.6 310.1 476 309.2 476.6 308.5C477.2 307.8 477.9 307 478.5 306.5C479.1 306 479.3 305.4 480 305.4C480.7 305.4 481.6 306 482.5 306.5C483.4 307 484.4 307.8 485.3 308.5C486.2 309.2 487.1 309.9 488 310.5C488.9 311.1 489.6 311.6 490.4 312C491.2 312.4 492.2 312.7 493 313C493.8 313.3 494.9 313.6 495.3 313.7"/>
</g>
<g clip-path="url(#c3b)">
<path stroke="#00ba38" stroke-width="2.0" stroke-linecap="round"  d="M388 354.4h0M388.6 369.1h0M389.3 365.3h0M389.7 363.5h0M389.8 363.7h0M390.7 368h0M391.1 366.5h0M391.5 360.8h0M392.2 361.4h0M392.7 364.8h0M393.2 363.3h0M393.6 362.3h0M394.2 359.9h0M394.7 371.9h0M395.2 361.4h0M395.6 365.1h0M396.1 360.5h0M396.8 361.8h0M397.5 360.7h0M397.8 366.7h0M398.3 370.2h0M398.6 366.7h0M399.4 365.3h0M399.8 357.2h0M400 353.1h0M400.9 356.2h0M401.3 365.6h0M401.8 367.6h0M402.4 361.8h0M403.1 367h0M403.3 364.3h0M404 349.9h0M404.3 363.5h0M404.7 366.3h0M405.4 361.4h0M405.8 361.5h0M406.4 365h0M406.8 360.4h0M407.5 365.6h0M408.1 369.1h0M408.5 356.4h0M408.9 366.8h0M409.4 364.5h0M409.9 362.9h0M410.5 365.8h0M411.2 363.6h0M411.4 355.3h0M411.9 359.2h0M412.6 361.5h0M413 360.3h0M413.3 355.3h0M414 364.2h0M414.4 362.8h0M415.3 361.6h0M415.5 364.1h0M416.3 357.4h0M416.5 352.2h0M417.2 351.5h0M417.7 350.1h0M417.9 354.5h0M418.6 348.2h0M419 356.1h0M419.7 350h0M420 345.5h0M420.9 360.1h0M421.2 353.5h0M421.6 359.4h0M422.2 354.7h0M422.6 354.8h0M423.4 359.4h0M423.7 358.1h0M424 357.9h0M424.9 352.1h0M425.4 357.1h0M425.7 354.3h0M426.5 349.2h0M426.9 362.5h0M427.5 355.7h0M427.6 339.9h0M428.3 357.3h0M428.8 343.3h0M429.2 342.1h0M430 351.3h0M430.1 353.6h0M430.8 360.9h0M431.5 360.3h0M431.8 354h0M432.5 353.4h0M432.7 357.8h0M433.5 357.8h0M434.1 361.3h0M434.6 361.2h0M435.1 366.3h0M435.6 366.7h0M435.8 362.7h0M436.6 362.9h0M436.8 363h0M437.6 361.7h0M437.8 366.9h0M438.6 367.7h0M439.1 365.4h0M439.6 367.8h0M439.9 364.3h0M440.6 369.5h0M441.1 371.1h0M441.7 372.9h0M441.9 366.9h0M442.7 369.2h0M443 369.1h0M443.5 365.2h0M443.9 361.2h0M444.8 364.6h0M445.2 370.2h0M445.8 366.7h0M446.4 367h0M446.8 355.4h0M447.1 370.3h0M447.7 358.9h0M448 361.8h0M448.6 361.2h0M449.2 364.4h0M449.6 360.1h0M450.4 363.5h0M450.6 361.4h0M451.5 361.6h0M451.9 365.3h0M452.2 357.4h0M452.8 360h0M453 359.8h0M453.7 362.7h0M454 361h0M454.6 359.1h0M455.1 362.3h0M456 366.2h0M456.1 368.1h0M457.1 365.6h0M457.4 354.3h0M457.7 359.6h0M458.6 372.6h0M458.6 374h0M459.4 370.9h0M460.1 372.1h0M460.4 365h0M460.7 372.8h0M461.2 366.1h0M462 375.5h0M462.3 364.6h0M463.2 377.8h0M463.3 367.2h0M464 372.3h0M464.3 372.6h0M464.9 372.3h0M465.6 364.3h0M465.8 371.4h0M466.4 368h0M467 374.4h0M467.4 376.9h0M468.2 372.9h0M468.4 369.3h0M469.2 375.7h0M469.6 368.9h0M470 366.4h0M470.8 369.5h0M471.1 372.8h0M471.9 375.7h0M471.9 362.2h0M472.7 367.6h0M473.2 365.5h0M473.5 364.1h0M474.3 370.4h0M474.8 371.2h0M474.9 374.2h0M475.6 368.1h0M476.3 369.6h0M476.8 370.2h0M477.4 367.5h0M477.7 368.8h0M478.2 367.2h0M478.9 371.6h0M479.3 369.9h0M479.7 367.3h0M480.3 374.2h0M480.6 369.5h0M481.1 369.8h0M481.7 367.8h0M482.5 366.8h0M483.1 358.3h0M483.6 364.4h0M484 367.1h0M484.1 364.2h0M484.9 366.1h0M485.2 368.1h0M486 362.4h0M486.4 366.8h0M486.8 367h0M487.4 369.9h0M488 367.4h0M488.5 365.8h0M488.9 364.8h0M489.4 367.1h0M489.9 361.3h0M490.4 363.9h0M491 365.8h0M491.4 360.7h0M492.1 360.4h0M492.7 375.2h0M493 367.8h0M493.6 363h0M493.8 368h0M494.7 367h0M419.1 341.8h0M418.4 341.9h0M418.3 338.4h0M417.9 342.6h0M418.6 339.8h0M418.4 341.3h0M487.6 355.5h0M487.4 352.9h0M486.8 353.5h0M487.8 352.4h0M446.7 359h0M446.5 358.8h0M446.9 360.7h0M426.4 352.3h0M425.1 350.1h0M424.9 350.5h0"/>
<path stroke="#619cff" stroke-width="2.0" stroke-linecap="round"  d="M388 366.7h0M388.5 351.3h0M389.3 356.8h0M389.5 355.6h0M389.9 358.6h0M390.8 354.8h0M391 366.5h0M391.8 358.3h0M392.3 367.7h0M392.5 359h0M392.9 362.6h0M393.9 360.1h0M394.3 364.2h0M394.9 363.8h0M395.2 361h0M395.8 361.6h0M396 362.4h0M397 364.6h0M397 358.9h0M397.8 364h0M398.2 364.3h0M399 364.8h0M399.5 361h0M399.6 362.2h0M400.5 361.2h0M400.8 360.3h0M401.3 362.4h0M401.9 373.7h0M402.4 351.1h0M402.8 363h0M403.4 358.4h0M403.8 363.2h0M404.3 353.9h0M404.7 356.6h0M405.2 367.4h0M405.9 360.7h0M406.4 362.3h0M406.7 350.9h0M407.3 364.8h0M407.7 359.3h0M408.4 367.4h0M409.1 361.4h0M409.2 368.4h0M409.8 351.2h0M410.4 367.4h0M411.1 356.2h0M411.2 364.6h0M412.3 360.8h0M412.6 355.8h0M413 356.2h0M413.4 358.6h0M413.9 355.3h0M414.3 350.7h0M415.2 356.5h0M415.8 349.7h0M416.2 352.8h0M416.6 356.2h0M416.9 345h0M417.8 349.3h0M418.2 347.2h0M418.7 333.7h0M419.2 349h0M419.5 345.4h0M420.4 345.6h0M420.5 341.2h0M421.1 347h0M421.7 327.7h0M422.4 341h0M422.8 347.8h0M423.2 340h0M423.9 348.1h0M424.3 346.1h0M424.5 332.2h0M425.2 335.4h0M425.6 345.4h0M426.2 341.8h0M427 351.9h0M427.3 348h0M427.9 330.7h0M428.2 347h0M429 346.9h0M429.4 349.7h0M429.9 331.8h0M430.5 342.6h0M430.9 342.1h0M431.2 351.8h0M431.8 350.8h0M432.4 353h0M432.8 344.5h0M433.5 349.2h0M433.7 346h0M434.6 355.3h0M435 356.3h0M435.2 357.7h0M436 345.6h0M436.3 362.4h0M437.1 354.2h0M437.5 355.7h0M437.8 363h0M438.7 364.6h0M438.9 364.3h0M439.7 367.1h0M440.1 370.8h0M440.3 369.9h0M441.2 369.4h0M441.4 364.5h0M442 361.7h0M442.6 365h0M443.1 358h0M443.8 366.4h0M444.2 369.1h0M444.6 370.7h0M445 360.5h0M445.8 357.4h0M446.3 357.7h0M446.7 356.8h0M447.2 358.4h0M447.6 361.9h0M448.2 358.2h0M448.8 361.9h0M449.3 355.8h0M449.8 364.9h0M450.1 354.4h0M450.8 362.3h0M451 357.8h0M451.8 360.5h0M452.3 350h0M452.6 359.4h0M453.4 356.2h0M454 357.8h0M454.5 362.2h0M455 362.3h0M455.1 359h0M455.7 367.6h0M456.2 365.5h0M456.8 360.7h0M457.3 368.7h0M457.7 362h0M458.4 373.4h0M458.7 370.4h0M459.4 364.3h0M459.7 366.4h0M460.5 369.5h0M461.1 368.9h0M461.3 374.3h0M462 371.5h0M462.4 363.2h0M463 371.3h0M463.6 374.6h0M464.1 366.2h0M464.7 371.6h0M465 374.3h0M465.7 376.9h0M466.2 371.9h0M466.8 366.3h0M466.9 369.4h0M467.5 377.8h0M467.9 371.5h0M468.5 366.6h0M468.9 375.6h0M469.8 374.2h0M469.9 374.3h0M470.4 373.1h0M470.9 364.1h0M471.6 372.8h0M472.2 371.9h0M472.5 361.6h0M473.3 368.6h0M473.5 368.4h0M474 370h0M474.6 367.3h0M475.2 371.1h0M475.7 369.6h0M476.2 372.4h0M476.5 372.5h0M477.2 367.1h0M477.9 369.4h0M478 368.5h0M478.6 368.2h0M479.5 372h0M480 355.9h0M480.5 366.8h0M480.9 361h0M481.3 370.1h0M481.6 367.4h0M482.4 365.6h0M483 353.5h0M483.4 357.8h0M483.8 365.7h0M484.4 368h0M485.1 365.1h0M485.4 359h0M485.6 369.2h0M486.5 357h0M486.7 364.6h0M487.6 363.1h0M487.8 360.6h0M488.6 365.3h0M488.7 353.6h0M489.5 357.8h0M490.2 359.4h0M490.5 366h0M490.9 362.5h0M491.4 363.7h0M492 366.1h0M492.3 361.8h0M492.9 362.2h0M493.7 370.7h0M494 362.5h0M494.4 369.5h0M418 322h0M418.9 324.3h0M418.1 326.5h0M419.2 326.7h0M418.2 322h0M419.5 323.7h0M418.3 322.6h0M418.3 322.7h0M418.7 330.5h0M418 335h0M419 331.9h0M419 331.6h0M431.8 340.2h0M431.7 343.7h0M430.7 342h0M431.6 344.7h0M430.5 337.6h0M432.6 338.9h0M432.4 345.1h0M486.8 349.5h0M486.8 349h0M486.8 347.2h0M487.4 352.7h0M486.8 348.9h0M446.9 357.4h0M446.5 356.1h0M446.7 357.9h0M404.3 352.5h0M403.9 354.9h0M403.5 356.6h0M402.3 356.6h0"/>
<path fill="none" stroke="#00ba38" stroke-width="1" d="M387.3 364.2C387.9 364.1 389.8 363.9 391 363.8C392.2 363.7 393.3 363.3 394.5 363.4C395.7 363.5 396.8 363.9 398 364.2C399.2 364.5 400.3 365 401.5 365.1C402.7 365.2 403.9 365.1 405 365.1C406.1 365.1 407.4 365.4 408.4 365.1C409.4 364.8 410.1 364.1 411 363.5C411.9 362.9 412.7 362.4 413.5 361.6C414.3 360.9 415.1 359.9 416 359C416.9 358.1 417.9 357 418.7 356.5C419.4 356 419.9 355.9 420.5 355.8C421.1 355.7 421.5 355.3 422.2 355.6C422.9 355.9 423.8 356.8 424.5 357.5C425.2 358.2 425.8 359.7 426.5 359.9C427.2 360.1 427.8 358.9 428.5 358.5C429.2 358.1 430.1 357.2 430.8 357.3C431.6 357.4 432.3 358.4 433 359C433.7 359.6 434.4 359.9 435.1 360.8C435.9 361.7 436.8 363.5 437.5 364.5C438.2 365.5 438.6 366.3 439.4 366.8C440.1 367.3 441.1 367.4 442 367.5C442.9 367.6 443.9 368.1 444.6 367.7C445.4 367.3 445.8 365.9 446.5 365C447.2 364.1 447.9 362.7 449 362C450.1 361.3 451.8 360.7 453 361C454.2 361.3 455.2 362.9 456 364C456.8 365.1 457.2 366.3 458 367.5C458.8 368.7 460 370 461 371C462 372 463 373 464 373.5C465 374 465.8 374.4 467 374.2C468.2 374 469.7 373 471 372.5C472.3 372 473.7 371.6 475 371.2C476.3 370.8 477.7 370.5 479 370C480.3 369.5 481.8 368.6 483 368C484.2 367.4 484.9 367 486 366.5C487.1 366 488.5 365.2 489.6 365C490.7 364.8 491.6 365.2 492.5 365.5C493.4 365.8 494.8 366.3 495.3 366.5"/>
<path fill="none" stroke="#619cff" stroke-width="1" d="M387.3 359.9C387.9 360.1 389.8 360.7 391 361C392.2 361.3 393.3 361.5 394.5 361.6C395.7 361.7 396.8 361.5 398 361.5C399.2 361.5 400.3 361.5 401.5 361.6C402.7 361.7 403.9 361.9 405 362C406.1 362.1 407.4 362.8 408.4 362.5C409.4 362.2 410.1 361.4 411 360.5C411.9 359.6 412.7 358.6 413.5 357.3C414.3 356 415.1 354.1 416 352.5C416.9 350.9 417.9 349 418.7 347.8C419.4 346.6 419.9 345.9 420.5 345.5C421.1 345.1 421.5 344.8 422.2 345.2C422.9 345.6 423.8 347 424.5 348C425.2 349 425.8 351.1 426.5 351.3C427.2 351.6 427.9 349.9 428.5 349.5C429.1 349.1 429.4 348.5 430 348.7C430.6 348.9 431.3 349.6 432 350.5C432.7 351.4 433.6 352.5 434.3 353.9C435 355.3 435.4 357.1 436 359C436.6 360.9 437 363.5 437.7 365.1C438.4 366.7 439.5 367.9 440.4 368.5C441.3 369.1 442.2 368.8 442.9 368.5C443.6 368.2 444.1 367.6 444.7 366.8C445.3 366.1 445.7 365 446.4 364C447.1 363 448.2 361.5 449 360.8C449.8 360.1 450.3 360.1 451 360C451.7 359.9 452.6 359.5 453.3 359.9C454.1 360.3 454.8 361.4 455.5 362.5C456.2 363.6 456.9 365.5 457.6 366.8C458.4 368.1 459.1 369.5 460 370.5C460.9 371.5 461.8 372.2 462.8 372.9C463.9 373.6 465.3 374.5 466.3 374.6C467.3 374.7 468.1 373.9 469 373.5C469.9 373.1 470.7 372.4 471.5 372C472.3 371.6 473.1 371.3 474 371C474.9 370.7 475.8 370.6 476.6 370.3C477.4 370 478.1 369.4 479 369C479.9 368.6 480.8 368.3 481.8 367.7C482.9 367.1 484 365.8 485.3 365.1C486.6 364.4 488.4 363.6 489.6 363.4C490.8 363.2 491.6 363.7 492.5 364C493.4 364.3 494.8 364.9 495.3 365.1"/>
</g>
<path stroke="#f53c46" stroke-width="1.3" d="M446.8 258.8V378.6"/>
<rect x="387.3" y="258.8" width="108" height="119.8" fill="none" stroke="#8c8c8c" stroke-width="1"/>
<path stroke="#6a6a6a" stroke-width="1.4" d="M387.3 318.8H495.3"/>
<text x="384.7" y="264.8" font-size="4.15" text-anchor="end" fill="#555">0.3</text>
<text x="384.7" y="281.9" font-size="4.15" text-anchor="end" fill="#555">0.2</text>
<text x="384.7" y="298.8" font-size="4.15" text-anchor="end" fill="#555">0.1</text>
<text x="384.7" y="315.7" font-size="4.15" text-anchor="end" fill="#555">0.0</text>
<text x="384.7" y="320.8" font-size="4.15" text-anchor="end" fill="#555">0.006</text>
<text x="384.7" y="339.8" font-size="4.15" text-anchor="end" fill="#555">0.004</text>
<text x="384.7" y="358.8" font-size="4.15" text-anchor="end" fill="#555">0.002</text>
<text x="384.7" y="377.8" font-size="4.15" text-anchor="end" fill="#555">0.000</text>
<text x="419.6" y="383.9" font-size="4.3" text-anchor="middle" fill="#555">23</text>
<text x="455.6" y="383.9" font-size="4.3" text-anchor="middle" fill="#555">24</text>
<text x="491.3" y="383.9" font-size="4.3" text-anchor="middle" fill="#555">25</text>
<path stroke="#888" stroke-width="0.6" d="M385.8 263.3H387.3M385.8 280.4H387.3M385.8 297.3H387.3M385.8 314.2H387.3M385.8 319.3H387.3M385.8 338.3H387.3M385.8 357.3H387.3M385.8 376.3H387.3M419.6 378.6V380.1M455.6 378.6V380.1M491.3 378.6V380.1"/>
<text transform="translate(370.5 295.3) rotate(-90)" font-size="5.6" font-weight="bold" font-style="italic" fill="#111">F<tspan font-size="3.8" dy="1.2">ST</tspan></text>
<text transform="translate(370.2 349.1) rotate(-90)" font-size="5.6" font-weight="bold" text-anchor="middle" fill="#111">π</text>
<text x="442.7" y="389.1" font-size="6" font-weight="bold" text-anchor="middle" fill="#111" stroke="#111" stroke-width="0.15">Chr.6 (Mb)</text>
<path stroke="#f86c66" stroke-width="1" stroke-opacity="0.6" d="M502.5 260.4h4.4"/>
<path stroke="#00ba38" stroke-width="1" d="M502.5 265.7h4.4"/>
<path stroke="#619cff" stroke-width="1" d="M502.5 270.9h4.4"/>
<text x="508.8" y="261.8" font-size="4" font-style="italic" fill="#000">F<tspan font-size="2.8" dy="0.9">ST</tspan></text>
<text x="508.8" y="267.1" font-size="4" fill="#000">π<tspan font-size="2.8" dy="0.9">VSDT</tspan></text>
<text x="508.8" y="272.3" font-size="4" fill="#000">π<tspan font-size="2.8" dy="0.9">NOR</tspan></text>
<text x="121" y="400" font-size="6.25" font-weight="bold" font-style="italic" text-anchor="middle" fill="#111" stroke="#111" stroke-width="0.15">Xa26</text>
<text x="121" y="407.4" font-size="6.25" font-weight="bold" font-style="italic" text-anchor="middle" fill="#111" stroke="#111" stroke-width="0.15">(LOC_Os11g47210)</text>
<clipPath id="c4a"><rect x="66.3" y="409.4" width="108.1" height="60.4"/></clipPath>
<clipPath id="c4b"><rect x="66.3" y="469.8" width="108.1" height="59.4"/></clipPath>
<g clip-path="url(#c4a)">
<path stroke="#f86c66" stroke-width="1.9" stroke-linecap="round"  d="M69.4 443.7h0M76 431.6h0M81.5 445.7h0M86.6 450.2h0M94.2 449.3h0M95.7 451.8h0M104.9 450.9h0M108.1 452.3h0M117.3 434.1h0M118.4 435.1h0M125.4 441.5h0M129.5 438.8h0M139.6 444.2h0M144.4 424h0M149.4 443.7h0M153.2 458.6h0M160.9 463.1h0M163 468.3h0M168.5 461h0M67.3 442.1h0M66.8 443.1h0M68.9 436.8h0M69.3 437.2h0M70.4 437.9h0M71.1 435.2h0M71 436.3h0M73 452.5h0M72 452.8h0M71.4 452.1h0M71.4 448.1h0M74.3 445.7h0M76.5 430.5h0M76.6 430.6h0M77.1 434.9h0M77.3 436h0M77.5 445.3h0M79.6 446.9h0M77.6 446.2h0M84.1 457.9h0M81.6 457.4h0M81.1 458.4h0M84.3 458.5h0M85.5 452.2h0M86.9 450.9h0M85.9 450.9h0M92.2 448.5h0M92.9 446.6h0M92.8 449.9h0M89.2 446.1h0M92.5 448.6h0M95.6 450.9h0M93.1 448h0M95.2 450.6h0M96.8 447.8h0M100.4 443.7h0M100.6 444.9h0M99.8 445.4h0M99.2 444.4h0M101.8 454.5h0M102.9 453.9h0M103.6 451.6h0M107.6 458.6h0M106 455.6h0M106.7 457.2h0M106 458.3h0M105.8 458.1h0M110.5 457.4h0M111.2 453.6h0M110.7 454.2h0M113.8 441h0M115.2 448h0M115.4 445.9h0M115.7 446.4h0M114.8 465.4h0M116.2 414.8h0M117 413h0M117.8 412.4h0M116.4 417.3h0M116.4 423.3h0M120.7 426.7h0M121.5 423h0M119.6 423.9h0M126.1 434.9h0M123 434.1h0M127 433.6h0M123.7 435.1h0M122.9 434.6h0M130.1 441.3h0M128.5 442.7h0M130.1 441.5h0M129.6 441.1h0M132.5 452h0M132.3 449.4h0M133.2 450.2h0M136.1 449.8h0M134.5 448.5h0M135.4 451h0M140.5 438.8h0M141.5 438h0M141.3 439h0M144.2 434.7h0M143.8 433.9h0M144.4 436.7h0M143.4 432h0M146.5 424.3h0M146.9 417.3h0M147.5 423.3h0M146.3 425.4h0M146.9 425.4h0M149 436.1h0M148.7 439h0M148.5 437.6h0M149.6 431.3h0M152 453.8h0M151.8 448.4h0M151.1 448.9h0M152.2 459.8h0M155.9 462.9h0M153.8 462.2h0M157.5 462.3h0M155.8 461h0M154.9 462.7h0M163.6 463.2h0M160.6 462.7h0M161.5 461.3h0M160.4 461.5h0M168.1 461.1h0M169.9 460.6h0M169.7 461.7h0M167.3 460h0M170.6 461.2h0M172.6 465.4h0M170.9 465.3h0M170.6 464.8h0"/>
<path fill="none" stroke="#f86c66" stroke-width="0.85" d="M66.3 443.9C67.4 444.2 70.8 445 72.8 445.6C74.8 446.2 76.3 446.4 78 447.3C79.7 448.2 81.6 449.9 83.2 450.8C84.8 451.7 86.1 452.2 87.5 452.5C88.9 452.8 90.2 452.6 91.8 452.5C93.4 452.4 95.4 452.3 97 451.6C98.6 450.9 99.9 448.3 101.3 448.2C102.7 448.1 104.1 449.8 105.6 450.8C107 451.8 108.7 454.4 110 454.2C111.3 454 112.4 452.3 113.4 449.9C114.4 447.4 115.2 442.5 116 439.5C116.8 436.5 117.7 433.7 118.5 432C119.3 430.3 119.7 428.9 120.6 429.2C121.5 429.4 122.7 431.8 123.8 433.5C124.9 435.2 125.8 437.9 127.3 439.5C128.8 441.1 130.8 441.8 132.5 443C134.2 444.2 136.2 446.8 137.6 446.5C139 446.2 140.1 443.3 141.1 441.3C142.1 439.3 142.7 435 143.7 434.4C144.7 433.8 145.9 435.5 147.1 437.8C148.2 440.1 149.6 444.4 150.6 448.2C151.6 451.9 152.2 457.7 153.2 460.3C154.2 462.9 155.2 463.3 156.6 463.7C158 464.1 160.1 463.2 161.8 462.9C163.5 462.6 165.6 462.3 167 462C168.4 461.7 169.3 461.4 170.5 461C171.7 460.6 173.8 459.7 174.4 459.4"/>
</g>
<g clip-path="url(#c4b)">
<path stroke="#00ba38" stroke-width="2.0" stroke-linecap="round"  d="M67.3 506.3h0M67.8 511.1h0M68.8 505.4h0M69 509.2h0M70.3 510.5h0M70.8 507.3h0M71.6 510.3h0M72.2 503.2h0M72.7 506.2h0M73.6 510.1h0M74.8 501.5h0M74.9 507.1h0M76 502.4h0M76.4 503h0M77.1 502.5h0M78.3 503h0M78.8 496h0M79.6 500h0M80 501.9h0M80.8 500.5h0M81.4 500.6h0M82.5 496h0M83.1 498.3h0M84.3 499.6h0M84.3 499h0M85.7 498.7h0M85.8 503.1h0M86.7 495.7h0M87.7 504.9h0M88.3 499.7h0M89.4 503.8h0M89.9 506.1h0M90.6 501h0M91.2 503.8h0M91.7 507.7h0M92.6 499.7h0M93.5 501.4h0M93.9 507.1h0M94.7 502.8h0M95.8 505.1h0M96.1 503.3h0M97.1 503.7h0M97.6 504.5h0M98.3 502.5h0M99.1 502.9h0M100 506.3h0M100.6 505.4h0M101.4 506.8h0M102.3 505.9h0M102.8 504.3h0M103.9 504.1h0M104.5 500h0M105.1 503.5h0M105.7 501.6h0M106.8 494.6h0M106.9 502h0M107.7 494.2h0M108.6 498.3h0M109.1 496.9h0M110.1 500.1h0M110.8 496.1h0M111.6 502.1h0M112.4 501.5h0M112.7 500.5h0M113.9 496.8h0M114.7 496.1h0M115.1 500.1h0M116.3 503h0M117 506h0M117.5 500.6h0M117.9 498.6h0M119.1 505.5h0M119.8 498.9h0M120.1 506.5h0M120.9 507.3h0M121.9 509.5h0M122.7 508.7h0M123.6 509.7h0M124.1 510.2h0M125 512h0M125.3 512h0M126.1 509.6h0M126.8 508.7h0M127.7 512.9h0M128.3 512.1h0M129.1 511.5h0M129.6 516.2h0M130.5 513.8h0M131 520.9h0M132.3 513.4h0M132.7 515.5h0M133.2 516.3h0M134 515h0M134.6 518.1h0M135.6 515.7h0M136.6 510.7h0M137.4 507.8h0M138.2 518.4h0M138.2 517.5h0M139 514.9h0M140 513.8h0M140.6 515.4h0M141.6 515.7h0M141.9 518.7h0M143 515h0M143.9 516.1h0M144.5 512.2h0M145.5 514.3h0M146.1 516.3h0M146.2 511.8h0M147 512.6h0M148.2 512.3h0M149.1 513.7h0M149.3 513.8h0M150.3 509.1h0M150.7 505.7h0M151.8 510h0M152.6 505.1h0M153 513.5h0M153.5 506.4h0M154.6 501.4h0M155.2 502.4h0M155.7 503.3h0M156.6 500.5h0M157.6 498.4h0M158.6 498h0M158.7 497.7h0M159.7 487.2h0M160.3 488.3h0M161 496.1h0M162 496.3h0M162.7 495.6h0M163.4 494.4h0M164.3 492.6h0M164.8 500.8h0M165.3 499h0M166 500.6h0M167.1 501.4h0M167.5 504.3h0M168.6 503.5h0M169.3 503.7h0M170 505.9h0M170.4 506.9h0M171.5 513.7h0M172.1 513.9h0M172.7 517h0M173.2 515.4h0M111.2 488.3h0M110 488h0M109.9 489.7h0M110 489.4h0M111.5 489.1h0M162.1 485.4h0M162.1 484.3h0M162.2 485.4h0M161.4 484.6h0M86 507.6h0M86.8 508.3h0M86.4 508.6h0M87.9 507.5h0M80.4 494.6h0M80.3 492.1h0M80.3 492h0M80 490.1h0M113.2 508.5h0M113.5 511.5h0M113.7 510.8h0M118.1 499.1h0M117.5 498.8h0M117.3 497.1h0"/>
<path stroke="#619cff" stroke-width="2.0" stroke-linecap="round"  d="M66.9 504.3h0M67.7 502.1h0M68.6 495.9h0M69.2 505h0M70.4 504.7h0M71.2 505.8h0M71.4 504.7h0M72.2 504.3h0M73 505.5h0M73.8 501.6h0M74.7 502h0M74.9 498.4h0M76.1 501.1h0M76.5 491.1h0M77.2 498.6h0M78 498.5h0M78.8 494h0M79.7 495h0M80.2 493.9h0M81.1 491.8h0M81.7 490.3h0M82.5 486.3h0M83.1 484.7h0M84.2 491.7h0M84.9 489.1h0M85.5 489.4h0M86.4 488.7h0M87 488.7h0M87.6 489.5h0M88.6 496.4h0M88.7 493.7h0M89.7 497.5h0M90.5 497.7h0M91 496.4h0M91.7 491h0M92.4 497.2h0M93.4 496.7h0M93.8 500.3h0M95.2 498.7h0M95.7 500.5h0M96.2 502.8h0M97.3 505h0M98 506.6h0M98.8 502.1h0M99.5 501.9h0M99.8 508.7h0M100.8 503.2h0M101.4 501.5h0M102.5 502.8h0M102.9 506.5h0M103.8 496.2h0M104.2 495.8h0M104.8 500.9h0M105.9 499.6h0M106.4 496h0M107 494.2h0M107.8 492.8h0M109 491.3h0M109.6 491.1h0M110.3 489.5h0M110.6 488.2h0M111.4 488.5h0M112 492.8h0M113 492.6h0M114.1 494.4h0M114.7 486.6h0M114.9 495h0M115.7 499.8h0M116.5 503.3h0M117.3 500.6h0M118 500.8h0M119 504.6h0M119.8 504h0M120.5 504.8h0M121.4 505.7h0M121.8 503.7h0M122.2 502.1h0M123.1 506.9h0M123.9 510.8h0M125 507.9h0M125.7 511.8h0M126.2 498.2h0M126.8 512.9h0M127.7 512.6h0M128 511.8h0M129.2 511.7h0M129.7 513.5h0M130.8 517.8h0M131.4 512.2h0M131.9 516h0M133.1 517.8h0M133.8 514.7h0M134.3 514.4h0M134.8 520.9h0M136 519.4h0M136.5 517.6h0M137.1 512.5h0M138.1 521.7h0M138.3 517.6h0M139.2 517.6h0M140.2 517.8h0M141 513.4h0M141.2 517.9h0M142.2 515.8h0M142.7 518h0M143.4 518.5h0M144.1 513.7h0M145 513.5h0M145.5 513.3h0M146.8 513.7h0M147.1 512.5h0M147.9 511.2h0M148.4 510.1h0M149.3 504.5h0M150.5 512.1h0M150.8 509.1h0M151.5 508.4h0M152.5 506.9h0M153.2 505.3h0M153.9 503.9h0M154.7 489.7h0M155 493.1h0M156.1 492.2h0M156.6 497.8h0M157.2 497.6h0M158.5 497.8h0M159 493.1h0M159.6 492.6h0M160.7 493.7h0M161.3 491.1h0M162.2 497.1h0M162.8 495.1h0M163 496.3h0M164.3 494.4h0M164.6 497.3h0M165.8 498.2h0M166.2 497.4h0M167.3 497.7h0M167.7 506.2h0M168.3 502.6h0M168.8 506.3h0M169.9 506.4h0M170.8 505.1h0M171.5 509.2h0M172 515.7h0M172.5 513.9h0M173.6 518.6h0M80.3 481.9h0M80.7 481.1h0M80.7 478.1h0M80.8 475.7h0M80 480.3h0M80.4 475.9h0M81 482.9h0M80.5 478.4h0M110.9 474.1h0M111.2 474.1h0M110.7 475.5h0M110.8 475.8h0M110.4 476.6h0M115.6 516.1h0M115.6 514.9h0M116.4 515.6h0M115.9 517.5h0M116.3 514.2h0M160 488.8h0M161.3 487.3h0M162 487.5h0M161.3 489.9h0M84.3 486.6h0M83.2 487.3h0M84.6 489.2h0M83.6 489.8h0M124.5 498.1h0M125.1 498.5h0M124.8 500.2h0"/>
<path fill="none" stroke="#00ba38" stroke-width="1" d="M66.3 508.2C67.1 508.3 69.4 509.7 71.1 509C72.8 508.3 74.4 505.5 76.3 503.9C78.2 502.3 80.6 500.1 82.3 499.5C84 498.9 85 499.8 86.6 500.4C88.2 501 89.8 502.1 91.8 503C93.8 503.9 96.7 505.5 98.7 505.6C100.7 505.8 102.2 504.8 103.9 503.9C105.6 503 107.4 500.8 109.1 500.4C110.8 500 112.3 500.4 114.3 501.3C116.3 502.2 119.6 504.2 121.2 505.6C122.8 507 122.2 508.2 123.8 509.9C125.4 511.6 128.4 514.7 130.7 516C133 517.3 135.3 517.9 137.6 517.7C139.9 517.6 142.2 516.6 144.5 515.1C146.8 513.6 149.5 511.6 151.5 509C153.5 506.4 155 502.1 156.6 499.5C158.2 496.9 159.6 493.6 161 493.5C162.4 493.4 163.7 496.2 165.3 498.7C166.9 501.1 168.9 504.3 170.4 508.2C171.9 512.1 173.7 519.7 174.4 522"/>
<path fill="none" stroke="#619cff" stroke-width="1" d="M66.3 502.1C67 502.8 68.8 506.2 70.2 506.5C71.6 506.8 73 505.9 74.5 503.9C76 501.9 77.5 497.3 78.9 494.4C80.4 491.5 81.9 487.5 83.2 486.6C84.5 485.7 85.2 487.2 86.6 489.2C88 491.2 90.1 496.1 91.8 498.7C93.5 501.3 95.3 503.5 97 504.7C98.7 505.9 100.8 506.9 102.2 505.6C103.6 504.3 104.4 499.3 105.6 497C106.8 494.7 107.8 492.2 109.1 491.8C110.4 491.4 112 492.7 113.4 494.4C114.8 496.1 116.1 500 117.7 502.1C119.3 504.2 121.3 505.4 122.9 507.3C124.5 509.2 125.4 511.7 127.3 513.4C129.2 515.1 132 517 134.2 517.7C136.3 518.4 138.2 518.1 140.2 517.7C142.2 517.3 144.4 516.7 146.3 515.1C148.2 513.5 149.9 510.9 151.5 508.2C153.1 505.5 154.4 501.3 155.8 498.7C157.2 496.1 158.7 492.9 160.1 492.6C161.5 492.3 163 495 164.4 497C165.8 499 167.3 501.7 168.7 504.7C170.1 507.7 172.1 511.8 173 515.1C173.9 518.4 174.2 523 174.4 524.6"/>
</g>
<path stroke="#f53c46" stroke-width="1.3" d="M143.3 409.4V529.2"/>
<rect x="66.3" y="409.4" width="108.1" height="119.8" fill="none" stroke="#8c8c8c" stroke-width="1"/>
<path stroke="#6a6a6a" stroke-width="1.4" d="M66.3 470H174.4"/>
<text x="63.7" y="429.5" font-size="4.15" text-anchor="end" fill="#555">0.2</text>
<text x="63.7" y="448.8" font-size="4.15" text-anchor="end" fill="#555">0.1</text>
<text x="63.7" y="468.3" font-size="4.15" text-anchor="end" fill="#555">0.0</text>
<text x="63.7" y="478.9" font-size="4.15" text-anchor="end" fill="#555">0.004</text>
<text x="63.7" y="489.8" font-size="4.15" text-anchor="end" fill="#555">0.003</text>
<text x="63.7" y="500.5" font-size="4.15" text-anchor="end" fill="#555">0.002</text>
<text x="63.7" y="511.1" font-size="4.15" text-anchor="end" fill="#555">0.001</text>
<text x="63.7" y="521.8" font-size="4.15" text-anchor="end" fill="#555">0.000</text>
<text x="71.1" y="534.5" font-size="4.3" text-anchor="middle" fill="#555">27.0</text>
<text x="97" y="534.5" font-size="4.3" text-anchor="middle" fill="#555">27.5</text>
<text x="123.3" y="534.5" font-size="4.3" text-anchor="middle" fill="#555">28.0</text>
<text x="147.7" y="534.5" font-size="4.3" text-anchor="middle" fill="#555">28.5</text>
<text x="172.2" y="534.5" font-size="4.3" text-anchor="middle" fill="#555">29.0</text>
<path stroke="#888" stroke-width="0.6" d="M64.8 428H66.3M64.8 447.3H66.3M64.8 466.8H66.3M64.8 477.4H66.3M64.8 488.3H66.3M64.8 499H66.3M64.8 509.6H66.3M64.8 520.3H66.3M71.1 529.2V530.7M97 529.2V530.7M123.3 529.2V530.7M147.7 529.2V530.7M172.2 529.2V530.7"/>
<text transform="translate(49.5 446.2) rotate(-90)" font-size="5.6" font-weight="bold" font-style="italic" fill="#111">F<tspan font-size="3.8" dy="1.2">ST</tspan></text>
<text transform="translate(49.2 500) rotate(-90)" font-size="5.6" font-weight="bold" text-anchor="middle" fill="#111">π</text>
<text x="117" y="544.4" font-size="6" font-weight="bold" text-anchor="middle" fill="#111" stroke="#111" stroke-width="0.15">Chr.11 (Mb)</text>
<path stroke="#f86c66" stroke-width="1" stroke-opacity="0.6" d="M178.2 416.2h4.4"/>
<path stroke="#00ba38" stroke-width="1" d="M178.2 421.5h4.4"/>
<path stroke="#619cff" stroke-width="1" d="M178.2 426.7h4.4"/>
<text x="184.5" y="417.6" font-size="4" font-style="italic" fill="#000">F<tspan font-size="2.8" dy="0.9">ST</tspan></text>
<text x="184.5" y="422.9" font-size="4" fill="#000">π<tspan font-size="2.8" dy="0.9">VSDT</tspan></text>
<text x="184.5" y="428.1" font-size="4" fill="#000">π<tspan font-size="2.8" dy="0.9">NOR</tspan></text>
<text x="286" y="400" font-size="6.25" font-weight="bold" font-style="italic" text-anchor="middle" fill="#111" stroke="#111" stroke-width="0.15">Pikp-2</text>
<text x="286" y="407.4" font-size="6.25" font-weight="bold" font-style="italic" text-anchor="middle" fill="#111" stroke="#111" stroke-width="0.15">(LOC_Os11g46210)</text>
<clipPath id="c5a"><rect x="226.4" y="409.4" width="108" height="60.4"/></clipPath>
<clipPath id="c5b"><rect x="226.4" y="469.8" width="108" height="59.4"/></clipPath>
<g clip-path="url(#c5a)">
<path stroke="#f86c66" stroke-width="1.9" stroke-linecap="round"  d="M230.2 449.6h0M235.2 451.3h0M239.4 450.7h0M248.2 440.2h0M252 443h0M257.8 456.6h0M260.9 448.5h0M271 450.3h0M276.9 444.2h0M279.5 447.3h0M288.2 433.9h0M292.2 429.8h0M296.6 437.4h0M303.6 439.6h0M307.3 438.1h0M311.6 441.2h0M318.5 465.1h0M324.3 461.3h0M329.3 461.9h0M227.6 433.5h0M227.3 436.4h0M226.9 435.7h0M229.7 445.9h0M228.4 446.1h0M228.5 444.6h0M232.7 452.4h0M230.7 453.7h0M231.8 454h0M233.4 447.1h0M234.8 448h0M233.5 447.2h0M234.2 436.3h0M234.7 441.8h0M236.6 448.5h0M237.2 449.1h0M237.7 448.9h0M237.7 453h0M243 454.1h0M242.5 455.6h0M242 452.6h0M240.6 456.2h0M245.5 456.1h0M245 457.6h0M246.4 450h0M247.5 451.2h0M247.7 449.2h0M251.5 445.6h0M251.5 442h0M250.4 444.6h0M253.1 437.9h0M252.6 441.7h0M254.5 440.7h0M256.2 431.1h0M256.1 433.4h0M257.2 429.6h0M256.9 430.2h0M259 447h0M259 448.4h0M258.2 447.6h0M261.2 459.4h0M261.6 459.3h0M262 458.9h0M260.7 458.2h0M264.9 454.7h0M264 448.4h0M264 453.8h0M268 443.2h0M266.6 447.1h0M267.4 446.1h0M268.9 444.5h0M270.7 442h0M271 443.2h0M271 444.1h0M274.3 448.5h0M274.8 450.2h0M275.2 448.8h0M276.6 452.9h0M278.7 457.3h0M277.8 455.9h0M279.5 450.7h0M282.6 448.5h0M282.7 449.7h0M281.4 447.1h0M284.6 439h0M284.1 438.7h0M283.6 441.9h0M286.6 426.2h0M286.6 427.5h0M285.9 427.1h0M286.4 426.1h0M288.4 426.4h0M289.6 425.5h0M288.5 426h0M289.4 427.4h0M291.6 432.8h0M291.4 433h0M290.3 432.7h0M294.1 445.4h0M294.6 443h0M294.1 441.2h0M296.5 451.7h0M298.7 447.8h0M298.1 451.7h0M300.5 446.1h0M299.7 447.4h0M301.3 442.9h0M303.7 444.3h0M304.5 443.4h0M306.1 439.2h0M305.6 440.8h0M306.8 437.1h0M307.4 440h0M309.1 446.9h0M308.9 447.6h0M308.8 444.2h0M310.9 415.7h0M311.3 413.1h0M311 417.9h0M311.9 414.6h0M311.7 419.5h0M313.3 434.8h0M313.6 429.1h0M312.4 429.9h0M314.9 440.5h0M315.3 440.9h0M316.2 457h0M316.9 456.5h0M316.3 459.9h0M320.4 462.8h0M318.2 462h0M319.2 465.4h0M318.2 463.2h0M325.5 460h0M322.5 460.6h0M323.8 462.8h0M324.4 460.6h0M326.8 459.7h0M326.5 458.3h0M328.2 455h0M332.4 462.1h0M330.5 458.1h0M330.6 459.9h0M330.7 462.9h0"/>
<path fill="none" stroke="#f86c66" stroke-width="0.85" d="M226.4 437.8C226.9 439.1 228.3 443.6 229.4 445.6C230.5 447.6 231.4 449 232.8 449.9C234.2 450.8 236.3 450.9 238 450.8C239.7 450.7 241.5 449.9 243.2 449C244.9 448.1 247 446.3 248.4 445.6C249.8 444.9 250.7 444.4 251.8 444.7C253 445 254 446.1 255.3 447.3C256.6 448.5 258.2 450.7 259.6 451.6C261 452.5 262.3 452.6 263.9 452.5C265.5 452.4 267.4 451.4 269.1 450.8C270.8 450.2 272.7 448.9 274.3 449C275.9 449.1 277.3 450.9 278.6 451.6C279.9 452.3 281.1 454 282 453.4C282.9 452.8 283.3 450.6 284 448C284.7 445.4 285.6 440.3 286.4 437.8C287.1 435.3 287.8 434.1 288.5 433C289.2 431.9 289.9 431 290.7 430.9C291.4 430.8 292.3 431.8 293 432.5C293.7 433.2 294.3 434 295 435.2C295.7 436.4 296.3 438.1 297 439.5C297.7 440.9 298.3 442.9 299.4 443.9C300.5 444.9 302.4 446.3 303.7 445.6C305 444.9 306 440.8 307.1 439.5C308.2 438.2 309.7 437.4 310.6 437.8C311.5 438.2 311.9 440.4 312.5 442C313.1 443.6 313.4 445.5 314 447.3C314.6 449.1 315.4 451.1 316 453C316.6 454.9 317 457 317.5 458.5C318 460 318.4 461 319 462C319.6 463 319.9 464.2 321 464.6C322.1 465 323.9 465 325.3 464.6C326.7 464.2 328.1 463.1 329.6 462C331.1 460.9 333.6 458.4 334.4 457.7"/>
</g>
<g clip-path="url(#c5b)">
<path stroke="#00ba38" stroke-width="2.0" stroke-linecap="round"  d="M227.3 504.6h0M227.8 507.7h0M228.7 505.3h0M229.2 507.6h0M229.9 510.9h0M230.7 510.6h0M231.6 505.3h0M232 511.9h0M233.4 511.1h0M234 514.2h0M234.5 513.2h0M235.5 511.1h0M236.2 509.8h0M236.5 514.6h0M237.5 510.9h0M238.2 510.6h0M239.1 514.9h0M239.5 505.5h0M240.2 511.7h0M240.8 513.8h0M242 512.3h0M242.5 514.6h0M243.2 512.9h0M244 511.5h0M244.9 512.4h0M245.8 511.6h0M245.9 509.9h0M247.1 509.6h0M247.4 512.1h0M248.1 509h0M249 502.8h0M249.6 499.7h0M250.4 509.3h0M250.9 507.5h0M252.4 500.6h0M253 499.9h0M253.4 502.7h0M254.1 502.8h0M255.3 500h0M255.5 498.2h0M256 497.6h0M257.3 500.1h0M257.9 500.2h0M258.6 501.8h0M259 497.6h0M260.3 496h0M260.6 499.6h0M261.3 498.8h0M262.1 499.7h0M262.9 498.6h0M263.4 506.8h0M264.7 497.9h0M265.2 501.7h0M266.1 503.5h0M266.9 503.7h0M267.1 496.4h0M267.7 502h0M269 507h0M269.1 504.3h0M270.4 505.1h0M271.1 504.1h0M271.6 505.3h0M272.2 501.5h0M273.5 509.7h0M273.8 504.6h0M274.5 506.5h0M275.4 498.4h0M276.3 502.1h0M276.6 503.1h0M277.5 498.1h0M278.2 492.2h0M279.2 503.1h0M280 497.2h0M280.5 495.7h0M280.9 494.7h0M281.5 501.4h0M282.9 503.3h0M283.2 501.3h0M283.8 497.3h0M284.8 501.2h0M285.2 490.5h0M286.4 501.7h0M286.7 504.1h0M288 503.7h0M288.7 503.7h0M289.3 505.8h0M289.7 507.7h0M290.5 506.2h0M291.3 509.3h0M291.9 508.4h0M292.8 507.7h0M293.5 508.7h0M294.2 508.7h0M295.2 511.6h0M295.3 513.2h0M296.5 511.8h0M296.8 510.7h0M297.6 512h0M298.3 512.7h0M299.2 508.2h0M300.1 514.1h0M301 506.2h0M301.6 516.7h0M302 515h0M302.6 515.9h0M303.7 517.1h0M304.6 510.6h0M305.3 508.8h0M305.8 511.2h0M306.9 510.9h0M307.6 513.2h0M307.9 511.8h0M309.1 513.3h0M309.9 511.4h0M310.1 511.5h0M311.2 511h0M311.7 510.1h0M312.3 517h0M312.8 508.2h0M314.1 506.9h0M314.5 507.1h0M315 505.4h0M316.4 502.5h0M316.7 498.4h0M317.7 500.6h0M318.2 498.3h0M318.7 500.9h0M319.8 499.8h0M320.5 492.7h0M321.2 499.9h0M322.2 496.3h0M322.7 500.9h0M323.5 499.7h0M323.8 504.5h0M325.1 499.3h0M325.5 502.8h0M325.9 497.9h0M326.9 501.3h0M327.4 502.2h0M328.2 504.7h0M328.9 507h0M330.1 506h0M330.8 514.1h0M331.3 512.2h0M331.9 513.2h0M333 518.3h0M333.2 519h0M281.8 489.5h0M282.5 486.5h0M281 488.6h0M281.7 489.1h0M281.6 487.5h0M322.9 482.6h0M324.3 483.4h0M323.5 484.5h0M323.6 484.5h0M256.8 493.1h0M255.4 491.1h0M256.7 494.7h0M255.1 492.8h0M238.9 511.8h0M240.5 510.9h0M239.9 509.4h0M286.9 511.2h0M287.2 513.5h0"/>
<path stroke="#619cff" stroke-width="2.0" stroke-linecap="round"  d="M227.3 499.5h0M227.7 504.7h0M228.5 508.7h0M229.1 507.8h0M230.3 506.6h0M230.9 509.1h0M231.5 505.8h0M232.6 505h0M233.1 511.1h0M234.1 510.1h0M234.2 510.3h0M235.5 507.6h0M236.1 506h0M236.4 508.6h0M237.2 507.2h0M238.3 509.6h0M239 500.6h0M239.4 508.1h0M240.7 509.4h0M241.3 506.3h0M241.8 504.5h0M242.7 508.8h0M243.2 507.9h0M244 506.4h0M244.9 508.6h0M245.2 507.9h0M245.9 506.2h0M247.2 496.8h0M248 505.9h0M248.5 501.8h0M249.2 496.5h0M249.9 501.5h0M250.3 505.6h0M251.6 502.9h0M252 499.2h0M252.6 500.4h0M253.4 492.6h0M253.9 498.9h0M254.9 494.3h0M256 492.9h0M256.7 492.1h0M257.3 490.6h0M258 491.5h0M258.3 490.2h0M259.1 490.8h0M260.1 491.1h0M260.7 492.9h0M261.7 495.6h0M262 494.2h0M263.1 490.1h0M263.7 491.6h0M264.3 497h0M264.8 498.4h0M265.9 490.5h0M266.9 500.9h0M267.1 498.6h0M268.1 506.1h0M268.4 497.3h0M269.3 494.6h0M269.9 502.1h0M270.9 508.4h0M271.7 503.5h0M272.7 502.2h0M273.2 497.5h0M273.6 499.8h0M274.4 498h0M275.1 502.8h0M276 500.3h0M276.6 497.8h0M277.6 495.6h0M277.9 483.9h0M279.1 491.9h0M279.7 493.1h0M280.2 494.6h0M281.1 490.8h0M282.2 494.9h0M282.3 496.3h0M283.2 495.1h0M284.2 496.2h0M284.6 495.8h0M285.5 493h0M286.3 500.2h0M287.2 494.9h0M287.7 501.6h0M288.3 501.7h0M289.3 495.8h0M289.9 500.5h0M290.8 495.2h0M291.4 506.9h0M292 509h0M292.5 509.1h0M293.4 509.8h0M294.4 511h0M294.8 509.7h0M295.6 513h0M296.2 512.3h0M296.9 508h0M297.6 512.9h0M298.4 507h0M299.5 516.5h0M300 517h0M300.8 515.8h0M301.4 517.1h0M302.4 517.9h0M302.8 513.1h0M303.4 516.9h0M304.6 514.7h0M305.1 515.4h0M305.9 517h0M306.8 517.5h0M307.2 504.9h0M308.1 513.7h0M308.7 515h0M309.6 508.3h0M310.2 514.4h0M310.9 512.8h0M311.7 513.7h0M312.1 507.6h0M313.2 505.8h0M313.6 505.9h0M314.4 505.7h0M315 505h0M315.7 501.4h0M316.7 502.2h0M317.8 498.9h0M318.4 496.3h0M318.9 490.7h0M319.9 497.5h0M320.1 497.4h0M321.1 490.6h0M322 493.6h0M322.6 497.3h0M323.5 492.2h0M324.3 498h0M324.5 496h0M325.9 499.1h0M326.5 499.2h0M327.2 502h0M327.5 498.4h0M328.3 498.2h0M328.9 505.4h0M329.8 508h0M330.3 502.9h0M331.5 509.6h0M332 506.9h0M333 520.3h0M333.7 521h0M255.8 478.2h0M255.5 476.6h0M256 481h0M254.7 482.6h0M255.9 475.6h0M254.8 476.6h0M255.2 477.3h0M281.8 478.1h0M281.2 478.8h0M281.1 477.2h0M281.1 475.6h0M280.7 473.2h0M233 516.7h0M232 515.9h0M231.9 517.3h0M234.1 517.7h0M233 515.2h0M322.9 485.7h0M322 486.6h0M323.9 486.1h0M323.9 489.4h0M285.4 516.4h0M285.7 517.9h0M285.9 514.7h0M243.2 502.7h0M242.3 501.2h0M245.8 502.6h0M244.5 502.3h0M262.5 491.6h0M263.2 493.5h0M263.6 491.7h0"/>
<path fill="none" stroke="#00ba38" stroke-width="1" d="M226.4 503.9C227.2 505.2 229.4 509.9 231.1 511.6C232.8 513.3 234.6 514.1 236.3 514.2C238 514.4 239.8 513.2 241.5 512.5C243.2 511.8 244.9 510.8 246.6 509.9C248.3 509 250.4 508.9 251.8 507.3C253.2 505.7 254 502 255.3 500.4C256.6 498.8 258.2 497.8 259.6 497.8C261 497.8 262.3 499.2 263.9 500.4C265.5 501.5 267.4 504 269.1 504.7C270.8 505.4 272.6 505.1 274.3 504.7C276 504.3 277.8 502.8 279.4 502.1C281 501.4 282.2 500.1 283.8 500.4C285.4 500.7 287.3 502.2 289 503.9C290.7 505.6 292.3 508.9 294.2 510.8C296.1 512.7 298.2 514.5 300.2 515.1C302.2 515.7 304.3 514.9 306.3 514.2C308.3 513.5 310.6 512.7 312.3 510.8C314 508.9 315 505.2 316.6 503C318.2 500.8 320.1 497.8 321.8 497.8C323.5 497.8 325.3 500.4 327 503C328.7 505.6 331 509.9 332.2 513.4C333.4 516.9 334 522 334.4 523.7"/>
<path fill="none" stroke="#619cff" stroke-width="1" d="M226.4 501.3C227 502.4 228.8 506.5 230.2 508.2C231.5 509.9 232.9 511.2 234.5 511.6C236.1 512 238 511.5 239.7 510.8C241.4 510.1 243.2 508.5 244.9 507.3C246.6 506.1 248.5 505.8 250.1 503.9C251.7 502 253.1 498.6 254.4 496.1C255.7 493.7 256.6 489.6 257.9 489.2C259.2 488.8 260.8 491.8 262.2 493.5C263.6 495.2 265.1 497.6 266.5 499.5C267.9 501.4 269.4 504.6 270.8 504.7C272.2 504.8 273.9 501.9 275.2 500C276.5 498.1 277.6 494.7 278.6 493.5C279.6 492.3 280.3 492.7 281 493C281.7 493.3 281.9 493.8 283 495.2C284.1 496.6 285.7 499.1 287.3 501.3C288.9 503.5 290.8 506 292.5 508.2C294.2 510.4 295.9 512.8 297.6 514.2C299.3 515.6 301.2 516.6 302.8 516.8C304.4 516.9 305.7 515.8 307.1 515.1C308.6 514.4 310.1 514.8 311.5 512.5C312.9 510.2 314.4 504 315.8 501.3C317.2 498.6 319 497.2 320.1 496.1C321.2 495 321.6 493.5 322.7 494.4C323.8 495.3 325.6 498.6 327 501.3C328.4 504 330.1 506.8 331.3 510.8C332.5 514.8 333.9 523 334.4 525.4"/>
</g>
<path stroke="#f53c46" stroke-width="1.3" d="M286 409.4V529.2"/>
<rect x="226.4" y="409.4" width="108" height="119.8" fill="none" stroke="#8c8c8c" stroke-width="1"/>
<path stroke="#6a6a6a" stroke-width="1.4" d="M226.4 470H334.4"/>
<text x="223.8" y="429.5" font-size="4.15" text-anchor="end" fill="#555">0.2</text>
<text x="223.8" y="448.8" font-size="4.15" text-anchor="end" fill="#555">0.1</text>
<text x="223.8" y="468.3" font-size="4.15" text-anchor="end" fill="#555">0.0</text>
<text x="223.8" y="478.9" font-size="4.15" text-anchor="end" fill="#555">0.004</text>
<text x="223.8" y="489.5" font-size="4.15" text-anchor="end" fill="#555">0.003</text>
<text x="223.8" y="500.2" font-size="4.15" text-anchor="end" fill="#555">0.002</text>
<text x="223.8" y="510.5" font-size="4.15" text-anchor="end" fill="#555">0.001</text>
<text x="223.8" y="521.4" font-size="4.15" text-anchor="end" fill="#555">0.000</text>
<text x="226.8" y="534.5" font-size="4.3" text-anchor="middle" fill="#555">26.5</text>
<text x="248.9" y="534.5" font-size="4.3" text-anchor="middle" fill="#555">27.0</text>
<text x="270.5" y="534.5" font-size="4.3" text-anchor="middle" fill="#555">27.5</text>
<text x="292" y="534.5" font-size="4.3" text-anchor="middle" fill="#555">28.0</text>
<text x="312.3" y="534.5" font-size="4.3" text-anchor="middle" fill="#555">28.5</text>
<text x="332.2" y="534.5" font-size="4.3" text-anchor="middle" fill="#555">29.0</text>
<path stroke="#888" stroke-width="0.6" d="M224.9 428H226.4M224.9 447.3H226.4M224.9 466.8H226.4M224.9 477.4H226.4M224.9 488H226.4M224.9 498.7H226.4M224.9 509H226.4M224.9 519.9H226.4M226.8 529.2V530.7M248.9 529.2V530.7M270.5 529.2V530.7M292 529.2V530.7M312.3 529.2V530.7M332.2 529.2V530.7"/>
<text transform="translate(209.6 446.2) rotate(-90)" font-size="5.6" font-weight="bold" font-style="italic" fill="#111">F<tspan font-size="3.8" dy="1.2">ST</tspan></text>
<text transform="translate(209.3 500) rotate(-90)" font-size="5.6" font-weight="bold" text-anchor="middle" fill="#111">π</text>
<text x="280.3" y="544.3" font-size="6" font-weight="bold" text-anchor="middle" fill="#111" stroke="#111" stroke-width="0.15">Chr.11 (Mb)</text>
<path stroke="#f86c66" stroke-width="1" stroke-opacity="0.6" d="M338.6 416.2h4.4"/>
<path stroke="#00ba38" stroke-width="1" d="M338.6 421.5h4.4"/>
<path stroke="#619cff" stroke-width="1" d="M338.6 426.7h4.4"/>
<text x="344.9" y="417.6" font-size="4" font-style="italic" fill="#000">F<tspan font-size="2.8" dy="0.9">ST</tspan></text>
<text x="344.9" y="422.9" font-size="4" fill="#000">π<tspan font-size="2.8" dy="0.9">VSDT</tspan></text>
<text x="344.9" y="428.1" font-size="4" fill="#000">π<tspan font-size="2.8" dy="0.9">NOR</tspan></text>
<path stroke="#333" stroke-width="1.3" stroke-linecap="round" stroke-opacity="0.85" d="M68.3 313.6h0M69.4 314.4h0M70.4 311.9h0M70.6 310.3h0M69.3 313h0M69.8 369.4h0M69.6 370.6h0"/>
</svg></body></html>
